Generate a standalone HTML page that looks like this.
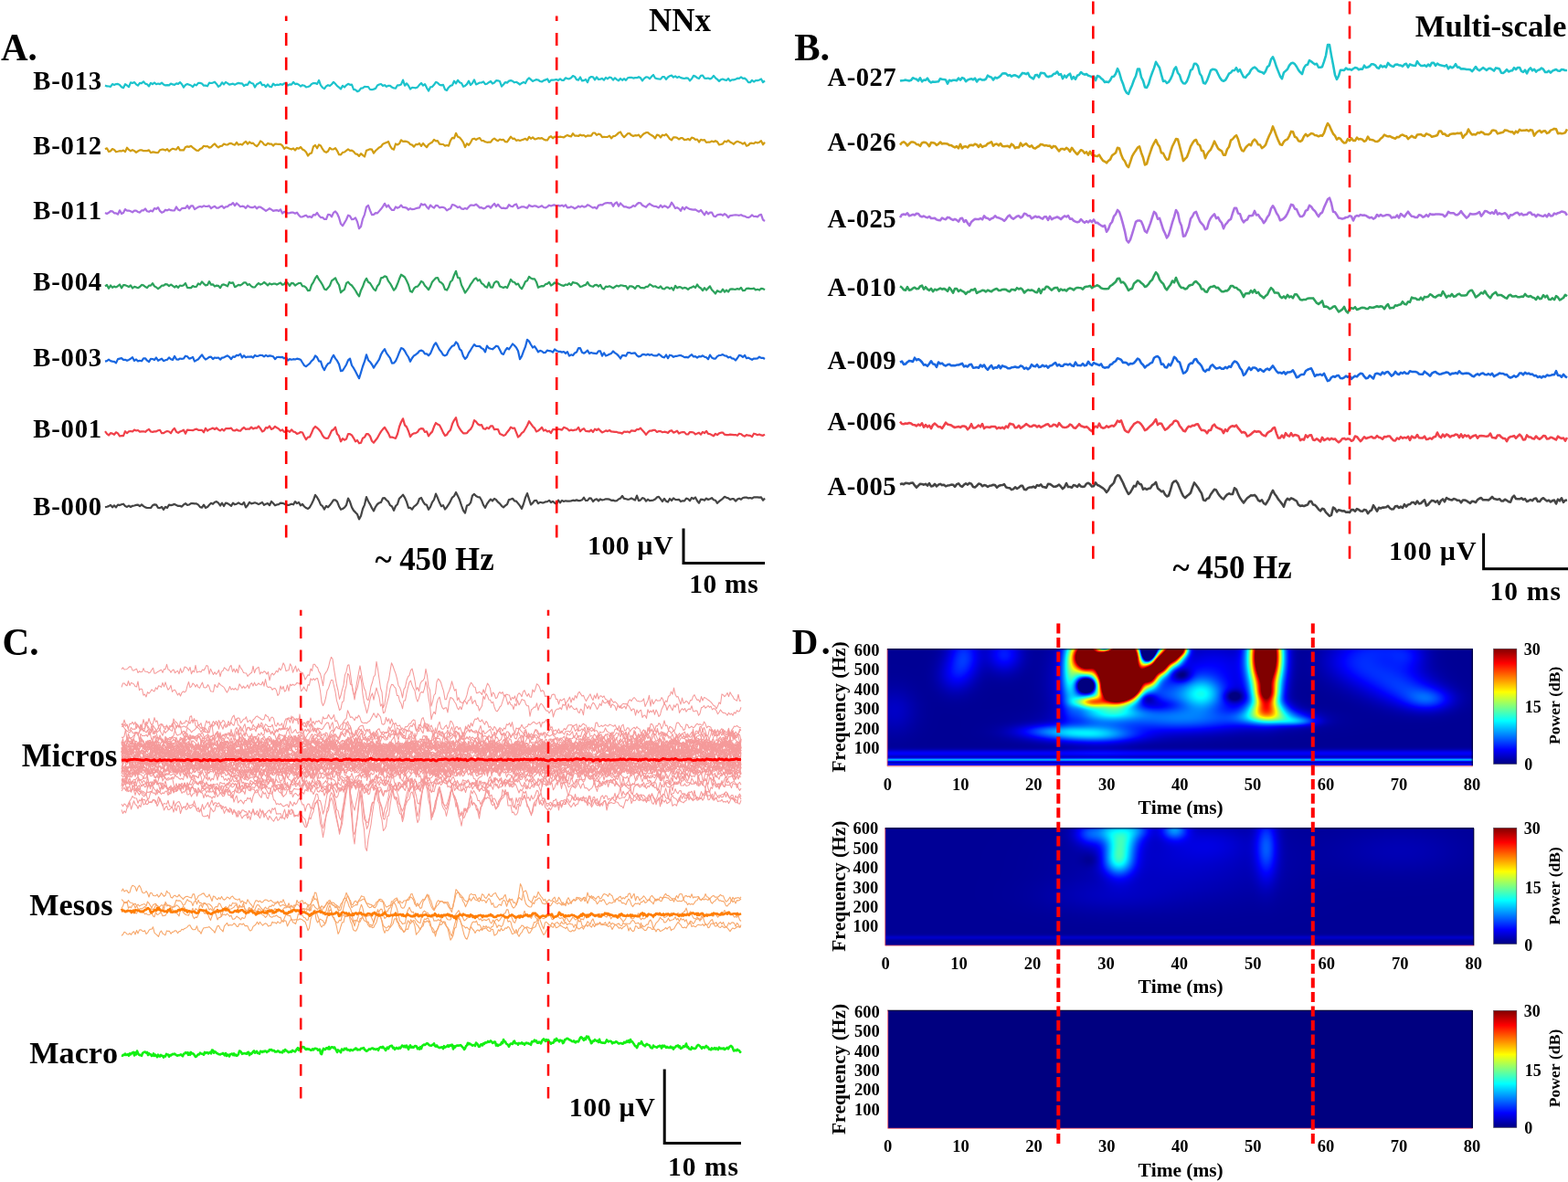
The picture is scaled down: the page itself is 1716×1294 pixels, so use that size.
<!DOCTYPE html>
<html><head><meta charset="utf-8"><title>Figure</title>
<style>
html,body{margin:0;padding:0;background:#fff;}
body{width:1716px;height:1294px;position:relative;overflow:hidden;}
canvas{position:absolute;background:#00008a;z-index:0;}
svg{position:absolute;left:0;top:0;z-index:1;}
svg text{font-family:'Liberation Serif','Times New Roman',serif;font-weight:bold;fill:#000;font-kerning:none;}
</style></head><body>
<canvas id="s0" width="641" height="128" style="left:970.9px;top:710.3px;width:640.8px;height:128.2px"></canvas>
<canvas id="s1" width="645" height="128" style="left:968.5px;top:906.4px;width:644.9px;height:128.4px"></canvas>
<canvas id="s2" width="640" height="129" style="left:971.5px;top:1105.7px;width:640.2px;height:129.3px"></canvas>
<svg width="1716" height="1294" viewBox="0 0 1716 1294">
<path d="M115 93.6l2 .8 2 .1 2 .4 2-2.8 2 .8 2-.8 2-.2 2 1.1 2 2.2 2 1 2-4 2 1.3 2 1.7 2-4.9 2 .7 2-.9 2 2.2 2 1.3 2-2.8 2 .3 2-1.8 2 2.3 2 .7 2 2.1 2-3.6 2 1.4 2-1.7 2 1.7 2-.7 2 .6 2-1.5 2 1.9 2 .9 2-.3 2 .3 2-1.9 2 .9 2 .4 2-1.4 2 .5 2-1.8 2 2.2 2 3.3 2-2.7 2-1 2 .8 2 .8 2 1.6 2-2.7 2 1 2-2.5 2 0 2 .6 2 2.2 2-.1 2 .7 2-3.6 2 .3 2-.4 2-.9 2 2.2 2 2.9 2-1.2 2-3.3 2 2.1 2-2.5 2 1.2 2 1.5 2-.5 2-.4 2 1 2-1.1 2-.7 2 .4 2 0 2 2.7 2-1.4 2 .2 2-3.4 2 1.6 2 .5 2 4 2-3.3 2-.9 2-1.4 2 3.4 2-.5 2 2.4 2-2.8 2 2.3 2 .5 2-3.6 2 1.8 2-.7 2 .3 2-.9 2 .7 2-1.5 2-.2 2 2.4 2-1.1 2 .2 2-2.8 2 2.3 2-.5 2 1.1 2 1.8 2-1.3 2 .5 2 1.6 2-.3 2-.8 2-2.2 2-.9 2 0 2 .8 2-3.9 2 5.4 2 2.4 2 1.3 2-2.7 2-1.2 2 .8 2-1.8 2-2.4 2 2 2 2.3 2 1.5 2 1.8 2-3.6 2 1.7 2-2.2 2-1.5 2 1 2-.1 2 5.2 2 .4 2 1.8 2-.7 2-2.8 2-.2 2-1.5 2 .1 2 .1 2 2.9 2 .2 2-.6 2-.7 2-3.4 2-1 2-.5 2 1.9 2-.7 2 1.7 2-1.1 2 .1 2 1.7 2 .9 2 .1 2-3.3 2 0 2-.9 2-4.8 2 6.1 2-2.4 2 2.5 2 3.7 2-1.7 2 .2 2 .3 2-.9 2-2.5 2-1.9 2 2.7 2-1.6 2 4 2 3.4 2-4.1 2-.4 2-2.2 2-3 2 .9 2 2 2 .7 2-.5 2 5 2 1 2-3.2 2-1.8 2-.6 2-4.6 2 2.7 2-3.6 2 2.5 2 .7 2 3.8 2-.9 2-1.8 2-3.5 2 4.4 2-2 2-3.6 2 5 2-.9 2-1 2 0 2-1.1 2 2.8 2-.5 2-1.5 2-1.2 2 2.5 2-1 2-2.3 2 .1 2 .8 2 5.5 2-2.1 2-2.5 2 .6 2-2 2-.5 2 .7 2 1.5 2-.5 2 1.2 2 1.5 2-1.6 2-1 2 1.2 2-3.9 2-1.8 2 1.7 2 1.9 2-1.1 2-.8 2 .4 2 1.5 2 .5 2-1.4 2-.7 2-1 2 3.5 2-2.2 2-.1 2-.2 2-.4 2 .9 2-1.5 2 1.5 2-.1 2-2.5 2 .8 2 .2 2-1 2-2.2 2 .8 2 3.2 2 .5 2-3.1 2 4 2-.4 2-1.2 2 3.3 2-5 2-1.2 2 .3 2 3 2-3 2 2.7 2-.4 2-.7 2 1.8 2-2.8 2 1.4 2-1.8 2 .6 2 2.5 2-2.3 2 1.8 2 1.2 2-2.3 2 1.8 2-1.6 2 1.7 2-2.6 2-.5 2 0 2 .8 2-.5 2 .1 2-1 2 1.1 2 3.1 2-2.5 2-1.6 2 .2 2 1.8 2-2.4 2-1.9 2 3.5 2 .6 2 .4 2 .1 2-2.5 2 .1 2 2.7 2-2.4 2-1.3 2-.7 2 2.2 2-1.3 2 1.5 2-1 2 1.3 2 .4 2 .4 2-.6 2 .2 2 2.7 2-2.1 2-3.3 2 .7 2 1.6 2 .8 2-3.1 2-.4 2 3.2 2 .2 2-.4 2 .9 2-1 2-2.5 2 2.4 2 1.6 2 2 2-1.8 2-.6 2 .9 2 .6 2-2 2 2.7 2-1.3 2 0 2-.7 2-1 2 .1 2-1.4 2 1.5 2-.2 2 1.7 2 2.7 2 .1 2-2.4 2 1.7 2-1.3 2 0 2-.8 2-.9 2 3.6 2-1.7" stroke="#1cc3cc" stroke-width="2.2" fill="none" stroke-linejoin="round"/>
<text x="111.2" y="98.2" font-size="28.7" text-anchor="end" textLength="75" lengthAdjust="spacing">B-013</text>
<path d="M115 163.3l2-1 2 3.7 2-.6 2-2.4 2 .9 2 2.4 2-.5 2-.6 2 .3 2-.9 2 1.5 2-4.4 2 2.2 2 1.4 2-1.2 2 1.1 2 1.7 2-1.4 2-1.1 2-.1 2 .9 2-.1 2 0 2-.7 2 2.8 2-.8 2 .3 2 .4 2 0 2-2.8 2-.6 2 0 2 .9 2-1.5 2 2.6 2-1.8 2-1.1 2 .5 2 .3 2-2.7 2 3.6 2-.2 2 .1 2-3.4 2-.6 2 .4 2-1 2 1.8 2 1.5 2 1.6 2 .3 2-1.9 2-.9 2-2.4 2 .5 2-.3 2 1.6 2-.5 2-2.2 2-1.5 2 2.4 2 1.6 2-1.4 2-.3 2-2.1 2 .7 2 .2 2-1.3 2-.3 2 1.1 2 .7 2-2.7 2 2.6 2-.8 2 .8 2-2.2 2-1.5 2 2.8 2-2.2 2 1.3 2-.2 2 2.3 2 1.3 2-2.1 2-3.7 2 1.2 2 2.6 2 .8 2-2.1 2 .7 2-.1 2 2.1 2-2.1 2 .2 2 .1 2 0 2 1.6 2 3.4 2-1.5 2 .6 2 .9 2 .7 2-1.1 2 2.1 2-2.5 2 .7 2-1.7 2 2.5 2 1 2 2 2 4 2-2.3 2-.7 2-7.2 2-1.3 2 3.3 2-3.8 2 1 2 3.7 2 2.6 2 1.1 2-1.4 2-3.6 2 1.6 2-.1 2-1.2 2 2.9 2 4.1 2 .2 2-2.6 2-.3 2-1.6 2-1.5 2 1.4 2-.1 2 1.3 2 2.4 2 .5 2 2 2-2.8 2 1.8 2 1.6 2-6.8 2-.6 2-.8 2 .4 2 4 2-2.7 2-1.8 2-1.8 2-.9 2-2.8 2-.9 2-.9 2-.9 2 4.9 2 2.9 2 .9 2-6.2 2 1 2-1.3 2-3.9 2 1.5 2-.1 2 .2 2 .9 2 2.2 2 .6 2 2 2-2.4 2 0 2-1.2 2 2.9 2-2.9 2 2.2 2 2.1 2-3.2 2-1.3 2-1.1 2-2.8 2 1.5 2-.2 2 3.4 2 .3 2 .1 2 1.6 2-.6 2 .6 2-5.8 2-2.9 2 .5 2-5.6 2 4 2 .7 2 2.4 2 2.9 2 5.3 2-3.9 2 1.6 2-2.7 2-3.9 2-.5 2 1.3 2-1.3 2-.7 2 3 2 0 2 1.3 2 .5 2-.1 2 0 2-2.8 2-1.3 2 1.6 2 1.1 2-1.8 2 .7 2-.3 2 2.3 2 .1 2-2.8 2-2.9 2 2.3 2-.3 2 2.3 2-.6 2 .7 2-.7 2-.7 2-.8 2 1.6 2-3.6 2 2 2-1.4 2 1.9 2-.2 2-.9 2 .4 2-.4 2 1.4 2 .8 2 .1 2-3.2 2-1.1 2 2.1 2-1.7 2 .4 2 0 2-.3 2 .3 2 .4 2-1.4 2-1.1 2 1 2 .5 2-3.3 2 2.5 2-.1 2 .5 2-1.5 2 .9 2-.4 2 1.6 2-1.3 2 .4 2-.1 2-3.1 2 0 2 2.4 2-1.3 2 .6 2 3 2-.3 2 .1 2-.1 2-1.3 2 2.8 2-2.2 2-.3 2-1.5 2-2 2-1 2 3.7 2 2.1 2-2 2-2 2-.1 2 2 2 1 2-.9 2 .2 2-.8 2 2.8 2-2.5 2-1.7 2-1 2-.2 2 1.9 2 1.1 2 1.2 2 2.2 2-3.8 2 .5 2 2.4 2-2.8 2 .6 2-1.3 2 2.3 2 2.8 2 1.2 2-2.9 2-.1 2 .6 2 1.6 2-1.3 2 0 2 1.9 2-.2 2-.9 2 1.4 2-2.8 2 .6 2 1.6 2-.3 2 3 2-2.6 2 .6 2-.4 2 2.9 2-.5 2 .1 2-1.1 2 .8 2-1.1 2 1.1 2 3.1 2-.4 2-.6 2-2.9 2 .8 2-1.6 2 1.7 2 1 2 1.4 2-2 2-1 2 .8 2 .7 2 1.4 2-1.5 2 3.5 2-.8 2-2 2-.2 2 .5 2-1.5 2 .8 2-.8 2-1.6 2 4.2 2-2.5" stroke="#d19d12" stroke-width="2.2" fill="none" stroke-linejoin="round"/>
<text x="111.2" y="169" font-size="28.7" text-anchor="end" textLength="75" lengthAdjust="spacing">B-012</text>
<path d="M115 233l2 1 2-1.2 2-1.6 2 .1 2 2 2 0 2 1.4 2-4.4 2 3.6 2-.9 2-3.9 2 1.5 2-.1 2 .7 2 1.2 2-1.7 2 0 2 1.3 2 .6 2-2.2 2 0 2-1.9 2 2.8 2 .5 2-1.3 2 .9 2-3.3 2 .7 2-1.7 2 3.8 2 1.9 2-.8 2-2.3 2 .7 2-1.1 2 .9 2 .3 2-.2 2-3.8 2 3.1 2 .8 2-2.3 2-.3 2 .1 2-2.8 2 3.2 2-3 2 0 2 3.8 2-1.2 2-1.3 2-.6 2 .6 2-1.3 2 .7 2-.1 2-.6 2 2.8 2-1.4 2-.9 2 1.9 2 0 2-1.4 2-.9 2 2.5 2-1.6 2-.2 2-1.7 2-.5 2-1.8 2 3.1 2-2.7 2 1.8 2 2 2-.6 2 .4 2 1.7 2-2.7 2 1.4 2 .6 2 0 2-1.2 2 2.5 2-1.9 2 .2 2 1.3 2 1.4 2 1.5 2-1.3 2-1.4 2 1.2 2 1.5 2-.5 2-.3 2 1 2-1.8 2 4.3 2-1.8 2 1.1 2 .5 2-.3 2-.4 2 0 2 1 2-1 2 2.8 2 2 2-.2 2-.9 2-.7 2 1.9 2-.5 2 .9 2-2.8 2 .3 2-2.6 2 3.1 2 2.1 2-.1 2 1.9 2 .1 2-5.2 2 .2 2 2.3 2-4.4 2-1.4 2 2.3 2 4.5 2 6.8 2 2.1 2-3.3 2-3.4 2-4.8 2 .9 2 3.5 2-.3 2-1.4 2 4.3 2 7.5 2-2.1 2-8.5 2-4.8 2-8.2 2-1.8 2 5.5 2 4.9 2-.3 2-1.7 2 .2 2-2.3 2-2.3 2-2.7 2-3.3 2 3.8 2-2 2 3.2 2 2.2 2 0 2-3.5 2 1.2 2-1 2-2.1 2 2.4 2 .1 2 .5 2 2 2-1.4 2 1 2-.2 2-.8 2-.6 2-.3 2-4.1 2 1.3 2-.9 2 2.8 2 2.2 2-4 2 1.8 2 1.2 2-2.8 2 .3 2 2.3 2-.5 2 0 2 .9 2 2.6 2-1.3 2-.8 2-4.3 2 .5 2 1.1 2 1.6 2-.9 2 2.1 2 .6 2-1.1 2 .9 2-2.2 2-2.1 2 .2 2 .1 2-1.1 2 1.7 2 2 2-.2 2 1.2 2-.7 2-1.8 2-.3 2 2 2-2.6 2-2.1 2 3.2 2-2.3 2 2.4 2 1.8 2-.4 2 .6 2-.6 2-3.5 2 1.6 2 .5 2-2 2-.8 2 4.7 2-.8 2-1 2 0 2 .8 2 .5 2-3.1 2 1.2 2 .4 2-.8 2 .4 2 1.2 2-.7 2-1 2 1.8 2 .5 2-1.1 2-1.7 2 .8 2-.8 2-.3 2 1.2 2-.7 2 .7 2-.9 2 1.3 2-1.7 2 3 2-.1 2-1 2 .8 2 1.3 2-1 2-1.6 2 1 2-1.3 2 1.2 2-.4 2-2 2 .9 2 1.3 2 1.2 2-.8 2 1.6 2-3.5 2-.7 2 .3 2-1.4 2-.8 2-.3 2 .4 2-.3 2 3.7 2-3.1 2-1.2 2 4.2 2-3.2 2 2 2 1.9 2-.1 2 .9 2 .4 2-.9 2-1.6 2 .8 2-2.4 2-1.5 2 .3 2 2.4 2 1.1 2 1 2-2.4 2-1.4 2 1.6 2 1 2 .2 2 .6 2 1 2-2.7 2 2.3 2-1.6 2 .7 2 1.4 2-1.7 2-4.1 2 2.9 2 3.4 2-.8 2 1.2 2 2.4 2-4 2 2.6 2-2.7 2 1.4 2 .8 2 .4 2 .4 2-.4 2 1.4 2 1.1 2-1.8 2 2.7 2 2.6 2-3.6 2 2.6 2-1.6 2-.2 2 3.9 2 .8 2-1.9 2-.4 2-.3 2 1.2 2-1.6 2 1.3 2 2.6 2-2 2-.3 2-.3 2-.2 2 .2 2 .3 2-.6 2 1.1 2 .3 2 1.1 2 .5 2-.9 2-1.9 2 1.6 2-.1 2 .5 2-1.9 2-.7 2 5.8 2 1.4" stroke="#ab6fe2" stroke-width="2.2" fill="none" stroke-linejoin="round"/>
<text x="111.2" y="240" font-size="28.7" text-anchor="end" textLength="75" lengthAdjust="spacing">B-011</text>
<path d="M115 313.3l2-1.4 2 3.8 2-3.2 2 2.3 2-1.3 2 .9 2-1.2 2-1.7 2 3.8 2-3.2 2 .1 2 .8 2 1.1 2-1.7 2 3.1 2-1.6 2 .5 2 .8 2-1.2 2-2.1 2 .4 2 1.7 2 1.1 2-2.5 2 .1 2-2.6 2 3.3 2 1.1 2 1.6 2-1.5 2-1.9 2 0 2-1.6 2 .3 2 1.7 2-1.6 2 1.3 2 1.7 2-1.5 2 1.9 2-2.4 2 .5 2-.7 2-2.2 2 4.8 2 .3 2-.1 2-2 2 .9 2-.2 2-3.4 2 1.1 2-3.1 2 2.2 2 1.7 2-.4 2-3.8 2 3.6 2-.4 2 2.3 2-1 2 .2 2 2.4 2-3.3 2-.5 2 .9 2 1.1 2-4.4 2 .9 2-.6 2 4.9 2-1 2-1.3 2 .5 2-1.3 2-1.8 2 0 2 2.8 2-1 2 2.3 2 1.1 2-.1 2-2.5 2-1.9 2 1.6 2-.8 2-1.8 2 1.5 2 1.9 2-2.1 2 1.1 2-.7 2-.2 2 1.1 2-1 2-1 2 2.2 2-.7 2-2.7 2 1.7 2 2.7 2-3 2 .4 2 2.3 2-1.4 2-1.1 2-.2 2 3.4 2 .2 2 1.5 2 3.2 2-.1 2-6.2 2-3 2-4.2 2-2.6 2 3.9 2 2.7 2 3.4 2 4.4 2 .9 2-2.2 2-2.5 2-5.2 2-1.5 2-1.6 2 4.6 2 3.1 2 8.3 2-2 2-1.5 2-6.6 2-1.5 2 2.4 2 1.4 2 2.6 2 2.9 2 3.6 2 2.7 2-6.4 2-4.1 2-5.6 2-3.4 2 4 2 1.2 2 3.3 2 3.2 2 1.6 2-4.9 2-2.4 2-6.4 2-.5 2-1.5 2 .7 2 4.6 2 2.6 2 3.6 2 3.8 2-2.2 2-4.7 2-5.5 2-4.6 2 1.3 2 1.5 2 3.8 2 4.4 2 7.1 2 1 2-3.9 2-1.9 2-.4 2-2.3 2-3.4 2 1.3 2 3.6 2 1.9 2 2.5 2-3.6 2-4.9 2-2.3 2-2.1 2-.3 2 4.4 2 1.1 2 2.1 2 5.2 2 .8 2-3.4 2-5.7 2-1.8 2-5.5 2-4.4 2 7.2 2 .3 2 7.7 2 4 2 4.6 2-2.7 2-2.9 2-3.6 2-2.8 2-2.9 2-1.4 2 3 2-1.1 2 3.9 2 1.3 2 2.4 2 .9 2-5.2 2 5.2 2 0 2-5.1 2-1.5 2 .7 2 4.7 2 .7 2 .8 2-1.1 2 1.3 2-4.4 2-4.9 2 2.6 2 .5 2 2.5 2-.9 2 3.7 2 1.9 2-3.5 2-4.4 2-1 2-4.4 2 1.7 2 .8 2-.1 2 3.4 2 6.1 2-1 2-.7 2 .3 2-2.3 2-.5 2-1.7 2 3.6 2-1.1 2-2 2 1.4 2-.5 2 1.3 2 .8 2 .5 2-1.4 2 .4 2-1.7 2 1.9 2-3.2 2 .8 2 .3 2 1.5 2 2.5 2-.5 2-1.1 2-.5 2-3 2 3.4 2 1 2 .5 2-1.6 2-.4 2 1.8 2-1.8 2 3.7 2 1 2-2.9 2 .4 2-.8 2 1 2 1.2 2-1.4 2-1.3 2 .9 2-1.3 2 .2 2 .6 2-.1 2 3.5 2-3.1 2 0 2 .7 2 1.9 2-2.9 2-.1 2 2.1 2 0 2 .3 2-1.5 2 0 2-2.6 2 1.1 2 1.4 2-.5 2 1.2 2 .7 2-1.8 2 2.6 2 .5 2-1.8 2-.1 2 1.5 2-1.2 2 2.8 2-4.9 2 2.5 2-1.1 2 .2 2 1.4 2-.9 2 .4 2 1.6 2-1.7 2-.6 2-1.3 2 1.7 2-3.5 2 2.8 2 1.2 2 2.6 2-3 2 2.5 2-2.2 2-2 2 3.9 2 2 2 2.2 2-3.4 2 1.2 2 .3 2-2.9 2 2.9 2-2 2 1.9 2-2.8 2-.4 2 .4 2 .1 2-.7 2 .6 2-1.8 2 3.2 2-.2 2-2.1 2-.2 2 .5 2 .1 2-.6 2 1.8 2-.6 2 .8 2-1.8 2 .3 2 1.1" stroke="#2ca25c" stroke-width="2.2" fill="none" stroke-linejoin="round"/>
<text x="111.2" y="317.6" font-size="28.7" text-anchor="end" textLength="75" lengthAdjust="spacing">B-004</text>
<path d="M115 395.6l2-.5 2-1.4 2 1.4 2 .5 2 .3 2 1.5 2-4.3 2-.5 2-.5 2 1.8 2-.1 2 1 2-.9 2-1.2 2-1.5 2 3.7 2-1.4 2 1.9 2-.6 2 .5 2-3 2 0 2 2.4 2 1.4 2-3.2 2 .1 2 1 2-2.5 2 3.3 2-1.1 2-1.1 2 2.6 2-.9 2-.6 2-2.3 2 1.8 2 .7 2-4 2 3.4 2 .4 2-1.2 2 .3 2-.3 2-2.8 2 .6 2 2.3 2-.5 2-1.2 2 4.7 2-1.2 2-1.2 2-2.4 2-2.4 2 3 2 2.1 2-1.1 2-1.6 2-.1 2 2.3 2-1.5 2 .3 2-.3 2 2.1 2-2 2-.3 2-1 2-1 2 1.5 2 2.4 2-2.8 2 .4 2-2 2 .4 2-1.7 2 3.9 2-2.2 2 2.1 2-.8 2 .1 2-.3 2 1.2 2-2.5 2 1 2-.4 2-.8 2 .2 2 1.4 2-1.6 2 1.3 2-.7 2 .3 2 .6 2 2.9 2-2.2 2-.1 2 .2 2-.3 2 1.6 2-1.3 2 3.4 2-1.4 2 .6 2-.5 2 .3 2-.8 2 .4 2 .6 2 3.3 2 3.1 2 1.1 2-1.7 2-1.6 2-2.7 2-1.8 2-4 2 1.7 2 4.2 2 .4 2 6.1 2 3.3 2-4.2 2-2.8 2-.8 2-5 2-3.5 2 3.6 2 2.5 2 3.9 2 7.4 2-.6 2-3.1 2-3.3 2-4.8 2-1.8 2 7.4 2 2.9 2 3.7 2 3.8 2 3.8 2-6.5 2-6.7 2-5.3 2-7.4 2 5.9 2 2 2 2.8 2 3.6 2-3.3 2-2.8 2-3.1 2-5.4 2-3.4 2-2.4 2 4.4 2 2.7 2 2.8 2 5.6 2-.2 2-2.2 2-4.4 2-5.2 2-4.6 2 .6 2 2.5 2 3.8 2 3 2 4.8 2-3.8 2-2.6 2-1.2 2-1.5 2-2.4 2-.7 2 .8 2 2.9 2 .1 2 1.9 2-2.2 2-4.8 2-4.6 2-2.4 2 3.7 2 3.9 2 2.4 2 3.3 2 .8 2-1.1 2-4.4 2-2.8 2-2.4 2-.6 2-3.6 2 2.1 2 5.6 2 1.7 2 6 2 3 2-2 2-4.5 2-3.1 2-3.3 2-2.9 2 1.7 2 .2 2 .1 2 2 2 1.1 2 3.2 2-6.8 2 2.5 2 .7 2 .5 2-1.7 2-1.9 2 .6 2 3.8 2 3.9 2 .9 2-4.3 2-2.6 2 1.4 2-2.9 2-3 2 1.8 2 2.1 2 3.8 2 9 2-3.2 2-5.7 2-4.8 2-7.6 2 1.7 2 3.6 2 3.3 2-1.3 2 2.8 2 3.4 2-1.5 2 .6 2 1.7 2-.4 2-2.2 2 .6 2 .2 2 1.3 2-3.2 2 1.5 2 .8 2 .1 2 .7 2-.6 2 1.9 2-1.7 2 4.4 2-1.3 2 .8 2-2.6 2-1 2-4.3 2 0 2 4.5 2 1 2-1.2 2-1.9 2 3.4 2-1 2 .7 2 .2 2 .2 2-2.8 2 .1 2 5.2 2-3.3 2 3.2 2-.8 2-1 2-.8 2-2.4 2 1.9 2 1.2 2 2 2 2.9 2-3.4 2 0 2 .6 2-3.7 2 .1 2 .9 2-.4 2-.2 2 2.7 2 1.4 2-.6 2-1.7 2-.3 2 .8 2-1 2 1.1 2-.8 2 1.1 2 .2 2 0 2-1.6 2 1.4 2 1.7 2 .6 2-2.9 2 3.7 2-3.5 2 .5 2 1.6 2-.9 2-.1 2-.6 2-.2 2 .9 2 1.2 2-.2 2 .6 2-1.9 2-1.5 2 2.4 2-.3 2 1.5 2-1.5 2 .3 2-1.2 2 1.4 2 .6 2 2 2-4.7 2 2.9 2 1.1 2 .1 2-2.6 2-1.1 2-.2 2-.7 2 1.3 2 .2 2 1.8 2-.7 2 1.6 2 .4 2 1.8 2-2.5 2-3.1 2 .4 2 1.7 2-2.1 2 3.3 2-.6 2 1.2 2 1 2-1.3 2 .1 2-.3 2-1.6 2 1.2 2-.1 2 1.2" stroke="#1866e0" stroke-width="2.2" fill="none" stroke-linejoin="round"/>
<text x="111.2" y="401" font-size="28.7" text-anchor="end" textLength="75" lengthAdjust="spacing">B-003</text>
<path d="M115 472.2l2 2.6 2 1.7 2-2.4 2 .5 2 1.2 2-2.5 2 1.1 2 3.1 2-.3 2-.1 2-4.9 2 2 2-1.9 2-.3 2 .5 2-1.9 2 .9 2-.5 2 1.7 2-.4 2 0 2 .5 2-1.7 2-1.2 2 2.6 2 .3 2-.4 2-.1 2-1 2-.5 2 3.4 2 0 2-1.4 2-.8 2 .5 2 1.8 2-3.5 2-1.9 2 3.9 2 1.1 2-1.4 2-.7 2-1.1 2 4 2-4.1 2 .2 2 .2 2 .2 2-1 2-.6 2 1.2 2 0 2 .1 2 2.4 2-4.5 2 2.9 2-1.5 2-.8 2-.8 2 1.4 2-1.5 2 1.9 2 1.1 2-1.8 2 1.8 2-2.3 2 0 2-.1 2-.4 2 2.4 2 .4 2-1.2 2 1.2 2 .2 2-2.2 2-1.5 2 1.9 2-.4 2 .1 2-2 2 1.8 2-1 2 .3 2-2.1 2 2.6 2 3.2 2-.9 2-3.4 2 .5 2-2.1 2 3.4 2-.8 2-2.3 2 1.5 2 1.1 2 2.2 2-1.1 2 2.4 2-.6 2-.9 2 1.5 2-2.6 2 2.2 2 .6 2 1.8 2-.7 2-1.2 2 .5 2 4.2 2 3.5 2-2.6 2-.3 2-4.3 2-4.8 2-2.2 2 1.4 2 1.8 2 2.5 2 4.1 2 2.5 2 .6 2-.2 2-3.8 2-4.4 2-1.2 2-2.6 2 7.4 2 2.2 2 6 2-3.2 2 1.6 2-1.1 2-5.6 2 .2 2 1.2 2 3.2 2 3.7 2-1.3 2 3.3 2-.5 2-5.1 2-1.1 2-3.5 2 .1 2 2.3 2 5.3 2 1.9 2-2.7 2-2.5 2-3.8 2-3.3 2-2.5 2-2 2 3.2 2 3.3 2 4.3 2-.2 2 .8 2 .6 2-4.7 2-8 2-5.2 2-3.7 2 7.1 2 2 2 4.6 2 6.1 2-2.6 2-1.1 2-.3 2-1.3 2-2.9 2-.8 2 .3 2 3.6 2-.7 2 5.1 2-2.8 2-2 2-5.5 2-4.1 2 1.6 2 .9 2 3.8 2 4.3 2 3.3 2-1 2-3.2 2-1.9 2-6.7 2-4 2-2.9 2 8.3 2 3.7 2 2.9 2 2.2 2 0 2-.1 2-2.7 2-1.6 2-3.4 2-6.4 2 1.5 2 2.7 2 1.2 2-.4 2 4.1 2 .6 2-1.7 2 1.1 2-2.8 2-.1 2 3.9 2-.3 2 .1 2 4.9 2 .8 2 1.2 2-.8 2-2.9 2-2.4 2-3.2 2 1.3 2-.4 2 4.9 2 5.1 2-1.7 2-2.7 2-1.4 2-3.4 2-3.6 2-4.5 2 2.7 2 2.8 2 1.9 2 3.8 2-.8 2-1.7 2-2.1 2 3.8 2-1 2 1.9 2-.8 2 2.4 2-3.9 2-.1 2 .4 2-.8 2 .4 2 .5 2-2.7 2 .6 2 .9 2 2.1 2-.9 2 .7 2-.7 2-.2 2-2.6 2 4.5 2-2 2-1.2 2 2.7 2 .3 2 .3 2-1.7 2 2.3 2-3.3 2 1.3 2-1.5 2 2.1 2 1.8 2-.8 2-1.2 2 .7 2-1.1 2 1.5 2 .1 2 .3 2 0 2 .8 2 .2 2 .7 2-2.1 2 .4 2-.4 2 .9 2-2.1 2 .3 2 .3 2-1.9 2 .2 2-1.5 2 2.4 2 2.1 2 2.7 2-2.5 2-1.7 2-.1 2-.7 2 0 2 2.1 2-.9 2 0 2 1.1 2-.5 2 .4 2 .8 2-2 2-.7 2 2.4 2-.7 2-1.2 2 2.8 2-1 2-.5 2 .1 2 2.3 2 .1 2-2.5 2 .2 2 .3 2 1.9 2-.8 2-.9 2 2 2-2.8 2 1.3 2-2.3 2 3 2 .2 2 1.1 2 1.1 2-2.5 2 1.3 2-1.7 2-.7 2-.2 2 2.2 2 .4 2 .1 2-.6 2 .2 2 .3 2-.1 2 .8 2-2.1 2 .5 2 1.6 2 .9 2-1.6 2 .6 2 .1 2 1.4 2-3.5 2 .6 2 .9 2-.7 2 .9 2 .4 2-1.2" stroke="#f0414a" stroke-width="2.2" fill="none" stroke-linejoin="round"/>
<text x="111.2" y="479" font-size="28.7" text-anchor="end" textLength="75" lengthAdjust="spacing">B-001</text>
<path d="M115 555.2l2-.5 2-.6 2-1.2 2 2.5 2-2.1 2 2.1 2-2.9 2 .6 2-.8 2-.6 2 2.3 2 .9 2-1.3 2 1.4 2-1.2 2-.3 2-.6 2-.3 2 1.6 2-1.8 2 1.7 2 1.3 2 .6 2 0 2 0 2-2.7 2-1 2 .4 2 3.1 2 .3 2-1.1 2 2.8 2-2.9 2 1 2-3.2 2 .4 2-.5 2-.7 2 1 2 1 2 0 2 .7 2-2.2 2-1.2 2 1.6 2-.3 2-1.3 2 0 2 .2 2-.1 2 1.3 2 2.5 2 .5 2-3 2 3.3 2-.8 2-2.4 2-1.9 2 1 2-2 2-.7 2 1.5 2 2.9 2-2.8 2 3.3 2-3.4 2 .5 2 1.3 2 1.4 2-3.1 2 1.6 2-.6 2-1.3 2 1.3 2 .6 2-2.3 2 5.4 2-2.1 2-3.5 2 1.5 2-.4 2-.6 2 .7 2 1.1 2-1.1 2-1 2 2.9 2-1.1 2-.8 2 2.2 2-4.3 2 2.2 2 2.2 2-.9 2-.2 2-1.5 2 .1 2 .8 2 .8 2 .6 2-.4 2-.9 2 .6 2-3.2 2 2 2-1.1 2 3.4 2-1.4 2 2.5 2 1.6 2 .9 2-1.7 2-3.6 2-4.1 2-5.7 2 2.6 2 3.4 2 4.8 2 1.5 2 3.4 2-3.7 2 1.4 2-2.2 2-2.7 2-3.1 2 .1 2 1.7 2 5.1 2 3.6 2-.8 2-1.3 2-2.7 2-7.4 2 3.7 2 6.1 2 3.5 2 2 2 2.1 2 5.4 2-3.6 2-7.8 2-4.4 2-8.5 2 4.7 2 3.3 2 4.1 2 3.2 2-4.6 2-2.8 2-1.5 2-.6 2-4.6 2-.1 2 2.3 2 1.7 2 4 2 1.3 2 4.4 2-4.9 2-2.1 2-6.2 2-1.8 2-2.3 2 3.2 2 4.6 2 6.4 2 .1 2 1.8 2-3.1 2-1.4 2-2.1 2-5.2 2-.9 2 4.1 2 3 2 .7 2 5 2-2.9 2-5 2-2.9 2-6.4 2 4.5 2 5.2 2 3.9 2-1.1 2 4.5 2-2.4 2-3 2-3.6 2-4 2-1.6 2-4 2 3.9 2 4.4 2 6 2 5.5 2 2.8 2-8.1 2-.8 2-2.3 2-7.8 2-1.7 2 2.1 2 1.1 2 .2 2 3.4 2 5.2 2 2.9 2-4.2 2-2.8 2-2.2 2 1.8 2-2.5 2 1.3 2 2.5 2 1.7 2 2.4 2 1.6 2-1.9 2-1.4 2-5.1 2-.4 2-.8 2 2.5 2 .4 2 2.4 2 2.5 2 3.2 2-5.3 2-6.9 2-4.5 2 6.3 2 6.1 2-1.9 2-2.6 2-.1 2 3.3 2-1.4 2 .5 2 .1 2-1.1 2-.2 2-1.3 2 2.2 2-1.1 2 1.6 2 1.3 2-4.2 2 2.8 2-2.5 2 1.1 2-.7 2 .3 2 0 2-.2 2-.7 2 .4 2-.7 2 .7 2 0 2-.8 2-2.6 2 3.3 2-.1 2-2.5 2 .3 2 3.3 2-1.9 2-.8 2 2.1 2-2 2 1 2-.4 2-.7 2 .1 2 .3 2 1.1 2-.2 2 .9 2-.4 2-1.6 2-.9 2-2.8 2 3.1 2 .3 2 .6 2-.3 2-1.1 2 1.2 2 1 2-5 2 5.6 2-.8 2-2.3 2 .6 2 2.9 2-1.9 2 1.4 2-.3 2-.2 2-1 2-2.2 2-.6 2 2.6 2 2.6 2-3.1 2 2.8 2 .9 2-3.7 2 2.1 2-2.6 2 1.5 2 .3 2-.4 2 2.3 2-.8 2 0 2-2.7 2 .7 2 1.9 2-3.3 2 1.3 2-1.7 2 3.7 2 2.5 2-4.1 2 .2 2 1 2-2.2 2 1.4 2-.7 2-1.2 2 2.1 2 .6 2 3 2-1.9 2-1.6 2-1.5 2-2 2 1 2 .6 2 1.5 2-.7 2 0 2 2.4 2-2 2-.9 2 1.1 2-1.8 2-.3 2-.1 2 .8 2-.4 2 .7 2-1.4 2 0 2 0 2 .4 2-.3 2 3.3 2-2.2" stroke="#444444" stroke-width="2.2" fill="none" stroke-linejoin="round"/>
<text x="111.2" y="564" font-size="28.7" text-anchor="end" textLength="75" lengthAdjust="spacing">B-000</text>
<text x="1.0" y="66.4" font-size="41" text-anchor="start" transform="translate(1.0 66.4) scale(1 1.05) translate(-1.0 -66.4)">A.</text>
<text x="710" y="33.5" font-size="34.9" text-anchor="start">NNx</text>
<line x1="313.2" y1="17.4" x2="313.2" y2="588.6" stroke="#ff0000" stroke-width="2.6" stroke-dasharray="14 12.94" stroke-dashoffset="8.44"/>
<line x1="609.2" y1="17.4" x2="609.2" y2="588.6" stroke="#ff0000" stroke-width="2.6" stroke-dasharray="14 12.94" stroke-dashoffset="8.44"/>
<text x="410.4" y="624" font-size="34.8" text-anchor="start">~ 450 Hz</text>
<text x="643" y="607" font-size="29.9" text-anchor="start" textLength="93.5" lengthAdjust="spacing">100 µV</text>
<path d="M748 578.5V616.5H837" stroke="#000" stroke-width="3" fill="none"/>
<text x="754.2" y="649" font-size="29.4" text-anchor="start" textLength="75.5" lengthAdjust="spacing">10 ms</text>
<path d="M985 88.6l2-.4 2-.3 2-.4 2 .6 2 .4 2-.6 2-2.6 2 .8 2 .6 2 1.8 2-3.2 2 4 2-1.7 2 .2 2-2.2 2 3.4 2 1.4 2-1 2 .3 2-.3 2-.1 2-3.2 2 .7 2 .1 2 .6 2 4.1 2-3.9 2 .9 2-.8 2 0 2 .5 2-2.7 2 2 2-2.5 2 .8 2 3.3 2-1.6 2-.9 2-.5 2 1.1 2-1.6 2 3.8 2-2.6 2-.4 2 1.1 2-.1 2-1 2-3.8 2 1.3 2 .6 2 2.9 2-2.8 2 .9 2-1 2-1.6 2-2.5 2-.2 2 .3 2 2.1 2-.6 2 1.6 2-1.1 2-.3 2 1 2 1.3 2-2.2 2-2.5 2 .4 2 .8 2-1.3 2 4.2 2 1.1 2 1.3 2-4.2 2-.3 2 2.7 2-4.9 2 .3 2 .3 2 3 2 .9 2-.7 2-.3 2-2.1 2-.5 2-2.1 2 3.4 2-.8 2 5 2-3.6 2 2.3 2-2.8 2-1.3 2 5.8 2-2.4 2 2.6 2-4 2-.8 2-2.9 2 1.8 2 .9 2-.7 2 1.7 2 .7 2 .8 2-.6 2 4.5 2-5.1 2 .7 2 2 2 1.6 2 2.6 2-.4 2 .6 2-2.2 2-3.9 2-.3 2-3 2-5.6 2 4.4 2 7.2 2 5 2 6.4 2 3.6 2 1.1 2-5.2 2-4.4 2-5.7 2-4.3 2-7.6 2 0 2 8.9 2 3.9 2 7 2 .5 2-3.8 2-6.9 2-5.7 2-5.1 2-6.6 2 3.3 2 3.1 2 7.7 2 7 2-.4 2 2.5 2-1.3 2-3.1 2-4.4 2-6.3 2-2.5 2 6.4 2 2.5 2 6.3 2 2.7 2 .2 2-2.6 2-5.1 2-6.8 2-1.4 2-5.9 2 .1 2 2.6 2 8.1 2 2.9 2 7.3 2 .8 2-3.4 2-5.4 2-5.6 2-1.4 2 .3 2 .9 2 4.1 2 4 2 2.8 2 1 2-1.1 2-3.2 2-3.8 2-1.2 2-2.3 2-.1 2-2.9 2 4.2 2-2.2 2 4.3 2 3.8 2 .6 2-2.7 2-1.6 2-4 2-1.9 2-1.1 2 1.4 2 2.5 2 1 2 .6 2 1.5 2-2.5 2-4.8 2-1.6 2-6.6 2-2.8 2 4.8 2 6.2 2 5.1 2 5 2 2.8 2-6.8 2-1.8 2-1.8 2-4.2 2-2.3 2-.5 2 1.3 2 2.9 2 3.6 2 2.6 2 2 2-6.8 2-3 2-.6 2-4.7 2 1.2 2 1.7 2 1.4 2-.7 2 4 2 0 2-.5 2-5.8 2-6.6 2-11.7 2 0 2 11.5 2 10.5 2 11 2 4.8 2-3.8 2-6.4 2 0 2 .3 2-2.4 2 1.3 2-.2 2 .9 2-1.3 2-1.3 2 .4 2 1.8 2-.7 2 .2 2-4 2 2.4 2-.6 2-1 2-2.3 2 .1 2 1 2 2.7 2 .9 2-3.4 2 1.9 2-1.1 2 1.3 2-4.7 2 2.2 2 1.3 2 .6 2-2.3 2-.2 2 .9 2 .2 2 1.1 2-2.2 2-.8 2 4 2-3.3 2 .8 2 .5 2 .2 2-4.8 2 3 2 1.8 2 .2 2-.7 2 1.4 2-2.3 2 1.9 2-3.7 2 .1 2 3.1 2-2.4 2 1.6 2 .4 2 .4 2 .6 2-1.3 2 4.1 2-2.4 2 1.4 2-1.2 2-3 2 3.5 2 0 2 1.9 2-.3 2 .3 2 .4 2 .1 2 .3 2 1.8 2-2.3 2-2.8 2 3 2 1.1 2-1.3 2-1.7 2 1.4 2 1.4 2-1.8 2-.4 2 1.4 2 1.5 2-3.2 2 .4 2 .7 2 4.2 2 .2 2-1.5 2-2.3 2 2.4 2-.9 2-.3 2-3.1 2 2 2-2.3 2 0 2 4 2 1.1 2-2.3 2 3.6 2-3.9 2-2 2 2.9 2-1.5 2 2.8 2-1.7 2-.7 2-1.7 2 1.4 2 3.1 2 .1 2-1.5 2 2 2-1.9 2-1 2-.7 2 1.5 2 .2 2-1.6 2 .2 2 .8 2-.2" stroke="#1cc3cc" stroke-width="2.55" fill="none" stroke-linejoin="round"/>
<text x="980.6" y="94.4" font-size="28.7" text-anchor="end" textLength="75" lengthAdjust="spacing">A-027</text>
<path d="M985 158.6l2-2.4 2-.9 2 1.4 2 2.8 2-2 2-1.9 2-.1 2 .6 2 1.8 2 .3 2 1.7 2-3.5 2-.7 2 .2 2 1.7 2 2.5 2-4 2 .2 2 .5 2 2.1 2-1.2 2-2.2 2 2 2-.4 2 .1 2 .4 2 1.4 2 .1 2 1.3 2 1 2-1.3 2 2.2 2-4.5 2 4.6 2-1.9 2-.3 2 1.3 2-2.4 2-.4 2 .6 2-1.7 2 .8 2 2.6 2-2.8 2 2.8 2-1.2 2-.4 2-2.2 2-.8 2-1.1 2 4.4 2-1.8 2-.3 2 1.7 2-2.2 2 2.8 2 .4 2-.4 2-.2 2 1.5 2-3.5 2 1.4 2 3.1 2-1 2 .2 2-4.8 2 3.2 2-1.5 2-1.1 2 2.3 2 1.2 2-1.3 2 2.6 2 .6 2-1.6 2-1 2-2.1 2 .4 2 1.1 2-.3 2 .6 2-.1 2 2.4 2-2.1 2 .3 2 2.8 2 2.5 2-2.4 2-.2 2 .9 2-1.9 2 1.3 2 2.7 2-4.1 2 2.8 2 2.4 2 2.1 2-2.6 2-2.3 2 1 2 2.4 2-1.2 2 3.3 2-3.8 2 3.8 2 .3 2 .8 2 .3 2-1.6 2 3.6 2 2.7 2 1 2 1.5 2-2.3 2-1.4 2-4.3 2-1.5 2-1.6 2-5.5 2 .7 2 6.9 2 4.7 2 2.5 2 4.5 2 2.1 2-5.7 2-6.3 2-3.5 2-2.9 2-3.1 2-1.2 2 6.8 2 5.3 2 8 2-1.2 2-6.9 2-6.1 2-5.8 2-3.8 2-3.6 2 4.6 2 2.8 2 6.8 2 .5 2 4.2 2 2.9 2-.6 2-7.9 2-6.2 2-4 2-4.1 2 .5 2 7.5 2 7.8 2 8.2 2-2.2 2-2.1 2-5.3 2-6.1 2-3.6 2-2.8 2-1 2 4.9 2 1.1 2 5.8 2 .7 2 7.7 2-4.4 2-2.9 2-2.1 2-4.2 2-5 2 4.1 2 3.8 2 1.7 2 1.2 2 4.3 2 0 2-6.2 2-2.7 2-7.2 2-1.4 2-2.4 2-1.7 2 4.5 2 7.3 2 4.7 2 .9 2-3.6 2-2.3 2-1.7 2 1.3 2-4.6 2-2 2 2 2 3.7 2 .2 2 3.6 2-1.3 2-2.1 2-5.4 2-4.8 2-4 2-6.1 2 5.1 2 5.6 2 4.8 2 4.2 2 .7 2-3.7 2-1.8 2-.9 2-3.6 2-4.9 2 .4 2 5.5 2 .8 2 3.6 2 .7 2-1.3 2-4.3 2-2.5 2 2.3 2-1.5 2-1.5 2 .3 2 1.7 2 .2 2 1 2-1 2 .5 2-3.2 2-6.1 2-4.5 2 2.8 2 4.6 2 4.1 2 2.1 2 4.1 2-1.7 2 .9 2 2.8 2 1.8 2-.2 2-4.2 2 2.1 2-2.9 2 2.6 2 .1 2-3.3 2 1.9 2-.5 2 .7 2 2 2-1 2-4.2 2 3.2 2 .3 2 .4 2 1.3 2 .2 2-.9 2-2.4 2-1.5 2-2.7 2 1.3 2 .6 2-.3 2 1.1 2 .8 2 .7 2-1.8 2 .3 2-2.1 2-.6 2 1.2 2 .3 2 3.1 2-1.7 2-1.7 2 1.6 2 .6 2-3.4 2-.3 2-.1 2 1.5 2 .3 2-2.6 2 .9 2 .7 2 1.9 2-.5 2-.5 2-.8 2-4.5 2 0 2 3.2 2-.2 2 2 2 .3 2-1.8 2-.4 2-.4 2 .2 2-.6 2 .1 2-.5 2 5.5 2-3 2-1.4 2-5 2 3.6 2 2.3 2-.5 2 .6 2-2.2 2 .3 2-1.2 2 .8 2 1.8 2 0 2 .2 2-1.2 2-3.2 2-.2 2 .6 2 3.2 2-.6 2-.5 2-.5 2-2.4 2 .3 2 .9 2 .8 2-.2 2 2.3 2-2.8 2 1.4 2-3.2 2 1.1 2-.2 2 0 2-.5 2 1.2 2-1.4 2 .6 2 5.9 2-2.9 2-1.9 2-.9 2 2.2 2-1.6 2-.3 2 2.7 2-.8 2-2.5 2-.7 2-1 2 .3 2 5 2-.5 2 .6 2-.4 2-.7 2-3.8" stroke="#d19d12" stroke-width="2.55" fill="none" stroke-linejoin="round"/>
<text x="980.6" y="165.3" font-size="28.7" text-anchor="end" textLength="75" lengthAdjust="spacing">A-026</text>
<path d="M985 238.1l2-3.1 2-.4 2 .5 2-1.8 2 2.9 2-.5 2-.9 2 .7 2-1.7 2 .2 2 2.5 2 .9 2-.9 2 1.1 2 .7 2-1.3 2 2 2 .1 2-.3 2 1.6 2 .7 2 .2 2-2.7 2 1 2 .7 2-2.4 2 .4 2 1.6 2 1 2-1.1 2 1 2 1.9 2-3.4 2-.5 2 4.2 2-2 2 3.4 2 2.5 2-3.9 2-1.7 2-1.6 2 .3 2 .1 2-1.1 2 1.3 2-3.9 2 2.1 2 .4 2 1.7 2-1.4 2-.7 2-2.2 2 1.8 2 .3 2 .9 2 .9 2 1.7 2-2.1 2-2.9 2-1.2 2 2.7 2 1.3 2-1.4 2-1.6 2-.4 2 2.1 2-1.2 2-3.5 2 .7 2 1.9 2-.1 2 3 2-1.1 2-1.4 2 1.1 2-.6 2 1.5 2 .9 2-2.4 2 .1 2 3.7 2-4.2 2 3.4 2-1.3 2-.6 2-.8 2 1 2 1.6 2-2.1 2-1.6 2 1 2-1.2 2 3.5 2-.3 2 2.2 2 1 2 .6 2-.4 2-2.8 2 2.2 2 1.7 2-1.8 2 1.4 2-2.2 2 1.8 2-2.7 2 3.6 2-.3 2 1.8 2 1.3 2 1.1 2-1.1 2 6.9 2-3 2-5.3 2-2.4 2-6.1 2-2.4 2-4.6 2 2.3 2 6 2 7.2 2 7.7 2 9.9 2 2.5 2-3.1 2-6.2 2-6.7 2-6.6 2-1.4 2-.1 2 1 2 4.7 2 5.9 2 1.6 2-4.9 2-5.3 2-6.4 2-6.1 2 1.8 2 6 2-.8 2 6.1 2 6.4 2 4.1 2 4.9 2-3.2 2-6.5 2-7.3 2-6 2-7.4 2 3.1 2 9.5 2 4.7 2 11.4 2-.4 2-4.9 2-5.1 2-8.7 2-2.8 2-4 2-.9 2 5.4 2 4.8 2 2.6 2 2.2 2 4.2 2-1 2-7.3 2-4.1 2-2.4 2-2 2 4.8 2-1.2 2 3.7 2 2.4 2 6.2 2-4.4 2-2 2-2.7 2-1.2 2-6.6 2-5.5 2-.1 2 5.9 2 .6 2 5.9 2 3.2 2-2.1 2-.8 2-4.1 2 0 2-.6 2-4.8 2 4.5 2-.3 2 3.2 2 2.1 2 3.7 2-2.5 2-3.9 2-2.8 2-6.5 2-3.1 2 3.2 2 4.8 2 2.9 2 5 2-.7 2-1.4 2-2.1 2-3.4 2-4.7 2-5 2 .5 2 4.1 2 .8 2 4.5 2 3.3 2 0 2-1.8 2-4.7 2-.8 2-4.9 2 1.4 2 3 2 1.6 2 3.3 2 2.9 2-3.2 2-1.3 2-5.5 2-4.3 2-4.5 2-1.7 2 5.8 2 9.4 2 .5 2 2.9 2 3.4 2 .4 2 .6 2-.6 2-1 2-.3 2-1.4 2 .6 2 4.6 2-4.3 2-1.2 2 .6 2-1.5 2 .6 2-.2 2 .6 2 1.4 2 1 2-.6 2 1.7 2-1.1 2-3.5 2 1.7 2-1.6 2 1.3 2-.2 2-.9 2-.1 2 .5 2 2.8 2-.7 2 .2 2-2.4 2 2.9 2-4.4 2 1.6 2 1.6 2-3 2-2.6 2 3 2 2.1 2 .3 2 .9 2 0 2-2.7 2 .4 2 2 2-.7 2-1.8 2 1.9 2-3 2 .8 2 0 2-.4 2 .1 2-.1 2 .2 2 .4 2 2.1 2-1.6 2-3.7 2 1.4 2-.1 2 .1 2 1.9 2 0 2-1.5 2-2.6 2 3.1 2 2.2 2 2.2 2-1.7 2-3 2 .6 2 .1 2-.3 2-1 2-1.2 2 4.5 2-2.4 2-3.1 2 .2 2 1.3 2 1 2-1.2 2 1.6 2-3.8 2 4.4 2-1.2 2 1 2-.5 2-.6 2 1.6 2 3.9 2-3.5 2 .2 2-1.3 2-1.2 2-.2 2 2.5 2-1.5 2 1.6 2-.3 2-.3 2-2.1 2-.1 2 2.5 2-.2 2 2.3 2-2.3 2 .8 2 .7 2 .4 2-1.5 2 2 2-3.2 2 2.3 2-.2 2-2.6 2 .8 2-1.2 2-.5 2-1.2 2 .4 2 .8 2 3" stroke="#ab6fe2" stroke-width="2.55" fill="none" stroke-linejoin="round"/>
<text x="980.6" y="248.7" font-size="28.7" text-anchor="end" textLength="75" lengthAdjust="spacing">A-025</text>
<path d="M985 313.4l2 1.3 2 2.5 2 .6 2-3.6 2 3.5 2-.4 2-1.6 2-1 2 1.5 2-.1 2-2.6 2-.9 2 4.1 2-2.5 2 2.4 2 1.3 2-2 2 3.3 2-2.5 2 1 2-1 2-1.1 2 1.1 2-.7 2 1 2 1.8 2-3.9 2 2.4 2 3.4 2-4.6 2 0 2 2.8 2-1.5 2 1.2 2 1 2 2.3 2-2.3 2-.1 2-2.3 2 .4 2-1.5 2 4.8 2-1.3 2-.6 2-1.3 2 .4 2 1.3 2-1.8 2 .9 2 .7 2-1.6 2-1 2-.5 2 1.9 2-.1 2-1 2-.2 2 .4 2 1.4 2 .8 2-2.4 2 .2 2 .7 2-2.6 2 1.3 2-.9 2 1.5 2 3.4 2-2 2-1.2 2 .6 2-.5 2 .9 2 1.4 2 .6 2-4.2 2 4.9 2-4.3 2 0 2-2.9 2 .3 2 1.9 2 1.7 2-1.9 2-.8 2-.1 2 3.7 2-2.1 2 1.3 2-.7 2 1.4 2-2.1 2-.9 2 .6 2 1.4 2-1.9 2-.7 2 .2 2 .1 2 1.4 2-2.3 2-.5 2-.4 2-.5 2 2.4 2-1.5 2-.7 2-.8 2 1 2 2.1 2 .6 2 .3 2-.1 2-.2 2-2.9 2-1.1 2-1.8 2-1.7 2-3.5 2-.3 2 4.7 2-.6 2 1.8 2 3.6 2 3.7 2-1.5 2-.5 2-5.5 2-1.7 2-1.7 2 .6 2 2.2 2 1.4 2 2.8 2-.8 2-2.2 2-3.1 2-1.6 2-4.5 2-3.6 2 2.3 2 5.5 2 2.8 2 1.8 2 4.5 2 2.2 2-3 2-2.6 2-4.2 2 1.8 2-5.3 2 4.9 2 4 2 2.2 2 0 2 1.4 2-.8 2-2.7 2-1 2-.3 2-2.7 2-1 2 2.2 2 1.9 2 4.3 2 .1 2 2.8 2 .5 2-4 2-1.8 2-.2 2-.8 2 2.2 2-.4 2 2.3 2 2.1 2 .1 2-1 2 .1 2-1.9 2-3.5 2 0 2 1.7 2 .2 2 2 2 .9 2 3.3 2 4.1 2-3.8 2-.3 2 .1 2-3.1 2 2.3 2-3.1 2 3.5 2-.9 2 3.2 2 1.4 2 1.8 2-2.3 2-1.5 2-4.3 2-3.1 2 1.8 2 3.7 2 0 2 .2 2 4 2 1.3 2-1.7 2 2.1 2-3.6 2 2.5 2-1 2 1.9 2-4.1 2 .1 2 2.8 2 2.9 2 .5 2-.6 2 .1 2-1.3 2-.2 2 0 2-.1 2 2.6 2 2.7 2 1.2 2-1.6 2-2 2 6.5 2-.4 2 .8 2 2 2-.8 2-1.6 2-.6 2 3.2 2 2.9 2-1.2 2-1.4 2-2.8 2 4.4 2 2.2 2-4.3 2-1 2 .7 2-1.7 2 2.8 2-.7 2-1 2-.6 2 .2 2 1 2 .2 2-1.8 2 .4 2 0 2-.7 2-.8 2 .8 2-.8 2 .5 2 2.5 2-3.2 2-2 2 4.5 2-.4 2 0 2-2.8 2 .4 2-1 2-.4 2-3.1 2 2.6 2 .6 2-3.1 2 .6 2-5.3 2 .9 2 0 2 1.4 2 .2 2-2.4 2 2.6 2-3.4 2 .3 2-.5 2-2.5 2 1 2 1.8 2 .5 2-1.7 2-1 2 1 2-4.8 2 3.1 2 3.6 2-2 2 .7 2-2.5 2 2.8 2-.5 2-1.8 2-.8 2 1.8 2 .1 2 0 2-.4 2-3.3 2-1.7 2-.3 2 3.5 2 4.1 2-1.5 2-1.5 2-2 2 1.1 2-3 2 3.5 2 2.3 2 2.1 2-3.6 2-1.7 2-1.2 2 3.4 2-.4 2 .2 2 1.3 2 1.4 2 .9 2-3 2-1 2 1.8 2 0 2-.5 2 1.3 2-.1 2-.6 2 .3 2-3 2 2.2 2 .6 2-.7 2 1.5 2 .6 2 1.9 2-3.2 2 2.4 2-.5 2-3.7 2 2.4 2-1.8 2 4.2 2 .1 2-1.6 2 1.9 2-4.1 2 1.5 2 2.9 2-1.2 2-1.3 2-3.2 2 1.5" stroke="#2ca25c" stroke-width="2.55" fill="none" stroke-linejoin="round"/>
<text x="980.6" y="324" font-size="28.7" text-anchor="end" textLength="75" lengthAdjust="spacing">A-010</text>
<path d="M985 396.6l2-1.1 2 3.4 2-.4 2-2.1 2-1.5 2 .4 2 .7 2-4.3 2 2.6 2-1.1 2 1.2 2 2.1 2 3.1 2-.3 2 1.5 2-2.5 2-3 2 3.1 2 .4 2 3.1 2-5.4 2 1.7 2-.6 2 2 2 .9 2-1.3 2-.5 2 1.5 2-.2 2 .3 2-.7 2-.1 2-.8 2-.8 2 3.5 2-.9 2 1 2-2.3 2-.4 2 3.9 2-.1 2-.5 2 .7 2-3.3 2 2 2-2 2 3.3 2 2 2-2.8 2-2 2 3.6 2-1.3 2 .3 2-2.6 2 3.2 2-2.9 2 1 2 .5 2 1.5 2 0 2-1 2-.3 2-.5 2 .8 2-.1 2-1.9 2 .9 2 2.5 2-1.2 2 1.7 2-1.4 2-3.7 2 1.7 2 .5 2-2.2 2 3 2-.6 2-1.7 2 1.4 2-.9 2 2.3 2-2.2 2-.5 2-1.5 2-1.4 2 3.4 2-1.3 2 1.6 2 .1 2-2.1 2 .1 2 .7 2-1.1 2 1.8 2 .7 2-4.3 2 3.3 2 .1 2 .2 2-2.1 2 2.3 2-.7 2-3.9 2 2.9 2 1.3 2-2.9 2 1.2 2 .7 2 .9 2-1.5 2 3.4 2 .9 2-.6 2 .2 2-3 2-.8 2-2.2 2-1 2-3.1 2 .7 2 1 2 3.1 2-.2 2 .5 2 2.1 2-1.4 2 .3 2-1 2-2.2 2-2.6 2 1.3 2 3.8 2 1.9 2 3 2-2.2 2-.9 2-1.8 2-.7 2-5.1 2-1.3 2-.4 2 2 2 6.7 2-.2 2 3.5 2 .3 2-3.8 2 1.6 2-4.1 2-5.4 2 1.6 2 3.4 2 .9 2 6.4 2 5.7 2-.9 2-2.1 2-6.2 2-1.9 2 0 2-3.8 2-.8 2 3.5 2 1.7 2 2.6 2 4.4 2 1.6 2-2.1 2 .4 2-4.4 2-1.4 2 2.3 2 1.9 2-.4 2-.9 2 1.5 2 0 2-1.8 2 1.3 2-2.2 2 .9 2-4 2-2.4 2 .7 2 2.3 2 4.3 2 2.5 2 5.6 2-1.7 2-3.8 2-3 2 2.7 2-2.5 2-.1 2 .9 2 2.7 2-2.1 2 1.6 2 1.2 2-2.1 2-1.1 2 1.5 2-2.2 2-2.5 2 3 2 3 2 1.8 2-.4 2 1 2-1.7 2 2.5 2-2.1 2 0 2-.5 2-1.7 2 3.5 2 4.5 2-.8 2-1.9 2-.7 2 .1 2-4 2-1.3 2-.8 2-.6 2 4.1 2 4.5 2-1.6 2 .1 2-.7 2 1.3 2-2.2 2 4.4 2 3.9 2-.7 2-3.1 2-1.3 2 .8 2-1.5 2-.2 2 3 2 .1 2-.8 2-1.8 2 1.2 2-1.3 2 3.3 2-1.8 2-1.4 2 .8 2-2.2 2-1.5 2 .5 2 3 2 2.1 2-.5 2-2.7 2 1.6 2 1.8 2-5.1 2-.6 2 .5 2 1.1 2-2.9 2 1.9 2-1.9 2-.5 2 2.3 2 2.3 2-1.6 2-3.1 2 2.3 2 .8 2-2.1 2 .9 2-1.4 2 1.6 2 0 2-2.7 2 .6 2 .1 2 0 2 .6 2 1.9 2 .3 2 0 2-3.1 2 1.7 2 1.4 2 1.9 2-3 2-1.1 2-.5 2 1.6 2 1 2-.2 2-.8 2-.5 2-.7 2 .5 2 2.2 2-1.3 2 0 2-.7 2 .9 2-2.8 2 2.2 2 .7 2-.5 2-.2 2 .2 2 1.1 2 1.7 2 .7 2-1.8 2-1.1 2 1.3 2-1.6 2-.5 2 1.6 2 .2 2-1.1 2 1.3 2-1.7 2 3.3 2-1.2 2-.9 2-1.4 2 .4 2 0 2 1.2 2-.1 2 2.4 2 1 2-.8 2-1.4 2 1.4 2-1.2 2-2.9 2-.1 2 1.8 2-2.4 2 1.4 2-.7 2 1.2 2-.2 2 1.8 2-.3 2 1.9 2-.9 2 1.3 2-1.6 2 .9 2-2.2 2 .8 2-.4 2-.7 2 0 2-4 2 4.8 2-.1 2 1.9 2-2.9 2 2.2 2 1.4" stroke="#1866e0" stroke-width="2.55" fill="none" stroke-linejoin="round"/>
<text x="980.6" y="404.3" font-size="28.7" text-anchor="end" textLength="75" lengthAdjust="spacing">A-009</text>
<path d="M985 461.6l2 2.4 2 .3 2-.8 2 .2 2-.7 2 .5 2 1.6 2 .1 2 1.2 2-1.8 2 1.2 2-2.5 2 4.4 2-2.6 2 2.3 2-1.6 2 3.3 2-3.9 2-1.6 2 1.8 2 1.9 2 0 2 1.7 2-3 2-3.3 2 1.8 2 .6 2 .5 2 1.4 2 1 2-.6 2-.4 2 .9 2-1.3 2-.1 2 .8 2 2.9 2-2 2-4 2 4.3 2 0 2-1.3 2-1.6 2 1.7 2-3.3 2 5.1 2-1.5 2-.1 2 .5 2-1 2-.1 2 0 2 2.4 2-1.3 2 .8 2-1 2 1.5 2-2.8 2 1.6 2-4.4 2 .6 2 .5 2 3.5 2-.4 2-2.1 2 3 2-1.4 2-1.4 2-1.9 2 1.4 2 1.4 2 0 2-1.4 2 .3 2 1.6 2-1.4 2 1.9 2-1.1 2-.9 2-1.2 2-.5 2 2.6 2-.2 2-1.8 2 .4 2 1.8 2-3.9 2 2.5 2 2 2 .4 2-.3 2-.8 2-2.3 2 1.1 2 2.5 2 .6 2-2.1 2-2.5 2 2.1 2 .7 2 .7 2-.6 2 1.4 2 2.3 2 1.3 2-4 2-1.4 2 1.1 2-4.2 2 4.1 2 1 2-.4 2-1.9 2 1.4 2-1.1 2-.8 2 .8 2-2.3 2-3.7 2 1.2 2-1.6 2 5.7 2 5 2 1.6 2 .6 2-3.4 2-2.7 2-2.9 2-1.2 2-1.1 2 .7 2 2 2 2.9 2 3.6 2-.9 2-2.1 2-1.9 2-1.6 2-2.6 2-3 2 6.1 2-1.5 2 .1 2 3.6 2 3.4 2-1.2 2-1.8 2-2.3 2-1.2 2-3.3 2-.4 2 1.3 2 4.4 2 2.4 2 2.9 2 .8 2-3.4 2-2.2 2 .5 2-1.4 2 .1 2-1.4 2-.2 2 3.9 2 2.7 2 0 2 .8 2 2.6 2-3.3 2-.1 2-4.7 2-1.5 2 2.9 2 1 2 .9 2 .9 2 3.7 2-4 2 2 2-3.4 2-1.7 2-.7 2 .7 2-1.4 2 3.1 2 2.2 2 2.7 2-.6 2 1 2 3.7 2-.9 2-1.4 2-1.9 2-1.6 2 .8 2-.5 2 .5 2 2.8 2 1.3 2 .6 2-3.4 2-1.4 2-.9 2-2.7 2-1 2 6.6 2 5 2-.2 2-2.9 2 2.7 2-5.1 2 2.6 2 1 2-3.5 2 3.2 2-1.4 2 .4 2 .9 2 4.8 2-1.4 2 .8 2-5.1 2 2.3 2-2.2 2-.3 2 5.2 2 .5 2-1.7 2 1.6 2 1.7 2-4.7 2 3.2 2-1 2-1.2 2 1.6 2-1.5 2 1 2-.5 2 2.2 2 1.7 2-1.6 2-2.5 2-.3 2 1.2 2-.8 2 .4 2 2.1 2-1 2-4.3 2 .6 2 2.6 2 2.4 2-2.3 2-2.5 2 1.7 2-.8 2-.6 2-.6 2 1.6 2-.1 2-2.4 2 1.7 2 .5 2 1.4 2-2.6 2 .2 2-.9 2 .1 2 2.7 2 2 2 .2 2-2.9 2 1.2 2-2.5 2 1.5 2-.8 2 .6 2-1.6 2 4 2-4.3 2 1.5 2 0 2-3.1 2 3.3 2 .3 2-.1 2-1.8 2 3.3 2-.3 2-1.2 2 1.1 2-2.2 2-.3 2-4.6 2 4 2 1.6 2-3.6 2 2.6 2-2.6 2 1 2 2 2-1.6 2 0 2-1.3 2 .3 2 3.1 2-3.7 2 3.5 2-2.5 2 1.4 2-1 2 3 2-1.7 2-1 2-.6 2 3.3 2-2.5 2-.1 2 .1 2 .3 2 .2 2-.4 2-2.7 2 4.5 2 .2 2 .4 2-3.2 2-.1 2 2.1 2 1.4 2 0 2 3.3 2-3.9 2-1.2 2-.3 2-.7 2 2.6 2-2.1 2-2 2 2.1 2 3.8 2-.3 2-4.8 2 2 2 0 2 1.6 2 .5 2-3 2 2.1 2 1.2 2-1.5 2-2.3 2 .3 2 3.2 2-.2 2-1.6 2 .6 2 1 2 1.2 2-3.8 2 1.4 2 .9 2-.5 2 3.1 2-3.6" stroke="#f0414a" stroke-width="2.55" fill="none" stroke-linejoin="round"/>
<text x="980.6" y="470.5" font-size="28.7" text-anchor="end" textLength="75" lengthAdjust="spacing">A-006</text>
<path d="M985 530.2l2-.7 2 .8 2-1.6 2 .4 2 .5 2-.9 2-.1 2 2.8 2 2.3 2-2.1 2-1.8 2 .1 2 .8 2-.9 2 1.8 2-2.5 2 3.3 2-.4 2-2.1 2 2.5 2-1.7 2-.9 2 1.3 2-.4 2 1.7 2-.8 2-.4 2-.6 2 .1 2 2.2 2-2.7 2-.9 2 2.5 2 1 2-2.2 2-1.3 2 1.3 2-1.8 2 .9 2 3.3 2 .5 2-1.7 2-2.3 2 .4 2 2.4 2-1.2 2 .4 2 1.5 2-1.3 2-.2 2-.7 2 .3 2 2.6 2-1.7 2-.8 2-.1 2-1 2 3.3 2 .5 2 .4 2 1.8 2-.7 2-2.1 2 1.7 2-1.3 2-1.8 2 0 2 3.9 2 .4 2-2.1 2-.6 2 0 2-.8 2 1.2 2-2.8 2 .8 2-1.5 2 2.5 2 .4 2 .7 2-4.2 2 .1 2 1.4 2 1.5 2 0 2-.8 2-1.5 2 2.2 2 2.4 2-1.8 2-4.3 2 4.1 2-.1 2 .7 2-2.7 2 .6 2 1.4 2-2.7 2 2.3 2 .3 2-.5 2-2.8 2-.9 2 1.4 2 2.5 2-.4 2-3.8 2 2.6 2 .7 2 1.4 2 1.2 2 1.9 2 2.7 2-2.4 2-4 2-1.8 2-2.2 2-6 2-2.2 2 .5 2 3.8 2 3.9 2 4.7 2 4.1 2 3.7 2-1.9 2-3.4 2-3.8 2 .5 2-5.2 2 2.5 2 .8 2 5.2 2-1.1 2 1.2 2-1 2-.4 2-3.2 2-1.1 2-2.2 2 6.6 2 1.7 2 2 2-.7 2 3.8 2 2.2 2-1 2-6.1 2-7.3 2-2.1 2-.6 2 2.8 2 5 2 4.9 2 4.1 2 1.9 2-2.1 2-1.5 2-2 2-6 2-5.1 2 2.7 2 2.6 2 3.3 2 3.1 2 7.3 2 .7 2-2.2 2-.7 2-4 2-2.7 2-2.8 2 .8 2 3.7 2 2.8 2 2.2 2 1.3 2-2.9 2-2.3 2-1 2 .8 2-.2 2-6.6 2 1.4 2 5.2 2 4.1 2 2.9 2 2.6 2-2.8 2-2.5 2-1.3 2-1.7 2 .2 2-.5 2 2.1 2 3.6 2 1.2 2-1.4 2 3.6 2 1.2 2-3 2-3.4 2-5.2 2-3.8 2 4 2 2.5 2 3.4 2 2.3 2 2.6 2 3.1 2-6.2 2-2.7 2 1.5 2-2 2 .9 2 1.2 2 1.1 2 4.2 2 1.2 2-.5 2 .7 2-.8 2-.7 2-3.5 2-.4 2 3.8 2 .3 2 2.1 2 2.7 2 1.8 2-2.6 2 .7 2 3.3 2 2 2 2.2 2-1.1 2-8.4 2 1.4 2 3.4 2-2.1 2 .5 2 .8 2-.3 2 1.6 2-.2 2 .3 2-2.8 2 0 2 1.6 2-2.6 2 .8 2 1.6 2 .3 2-1.9 2 .5 2 3.8 2-2.5 2-1.2 2-5.4 2 3.2 2 3.3 2-3.8 2 .7 2-.9 2 0 2-.3 2-1.5 2 2.4 2 1.3 2-.2 2-3.1 2-.3 2 2.1 2-1.4 2 1.4 2-3.8 2 2.4 2-2.2 2-.3 2-2 2-.2 2 1.9 2-3.3 2 2.9 2-.4 2-2 2-1.7 2 6.2 2-.9 2-2.8 2-1.9 2 .3 2 1.5 2-1.5 2 3.6 2-3.9 2-1.5 2 2.9 2-4.3 2 1.3 2 .7 2 .5 2-1.5 2 .6 2 1.2 2 0 2 2.5 2-2.8 2 0 2 .7 2 1.5 2 1.2 2-2.2 2 .4 2 .9 2-2.9 2-1.3 2-.8 2 2.3 2-.1 2 0 2 .4 2-1.6 2-2.1 2 2.2 2 .3 2 .5 2-.7 2 2.3 2 0 2-1.8 2 1.1 2 1.5 2 .4 2-5 2-2 2 3.3 2 .3 2 0 2-1 2 1.7 2-.9 2 2.9 2-.8 2-1.2 2 1.1 2-2.2 2-.4 2 3.5 2 .1 2-2.7 2-1.2 2 1.8 2 1.5 2-.9 2 1.9 2-1.4 2-.5 2 3.9 2-4.9 2 1.7 2-3 2 4.6 2-2.2 2-.3" stroke="#444444" stroke-width="2.55" fill="none" stroke-linejoin="round"/>
<text x="980.6" y="542" font-size="28.7" text-anchor="end" textLength="75" lengthAdjust="spacing">A-005</text>
<text x="869.2" y="65.8" font-size="42.5" text-anchor="start">B.</text>
<text x="1548.7" y="39.5" font-size="34.7" text-anchor="start">Multi-scale</text>
<line x1="1196.3" y1="1.5" x2="1196.3" y2="613.7" stroke="#ff0000" stroke-width="2.6" stroke-dasharray="14 13.1"/>
<line x1="1477" y1="1.5" x2="1477" y2="613.7" stroke="#ff0000" stroke-width="2.6" stroke-dasharray="14 13.1"/>
<text x="1283.5" y="632.7" font-size="34.8" text-anchor="start">~ 450 Hz</text>
<text x="1520" y="613" font-size="29.9" text-anchor="start" textLength="95.5" lengthAdjust="spacing">100 µV</text>
<path d="M1623.6 583.7V622.8H1716" stroke="#000" stroke-width="3" fill="none"/>
<text x="1630.4" y="657.4" font-size="29.4" text-anchor="start" textLength="77.5" lengthAdjust="spacing">10 ms</text>
<path d="M133 732.7l1.5-1.8 1.5 2.1 1.5-.2 1.5-.3 1.5-1.5 1.5-1.3 1.5 .4 1.5 3.8 1.5 .1 1.5-1.1 1.5-.7 1.5 4.3 1.5-1.7 1.5 1 1.5-.2 1.5-4 1.5 3.5 1.5 .1 1.5 .2 1.5 1.5 1.5-.9 1.5-2.8 1.5-2 1.5 6.1 1.5-.2 1.5-1.3 1.5-.7 1.5-1.1 1.5-.8 1.5 3.2 1.5-4 1.5 .3 1.5-5.4 1.5 5.8 1.5 .3 1.5 2.9 1.5-2.4 1.5-.9 1.5 3.7 1.5-1.4 1.5-.9 1.5 3.3 1.5-6 1.5 4.8 1.5-1.9 1.5-4.6 1.5 .4 1.5 1.4 1.5 2.4 1.5-3.8 1.5 7.4 1.5-3.6 1.5 1.4 1.5-7.3 1.5 7.9 1.5-.8 1.5-.4 1.5 .8 1.5-2.8 1.5 .9 1.5-2.3 1.5-3.2 1.5 .8 1.5 8.7 1.5-5.6 1.5 3.3 1.5 2.9 1.5-2.8 1.5 2.4 1.5-1.6 1.5-3 1.5 7.1 1.5-5.5 1.5-.8 1.5-3.5 1.5 1.4 1.5 1.6 1.5 .5 1.5-4.2 1.5-1.8 1.5 7.2 1.5-3.4 1.5 3.9 1.5-3.8 1.5 4.4 1.5-8.6 1.5 3.4 1.5 1.7 1.5 3.4 1.5 .3 1.5 .1 1.5 3.5 1.5-1.7 1.5-1.4 1.5-1 1.5-7.1 1.5 7.4 1.5-4.1 1.5-1.2 1.5-1.1 1.5 7.8 1.5-2.3 1.5 1.1 1.5-2 1.5 .9 1.5 2.4 1.5-2.5 1.5 9.2 1.5-6 1.5-1.8 1.5 1.9 1.5-1.8 1.5-2.8 1.5 1.6 1.5-4.7 1.5 2.5 1.5-2.5 1.5-5.4 1.5 2.5 1.5 6.4 1.5-.8 1.5-.2 1.5-6.9 1.5 2.2 1.5 7.2 1.5-3.8 1.5-3.3 1.5 6.3 1.5-3.5 1.5 3 1.5 1.1 1.5 .3 1.5 3.1 1.5 4.7 1.5-2.6 1.5-2.8 1.5 .7 1.5-7.3 1.5 2.3 1.5-7.2 1.5 0 1.5 2.6 1.5 .9 1.5 4.6 1.5 2.1 1.5 6 1.5 7.3 1.5-12 1.5-2.3 1.5-2.1 1.5-4 1.5-6.4 1.5-4.5 1.5 2.1 1.5 10.8 1.5 9 1.5 8.7 1.5 6 1.5 9.5 1.5-4.2 1.5-6.5 1.5-4.9 1.5-11 1.5-3.5 1.5-7.1 1.5-.5 1.5 10 1.5 11.9 1.5 8.3 1.5 3.2 1.5-7.6 1.5-8.8 1.5-8.1 1.5-7.8 1.5 9 1.5 8.8 1.5 6.6 1.5 3.1 1.5 8.8 1.5 1.6 1.5-6.7 1.5-8.6 1.5-4.5 1.5-6.2 1.5-1.8 1.5-14.7 1.5 8.5 1.5 10.5 1.5 10.2 1.5 4.2 1.5 17.1 1.5-3.7 1.5-10.7 1.5-12.1 1.5-4.5 1.5-9.2 1.5-8.9 1.5 3.3 1.5 4.5 1.5 3.9 1.5 5.4 1.5 7.7 1.5 2 1.5 4.4 1.5 7 1.5-9.3 1.5-2.2 1.5-7.4 1.5-4.1 1.5-1.6 1.5-5.5 1.5-1.8 1.5 6 1.5 7.1 1.5 10.1 1.5-2.7 1.5 4.3 1.5-8.3 1.5-2.8 1.5-.6 1.5-2.5 1.5-10.3 1.5 7.6 1.5 12 1.5 3.3 1.5 17.9 1.5-5.3 1.5-6.8 1.5-1.7 1.5-12.8 1.5-3.4 1.5 1.4 1.5 2.6 1.5 5.1 1.5 4.5 1.5 9.1 1.5-.1 1.5-6 1.5-3.2 1.5-4.2 1.5-6.5 1.5 5.5 1.5 4.9 1.5-1.7 1.5 12.2 1.5-3.1 1.5 4.9 1.5 .5 1.5 .7 1.5-2.3 1.5-2.1 1.5-4.4 1.5-7 1.5-3.7 1.5-3 1.5 1.8 1.5 3 1.5 .2 1.5 6.6 1.5-.2 1.5-1.2 1.5 1 1.5 2.1 1.5-5.7 1.5 4.2 1.5-6.3 1.5-4.6 1.5 2 1.5 3.5 1.5 9 1.5-4.6 1.5 1.7 1.5 4.9 1.5-.8 1.5-4.4 1.5-1.9 1.5 1.8 1.5-1.8 1.5 4.4 1.5-.5 1.5-1.3 1.5 .7 1.5 .1 1.5 5.8 1.5-3.3 1.5 1.6 1.5-3.1 1.5 6.1 1.5-7.3 1.5-2 1.5 1.3 1.5 2.7 1.5-5.3 1.5-1.7 1.5 4 1.5 2.6 1.5-3.1 1.5 3.9 1.5 .2 1.5-8.4 1.5 2.6 1.5-3.4 1.5-5.4 1.5 1.1 1.5 2.5 1.5 4.9 1.5-1.5 1.5 1 1.5 5.7 1.5-.5 1.5 .9 1.5 1.7 1.5 .5 1.5-4.3 1.5-.7 1.5 .3 1.5 5.1 1.5 .1 1.5 5.4 1.5-5.2 1.5 1.4 1.5-1.3 1.5-1.1 1.5 5.9 1.5-2.5 1.5-2 1.5-3 1.5 6 1.5-5 1.5 2.5 1.5-5.2 1.5 2.9 1.5-4.9 1.5-2.2 1.5 2.4 1.5 2.5 1.5-.8 1.5 3.6 1.5 2.7 1.5-3 1.5-2.3 1.5-2.5 1.5 4.3 1.5 2.5 1.5-5.5 1.5 3.4 1.5-5.5 1.5 6.3 1.5-3.2 1.5-.3 1.5 1.7 1.5-1.6 1.5 3.5 1.5 .4 1.5 4.4 1.5-3.7 1.5 8.1 1.5-3.8 1.5 1.1 1.5 1.3 1.5 4.5 1.5-5.4 1.5 1.2 1.5 1.6 1.5-3.7 1.5-1.1 1.5 .4 1.5-.1 1.5 .6 1.5-3.8 1.5-1.5 1.5 1.7 1.5-2.5 1.5-1.6 1.5 1.5 1.5 2.3 1.5 .3 1.5 .4 1.5-.2 1.5-.6 1.5-2.3 1.5 8.6 1.5-3.2 1.5-3.3 1.5-5.8 1.5 12 1.5-7.5 1.5 5.1 1.5-2.6 1.5-2.5 1.5 1.6 1.5-.2 1.5-.1 1.5-3.4 1.5 2 1.5 5.4 1.5-3.9 1.5 1.3 1.5-6.2 1.5-.6 1.5-4.5 1.5 3.1 1.5-7.1 1.5 7.2 1.5 2.6 1.5-.3 1.5 4.3 1.5 4.1 1.5-6.9 1.5 5.6 1.5-.5 1.5-1.8 1.5 1 1.5 2.5 1.5-4.3 1.5 .1 1.5-4.4 1.5-1.7 1.5 3.4 1.5 2.4 1.5-.5 1.5 2.8 1.5-6.2 1.5 4.5 1.5-3.4 1.5 .5 1.5 1 1.5 1.2 1.5 1 1.5 1.4 1.5 1.7 1.5 2.1 1.5 .5 1.5 2.9 1.5-2.8 1.5-4.2 1.5 1.8 1.5-10.9 1.5 1.1 1.5 1.8 1.5-1.7 1.5-2.5 1.5 4.1 1.5-4.9 1.5 2.8 1.5 2.1 1.5 2.8 1.5 .8 1.5 1.1 1.5-7.1 1.5 7.2 1.5-.6" stroke="#f59a9a" stroke-width="1.05" fill="none" stroke-linejoin="round"/>
<path d="M133 752.3l1.5-4.3 1.5-.1 1.5 1.9 1.5 1 1.5-5.3 1.5 4.9 1.5-2.9 1.5 .6 1.5 .8 1.5 2.6 1.5 .4 1.5-5.9 1.5 9.7 1.5-1.7 1.5 .4 1.5 6.8 1.5-1.2 1.5 2.9 1.5-5.3 1.5 1.5 1.5-1.6 1.5-2.7 1.5 1.4 1.5 .7 1.5-4.1 1.5 2 1.5-4 1.5 .4 1.5 1.2 1.5-5 1.5 4.4 1.5-5 1.5 4.9 1.5 3.5 1.5-1.6 1.5-3.3 1.5 7.2 1.5-2 1.5-.3 1.5 2.8 1.5 3 1.5-2.3 1.5 3.3 1.5-3.7 1.5-1.4 1.5 1 1.5-1.2 1.5-5.9 1.5-4.3 1.5 6.1 1.5-1 1.5-3.6 1.5 1.3 1.5 2.8 1.5-2.8 1.5 3.1 1.5 .9 1.5-3.4 1.5-2.8 1.5 5.5 1.5 .4 1.5-.4 1.5-3 1.5 2.5 1.5 4.7 1.5 .3 1.5 .2 1.5-7.9 1.5 1.9 1.5 1.2 1.5-4.8 1.5 1.7 1.5 1.2 1.5 .9 1.5 1.5 1.5 2.9 1.5 2.2 1.5-2.5 1.5-4.1 1.5 3.6 1.5-1.5 1.5 1.6 1.5-1.9 1.5 1.9 1.5-.3 1.5-6.1 1.5 2.1 1.5 2.5 1.5-2.3 1.5 2.3 1.5-1.3 1.5-2.4 1.5 3.9 1.5-4.4 1.5-1.5 1.5 3.3 1.5-3.9 1.5 3.4 1.5-.8 1.5-1.8 1.5 1.5 1.5 .3 1.5-3.5 1.5 5 1.5-7.7 1.5 7.7 1.5 1.4 1.5-.5 1.5 .5 1.5 2.7 1.5-1.6 1.5-.2 1.5 2.3 1.5 5.7 1.5-2 1.5-8.6 1.5 3.6 1.5-3.1 1.5 5.6 1.5-1.2 1.5-5.8 1.5 6.5 1.5-7.4 1.5 1.4 1.5-1.4 1.5 1.3 1.5-1 1.5-2 1.5 .7 1.5 0 1.5 8.6 1.5-1.6 1.5-3.1 1.5 2.8 1.5 2 1.5-7.3 1.5 .7 1.5-7.5 1.5 2 1.5-2 1.5 1.9 1.5-1.9 1.5-.1 1.5 6 1.5 7.7 1.5 12.4 1.5 3.9 1.5-3 1.5-5.6 1.5-8 1.5-2.6 1.5-4.8 1.5-4.2 1.5 .1 1.5 6.5 1.5 6.3 1.5 9.9 1.5 4.4 1.5 5.9 1.5-1.3 1.5-7.8 1.5-.6 1.5-11.7 1.5-5.3 1.5-13.4 1.5 1.8 1.5 10.1 1.5-.1 1.5 8.2 1.5 8.5 1.5-8.5 1.5-3.8 1.5-6.6 1.5-7.8 1.5 6.4 1.5 14.4 1.5 9 1.5 5.1 1.5 6.6 1.5-5.6 1.5-7.5 1.5-5.6 1.5-3.1 1.5 7.3 1.5-7.4 1.5-5.8 1.5 5.4 1.5 5 1.5 9.6 1.5-2.2 1.5 9.9 1.5-.9 1.5-6.3 1.5-5.8 1.5-5.2 1.5-8.8 1.5-4.4 1.5 .3 1.5 2.2 1.5 1.5 1.5 8.3 1.5-.1 1.5 6.3 1.5 2.4 1.5 5.6 1.5-8.8 1.5-.1 1.5-7.9 1.5-6.3 1.5-5.8 1.5-1.8 1.5 5 1.5 3.5 1.5 2.6 1.5 8.2 1.5 3.7 1.5-3.7 1.5-5.7 1.5-1.2 1.5 .9 1.5-4.6 1.5-7.9 1.5 6.7 1.5 11.5 1.5 7.7 1.5 15.8 1.5-5.4 1.5-3 1.5 2.4 1.5-11.6 1.5-4.8 1.5-2.1 1.5 7.1 1.5 4.5 1.5 1.6 1.5-1.4 1.5-.2 1.5 5.3 1.5-11.6 1.5-4.9 1.5 .7 1.5 1.3 1.5 3 1.5 2 1.5 4.7 1.5 1.7 1.5-3.3 1.5 3.1 1.5-5.1 1.5-4.4 1.5 .7 1.5 3 1.5-4.1 1.5-.2 1.5-4.4 1.5 8.2 1.5-2.4 1.5-1.3 1.5 5.3 1.5 .7 1.5 5.4 1.5-2.9 1.5-2.4 1.5-10.7 1.5 3.4 1.5-6.2 1.5 2.4 1.5 4.4 1.5 .1 1.5 3.4 1.5-1.2 1.5 5.6 1.5 3.9 1.5 1 1.5-2 1.5-2.9 1.5-1.4 1.5-4.7 1.5-4.5 1.5-2.9 1.5 5.7 1.5 5.2 1.5-3.5 1.5 3.5 1.5 .6 1.5 4.6 1.5-6.1 1.5 2.2 1.5-5.9 1.5 5 1.5-2.6 1.5-3.6 1.5 .6 1.5 .5 1.5 4.4 1.5 1.7 1.5 0 1.5 11.4 1.5-7.2 1.5-1.1 1.5-1.9 1.5 .3 1.5-4.6 1.5 7.9 1.5-5 1.5-2.4 1.5 1.1 1.5 2.4 1.5 2.4 1.5 2.2 1.5-.2 1.5 2.6 1.5-2.3 1.5-1.8 1.5 8.3 1.5-5.3 1.5-2.5 1.5-1 1.5 .2 1.5-1.7 1.5 2.2 1.5-5.8 1.5 1.3 1.5-1.9 1.5 6.8 1.5-6.9 1.5 4.7 1.5-2.6 1.5 2.1 1.5 1.7 1.5 .6 1.5-1.7 1.5 4 1.5 1.5 1.5-4.4 1.5 1.5 1.5 5.1 1.5-12.4 1.5 2.3 1.5 3.1 1.5-3.2 1.5 3.8 1.5-4.7 1.5-2.5 1.5 1.3 1.5 2.8 1.5 3.3 1.5-2.6 1.5-3.7 1.5 2.3 1.5-6.2 1.5 2.8 1.5 .6 1.5-1.1 1.5-1.5 1.5 5.2 1.5-7.7 1.5 2.4 1.5 2.2 1.5-1.1 1.5 1.1 1.5 1.9 1.5 3.2 1.5-1.9 1.5 3.1 1.5-1.3 1.5-1.2 1.5 3 1.5-4.8 1.5 1.4 1.5 2.3 1.5 3.2 1.5-2.1 1.5 .1 1.5 6.9 1.5-6 1.5 3.4 1.5-2.3 1.5-1 1.5 8.2 1.5-2.2 1.5-.1 1.5 3.3 1.5-9.7 1.5 3.6 1.5-2.2 1.5 1.6 1.5-2.7 1.5 5.3 1.5-5.2 1.5 3 1.5 4.4 1.5-1.8 1.5-6 1.5-3 1.5-3.1 1.5 1.4 1.5 5.5 1.5-4 1.5-1.9 1.5 3.5 1.5 2.7 1.5-5.9 1.5 2.4 1.5-3.6 1.5 .3 1.5 9.4 1.5-2.8 1.5-1.9 1.5 1.8 1.5-2 1.5 3.8 1.5-2.3 1.5-1 1.5 .8 1.5-4.1 1.5 5.7 1.5 .5 1.5-1 1.5 .4 1.5 5 1.5-2.2 1.5-6.3 1.5-.6 1.5-1.7 1.5 2.7 1.5-1.2 1.5-1.5 1.5 1.9 1.5-1.3 1.5 3.8 1.5-1.3 1.5 .7 1.5 1.7 1.5 3.8 1.5-2.1 1.5-2.7 1.5 2.1 1.5 1.4 1.5 0 1.5 .7 1.5 2 1.5-3 1.5 2.1 1.5-1.2 1.5 2.1 1.5-3.5 1.5 1.4 1.5-3.4 1.5 1.4 1.5-.7 1.5-4.2" stroke="#f59a9a" stroke-width="1.05" fill="none" stroke-linejoin="round"/>
<path d="M133 794.1l1.5-1.1 1.5-4.9 1.5 4.9 1.5 .2 1.5 6 1.5 .3 1.5-3 1.5 2 1.5-.5 1.5 .4 1.5-6.3 1.5 2.4 1.5 3 1.5-4.5 1.5 6 1.5-1.1 1.5-1.1 1.5-6.7 1.5 2.2 1.5-5.8 1.5 4.9 1.5 2.2 1.5-1.8 1.5-6.2 1.5 4.7 1.5-1.3 1.5 6.6 1.5-2.3 1.5-.8 1.5 2 1.5 1.6 1.5-.7 1.5-.8 1.5 2.4 1.5 .6 1.5-3.1 1.5 1 1.5-8.6 1.5 3.1 1.5 .6 1.5 2.1 1.5 4 1.5-7.5 1.5 3.6 1.5-1 1.5 0 1.5-3.1 1.5 1.3 1.5 .3 1.5 1.8 1.5-3.6 1.5 .3 1.5-.9 1.5 1.1 1.5-.4 1.5 5 1.5 .1 1.5-2.1 1.5 6.8 1.5 .5 1.5-5.1 1.5-4.9 1.5 2.6 1.5-1.7 1.5 5.7 1.5-2.8 1.5-3.1 1.5 2.7 1.5-2.8 1.5 2.3 1.5 6.4 1.5-7.3 1.5 .3 1.5-2.7 1.5 1.1 1.5 3.8 1.5 1.4 1.5-2 1.5 1.5 1.5-5.7 1.5-3.8 1.5-1.8 1.5 5.6 1.5-1.8 1.5-.9 1.5 .4 1.5 5.1 1.5-1.8 1.5-2.3 1.5-.2 1.5-2.3 1.5 5.9 1.5-1.7 1.5-.5 1.5 3.5 1.5-4 1.5-1.1 1.5-2.2 1.5-.8 1.5 1.5 1.5 .7 1.5 1.4 1.5 .6 1.5-.8 1.5-5.1 1.5 1.9 1.5 .7 1.5 4.9 1.5-3.8 1.5-.9 1.5 1.6 1.5 7.2 1.5 1.3 1.5-3.9 1.5 2.7 1.5 .1 1.5-2.2 1.5 5.3 1.5-7.1 1.5-3.2 1.5 .8 1.5-1.9 1.5 .8 1.5-.4 1.5-1.3 1.5 2.2 1.5 1.5 1.5-.2 1.5-1.3 1.5-.7 1.5 2 1.5 3.1 1.5 3.7 1.5 .4 1.5-4.8 1.5-1.2 1.5 1.4 1.5-5 1.5 6.3 1.5-2.5 1.5 3.4 1.5-3.7 1.5 .9 1.5-1.6 1.5 2.4 1.5 1.5 1.5-7.9 1.5 2.3 1.5-.8 1.5 0 1.5-3.9 1.5 2.8 1.5 2.2 1.5-1.9 1.5-2.9 1.5 7.4 1.5-1.2 1.5 3.5 1.5 5.2 1.5-3.8 1.5-1 1.5-2.5 1.5-2.3 1.5-1.2 1.5-8.8 1.5 3.5 1.5 4.2 1.5-.7 1.5 1.5 1.5 2.5 1.5-3.8 1.5 1.1 1.5-3 1.5 2.5 1.5 4.7 1.5 1 1.5 .3 1.5-.4 1.5 .5 1.5-1.6 1.5-.7 1.5-2.7 1.5-2.8 1.5-3.1 1.5 2.8 1.5 2 1.5-4.6 1.5 2 1.5 2 1.5 7.6 1.5 .6 1.5-1 1.5-6.9 1.5 4.6 1.5-3.1 1.5 5.6 1.5-5.4 1.5 3.7 1.5 2.3 1.5-1.6 1.5 3.4 1.5 0 1.5-.9 1.5 3.5 1.5-.4 1.5 2.4 1.5-3.8 1.5 .2 1.5-1 1.5-2.9 1.5 .2 1.5-2.8 1.5-1.4 1.5 .5 1.5 11.3 1.5-1.5 1.5-4.8 1.5 .7 1.5-7 1.5-1.6 1.5 4.7 1.5 2.7 1.5-.5 1.5 8.5 1.5-4.7 1.5-2.2 1.5 3.6 1.5 3.2 1.5 2 1.5-2.9 1.5-6.2 1.5-3.5 1.5 6.7 1.5 1.4 1.5-.3 1.5-2.7 1.5-1.4 1.5 4.1 1.5-2.3 1.5-6.5 1.5 1 1.5 3 1.5 6.3 1.5-3.7 1.5-.3 1.5 3.2 1.5-2.3 1.5 4.1 1.5 4.6 1.5-3.8 1.5-4.1 1.5 .6 1.5-4.4 1.5 3.6 1.5-5.5 1.5 3.5 1.5-4.9 1.5-3.1 1.5 .6 1.5-2 1.5 3.7 1.5 .7 1.5-2.1 1.5 2.8 1.5 2.5 1.5-3.6 1.5 1.7 1.5 5.1 1.5-1.2 1.5 2.4 1.5 1.8 1.5-4 1.5 1.6 1.5 4.4 1.5-2.4 1.5-2.4 1.5 1 1.5 2.7 1.5-3.3 1.5 1.2 1.5-5.5 1.5 1.1 1.5-2.3 1.5 4.1 1.5-5 1.5 8 1.5 4 1.5-5.6 1.5 .7 1.5-.2 1.5-.8 1.5-3.4 1.5 3.2 1.5 1.3 1.5-2 1.5-.3 1.5-3 1.5 1.1 1.5-1.2 1.5-1.6 1.5-.5 1.5 1.6 1.5 .7 1.5-1.2 1.5-.9 1.5 5.5 1.5-5.3 1.5 .5 1.5-1.4 1.5-2.1 1.5 4.1 1.5 .4 1.5 4.7 1.5-1.3 1.5 4.9 1.5-.8 1.5-.6 1.5 2.4 1.5 1 1.5 .1 1.5-.7 1.5-1.9 1.5-2.6 1.5 1.5 1.5-2.3 1.5-2.9 1.5 0 1.5-.1 1.5 .7 1.5 .2 1.5-.8 1.5-.9 1.5 7.8 1.5-6.7 1.5 1.9 1.5-2.3 1.5-1.3 1.5 1.5 1.5 .4 1.5 4.2 1.5-2.2 1.5 3.3 1.5 1.2 1.5-1.9 1.5 1 1.5-8.5 1.5-.2 1.5 4.3 1.5 .2 1.5-1.5 1.5 1.4 1.5-.9 1.5-1.2 1.5 1.1 1.5 .6 1.5-1.9 1.5 .5 1.5 .8 1.5 .9 1.5-1.8 1.5 3.1 1.5 3 1.5-5 1.5 4.8 1.5-5.1 1.5-1.2 1.5 6.8 1.5-.3 1.5-2.8 1.5 .2 1.5 4.1 1.5-2.5 1.5-1.3 1.5-1.1 1.5 1.9 1.5-2.5 1.5 1.9 1.5 .4 1.5 5.3 1.5-2.3 1.5-2 1.5 2.5 1.5 4.5 1.5-9.4 1.5 4.8 1.5-8.7 1.5 0 1.5 2.4 1.5 4.9 1.5-5.3 1.5 .3 1.5-3.2 1.5 1.3 1.5 5.1 1.5-3.5 1.5-5.8 1.5 5.8 1.5-.5 1.5 5.5 1.5-4.3 1.5 .9 1.5 1.2 1.5 3.1 1.5-2.6 1.5-6.5 1.5-.5 1.5 1.5 1.5 2.9 1.5 .6 1.5 3.6 1.5-1 1.5-5.6 1.5 .6 1.5 3.5 1.5-.8 1.5-1.2 1.5 1.7 1.5-.7 1.5-2.4 1.5-1.4 1.5 1.2 1.5-.7 1.5 1.2 1.5 .1 1.5-3.9 1.5 2.5 1.5 4.2 1.5-1.8 1.5 .5 1.5 .7 1.5 9.1 1.5-2.9 1.5-2.8 1.5 2.6 1.5-3.4 1.5 6.6 1.5-6 1.5-1.8 1.5 6.5 1.5-4.4 1.5 2.2 1.5-.6 1.5-4.1 1.5 8.7 1.5 0 1.5-6 1.5 8.7 1.5-.6 1.5-4.8 1.5 1.8 1.5-6.8 1.5 1.2" stroke="#f59a9a" stroke-width="1.05" fill="none" stroke-linejoin="round"/>
<path d="M133 795.3l1.5 .1 1.5-2.6 1.5 2.5 1.5-2.2 1.5 4.6 1.5-5.5 1.5 .4 1.5-2.2 1.5 2.8 1.5-2.9 1.5 7.1 1.5-3.6 1.5 2.9 1.5 3.1 1.5-5.4 1.5-6.8 1.5 5.7 1.5-.3 1.5 1.6 1.5 2.3 1.5 3 1.5-6 1.5 4.4 1.5 5.5 1.5-4.1 1.5-.8 1.5-2.8 1.5 3.4 1.5-7 1.5 .8 1.5 3.6 1.5 1.9 1.5-5 1.5 4.6 1.5-.4 1.5 1.7 1.5 .6 1.5-9.9 1.5 1.9 1.5 4.6 1.5-2.5 1.5 .1 1.5 1.5 1.5 .1 1.5-1 1.5 .1 1.5 1.1 1.5-1.9 1.5-3.1 1.5-6.9 1.5-.7 1.5 7.8 1.5-4.9 1.5 7.9 1.5 1.4 1.5-2.5 1.5 2.3 1.5 1.8 1.5-1.2 1.5 .7 1.5 4.4 1.5-.1 1.5 .9 1.5-6.9 1.5 .1 1.5-2.3 1.5 1.8 1.5-2.3 1.5-.6 1.5 2.2 1.5-5.6 1.5 3.2 1.5 3.2 1.5 3.2 1.5-5.2 1.5 3.2 1.5-.7 1.5-6.1 1.5 3.4 1.5-1.9 1.5 2.4 1.5 .9 1.5-5.3 1.5-1.5 1.5 6.5 1.5 .2 1.5 6.1 1.5-.1 1.5-4.8 1.5-2.7 1.5 8.1 1.5-3.8 1.5-.8 1.5 1.5 1.5 .9 1.5-.3 1.5-.7 1.5 3.4 1.5-6.2 1.5 1.4 1.5-.7 1.5-1.4 1.5 3.6 1.5-1.4 1.5-3.5 1.5 1.1 1.5 1.9 1.5-.4 1.5 .4 1.5-2.5 1.5 5.4 1.5 3.3 1.5-3.4 1.5 2.7 1.5-3.9 1.5 1.9 1.5-.6 1.5-2.1 1.5 1.9 1.5-4.8 1.5-7.3 1.5 1.3 1.5 3.4 1.5-7.1 1.5 7.7 1.5-4.7 1.5 .5 1.5-.9 1.5 6.3 1.5-10.9 1.5 9.4 1.5 2.6 1.5-2.8 1.5 .6 1.5 4.6 1.5-6.2 1.5 5.2 1.5-3.3 1.5 4.1 1.5 5 1.5-3.5 1.5 3.6 1.5-4 1.5 .1 1.5 .7 1.5 .9 1.5-1.5 1.5-2.7 1.5-2.1 1.5-1.7 1.5 .3 1.5 7.2 1.5-4.8 1.5-2.9 1.5 10.3 1.5-3.6 1.5-2.1 1.5 2.5 1.5-.4 1.5 1.4 1.5-1 1.5-6.9 1.5 .3 1.5 1.3 1.5-2.8 1.5 3.6 1.5 1.9 1.5 5.8 1.5 3.8 1.5 1 1.5-6 1.5 .2 1.5-3.3 1.5-1.6 1.5-.6 1.5-.5 1.5 4.9 1.5 1.5 1.5-1 1.5 1.6 1.5 .1 1.5 5 1.5 2 1.5-4 1.5 1.6 1.5-2.4 1.5 7.2 1.5-4.5 1.5 .3 1.5-4.3 1.5 2.9 1.5-3 1.5-.4 1.5 .3 1.5-.8 1.5-3.4 1.5-1.4 1.5-4.4 1.5 .8 1.5 11.8 1.5-7.8 1.5 1.1 1.5 2.2 1.5-2.2 1.5 2.3 1.5 2.6 1.5-4.2 1.5 1.1 1.5 1.4 1.5-4.4 1.5-2.3 1.5 1.3 1.5-3.8 1.5 2.8 1.5 5.7 1.5-.5 1.5-2.6 1.5-4.2 1.5 2.9 1.5 1.2 1.5-5.6 1.5 6.4 1.5-1.7 1.5 3.9 1.5-.1 1.5 1 1.5-1 1.5 6.5 1.5-9.6 1.5 6 1.5 .3 1.5-3.2 1.5 2.3 1.5-1.4 1.5 2.4 1.5 4.1 1.5 1.1 1.5-6.9 1.5 1.5 1.5-3.6 1.5-3.5 1.5 4.2 1.5 1.7 1.5 6 1.5-5.4 1.5-.5 1.5 3.3 1.5 3.9 1.5-2.9 1.5-1.7 1.5-9.4 1.5 3 1.5-.1 1.5 2 1.5-.5 1.5 1.4 1.5 .5 1.5 1.1 1.5-1.7 1.5 1.5 1.5-4 1.5-3.9 1.5 7.8 1.5-2.4 1.5 3.6 1.5-1 1.5-1.5 1.5-1.2 1.5-1.3 1.5 5 1.5 2.7 1.5-4.7 1.5 2.4 1.5-2.1 1.5-3.1 1.5-.6 1.5 5.3 1.5 1.4 1.5-2.3 1.5 3.2 1.5-4.6 1.5 0 1.5 2.5 1.5 4 1.5-2.4 1.5-1.4 1.5 4.6 1.5 .7 1.5-4.6 1.5-7.5 1.5 2.7 1.5 1.2 1.5 2.2 1.5 .6 1.5 3.2 1.5-1.6 1.5 1.1 1.5 6.7 1.5-4.5 1.5 1.3 1.5-7.7 1.5-2.6 1.5-.5 1.5 2.3 1.5 5.5 1.5-4.4 1.5 .8 1.5 .5 1.5-2 1.5 3.1 1.5-.3 1.5 1.4 1.5-.7 1.5-.7 1.5-2.8 1.5 2.8 1.5-1.1 1.5-2.8 1.5-2.7 1.5 4.2 1.5-1.9 1.5 2.2 1.5 1.6 1.5-3.2 1.5-.1 1.5-.4 1.5 1.2 1.5-1.9 1.5-4.8 1.5 1.4 1.5 4.2 1.5-1.7 1.5 0 1.5 1.6 1.5-1 1.5-1.4 1.5 1.2 1.5-3 1.5 8.3 1.5-2.2 1.5-2.9 1.5 7.1 1.5-1.1 1.5 1.3 1.5-3.1 1.5 2.1 1.5 2.3 1.5 1.6 1.5-8.4 1.5 .9 1.5-.3 1.5-.7 1.5-4.1 1.5 3.3 1.5 1.5 1.5 .2 1.5 4 1.5-3.2 1.5 3.1 1.5-1 1.5-2.5 1.5 .7 1.5 .4 1.5-5.6 1.5 6.6 1.5-1.6 1.5 6.3 1.5-1.1 1.5-3.9 1.5 6.1 1.5-.6 1.5-2.4 1.5-1.6 1.5-2 1.5-2.6 1.5 9.4 1.5-6.8 1.5 .6 1.5 6.6 1.5-6.5 1.5 3.3 1.5-1.8 1.5-3 1.5 .5 1.5 0 1.5-2.9 1.5-2.4 1.5 4.1 1.5-3.7 1.5 3.4 1.5-1.5 1.5 2.8 1.5-.3 1.5 .7 1.5-2 1.5 3.8 1.5-2.3 1.5 1.9 1.5 .8 1.5 1.5 1.5-.8 1.5-2.9 1.5 5.9 1.5 .8 1.5-6.1 1.5 5.1 1.5 2.3 1.5-3.4 1.5 0 1.5-2.1 1.5 .7 1.5 .6 1.5-2.6 1.5 1.3 1.5 1.3 1.5-1.7 1.5-7.5 1.5 8.8 1.5-3.9 1.5 .1 1.5-1 1.5-5.2 1.5 7.6 1.5-5.7 1.5 4.3 1.5 2.7 1.5-.9 1.5 1.5 1.5 4.5 1.5 .6 1.5 .2 1.5-5.3 1.5-5.1 1.5 4 1.5 .2 1.5-5.5 1.5 1.7 1.5-.2 1.5-3.1 1.5 3.9 1.5 2 1.5-.7 1.5-4.2 1.5 4.4 1.5-4.2 1.5-1.9 1.5-2.6 1.5 .3 1.5-.9 1.5 1.2 1.5 .7 1.5 .3" stroke="#f59a9a" stroke-width="1.05" fill="none" stroke-linejoin="round"/>
<path d="M133 792.1l1.5 2.4 1.5 2.5 1.5 2.2 1.5 1 1.5 .9 1.5 1 1.5-2.8 1.5 2.9 1.5 .4 1.5-.7 1.5 .6 1.5 2.6 1.5-3.4 1.5-7.7 1.5 1.1 1.5 5.7 1.5-2.3 1.5-7.2 1.5 5 1.5 3.4 1.5 3.1 1.5-2.4 1.5-6.5 1.5 2.8 1.5 1.9 1.5 3.1 1.5-1.6 1.5-.5 1.5 3 1.5 2.7 1.5-5.8 1.5 3 1.5-1.8 1.5-1.2 1.5-4.9 1.5 .8 1.5-3.4 1.5 3.3 1.5 4.6 1.5-5.3 1.5 .1 1.5 .9 1.5-.5 1.5 7.8 1.5-2.4 1.5-.1 1.5 3 1.5-7.1 1.5 2 1.5 .9 1.5 2.6 1.5-1.7 1.5-.7 1.5-1.5 1.5-2.3 1.5 1.5 1.5 1.3 1.5 3.2 1.5-2.6 1.5 2.5 1.5-4.8 1.5 2.5 1.5 1.4 1.5 1.6 1.5-5.8 1.5-3.3 1.5 12.2 1.5-.3 1.5-2.1 1.5-2.4 1.5 3.1 1.5 3.7 1.5 2.4 1.5-2.1 1.5 2.4 1.5-3.6 1.5-2.9 1.5-1.5 1.5 4.1 1.5-7.7 1.5 7 1.5 4.7 1.5-3.2 1.5-6.5 1.5 4.6 1.5-7.6 1.5-1.7 1.5 3.7 1.5 .5 1.5 6.2 1.5-6.5 1.5-3.3 1.5 .7 1.5 2.8 1.5-1.3 1.5-5.4 1.5 2.6 1.5 .5 1.5 1.5 1.5-5.6 1.5 4.2 1.5-5.3 1.5 2 1.5 7.1 1.5-1.6 1.5 1.5 1.5 1.1 1.5-1.5 1.5 4.1 1.5-3.4 1.5 4.4 1.5-2.6 1.5-2 1.5-.9 1.5-1.4 1.5 .3 1.5-.8 1.5 1.2 1.5-1.4 1.5 1.3 1.5-1.7 1.5 2.7 1.5-4.5 1.5 7.3 1.5-.1 1.5-1.9 1.5-1.6 1.5 3.8 1.5 0 1.5-1.5 1.5 .7 1.5 2 1.5 2.4 1.5 2.4 1.5-2.3 1.5-2.8 1.5-1.5 1.5-.8 1.5-2.6 1.5-.9 1.5 2.2 1.5 1.7 1.5-4.3 1.5 2.5 1.5 7.7 1.5 .5 1.5 2.2 1.5-4.4 1.5-1.6 1.5 8.8 1.5-6.3 1.5-.9 1.5 1.8 1.5-2.1 1.5 .2 1.5 4.7 1.5 .2 1.5-.6 1.5-.3 1.5-5.2 1.5-1.6 1.5 1.4 1.5-1 1.5-4.5 1.5 2.6 1.5 .7 1.5 1 1.5 .4 1.5-.3 1.5 1.5 1.5-.5 1.5-2.4 1.5-4.2 1.5 1.4 1.5 1.5 1.5 .1 1.5 5.4 1.5-2.4 1.5-5 1.5 1.1 1.5-1 1.5 5.9 1.5-2.1 1.5 3.2 1.5-2.3 1.5-3.3 1.5 2.9 1.5 6 1.5 3.1 1.5-5.4 1.5 .7 1.5-2 1.5 3.3 1.5-1.4 1.5-2.6 1.5 2.7 1.5-6.4 1.5-1.9 1.5 1.6 1.5 4.1 1.5-1.8 1.5 .7 1.5-4.8 1.5 5.8 1.5-1.2 1.5 5.2 1.5-.4 1.5-8.9 1.5 1.4 1.5-.9 1.5 1.5 1.5 6.5 1.5 .7 1.5-1.1 1.5 5.1 1.5 3.6 1.5-4.8 1.5-2.3 1.5 1.7 1.5-4.9 1.5-.1 1.5 2.4 1.5 .9 1.5 1.9 1.5 .5 1.5 0 1.5-7.1 1.5 7.9 1.5-1.1 1.5-2.7 1.5 .3 1.5-.3 1.5 4 1.5-.1 1.5-7.3 1.5 6.5 1.5 1 1.5-4 1.5 5.2 1.5-5.5 1.5 0 1.5-2.7 1.5 .2 1.5 4.2 1.5 1.9 1.5-1.9 1.5 .6 1.5 2.3 1.5 .5 1.5 .6 1.5-1.5 1.5 3.1 1.5-1.2 1.5-2.5 1.5-1.8 1.5-.3 1.5 2.5 1.5-3.9 1.5-.5 1.5 2.6 1.5 3.2 1.5-1.1 1.5-1 1.5-.8 1.5 1.8 1.5-3.6 1.5-2.4 1.5 5.7 1.5 1.4 1.5-3.5 1.5 6.1 1.5 .9 1.5-3.1 1.5-.8 1.5 .1 1.5 3.5 1.5 .5 1.5-2.1 1.5-.8 1.5 1.1 1.5 1.6 1.5 .1 1.5 3.1 1.5-.8 1.5 1.5 1.5-.8 1.5-2.7 1.5 2.1 1.5-5 1.5 2.4 1.5-.6 1.5-9.6 1.5 0 1.5 9.8 1.5-5.7 1.5-2.7 1.5-4.2 1.5 2.8 1.5-.7 1.5 1.2 1.5 .2 1.5-3.2 1.5 .9 1.5 2.7 1.5 .2 1.5 2 1.5-.8 1.5 5.8 1.5 0 1.5 1.4 1.5-2.5 1.5 1.2 1.5-1.8 1.5-1.2 1.5-3 1.5 4.8 1.5 3.2 1.5-4.2 1.5 3.7 1.5-1.8 1.5 2.4 1.5-3 1.5-3.5 1.5 2.1 1.5 5.2 1.5-5.3 1.5-4.3 1.5 .4 1.5-.4 1.5-3 1.5 2.5 1.5 1 1.5-3.4 1.5 4 1.5 .3 1.5-.4 1.5-4.3 1.5 4.1 1.5-4.1 1.5 3.3 1.5 5.4 1.5-1.8 1.5-1.3 1.5 4.4 1.5-6.3 1.5 2.1 1.5 2.4 1.5-3.2 1.5 .2 1.5 1.6 1.5-3.8 1.5-.2 1.5-4 1.5 .8 1.5 5.5 1.5-1.8 1.5-5.3 1.5-1.5 1.5 1.3 1.5-4.3 1.5-.5 1.5-.5 1.5 2.7 1.5 .3 1.5 1.8 1.5 5.1 1.5 .2 1.5 5.7 1.5-1 1.5 2.5 1.5-1.2 1.5 .7 1.5 .5 1.5 .3 1.5-7.3 1.5 .1 1.5-1.1 1.5-1.3 1.5-1.5 1.5 .9 1.5-.7 1.5 5.4 1.5-4.9 1.5 4 1.5-3.3 1.5 5.5 1.5-1.8 1.5-3.4 1.5-2.5 1.5 1.7 1.5 3.8 1.5 1.2 1.5-4.4 1.5-1.3 1.5 4.9 1.5-5.6 1.5 2.7 1.5-3.5 1.5-2.3 1.5-.2 1.5 2.7 1.5-1.9 1.5-1.5 1.5 3.7 1.5 1.7 1.5 .3 1.5-2.6 1.5 2.7 1.5-2.1 1.5 1.2 1.5 3.5 1.5-3.2 1.5-1.8 1.5 3.5 1.5-2.8 1.5-2.2 1.5 .3 1.5 7.7 1.5-.7 1.5-3.1 1.5 0 1.5-1.9 1.5 3.9 1.5-4.4 1.5 5.9 1.5-6.8 1.5 6.7 1.5 1.8 1.5-2.2 1.5-4.8 1.5-5.3 1.5 4.1 1.5 3.1 1.5-3 1.5 9.2 1.5-3.4 1.5 .6 1.5 1.4 1.5-1.5 1.5-1.6 1.5 1.3 1.5-3.1 1.5-2.6 1.5 6.9 1.5-7 1.5 1.6 1.5-.8 1.5 3.1 1.5 .6 1.5-2.9 1.5-.1 1.5 5.8" stroke="#f59a9a" stroke-width="1.05" fill="none" stroke-linejoin="round"/>
<path d="M133 814.2l1.5-5.5 1.5 7.6 1.5-.6 1.5-.8 1.5-7.1 1.5-.6 1.5 2 1.5 2.9 1.5-3.9 1.5-4.6 1.5-1.9 1.5 .9 1.5-1.2 1.5-3 1.5-.2 1.5 1.5 1.5 .5 1.5 1.8 1.5-2.7 1.5 5.3 1.5-1.8 1.5-5 1.5 5.6 1.5-3.2 1.5 .3 1.5 5.1 1.5 5.1 1.5-3.2 1.5 3.5 1.5-2.3 1.5 5 1.5-5.9 1.5 4.6 1.5-2.8 1.5-2.2 1.5 .1 1.5-.9 1.5-1.3 1.5-6 1.5 4.7 1.5 1.2 1.5-1.1 1.5 0 1.5-3.3 1.5 4.4 1.5-3.6 1.5 2.5 1.5-1.1 1.5 5.5 1.5-1.8 1.5 1.9 1.5-3.1 1.5 .9 1.5 2.1 1.5 .7 1.5-3.9 1.5 1.8 1.5-3.8 1.5-1.4 1.5 4.1 1.5 2.9 1.5-1.2 1.5-2 1.5 5.3 1.5-4.8 1.5 0 1.5 3 1.5-2.3 1.5-4.6 1.5 2.2 1.5 1 1.5 2.9 1.5-2.1 1.5-1.2 1.5-1.1 1.5-.1 1.5 .1 1.5 .3 1.5-2 1.5 3.7 1.5-3.3 1.5 4.5 1.5-8.3 1.5-2.4 1.5 3.8 1.5 4.1 1.5-2.7 1.5 5 1.5-2.9 1.5-.1 1.5-1.4 1.5 3.3 1.5 1.2 1.5 2.5 1.5-6 1.5 7.2 1.5-4.2 1.5 .3 1.5-.5 1.5-3 1.5 2 1.5-3.2 1.5 3.1 1.5-1 1.5-7 1.5 4.7 1.5-4.4 1.5 2.1 1.5 3.2 1.5-1 1.5 .8 1.5 2.6 1.5 4.8 1.5-3.2 1.5-2.2 1.5-.2 1.5 1 1.5-.2 1.5 5.7 1.5-6.5 1.5-5.1 1.5 .7 1.5 4.8 1.5 3 1.5 5.2 1.5-5.1 1.5 2.8 1.5 .9 1.5-7.1 1.5 3.4 1.5-3.2 1.5-1.8 1.5-1.6 1.5-2.7 1.5 2.4 1.5-2.9 1.5 3.8 1.5-6.8 1.5-1.6 1.5 2.8 1.5 1.7 1.5-.1 1.5 7.8 1.5-2.8 1.5-1.7 1.5 5 1.5-2.5 1.5 .8 1.5-2.3 1.5 .7 1.5 5.4 1.5-5 1.5-3 1.5-1 1.5 6.3 1.5-1.8 1.5 2.1 1.5 2.4 1.5-1.9 1.5-4.6 1.5 .2 1.5-3.8 1.5 .7 1.5-5.7 1.5 .1 1.5 5.9 1.5-3.4 1.5 8.8 1.5 2.3 1.5-1.4 1.5-5.9 1.5 7.1 1.5-3.6 1.5-2.4 1.5-2.3 1.5 9.3 1.5 .2 1.5-.1 1.5 4.8 1.5-1.4 1.5-.7 1.5-2.2 1.5-4.2 1.5-3 1.5 6.6 1.5-6.2 1.5-2.8 1.5-.8 1.5 4.2 1.5 0 1.5-.9 1.5 1.4 1.5 .4 1.5-.9 1.5-6.2 1.5 2.8 1.5 2.1 1.5-.8 1.5 5.9 1.5-2.6 1.5 2.1 1.5 4.9 1.5-8.8 1.5 .5 1.5 1.8 1.5 3.9 1.5 .7 1.5 .5 1.5-.2 1.5-4.6 1.5-.1 1.5-3 1.5 4.9 1.5 1.3 1.5-1.4 1.5-5 1.5-.2 1.5-3.8 1.5 3.8 1.5 2.2 1.5-8.3 1.5-.5 1.5 6.8 1.5-7.8 1.5 4 1.5 2.4 1.5 4.3 1.5 2.2 1.5 2.2 1.5-.6 1.5-.5 1.5-3.8 1.5 1.8 1.5 1.4 1.5-.5 1.5 2.3 1.5 1.6 1.5-3.6 1.5 1.6 1.5-5.6 1.5 1.4 1.5 .8 1.5 2 1.5-5.9 1.5 2.3 1.5-.1 1.5 7.4 1.5-1.3 1.5-6.7 1.5 5.4 1.5-4.4 1.5-2.6 1.5-.9 1.5 2.1 1.5-3.1 1.5 1.6 1.5 1.4 1.5-1.3 1.5-.3 1.5 6 1.5-4.5 1.5 2.4 1.5-1.6 1.5 4.5 1.5-1.2 1.5 .8 1.5 3.4 1.5-4.8 1.5 2.8 1.5-1 1.5-1 1.5-2.6 1.5 5 1.5-1 1.5 3.1 1.5 .6 1.5-1.2 1.5-5.6 1.5-1.6 1.5 1.3 1.5 3.2 1.5 1.6 1.5-5.9 1.5 4.7 1.5-3.1 1.5-1.8 1.5 1.4 1.5 1 1.5-2.9 1.5 .4 1.5 4.3 1.5 6.6 1.5-2.6 1.5-8.2 1.5-1.7 1.5 7.6 1.5-5.8 1.5 3 1.5 2.9 1.5-1.6 1.5-4 1.5-4.3 1.5 2.7 1.5 2.9 1.5-.9 1.5 .6 1.5 1.6 1.5-3.7 1.5 6.5 1.5-2.9 1.5-3.1 1.5-2.1 1.5-2.2 1.5 2 1.5 5.2 1.5 1.1 1.5 2.6 1.5 1.1 1.5 .9 1.5-1.2 1.5-1.2 1.5 1.7 1.5 2.7 1.5-1.7 1.5-8.3 1.5 1.7 1.5 .4 1.5-1.9 1.5-2 1.5 6.9 1.5-2.4 1.5-3.6 1.5 5 1.5-1.5 1.5 1.2 1.5-5.5 1.5-2.5 1.5 2.2 1.5 2.3 1.5-5 1.5 1 1.5-1.1 1.5-1.5 1.5 1.4 1.5 3.2 1.5-1.5 1.5 .7 1.5 2.9 1.5 6.3 1.5-3.4 1.5 2.9 1.5-2.2 1.5 4.6 1.5-1.5 1.5-1.5 1.5 1.3 1.5-7 1.5 2.7 1.5-.1 1.5 5.9 1.5-2 1.5-2.7 1.5-3.3 1.5 4 1.5-7.1 1.5 .8 1.5 3.3 1.5-2.7 1.5 6.2 1.5-6.6 1.5 6.2 1.5-2.1 1.5 1.9 1.5-7.5 1.5 4.8 1.5 2.5 1.5-2.2 1.5 2.9 1.5-2.8 1.5-2.6 1.5 3 1.5-5.6 1.5 4.6 1.5-4.6 1.5-2.9 1.5 3.7 1.5-1.4 1.5 5.1 1.5 .7 1.5-1 1.5-6.3 1.5 7.5 1.5-2.3 1.5-1.7 1.5 4.1 1.5-3.1 1.5 3.9 1.5-2.4 1.5 4.5 1.5 .1 1.5-.2 1.5 3 1.5-1.4 1.5 1.9 1.5-7.3 1.5 4.1 1.5-2.6 1.5-.5 1.5-2 1.5-.3 1.5-1.5 1.5 6 1.5-.7 1.5 4.3 1.5-.7 1.5-.3 1.5-5.6 1.5 4.1 1.5-8 1.5-.1 1.5 3.2 1.5-7.9 1.5 0 1.5 4.1 1.5-3.1 1.5 3.9 1.5 5.5 1.5-.9 1.5-7 1.5 2.2 1.5 0 1.5 .3 1.5-1.8 1.5 7.3 1.5-1.2 1.5-1.6 1.5-1.4 1.5 3.5 1.5-4.6 1.5 5.3 1.5 .4 1.5 3.7 1.5-8.7 1.5 4.1 1.5-4.6 1.5 7.5 1.5-3.7 1.5-3.6 1.5 1.9 1.5 .6 1.5-3.6 1.5-.9" stroke="#f59a9a" stroke-width="1.05" fill="none" stroke-linejoin="round"/>
<path d="M133 807.1l1.5 .6 1.5-1.9 1.5-7.2 1.5 11.8 1.5-7.4 1.5 5.9 1.5-1.2 1.5-.7 1.5-1.8 1.5-3.6 1.5 .3 1.5 .4 1.5 8 1.5-7.1 1.5 2.3 1.5-.1 1.5 .2 1.5-1.2 1.5 1.9 1.5-4.6 1.5 1.9 1.5 6.9 1.5-3.9 1.5-.6 1.5 2.4 1.5-1.1 1.5 .4 1.5 .6 1.5 1.3 1.5 3.4 1.5-.4 1.5-.1 1.5-4.2 1.5 2.9 1.5 .6 1.5-3.6 1.5-.9 1.5 2.4 1.5 .5 1.5 2 1.5-1.2 1.5 .6 1.5-4.4 1.5 1.7 1.5 .1 1.5-4.2 1.5 6.1 1.5-1.9 1.5-2.5 1.5-2.2 1.5 3.9 1.5-.6 1.5 1.2 1.5-2 1.5-1.8 1.5 2.5 1.5 .2 1.5 4.5 1.5-4.2 1.5 .2 1.5 4.8 1.5-1.7 1.5-5.4 1.5 2 1.5 6 1.5-5.1 1.5-.6 1.5-2.1 1.5-3.3 1.5-.6 1.5 4.1 1.5-1.5 1.5 7 1.5-2.1 1.5 1 1.5 1.5 1.5-.6 1.5 2.2 1.5-.5 1.5-1.9 1.5 1 1.5 3 1.5-3.3 1.5 3.1 1.5-.4 1.5 .1 1.5-.3 1.5 1.4 1.5-2.6 1.5 5.1 1.5-2.1 1.5-2.1 1.5 .1 1.5 2.6 1.5-7.1 1.5-3 1.5 0 1.5-.2 1.5 2.8 1.5 .6 1.5 3.2 1.5-4.9 1.5-.2 1.5-2.4 1.5 3.6 1.5 5 1.5-7.3 1.5-.9 1.5 1.8 1.5 2.1 1.5 5.8 1.5-5.2 1.5 2.5 1.5 2.5 1.5-3.9 1.5 6.1 1.5-7 1.5-.4 1.5 .5 1.5-.4 1.5-1.1 1.5 5.6 1.5-.2 1.5 1.5 1.5-4.1 1.5-.6 1.5-6.1 1.5 4.1 1.5 3.5 1.5-9 1.5-2.4 1.5-4.5 1.5 5.5 1.5 6.1 1.5 .2 1.5 6.3 1.5-6.3 1.5-3.2 1.5-2.4 1.5 3.9 1.5-3.5 1.5 .6 1.5 2.2 1.5-1.3 1.5 1.3 1.5 1 1.5 4.1 1.5-.7 1.5 .5 1.5-3.6 1.5 .2 1.5-2.1 1.5-2.5 1.5 1.6 1.5 7.3 1.5-7.2 1.5 1.4 1.5 2 1.5-1.8 1.5-1.9 1.5-2.8 1.5 3.1 1.5 1 1.5-4.1 1.5-3.5 1.5 2.9 1.5 5.3 1.5 3.6 1.5 2.9 1.5-4 1.5 6.5 1.5-7.8 1.5-.6 1.5-2 1.5 8.9 1.5-5.6 1.5 1 1.5-3.7 1.5 3.1 1.5-.3 1.5-.8 1.5-.4 1.5-5.1 1.5 3.2 1.5 3.3 1.5-.3 1.5-1.4 1.5 1.4 1.5-3.1 1.5 1 1.5 .8 1.5 2.2 1.5 .3 1.5-.6 1.5-7 1.5 1.8 1.5 .4 1.5-1.1 1.5 .6 1.5-3.1 1.5 5 1.5-2.3 1.5-1.2 1.5 2.6 1.5 2.5 1.5-2.6 1.5 1.2 1.5 9.2 1.5-6.8 1.5-2.3 1.5-.3 1.5 5.3 1.5 2.2 1.5 .1 1.5-2.1 1.5 1.7 1.5 2.4 1.5 .9 1.5-6.7 1.5-.6 1.5 1.1 1.5-5 1.5 3.4 1.5 1.4 1.5 4.5 1.5-4 1.5-.3 1.5-2.4 1.5 .6 1.5-.2 1.5-7.9 1.5 .7 1.5 4.7 1.5-4.2 1.5 4 1.5-2.6 1.5-.9 1.5-2.9 1.5 5.2 1.5 1.7 1.5-1.4 1.5-.8 1.5-3.2 1.5-.4 1.5 1.3 1.5 3 1.5 3.7 1.5-3.1 1.5 4.4 1.5-1.9 1.5 .9 1.5-1.8 1.5 1.7 1.5-2.4 1.5 2.5 1.5-1.8 1.5 1.4 1.5 .6 1.5-.5 1.5-2.7 1.5 6.6 1.5 2.8 1.5-13.2 1.5 12.3 1.5-2.8 1.5-2.9 1.5-.7 1.5 3.9 1.5-.1 1.5-5.7 1.5 3.5 1.5 4 1.5-7.4 1.5-4.2 1.5-2.2 1.5 1.9 1.5 3.1 1.5-1 1.5 1.4 1.5 4.8 1.5 3.7 1.5 .1 1.5 .2 1.5 3.2 1.5 .1 1.5 3.1 1.5-2.4 1.5-3.1 1.5-3.8 1.5-2.8 1.5-.9 1.5-2.4 1.5 3 1.5-7.7 1.5-1.3 1.5 6 1.5 3.8 1.5-3.3 1.5-2.2 1.5 2.6 1.5-.5 1.5 2.2 1.5 1.2 1.5-2.4 1.5 5.9 1.5-2.7 1.5 4.9 1.5 1 1.5 .1 1.5-.2 1.5 .4 1.5-1.7 1.5-4.3 1.5 2.5 1.5 .1 1.5-3.6 1.5 .7 1.5-1.9 1.5 2.2 1.5-1.5 1.5 .2 1.5-.5 1.5-1.7 1.5 5.4 1.5-4 1.5 2.8 1.5-1.1 1.5 2.9 1.5 2 1.5 6.1 1.5-5.7 1.5-1.7 1.5 2.7 1.5-1 1.5-1.4 1.5 3.3 1.5-1.6 1.5-5.4 1.5 4 1.5-2.6 1.5-1.1 1.5 .3 1.5 3.9 1.5-1.8 1.5 .7 1.5-3.3 1.5 .7 1.5-6.8 1.5 2.2 1.5-1.6 1.5 3 1.5-.4 1.5 4.6 1.5 .3 1.5-1 1.5 3 1.5-6.3 1.5-.3 1.5-.1 1.5 5.1 1.5-4.3 1.5 5.7 1.5 1.5 1.5-6.3 1.5 2.9 1.5-2.7 1.5-.3 1.5-7.3 1.5 4.1 1.5 4.5 1.5 1.3 1.5-1.8 1.5 0 1.5-.5 1.5 2.3 1.5 3.7 1.5-4 1.5-1.4 1.5 3 1.5-.5 1.5-4.8 1.5-2.3 1.5 1.7 1.5-3 1.5 3.9 1.5 2.1 1.5-5 1.5-2.4 1.5 6 1.5 3.6 1.5-1.2 1.5 1.8 1.5-2.6 1.5 3 1.5 3.3 1.5-1.7 1.5-1.8 1.5 .6 1.5 3.4 1.5-2.6 1.5-4.7 1.5 .7 1.5 2.2 1.5-4.8 1.5-.5 1.5 4.3 1.5-4 1.5-2.2 1.5 2.9 1.5 1.1 1.5-.4 1.5 3.1 1.5-.8 1.5 .3 1.5-1.5 1.5 1 1.5 2.1 1.5 .1 1.5-.5 1.5 3.7 1.5-7.2 1.5 1.6 1.5-2.3 1.5 3.8 1.5 2 1.5 3.9 1.5-2.5 1.5-1.7 1.5-2.5 1.5 2.2 1.5 1.8 1.5 .1 1.5-2.6 1.5-2.8 1.5 1.3 1.5-3 1.5-1.3 1.5 4.6 1.5 2.4 1.5-1.8 1.5-1.3 1.5 3.9 1.5-3.3 1.5 6 1.5 2.1 1.5-2.5 1.5 2.8 1.5 .5 1.5-4.4 1.5 2.9 1.5 3.2 1.5-11.9" stroke="#f59a9a" stroke-width="1.05" fill="none" stroke-linejoin="round"/>
<path d="M133 814.6l1.5 2.9 1.5-.5 1.5-1.5 1.5-2.7 1.5-3.1 1.5 3.7 1.5 .7 1.5-5.4 1.5 8.2 1.5-5.3 1.5-.1 1.5 3.1 1.5-2.4 1.5-1.2 1.5-1.9 1.5 4.4 1.5 1.8 1.5 3.2 1.5-3.4 1.5-3.8 1.5 3.1 1.5-.9 1.5-3.4 1.5-3.4 1.5-1.3 1.5 3.6 1.5 .1 1.5-4.3 1.5 3.8 1.5 3.7 1.5 1.5 1.5-7.6 1.5 2.2 1.5 .4 1.5 .6 1.5 .3 1.5-3.3 1.5 .8 1.5 .2 1.5 4.2 1.5 1.2 1.5-1.1 1.5-2.1 1.5 .1 1.5 4.3 1.5-4.9 1.5-2.8 1.5 .5 1.5 .3 1.5 .4 1.5-1.7 1.5 .3 1.5 1.1 1.5 3 1.5 1.4 1.5-8 1.5-.2 1.5 1.8 1.5 1.9 1.5 1.7 1.5-2.7 1.5-.8 1.5-1.6 1.5 2.2 1.5 .4 1.5-.5 1.5-1.4 1.5 3.6 1.5 .2 1.5-3.7 1.5 5.4 1.5-8.1 1.5 5.6 1.5-3.3 1.5 2.2 1.5-3.3 1.5 5.2 1.5-.7 1.5 4.1 1.5-3.8 1.5 4.2 1.5-.1 1.5-3.5 1.5 4.5 1.5 .7 1.5-9 1.5 10.8 1.5-9.1 1.5 1.6 1.5 6.5 1.5-1.8 1.5-1.9 1.5-3 1.5-2.4 1.5 6.6 1.5-5.8 1.5 10.2 1.5-1.7 1.5-3.9 1.5-4.1 1.5 6.2 1.5 1 1.5-5.9 1.5 2.3 1.5 4.2 1.5-6.2 1.5 .2 1.5 2 1.5 .1 1.5 2.3 1.5 3.7 1.5 2.9 1.5-1.3 1.5-1.4 1.5 0 1.5-4.1 1.5-3.1 1.5-1.2 1.5-3.6 1.5 2.4 1.5 1.4 1.5-3.3 1.5 2.5 1.5-1.5 1.5 4 1.5-1.4 1.5-2.9 1.5 7.2 1.5-5.7 1.5 3.2 1.5 3.4 1.5-.5 1.5-2.8 1.5 6.3 1.5-6.6 1.5 .8 1.5 .8 1.5-.9 1.5-4.5 1.5 7 1.5-4.9 1.5 5.5 1.5-4.7 1.5 .9 1.5 3.8 1.5-1.4 1.5-2.8 1.5 1.8 1.5 1.9 1.5-2.8 1.5-1.7 1.5-.8 1.5 3.2 1.5-.3 1.5 3.4 1.5-1 1.5 2.2 1.5-3.2 1.5 .7 1.5 4.1 1.5-6.2 1.5-.6 1.5 2 1.5-3.4 1.5 .6 1.5 3.6 1.5 1 1.5-5 1.5 6.8 1.5 4 1.5-3 1.5-5.9 1.5 1.8 1.5-4.6 1.5 1.6 1.5 4.6 1.5 1.1 1.5 4.1 1.5-6.9 1.5-4.5 1.5 1.6 1.5 4.4 1.5-4.9 1.5 4.6 1.5 3.4 1.5 .6 1.5 .6 1.5 5.5 1.5-4.6 1.5 4.8 1.5 5.6 1.5-8.8 1.5 1.1 1.5-3.4 1.5 .1 1.5-3.6 1.5-1.1 1.5 7.2 1.5-.7 1.5-1.3 1.5-1.5 1.5 1 1.5-2.5 1.5 2.3 1.5-3.6 1.5-1 1.5-.9 1.5 6.3 1.5-4.2 1.5-2.1 1.5 .4 1.5-3.2 1.5 2.4 1.5-2.6 1.5 6.8 1.5 .9 1.5-2.9 1.5 2 1.5-.3 1.5-3.6 1.5 3.1 1.5 1.9 1.5-1.3 1.5 3.6 1.5 2.3 1.5 6.9 1.5-1.7 1.5 3.6 1.5-2.7 1.5-5.7 1.5 .7 1.5-2.3 1.5 1.4 1.5-2.4 1.5 4 1.5 .8 1.5 .7 1.5 1 1.5 2.8 1.5 4.1 1.5 .1 1.5 1.4 1.5-5.9 1.5 1.5 1.5-3.3 1.5-3 1.5 .6 1.5 .2 1.5 1.1 1.5 3.2 1.5 1.6 1.5-1.6 1.5 1.4 1.5-6.1 1.5 3.3 1.5 7 1.5-4.5 1.5-1 1.5 5.6 1.5-3.4 1.5 3.8 1.5-2.8 1.5-3.7 1.5-7.2 1.5 6.1 1.5-4 1.5 4.2 1.5 1 1.5 1.7 1.5-2.1 1.5 .4 1.5 3 1.5-1.8 1.5 .2 1.5-2.5 1.5-1.6 1.5-.1 1.5-1 1.5 .9 1.5-.5 1.5-2.1 1.5-.4 1.5 1.5 1.5-2.4 1.5 1.4 1.5-2.3 1.5-2.1 1.5 6.3 1.5-.7 1.5 2.7 1.5-8.7 1.5 1.4 1.5-.1 1.5 3.3 1.5 2.1 1.5 4.4 1.5 1.9 1.5-.5 1.5 1.2 1.5 4.3 1.5-5.4 1.5 1.8 1.5-6.4 1.5 3.6 1.5-2.1 1.5 0 1.5-.1 1.5-3.9 1.5 .4 1.5 2.9 1.5-6.8 1.5 3.6 1.5-.8 1.5-4.8 1.5-.5 1.5 .6 1.5 5.9 1.5-5.5 1.5 4.8 1.5-.8 1.5 2 1.5 1.2 1.5-.4 1.5 .5 1.5 1.5 1.5-4 1.5 3.6 1.5-4.5 1.5 1.4 1.5 4.2 1.5-4.6 1.5-3.4 1.5-3 1.5 1.1 1.5-1.6 1.5-2.4 1.5 2.6 1.5-.4 1.5-3.9 1.5 3 1.5-2 1.5 1.1 1.5 .3 1.5-1.3 1.5-1.6 1.5 3.7 1.5-2.3 1.5 1.2 1.5-.2 1.5 1.5 1.5-2 1.5 3.5 1.5-5.9 1.5 4.6 1.5 4 1.5-3.6 1.5 4.4 1.5-4.8 1.5 3.7 1.5-6.1 1.5-1.4 1.5 2.2 1.5-.1 1.5-.5 1.5-.8 1.5-3.5 1.5 8.5 1.5-3.9 1.5 3.2 1.5-1 1.5 4.3 1.5 .2 1.5-4.8 1.5 .4 1.5-3.1 1.5-7.4 1.5 10.3 1.5 .7 1.5-6.2 1.5 4.6 1.5 0 1.5-4.2 1.5-1.6 1.5 3.4 1.5 1.7 1.5-6.9 1.5 3.8 1.5 2.2 1.5 .2 1.5 2.4 1.5-2.8 1.5 3.4 1.5-.8 1.5-.4 1.5 .6 1.5-2 1.5 1.6 1.5-1.7 1.5-3.3 1.5 .8 1.5-2.1 1.5 3.9 1.5-.3 1.5-5.6 1.5 2.9 1.5 .6 1.5-.7 1.5 2.1 1.5-1.2 1.5 1.3 1.5-.8 1.5 .8 1.5-2.5 1.5-2.5 1.5 4.4 1.5-1.2 1.5 .3 1.5-.3 1.5-4.5 1.5 5.2 1.5 .5 1.5 1.1 1.5 0 1.5-1.4 1.5 .1 1.5-.5 1.5-.8 1.5 7.3 1.5-7.9 1.5 3.4 1.5 1.1 1.5-1 1.5-.9 1.5 .9 1.5-.6 1.5-4.3 1.5 2.7 1.5-4.4 1.5-1.3 1.5 2.4 1.5-5.5 1.5-.9 1.5 2.8 1.5-1.2 1.5-2.2 1.5-2.7 1.5 9.5 1.5-4.6 1.5 .6 1.5 .7 1.5 6.7 1.5-2" stroke="#f59a9a" stroke-width="1.05" fill="none" stroke-linejoin="round"/>
<path d="M133 820.2l1.5-2.7 1.5-4.1 1.5 3.9 1.5-1.3 1.5 1 1.5-3.1 1.5-.1 1.5-1.3 1.5 3.2 1.5-1.2 1.5 2.1 1.5-1.6 1.5-3.6 1.5-4.8 1.5 5.1 1.5-.9 1.5 4.6 1.5-4.1 1.5 4.4 1.5-1.1 1.5 3.8 1.5-.8 1.5-6.5 1.5 2.1 1.5-.7 1.5 2.6 1.5 2.2 1.5-1.7 1.5-2.7 1.5-2.1 1.5 1.1 1.5 .6 1.5 3.4 1.5-2.8 1.5 2.2 1.5 3.7 1.5-5.4 1.5 .4 1.5 1 1.5-.4 1.5 2.5 1.5-4 1.5-3.3 1.5-1.7 1.5 1.7 1.5 1.3 1.5-7 1.5 2.7 1.5 2.8 1.5-1.9 1.5-.3 1.5 1.3 1.5-2.4 1.5 0 1.5 1.7 1.5-2 1.5 .5 1.5 4.6 1.5-1.2 1.5 6.7 1.5 2 1.5-3.3 1.5 5.1 1.5-2.3 1.5-3.5 1.5 6.5 1.5 .4 1.5 3.8 1.5 .9 1.5-1.3 1.5-4.3 1.5-7.1 1.5 2.6 1.5 5.7 1.5-10.9 1.5 3.1 1.5-1.9 1.5 4.2 1.5 2.8 1.5-6.5 1.5 2.5 1.5-1.1 1.5-.6 1.5 4.1 1.5-.1 1.5-.4 1.5 .9 1.5-.9 1.5-1.2 1.5-4 1.5 4.9 1.5-1.5 1.5-2 1.5-1.6 1.5-2.6 1.5 4.8 1.5-1.2 1.5 1.4 1.5 2.7 1.5-2.9 1.5 .5 1.5-1.1 1.5-1.1 1.5 2.6 1.5 4.1 1.5-1.6 1.5 2.7 1.5-2.5 1.5 .4 1.5 2.5 1.5-.2 1.5 1.5 1.5-3.2 1.5 5 1.5-1.2 1.5-1.8 1.5 4.8 1.5-1.8 1.5-2.4 1.5-1.2 1.5 2.7 1.5-2.6 1.5 1.8 1.5-1.1 1.5-4 1.5-1.9 1.5 3.2 1.5-.6 1.5-2.5 1.5 .3 1.5-2 1.5 1.9 1.5 2.5 1.5-.2 1.5-1 1.5 3.4 1.5-4.9 1.5-1 1.5 4.3 1.5 4.1 1.5-3.9 1.5-.7 1.5 4.4 1.5-5.8 1.5 .9 1.5-2.4 1.5-.4 1.5 1.6 1.5-2.5 1.5 5.8 1.5 1.2 1.5-7.6 1.5-1.6 1.5 2.3 1.5-.3 1.5 .9 1.5-3 1.5-.6 1.5 4.1 1.5-2.8 1.5-1.3 1.5 .6 1.5 1.9 1.5 0 1.5-4.9 1.5 1.7 1.5 .1 1.5 6 1.5-3.4 1.5 1.4 1.5 4.9 1.5-2.4 1.5-1.1 1.5 1.6 1.5 2.3 1.5 3.3 1.5-1.1 1.5-1.5 1.5-1.7 1.5-4.4 1.5 3.3 1.5-4.9 1.5-.1 1.5 4.4 1.5 1.7 1.5-3.8 1.5-3 1.5 0 1.5 5.5 1.5-1.3 1.5 3.9 1.5 4 1.5-3.8 1.5-3.3 1.5 1.2 1.5-1.5 1.5-3.7 1.5 3.7 1.5 .4 1.5 .6 1.5 .8 1.5 .9 1.5 .4 1.5-1.8 1.5-.9 1.5 3.2 1.5-3.9 1.5 5.4 1.5-3.6 1.5-3.3 1.5 2.6 1.5 6.5 1.5-1.1 1.5-1.9 1.5-4.1 1.5-.1 1.5 1.1 1.5 1.6 1.5-.7 1.5-2.8 1.5 6.6 1.5-8.4 1.5 6.3 1.5 .9 1.5-1.9 1.5-1.4 1.5-.5 1.5-1.6 1.5 1.4 1.5 2.7 1.5-5.9 1.5 3.6 1.5-3.8 1.5 3.1 1.5-.3 1.5 .7 1.5 9 1.5-7.1 1.5 4.3 1.5 1.9 1.5-4.1 1.5-.2 1.5-2.2 1.5 3.5 1.5-3.1 1.5 1.3 1.5-.2 1.5 8.6 1.5-4.6 1.5-1.4 1.5 .3 1.5 .8 1.5-7.2 1.5 3.8 1.5-1.6 1.5 1.4 1.5 1.5 1.5 3.9 1.5-10.8 1.5 9.1 1.5-4.3 1.5 4.1 1.5-.5 1.5-1.5 1.5 4 1.5-2.3 1.5-8.7 1.5 4.5 1.5-4.3 1.5 3.7 1.5-3.2 1.5-.5 1.5 3.9 1.5 1.7 1.5-3.7 1.5-.4 1.5 .6 1.5 4 1.5-1.9 1.5-.1 1.5 3 1.5 2.1 1.5-2.7 1.5 4.4 1.5-1.9 1.5 4.2 1.5 2.9 1.5-.1 1.5-.7 1.5-7.9 1.5 4 1.5-4.2 1.5-1.3 1.5 .2 1.5 3.8 1.5 .4 1.5-7.2 1.5 4.8 1.5-.2 1.5-5.2 1.5 4.1 1.5-4.5 1.5 2.1 1.5 2.2 1.5-3.9 1.5 1.6 1.5-7.4 1.5 5.9 1.5-7.2 1.5-1 1.5 5.1 1.5-5.1 1.5-.3 1.5 .4 1.5 1.5 1.5-1.7 1.5-1 1.5 4.3 1.5-.4 1.5-2.4 1.5 .9 1.5 3.5 1.5 .5 1.5-2.5 1.5-2 1.5 2.6 1.5-.8 1.5 7.6 1.5-4.1 1.5-.2 1.5 2.1 1.5 2.3 1.5 1.3 1.5 .4 1.5-.6 1.5 4.9 1.5-5.9 1.5-1.1 1.5 3.4 1.5-2.4 1.5 3.7 1.5-5 1.5-2.1 1.5 3.2 1.5-.8 1.5 1 1.5-3.8 1.5 8.7 1.5-3.3 1.5-.2 1.5-1.7 1.5 0 1.5 .1 1.5-4.5 1.5-3 1.5-1.8 1.5 5.4 1.5-.9 1.5-1.6 1.5 4.6 1.5 1.4 1.5 3.3 1.5-2.3 1.5-1.3 1.5-2.8 1.5 .8 1.5-.4 1.5-4.1 1.5 1.9 1.5-3.1 1.5 1.1 1.5-.8 1.5-6 1.5 4.1 1.5-.8 1.5 2.6 1.5 .8 1.5-.5 1.5-2.4 1.5 6.9 1.5-2.6 1.5-.7 1.5 2.1 1.5 .6 1.5-4.4 1.5-.5 1.5 2.9 1.5 .7 1.5 1.1 1.5 8.6 1.5-1.2 1.5-.4 1.5-2 1.5 3.3 1.5-.7 1.5 1.2 1.5-4.6 1.5-3.5 1.5 3.2 1.5-.1 1.5-6.1 1.5-3.1 1.5 11.5 1.5-4.8 1.5-1.9 1.5 4.6 1.5-3 1.5 .5 1.5 5.3 1.5-3.9 1.5-1.8 1.5-2 1.5 2.6 1.5 0 1.5-6.1 1.5 3.3 1.5-4.1 1.5 4.4 1.5-5.5 1.5 3.7 1.5-2.4 1.5 7.5 1.5-8 1.5 10 1.5-5.6 1.5 3.1 1.5-.7 1.5 2.9 1.5 1.8 1.5-6.6 1.5 1.7 1.5 4.8 1.5-7.5 1.5 .7 1.5-2.2 1.5 5.3 1.5-.2 1.5 1.4 1.5-4 1.5-1.3 1.5-.7 1.5 2.4 1.5 .7 1.5 3.9 1.5 .3 1.5 .3 1.5-3.7 1.5 .8 1.5-3.4 1.5-1.4 1.5 .6 1.5 1.5" stroke="#f59a9a" stroke-width="1.05" fill="none" stroke-linejoin="round"/>
<path d="M133 811.8l1.5 5.1 1.5-4.4 1.5-1.2 1.5-2.7 1.5 3.3 1.5-.2 1.5-.8 1.5 3.8 1.5-5.5 1.5 3.8 1.5 4.6 1.5-4 1.5 1.6 1.5-5.9 1.5 6.1 1.5 2.1 1.5 .2 1.5 3.9 1.5 2 1.5-4.1 1.5 1.5 1.5 2.9 1.5-1.5 1.5-1.8 1.5-3.9 1.5-1.5 1.5 6.8 1.5-.4 1.5-1 1.5-2.9 1.5-5.2 1.5 0 1.5 .3 1.5 5.8 1.5-4.5 1.5-3.1 1.5 5.9 1.5-3.1 1.5-.8 1.5-5.9 1.5 4.8 1.5 1.3 1.5 3.4 1.5-4.7 1.5-2.9 1.5 4.8 1.5 3.5 1.5-3.2 1.5 1.1 1.5-8.4 1.5 6.3 1.5-2.3 1.5 1.6 1.5 1 1.5 2.8 1.5-1.8 1.5 5.2 1.5-8.5 1.5-.4 1.5-.2 1.5 7.4 1.5-.7 1.5-4.8 1.5-3.3 1.5 3.9 1.5 3 1.5-.8 1.5-.4 1.5-.7 1.5-.8 1.5 5.8 1.5-2.8 1.5-1.4 1.5-1.5 1.5 5.1 1.5-4 1.5-1.6 1.5 .2 1.5 3.2 1.5-.6 1.5-.7 1.5 .7 1.5 1.2 1.5 .4 1.5-3.1 1.5 1.5 1.5 2 1.5 7.3 1.5 2.3 1.5-3.2 1.5-4.4 1.5 1 1.5-.5 1.5-2.4 1.5 2.5 1.5-4.4 1.5 6.2 1.5-2.1 1.5 1.4 1.5-7.6 1.5 .5 1.5-1.8 1.5 2.9 1.5 1.5 1.5 1.1 1.5 1.6 1.5-6.3 1.5-3.9 1.5 2.7 1.5 0 1.5 1.9 1.5-2.7 1.5-1.7 1.5 7.5 1.5-.9 1.5-2.1 1.5-3.3 1.5-1.3 1.5-.1 1.5 1.9 1.5-.4 1.5 3 1.5 .1 1.5-5.2 1.5-.2 1.5 1.7 1.5-.5 1.5 3.1 1.5 2.8 1.5 0 1.5-5.8 1.5 2.8 1.5 1.7 1.5 1.2 1.5-.5 1.5 .5 1.5-2 1.5-1 1.5-2.1 1.5 2 1.5 1.8 1.5 3.1 1.5 .9 1.5-.7 1.5 0 1.5-2.8 1.5 1.9 1.5-.2 1.5 7.6 1.5-9.7 1.5 3.7 1.5-3.4 1.5-3 1.5 3 1.5 1.3 1.5-3.5 1.5 6.3 1.5-1.9 1.5-1.2 1.5 1.5 1.5-1.1 1.5 1.1 1.5-.5 1.5 1.7 1.5-3.2 1.5 3.9 1.5 6.4 1.5-6.6 1.5 7.5 1.5 3.5 1.5-4.9 1.5-5 1.5 1.4 1.5-5.3 1.5 5.6 1.5 .1 1.5-.3 1.5 .8 1.5 3.1 1.5-5.9 1.5 1.8 1.5 1.8 1.5-2 1.5 5.1 1.5-6.6 1.5-.4 1.5 .7 1.5-3 1.5 3.2 1.5-3.9 1.5-2.6 1.5 3.6 1.5-1 1.5 1 1.5-3.6 1.5-1.8 1.5 2.8 1.5-1.2 1.5 4.5 1.5-3.2 1.5-1.6 1.5 6 1.5-4.8 1.5-.8 1.5 2.3 1.5 1.4 1.5-5.3 1.5 2.7 1.5 .2 1.5-1.7 1.5-.8 1.5 3.6 1.5-2.4 1.5 5.5 1.5-5.9 1.5 2.7 1.5 3.6 1.5 2.5 1.5 1.4 1.5 2.6 1.5-3.9 1.5-8.4 1.5 4.1 1.5 4.6 1.5-6.8 1.5 2.1 1.5 .5 1.5 1.4 1.5-1.1 1.5-6.7 1.5 1.2 1.5 6.1 1.5-3.2 1.5 3.4 1.5-1.6 1.5-3.8 1.5-.1 1.5 2.5 1.5 4.3 1.5-3.5 1.5-4.8 1.5-.4 1.5 3.5 1.5-2.5 1.5 .2 1.5-.3 1.5 8.2 1.5-3.2 1.5-3.4 1.5 5.6 1.5 1.1 1.5-4.3 1.5 .1 1.5 3 1.5-3 1.5-.6 1.5 3.4 1.5-1.7 1.5 4.6 1.5-2.4 1.5-2.7 1.5-1.5 1.5-.6 1.5 5.8 1.5-7.7 1.5 3.6 1.5-2.5 1.5 6.7 1.5-4.2 1.5-4 1.5 3.3 1.5 2.6 1.5-.4 1.5-4.7 1.5 7.1 1.5-2.5 1.5 1.9 1.5 0 1.5-1.6 1.5 5.9 1.5-4.7 1.5 2.6 1.5 4.8 1.5 1 1.5-7.4 1.5 .9 1.5 2.3 1.5-2.3 1.5-4.1 1.5-2.3 1.5 2.9 1.5-3.4 1.5-3.6 1.5 5.1 1.5 1.8 1.5 .2 1.5 .5 1.5 4.9 1.5-3.3 1.5-1.1 1.5-3.3 1.5 6.8 1.5-6.9 1.5 2.4 1.5-3.6 1.5 3.2 1.5-5.5 1.5 5.9 1.5-6.5 1.5 5.1 1.5-1.5 1.5 3.6 1.5-2.4 1.5 .6 1.5-4.6 1.5 4.3 1.5-1.1 1.5 2.5 1.5-1.7 1.5 .6 1.5 2.8 1.5-4 1.5-.6 1.5-1.7 1.5 5.1 1.5-3.3 1.5-3 1.5 6.1 1.5 3.4 1.5-1.7 1.5-2.3 1.5 .9 1.5-1.5 1.5-4.2 1.5-2.5 1.5 9 1.5-4.3 1.5 2.9 1.5-3.6 1.5 0 1.5-2.7 1.5 3.5 1.5-2.1 1.5-1.7 1.5-.6 1.5-2.5 1.5-3.6 1.5 7.4 1.5-.9 1.5-3.4 1.5 1.7 1.5-3.1 1.5-1.6 1.5-1.4 1.5-.4 1.5 3.2 1.5-1.4 1.5 .9 1.5 5.8 1.5-.2 1.5 4.3 1.5 3.9 1.5-1.5 1.5-.5 1.5-.3 1.5-1.5 1.5 .3 1.5 0 1.5 .8 1.5 .2 1.5 1.8 1.5-5.1 1.5-3 1.5-.1 1.5 5.6 1.5-4.8 1.5-3.6 1.5-2.7 1.5 5.6 1.5 1.2 1.5-3.7 1.5 5.7 1.5-1.3 1.5-.3 1.5 .3 1.5 2.2 1.5-.8 1.5 5.3 1.5 0 1.5-6.4 1.5 5.3 1.5-2.2 1.5 .7 1.5-2.7 1.5 7.8 1.5-4.5 1.5-2.3 1.5 3.1 1.5-4.9 1.5-3 1.5 .7 1.5-.2 1.5 .1 1.5-1.6 1.5 3 1.5-1.7 1.5 3.3 1.5 .5 1.5 .7 1.5 1.9 1.5-1.6 1.5-6.2 1.5 2.2 1.5 .1 1.5-1.2 1.5-1.5 1.5 4.9 1.5-2.3 1.5 3.1 1.5 1.3 1.5-4 1.5 4.5 1.5-.3 1.5-4.8 1.5 4.6 1.5-1.9 1.5-2.3 1.5 1.1 1.5 1.3 1.5 2 1.5-6.5 1.5-.3 1.5 6.8 1.5 3.3 1.5 1.4 1.5-5.3 1.5-2.3 1.5-.3 1.5-.6 1.5-4.2 1.5 4.7 1.5 3 1.5 2.4 1.5-9.8 1.5 3 1.5 2.6 1.5 4.8 1.5-5.6 1.5-1.6 1.5 .4 1.5 4.1 1.5 6" stroke="#f59a9a" stroke-width="1.05" fill="none" stroke-linejoin="round"/>
<path d="M133 815.3l1.5-2.3 1.5 2.3 1.5-3.5 1.5-.7 1.5 1 1.5 .4 1.5 1.9 1.5-.6 1.5 .5 1.5-.5 1.5 .1 1.5 2.6 1.5-3.7 1.5 2.3 1.5 .8 1.5 2.1 1.5-1.9 1.5-2.3 1.5 1 1.5-4.4 1.5 .2 1.5 2.8 1.5 .8 1.5-.3 1.5-2.9 1.5 10.4 1.5-1.9 1.5 3.3 1.5-2.6 1.5-1.4 1.5 3.2 1.5-.3 1.5-3.8 1.5-5.4 1.5 6.9 1.5-7 1.5 6.9 1.5-3.6 1.5 .7 1.5 .5 1.5-.5 1.5 .3 1.5-4.1 1.5 5.4 1.5-8 1.5 2.6 1.5 4 1.5 4.8 1.5-7.5 1.5 2.2 1.5 2 1.5-1.5 1.5 .3 1.5 .3 1.5-1.9 1.5 5.9 1.5-2 1.5-1.4 1.5-1.3 1.5 .1 1.5 3.5 1.5 .1 1.5-.6 1.5-1.7 1.5-3.8 1.5 5.6 1.5-3.2 1.5-3.2 1.5 3 1.5-.7 1.5 1.2 1.5-3.5 1.5-1.1 1.5 1.6 1.5 1.4 1.5-2.7 1.5-1.3 1.5 .8 1.5 4.5 1.5-.8 1.5 2.1 1.5 0 1.5-3.9 1.5-4.1 1.5 2.9 1.5-6 1.5 .6 1.5 4.1 1.5-4.2 1.5 3.7 1.5-.6 1.5 7.8 1.5-9.3 1.5 3.7 1.5-1 1.5 1.1 1.5 1.4 1.5-.2 1.5-1 1.5-4 1.5 6.2 1.5-3.7 1.5 6.2 1.5-5.2 1.5-2.9 1.5 .3 1.5-1.4 1.5 3.7 1.5 .1 1.5 2.9 1.5 .8 1.5-1.6 1.5 2.7 1.5-.9 1.5-3 1.5 .8 1.5-1 1.5 1 1.5 3.9 1.5 .8 1.5-5.3 1.5-6 1.5 6.8 1.5-3.2 1.5 1.9 1.5-.1 1.5-1.5 1.5 4.5 1.5-3.5 1.5 1.5 1.5 2.2 1.5-.9 1.5-2.2 1.5-2.9 1.5 4 1.5 5.4 1.5 2.8 1.5-9.2 1.5-.2 1.5-5.1 1.5 3.3 1.5-3.7 1.5 1.8 1.5 .5 1.5-.7 1.5 .9 1.5-.4 1.5 3.9 1.5-2.2 1.5 2.6 1.5 .8 1.5-4.1 1.5 7.4 1.5 .4 1.5 3.1 1.5 .5 1.5-2.5 1.5 .1 1.5 2.5 1.5-6.3 1.5 3.8 1.5-6.2 1.5 .8 1.5 1.2 1.5-8 1.5 .9 1.5 4 1.5-6.1 1.5 2.3 1.5 1.8 1.5-2.7 1.5 3 1.5-3 1.5-2.5 1.5-2.4 1.5 4.4 1.5 2.5 1.5 1.1 1.5-.4 1.5-3.2 1.5-1.1 1.5 3.3 1.5 .7 1.5-.6 1.5-3.4 1.5-.9 1.5 2.4 1.5 4.8 1.5 4.5 1.5 4.9 1.5-5.1 1.5-2.2 1.5 1.8 1.5-.3 1.5 2 1.5-1.3 1.5-5.7 1.5-1.9 1.5-2.2 1.5 7.9 1.5-.6 1.5-2.6 1.5 3 1.5 2.4 1.5 .2 1.5 .2 1.5 .5 1.5-1.2 1.5-6.3 1.5-2.8 1.5 4.8 1.5 2.1 1.5-.9 1.5-10.3 1.5 10.2 1.5-2.2 1.5 1.4 1.5-.2 1.5-1.1 1.5 .1 1.5 .2 1.5 2 1.5-7.1 1.5 8.4 1.5 .1 1.5-.7 1.5 2.7 1.5 2.7 1.5-11.5 1.5 3.4 1.5 2.3 1.5 3.3 1.5 1.6 1.5-5.2 1.5-.5 1.5 4.4 1.5-2.9 1.5 5.6 1.5-4.3 1.5-3.7 1.5-.1 1.5 3 1.5-1.9 1.5 3 1.5-.9 1.5-5.4 1.5 7.1 1.5 3.7 1.5 .3 1.5-.7 1.5 .7 1.5 .7 1.5-1.6 1.5 2.6 1.5-1.9 1.5-3.3 1.5-.7 1.5 2 1.5-2 1.5-3.9 1.5 2.3 1.5-1.5 1.5-2 1.5 1.9 1.5 1.8 1.5 2.1 1.5-3.3 1.5 6.3 1.5-3.6 1.5 1.3 1.5 6.6 1.5-3.6 1.5 3.6 1.5-5.8 1.5 1.2 1.5 1.3 1.5-2.2 1.5-1.3 1.5-1.5 1.5 5.6 1.5-.6 1.5-6 1.5-.1 1.5 3 1.5-1.6 1.5-.2 1.5-4 1.5 .7 1.5-1 1.5 4.2 1.5-3.3 1.5-2 1.5 2.8 1.5 4.5 1.5-4.3 1.5-.3 1.5 5.3 1.5-2.7 1.5 1.1 1.5 .5 1.5-2.8 1.5 2.8 1.5 4.8 1.5-6.8 1.5-.7 1.5 3.7 1.5 1.7 1.5-4 1.5 4.4 1.5 .2 1.5-.3 1.5 .6 1.5-4.3 1.5-2.6 1.5 3.7 1.5 .9 1.5-1.7 1.5 .1 1.5 1 1.5 .7 1.5 6.1 1.5-3.7 1.5-1.8 1.5-2 1.5 1.1 1.5-.6 1.5-3.6 1.5-1.5 1.5 2.9 1.5 .8 1.5-3.6 1.5-4.7 1.5 1.5 1.5 0 1.5-1.5 1.5 2.3 1.5-4.8 1.5-3.4 1.5 8 1.5-2.4 1.5-1.3 1.5 6.2 1.5-5.1 1.5-.8 1.5 4.1 1.5 .1 1.5 2 1.5-2.4 1.5 4.9 1.5-.8 1.5-1.9 1.5-1.9 1.5 4.6 1.5-4.7 1.5 5.1 1.5 3.5 1.5-9.6 1.5-2.4 1.5 10.7 1.5-2.9 1.5 2.1 1.5-2.5 1.5-1.5 1.5-1.1 1.5-2.2 1.5 3.7 1.5-2.9 1.5-2.3 1.5-.9 1.5 2.2 1.5-.2 1.5 .2 1.5 3 1.5 2.1 1.5-1.4 1.5 1.2 1.5 4.6 1.5-.4 1.5-1.9 1.5-2.6 1.5 3.3 1.5-2.4 1.5-1.7 1.5-3.1 1.5 1.3 1.5 .9 1.5-2.2 1.5 1.9 1.5-1.4 1.5 2.3 1.5 .6 1.5 .4 1.5-4.8 1.5-.2 1.5 10 1.5 2 1.5-2 1.5-1 1.5-3.3 1.5-3.5 1.5 4.1 1.5 0 1.5-3.5 1.5 3.6 1.5-4.3 1.5 .9 1.5 1.2 1.5 .9 1.5 1.9 1.5-1.2 1.5 .6 1.5-3.2 1.5-3 1.5 2.8 1.5 3 1.5-2.3 1.5-.6 1.5-2.9 1.5-2.9 1.5 1.2 1.5 .4 1.5 3.4 1.5-.5 1.5-2.3 1.5 1.3 1.5 2.6 1.5-1.9 1.5 4.5 1.5 1.1 1.5 1.7 1.5 1.4 1.5-5.3 1.5 1.2 1.5 0 1.5 .2 1.5-1.8 1.5 .8 1.5 3.6 1.5-2 1.5-1.2 1.5-1.5 1.5 1.6 1.5-.7 1.5-3.7 1.5 0 1.5-.4 1.5-8.3 1.5 7.8 1.5 1.5 1.5 4.6 1.5-3.9 1.5-3.4" stroke="#f59a9a" stroke-width="1.05" fill="none" stroke-linejoin="round"/>
<path d="M133 822l1.5 .8 1.5-3 1.5 .7 1.5-2 1.5-1.2 1.5 4.5 1.5-3.6 1.5 3.5 1.5-1.2 1.5-4.8 1.5 5 1.5-5.3 1.5 0 1.5 .2 1.5 1 1.5 .1 1.5-1.9 1.5 4.1 1.5-1.4 1.5-5.1 1.5 1 1.5 4.2 1.5-2 1.5-1.6 1.5 3.2 1.5-6.5 1.5 1.9 1.5 .5 1.5 5.7 1.5 1.9 1.5-6.6 1.5-1.5 1.5-1.5 1.5 2.4 1.5-.5 1.5 1.5 1.5-3.6 1.5-.9 1.5 .6 1.5 3.8 1.5-1.9 1.5 2.1 1.5-.9 1.5 1 1.5 2.5 1.5-4.8 1.5 2.7 1.5-.4 1.5-.3 1.5 .8 1.5-.3 1.5 1.8 1.5 4.1 1.5-2.2 1.5 2.5 1.5-8.6 1.5 8.2 1.5-8 1.5-1 1.5 2.8 1.5-2.4 1.5-2.5 1.5 .6 1.5 4.1 1.5-4.9 1.5 1.9 1.5-3.7 1.5 6 1.5-1.2 1.5-.9 1.5 5.8 1.5-4.2 1.5-.5 1.5 1.8 1.5-3.3 1.5 3.3 1.5-3 1.5 2.9 1.5-1.3 1.5-.5 1.5 1.1 1.5 1.3 1.5-.4 1.5-1.5 1.5-3.4 1.5 1.9 1.5 1.4 1.5-2.5 1.5 3 1.5-4.9 1.5 4.7 1.5-.1 1.5-3.4 1.5 6 1.5-1.2 1.5 2.7 1.5-5.3 1.5 6.8 1.5 0 1.5-3.5 1.5 1.5 1.5 1.9 1.5 4.4 1.5-.9 1.5-1.2 1.5-5.4 1.5-.8 1.5 .9 1.5 5.6 1.5-3.9 1.5-3.5 1.5 7.9 1.5-1.3 1.5 4.9 1.5 .1 1.5-9 1.5 .5 1.5 2.4 1.5 2.5 1.5-7.5 1.5-1.9 1.5-.5 1.5-2.9 1.5-3.1 1.5 2.4 1.5-3.1 1.5 5.5 1.5-3.4 1.5 2.7 1.5 2.4 1.5-7.4 1.5 .8 1.5 4.4 1.5-1.4 1.5 3.2 1.5-.1 1.5 2.4 1.5 1.2 1.5-3.3 1.5-2.1 1.5 2.2 1.5 2.9 1.5-3.4 1.5 11.6 1.5-5.1 1.5-1.8 1.5-.3 1.5 1.2 1.5-4.5 1.5 2 1.5 2.2 1.5-1.2 1.5-1.6 1.5 6.2 1.5-3.6 1.5 3 1.5 4.7 1.5-8.5 1.5 .7 1.5 9.1 1.5-3.7 1.5-6.2 1.5-5.2 1.5 3 1.5-3.5 1.5-1.9 1.5-.9 1.5 3.4 1.5 4.2 1.5-5 1.5-1.8 1.5 5.7 1.5-7.9 1.5 6.3 1.5 3.7 1.5-1.7 1.5 1.3 1.5 3.9 1.5 5.2 1.5-5.6 1.5-3 1.5 .3 1.5 2.5 1.5-4.9 1.5 1.7 1.5-4.9 1.5 3.1 1.5-.6 1.5-.5 1.5 5.4 1.5-2.1 1.5 2.9 1.5-4.2 1.5 7.6 1.5-1.7 1.5-3.2 1.5 .7 1.5-1.7 1.5 .9 1.5-.5 1.5 4.1 1.5-2.9 1.5 2.2 1.5-1.4 1.5 .2 1.5-4.7 1.5-1 1.5 1.5 1.5-1.5 1.5-1 1.5-.2 1.5 3.4 1.5 1 1.5 .4 1.5 1.2 1.5 2.5 1.5-.9 1.5 2.1 1.5-7 1.5-1.8 1.5 .1 1.5 0 1.5 0 1.5-4.7 1.5 3 1.5 3 1.5-.4 1.5-1.7 1.5-.9 1.5 2.6 1.5 1.4 1.5 1.6 1.5 1.6 1.5 .6 1.5-1.2 1.5-.9 1.5 .4 1.5 7.4 1.5-1.2 1.5 .3 1.5-5.4 1.5 1.4 1.5-.6 1.5 0 1.5-.1 1.5 2.1 1.5-3.1 1.5-3.2 1.5-2.1 1.5 6.2 1.5-2.7 1.5 4.6 1.5-9.9 1.5 6.7 1.5 .2 1.5-3 1.5 1.9 1.5 1.9 1.5-.1 1.5 .9 1.5-2.1 1.5-1.6 1.5 .2 1.5 12.1 1.5-9.9 1.5-1.5 1.5 .5 1.5 4.2 1.5-4.1 1.5 .2 1.5-7.5 1.5 2.8 1.5 4.8 1.5-.5 1.5-2.5 1.5 1 1.5 .8 1.5 5.9 1.5-9.5 1.5 2.1 1.5 3.4 1.5-2.4 1.5 1 1.5-2.3 1.5 5.9 1.5-.6 1.5-1 1.5 .4 1.5-5.5 1.5 .3 1.5 4.8 1.5-4.1 1.5-1 1.5 .8 1.5-.5 1.5-.3 1.5 1.8 1.5-5.7 1.5 3.1 1.5-.7 1.5 .4 1.5 .5 1.5-.5 1.5 2.1 1.5 3.2 1.5 2.8 1.5 4.7 1.5-5.5 1.5 3.9 1.5-7.4 1.5 5.3 1.5 3.7 1.5-1.8 1.5 3.9 1.5-1.7 1.5-3.5 1.5-1.1 1.5-2.4 1.5-2.4 1.5 .6 1.5 4.6 1.5-1.4 1.5-2.3 1.5-1.6 1.5 1.8 1.5 3.4 1.5 0 1.5-7.2 1.5 2.2 1.5 .6 1.5 .4 1.5 .3 1.5-.4 1.5-2.2 1.5 3.9 1.5 1.6 1.5-1.5 1.5 .1 1.5-.6 1.5 1.3 1.5-.6 1.5-1.9 1.5 1.7 1.5-.3 1.5 2.2 1.5-6.9 1.5 2.3 1.5-4.5 1.5 2.5 1.5 .9 1.5 7 1.5-1.8 1.5 .9 1.5 .6 1.5-2 1.5 1.1 1.5 6.7 1.5 .1 1.5-2.5 1.5-3.6 1.5 1.7 1.5-1 1.5-2.6 1.5 2.1 1.5 .6 1.5-5.8 1.5 4.9 1.5-.3 1.5-7.1 1.5 1 1.5 3.2 1.5-3.2 1.5 1.3 1.5 3.1 1.5-2.5 1.5-1.1 1.5-3.8 1.5-.2 1.5-.8 1.5 1.8 1.5 1.3 1.5 .8 1.5-1.8 1.5 3 1.5-2.3 1.5-5.4 1.5 4.3 1.5 3.5 1.5 2.7 1.5 1.1 1.5-5.8 1.5 3.5 1.5 1.2 1.5 .4 1.5-.3 1.5-2.2 1.5 1.8 1.5-2.2 1.5 7.1 1.5-3.5 1.5-3.7 1.5 .9 1.5 4.1 1.5 2.1 1.5-1.1 1.5-.5 1.5-2.5 1.5 2.5 1.5-3.9 1.5 1.5 1.5-5.9 1.5 6.9 1.5 2.7 1.5-4.3 1.5 5.2 1.5-.5 1.5-2.4 1.5-.8 1.5 5.4 1.5-6.8 1.5 1.8 1.5-.6 1.5-5.6 1.5-3.2 1.5 3.1 1.5-1 1.5 7.4 1.5-4.8 1.5-4 1.5 1.5 1.5 5.3 1.5 .9 1.5-2.8 1.5 3.4 1.5-1.1 1.5-2 1.5-5.1 1.5 4.3 1.5 .8 1.5-5.1 1.5 2.8 1.5-1.4 1.5-3.5 1.5-1.9 1.5 8.5 1.5-2.1 1.5-.7 1.5 1.8 1.5 .8 1.5 1.4 1.5-6.8 1.5 7.2" stroke="#f59a9a" stroke-width="1.05" fill="none" stroke-linejoin="round"/>
<path d="M133 823l1.5-3.1 1.5 4.2 1.5-2.5 1.5-2.2 1.5 1.2 1.5 1.2 1.5 3.1 1.5-.2 1.5-8.7 1.5 3.3 1.5 3 1.5 4.4 1.5-7 1.5-3.6 1.5 .4 1.5 2.7 1.5-1 1.5-2.3 1.5-3.2 1.5 4.2 1.5-1.1 1.5-3.8 1.5 .1 1.5 2.6 1.5 4.9 1.5-2.2 1.5-3.6 1.5 7 1.5-.5 1.5 .1 1.5-.8 1.5 2.7 1.5-.1 1.5 .6 1.5-.7 1.5 5.3 1.5-5.1 1.5-.9 1.5 1.2 1.5-1.8 1.5 1.4 1.5-2.8 1.5 3.8 1.5-4.2 1.5 3.5 1.5-5.2 1.5-2.1 1.5 4.1 1.5-7.2 1.5 4.7 1.5-4.8 1.5 5.5 1.5-.7 1.5 2.6 1.5-4.4 1.5 2.9 1.5 2.3 1.5-1.2 1.5 4.1 1.5-6.2 1.5-2 1.5-.6 1.5 6.1 1.5 3.2 1.5-2.5 1.5 2 1.5-3.6 1.5-1.2 1.5 1.8 1.5-.5 1.5 .6 1.5 2.9 1.5 3.3 1.5-1.7 1.5-2.8 1.5 2.9 1.5 .2 1.5 2.3 1.5 4.8 1.5-8.9 1.5-.3 1.5 3 1.5 1.4 1.5 2.7 1.5-3.3 1.5 5.9 1.5-5.3 1.5-1.6 1.5-4.2 1.5 2 1.5 .9 1.5-.9 1.5-3.2 1.5-3.9 1.5 4.6 1.5 .8 1.5-.6 1.5 2.6 1.5-.1 1.5-6.3 1.5 .6 1.5-2 1.5-1.5 1.5 4.9 1.5 1.7 1.5-3.1 1.5-4.9 1.5 7.2 1.5-.9 1.5 .3 1.5-2 1.5-4.2 1.5 .3 1.5-5.1 1.5-.4 1.5 3.6 1.5 3.2 1.5 1.8 1.5 4.7 1.5-2.7 1.5-.6 1.5 3.6 1.5-6 1.5 4.3 1.5-8.6 1.5 2.6 1.5 6.8 1.5-.9 1.5-.6 1.5-3.2 1.5 .9 1.5 4.8 1.5 2.5 1.5-.8 1.5-3.6 1.5 .3 1.5-1.5 1.5-1.4 1.5 3.5 1.5 5.5 1.5-.5 1.5-.8 1.5-1.7 1.5 5.4 1.5-1.7 1.5 .9 1.5 6.2 1.5-7 1.5-3.5 1.5 .2 1.5-2.9 1.5-1.3 1.5 .5 1.5-4.5 1.5 2.3 1.5-3.3 1.5 1.7 1.5 6.3 1.5-2.4 1.5-.8 1.5-.8 1.5-2 1.5-2.2 1.5 1.6 1.5 3 1.5-4.7 1.5 5.9 1.5-3.9 1.5-2.6 1.5 9.1 1.5-.2 1.5 1.3 1.5 1.5 1.5-2.9 1.5 3.2 1.5 .1 1.5-3.6 1.5-.9 1.5 3.1 1.5-1.2 1.5-.3 1.5-2.6 1.5-2.7 1.5 1.6 1.5-3.3 1.5 2 1.5 .9 1.5-5.6 1.5 9.2 1.5-5.8 1.5 .1 1.5 2.2 1.5 .4 1.5-1.2 1.5-.4 1.5 1.8 1.5 3.7 1.5-4.6 1.5 0 1.5 2.2 1.5 3.1 1.5-5.9 1.5 6 1.5-1.1 1.5-1.1 1.5 5.1 1.5-2.6 1.5 .6 1.5-5.2 1.5 5.7 1.5-9.1 1.5 3.3 1.5-4.9 1.5 2.6 1.5 2.2 1.5 9.6 1.5-.8 1.5-4.1 1.5 6.4 1.5-3 1.5 .3 1.5-5.6 1.5 2.5 1.5 3.9 1.5-4.5 1.5 1.3 1.5 1.7 1.5 .6 1.5-3.6 1.5-.8 1.5 1.4 1.5 .6 1.5-1.4 1.5-1.4 1.5-1.3 1.5-.7 1.5-.5 1.5-2.8 1.5 2 1.5-4.1 1.5 2.3 1.5-3.6 1.5 6.2 1.5-.5 1.5-2.7 1.5 .7 1.5-2.2 1.5 1 1.5-4.1 1.5 4.9 1.5 0 1.5 2.6 1.5-2.1 1.5 1.5 1.5-1 1.5-5.1 1.5 2.8 1.5-.2 1.5 3.5 1.5-2.9 1.5 .3 1.5 .1 1.5-.7 1.5-2.7 1.5-.1 1.5 2 1.5-.7 1.5 6.1 1.5-1.2 1.5-2.7 1.5-3.1 1.5-1.6 1.5 3.1 1.5-2.7 1.5 5.6 1.5 1.6 1.5 .7 1.5-2.3 1.5-1.9 1.5-8.9 1.5 6.8 1.5 1.5 1.5 .5 1.5 1 1.5 2.1 1.5-3.9 1.5-2.2 1.5 .4 1.5 2.2 1.5 6 1.5-4.1 1.5 1.1 1.5-.1 1.5 .1 1.5-1.2 1.5 4.8 1.5 .5 1.5-4 1.5 .2 1.5-.3 1.5-.1 1.5-4.5 1.5-4.8 1.5 4.3 1.5 6.7 1.5-5 1.5 1.5 1.5 1.2 1.5 1.3 1.5 2.6 1.5-1.3 1.5 1 1.5-4.5 1.5 4.2 1.5-.8 1.5 7.3 1.5-9.1 1.5 1 1.5-2.8 1.5 4.4 1.5 1.3 1.5-4.8 1.5 2.3 1.5 .1 1.5-4.9 1.5 5.8 1.5-2 1.5-.8 1.5-1.2 1.5-3.8 1.5 6.3 1.5-2.8 1.5-3.7 1.5 2.8 1.5-.3 1.5 2.7 1.5-4.3 1.5 3.6 1.5-.6 1.5 2.2 1.5-1.6 1.5 2.5 1.5-4.5 1.5-3.5 1.5 1.2 1.5-3.2 1.5 7.3 1.5 0 1.5-2.2 1.5-.7 1.5-.9 1.5 2.8 1.5-.6 1.5 1.9 1.5-4.2 1.5 .8 1.5-.8 1.5 3.8 1.5-2.8 1.5 2.4 1.5 1.5 1.5-2.1 1.5 2.7 1.5-.3 1.5 6.8 1.5-3.8 1.5-3 1.5 1.5 1.5-1.2 1.5-2 1.5-.7 1.5-5.6 1.5 8.1 1.5-.6 1.5-.1 1.5 1.9 1.5 1.4 1.5-3.8 1.5-1.3 1.5 7.5 1.5-5.5 1.5-3.1 1.5 3.7 1.5 .5 1.5-4.9 1.5 2.4 1.5-2.6 1.5-1.9 1.5 2.8 1.5-2.5 1.5 .2 1.5 4.1 1.5 1.5 1.5-.9 1.5-.7 1.5-9.8 1.5 5.2 1.5-1.6 1.5 2.1 1.5 2.2 1.5-3.7 1.5 3.1 1.5-1.1 1.5 .3 1.5 0 1.5 1.3 1.5-2.4 1.5 2.3 1.5 4.5 1.5-7 1.5 6.4 1.5-1.1 1.5-.5 1.5 .6 1.5 3.1 1.5 1.5 1.5-3.8 1.5 .9 1.5-.3 1.5 2.1 1.5-.4 1.5-.1 1.5-1.1 1.5-1.5 1.5 2 1.5-3.4 1.5 2.1 1.5 .1 1.5-2.8 1.5 4.4 1.5-3.6 1.5 2.1 1.5-.2 1.5 2.3 1.5-1.4 1.5-.1 1.5-3.8 1.5 1.7 1.5-5.6 1.5 .9 1.5-1 1.5 3.2 1.5 1.3 1.5 1.6 1.5-1.3 1.5 .6 1.5-1.1 1.5-.3 1.5 .9 1.5 4.7 1.5 3.8 1.5-7.4" stroke="#f59a9a" stroke-width="1.05" fill="none" stroke-linejoin="round"/>
<path d="M133 820.6l1.5 2.9 1.5-3.4 1.5 1.2 1.5-8.7 1.5 1.9 1.5 3.7 1.5-5.6 1.5 4 1.5 2.1 1.5-3.6 1.5 2.6 1.5-2.9 1.5-2.6 1.5 4.5 1.5-1.1 1.5 .3 1.5 0 1.5-1.6 1.5-3.5 1.5 5.3 1.5-5 1.5 8.1 1.5-2.8 1.5-2 1.5-5.7 1.5 3.1 1.5 2.7 1.5 1.1 1.5 2.7 1.5-3.5 1.5 .7 1.5 3.6 1.5 .2 1.5-1.2 1.5-.1 1.5-3.6 1.5 1.5 1.5 1.2 1.5 2.1 1.5 4.3 1.5-.5 1.5-2.9 1.5 3.1 1.5 .3 1.5-6.3 1.5 5 1.5-.6 1.5-4.3 1.5-.1 1.5 5.8 1.5-1 1.5-5.1 1.5 1 1.5-3.2 1.5 4.1 1.5-2 1.5 2.5 1.5-7.8 1.5 6.7 1.5 1.5 1.5-2.8 1.5-3.8 1.5 1.1 1.5 3.8 1.5-.5 1.5-3 1.5-.8 1.5 1.9 1.5 .7 1.5-2.3 1.5-5.5 1.5 4.2 1.5-.2 1.5-.1 1.5-1.1 1.5 4.1 1.5-.4 1.5 5.5 1.5-4.3 1.5 1.2 1.5 .5 1.5 2.6 1.5-6 1.5 2 1.5 .9 1.5-.6 1.5 1.8 1.5 .9 1.5 1.6 1.5-1.5 1.5 1.3 1.5-3.4 1.5 5.9 1.5-1.1 1.5 4.7 1.5-5.1 1.5 1.5 1.5-11.3 1.5 8.4 1.5-.8 1.5-.5 1.5 1.8 1.5 3.4 1.5 0 1.5-8.1 1.5 5.5 1.5-.8 1.5 1 1.5 1.6 1.5 1.1 1.5 2.3 1.5 2.4 1.5-4.8 1.5 4.4 1.5-2.7 1.5-1.9 1.5-5.4 1.5-.1 1.5 .7 1.5 3 1.5-4.6 1.5 2.3 1.5-3.2 1.5 5.3 1.5 .5 1.5 2.6 1.5-1.7 1.5 2.7 1.5-1.3 1.5-.5 1.5 2.8 1.5-4.7 1.5-.6 1.5-2.4 1.5-.7 1.5-5 1.5 1.8 1.5-1.1 1.5 3.2 1.5-1 1.5 4.6 1.5-5.4 1.5 .5 1.5-3.2 1.5 4.7 1.5 1 1.5-.2 1.5 1.6 1.5-2 1.5-4.3 1.5 5.3 1.5 2.6 1.5-5.1 1.5-2.9 1.5 1 1.5-.1 1.5-.3 1.5 9.5 1.5-3.6 1.5-1.4 1.5-1.6 1.5 2.1 1.5-5.9 1.5 .9 1.5 0 1.5-.1 1.5-.2 1.5 1.9 1.5 2.5 1.5 5.2 1.5-6.9 1.5 9.3 1.5-7.1 1.5 2.9 1.5-.2 1.5-1.1 1.5 4.9 1.5 1.4 1.5 .4 1.5-6.8 1.5 1.3 1.5 .8 1.5 5.2 1.5-3.8 1.5-1.9 1.5 3.5 1.5-6 1.5 3.8 1.5 2.3 1.5 .2 1.5 1 1.5-.6 1.5-.3 1.5-7.5 1.5 .3 1.5-1.7 1.5 .6 1.5 4.3 1.5-6.2 1.5 3.1 1.5 4.8 1.5 1.5 1.5-2.4 1.5-2.7 1.5 1.9 1.5-4.2 1.5-2.8 1.5 4.5 1.5-4.9 1.5 3.1 1.5-4.2 1.5 9.7 1.5-3.3 1.5-1.7 1.5 3.3 1.5-1 1.5-.7 1.5-2.5 1.5 .1 1.5-1.4 1.5-3.9 1.5 2.8 1.5-1.1 1.5 3.9 1.5-7.2 1.5-.2 1.5 7.9 1.5-.6 1.5-5.2 1.5 8.9 1.5-2.7 1.5-1.4 1.5 6.4 1.5-7.1 1.5 6.2 1.5 .9 1.5 3.5 1.5-7 1.5 1.8 1.5-5.6 1.5-.3 1.5-1.9 1.5 7.2 1.5-1.2 1.5 .7 1.5-2.2 1.5-4.5 1.5 .6 1.5 1.1 1.5-2.8 1.5 7.8 1.5-3.5 1.5-1.1 1.5-3.7 1.5 .8 1.5 6.2 1.5 3.4 1.5-1.5 1.5 1.8 1.5-.2 1.5-2.7 1.5-1.9 1.5 1.5 1.5 3.1 1.5-1.2 1.5-4.8 1.5 3.5 1.5 .4 1.5-2.8 1.5 0 1.5-1 1.5-2.7 1.5 5.1 1.5 3.4 1.5-2 1.5 4.1 1.5 4.8 1.5-5.6 1.5 1.3 1.5-1.5 1.5-5.3 1.5-5.1 1.5 8.1 1.5 0 1.5 .1 1.5-1.2 1.5-3.4 1.5-3.6 1.5-2.5 1.5 6.7 1.5-.2 1.5-1 1.5-1.6 1.5 8.7 1.5-1.3 1.5 1.6 1.5-5.1 1.5 3.2 1.5-.8 1.5-3.7 1.5-.4 1.5-2 1.5 6.9 1.5-2.6 1.5-2 1.5-1.2 1.5 4.6 1.5-5.2 1.5 2.6 1.5 3.8 1.5-6.1 1.5-3.3 1.5 1.9 1.5 1 1.5-1.1 1.5-1.9 1.5 1.3 1.5-.6 1.5 1.9 1.5-3.5 1.5 1 1.5 2.8 1.5 4 1.5-.5 1.5-2.6 1.5-.8 1.5 2.2 1.5 .7 1.5-1.8 1.5-3 1.5-2.4 1.5 1.2 1.5 .9 1.5-1.1 1.5-.8 1.5 2 1.5-5.8 1.5 5.4 1.5-1.4 1.5 3.5 1.5 2.6 1.5-3.1 1.5 7.2 1.5-2 1.5 1.9 1.5-4.5 1.5 7.1 1.5-1.4 1.5-1.7 1.5 1.4 1.5-2.5 1.5-2.5 1.5-3.2 1.5 3.1 1.5 2.1 1.5 2.7 1.5-4.1 1.5-1.4 1.5-.2 1.5 .1 1.5 4.8 1.5-2.3 1.5 3.1 1.5-3.7 1.5-2.2 1.5 4.4 1.5 3.2 1.5 2.5 1.5-.2 1.5-1.2 1.5-5.8 1.5-.8 1.5 0 1.5 1.2 1.5-4.2 1.5-5.6 1.5 3.9 1.5-4.6 1.5 3.4 1.5-6.4 1.5 1.2 1.5 5.4 1.5 2 1.5 2.5 1.5 .3 1.5-.2 1.5-3.1 1.5 2.6 1.5-4.3 1.5 3.8 1.5 4.8 1.5-6 1.5 3.9 1.5-5.7 1.5-2.2 1.5 4.9 1.5-2.5 1.5 1.8 1.5 .3 1.5 5.3 1.5-5.9 1.5 6.2 1.5-1.7 1.5 3.4 1.5-2 1.5-2.8 1.5 4.6 1.5-2.8 1.5-.3 1.5 3.6 1.5 1.1 1.5 1.1 1.5-.9 1.5 4.4 1.5-6.9 1.5 6.3 1.5-4.5 1.5-2.7 1.5 1.9 1.5-1.8 1.5-.4 1.5-4.5 1.5 1.3 1.5-4.7 1.5-1.8 1.5-1.3 1.5-2.9 1.5 9.6 1.5 .8 1.5-.3 1.5-7 1.5 5.7 1.5-2.2 1.5 4.7 1.5 .2 1.5-4.6 1.5 1.4 1.5-3.5 1.5 1.9 1.5-4.4 1.5 0 1.5 2.4 1.5-.9 1.5-1.9 1.5 6.4 1.5 2.1 1.5 .6 1.5 .7 1.5 7.4 1.5-1.3 1.5-5 1.5-1.1" stroke="#f59a9a" stroke-width="1.05" fill="none" stroke-linejoin="round"/>
<path d="M133 812l1.5 .6 1.5 2.4 1.5 3.8 1.5-1.1 1.5 0 1.5-.6 1.5 1.5 1.5-1.2 1.5-1.5 1.5-3.2 1.5 4.6 1.5 2.9 1.5 2.4 1.5 .6 1.5-1.5 1.5 1 1.5 2.4 1.5-2.9 1.5-1.8 1.5-.5 1.5 1.3 1.5-.8 1.5 1.3 1.5-2.7 1.5-3.4 1.5 4.6 1.5-1.4 1.5-1.3 1.5 3 1.5 2.1 1.5 2.1 1.5-3.9 1.5-2 1.5-1.1 1.5 1.2 1.5-.4 1.5-.5 1.5-.6 1.5-.1 1.5-1.9 1.5 4.2 1.5-2.2 1.5 2.3 1.5-2.7 1.5-1.2 1.5 1.3 1.5-.3 1.5 4.6 1.5-4.4 1.5-1.7 1.5-.5 1.5 1.2 1.5 1.9 1.5 3 1.5-4.8 1.5 .7 1.5 .8 1.5 2.7 1.5 1.9 1.5-6.2 1.5 6.9 1.5-5.7 1.5 1.9 1.5-1.2 1.5-2.7 1.5 1.8 1.5 6.8 1.5-5.5 1.5 1.6 1.5-3.7 1.5 .5 1.5 0 1.5-3.1 1.5 6 1.5 3.4 1.5-5.5 1.5 2.3 1.5-3.3 1.5 7.5 1.5-1.1 1.5-4.5 1.5 4.9 1.5-1.7 1.5 .7 1.5-2.3 1.5 2 1.5-8.1 1.5 0 1.5 .3 1.5 1.6 1.5-1.1 1.5 4.8 1.5-2.4 1.5 3 1.5-1.8 1.5-.2 1.5-3.5 1.5 1.9 1.5 .1 1.5 0 1.5 3.2 1.5-1.9 1.5-1.6 1.5 1 1.5-2.9 1.5 6 1.5-1.6 1.5-1.1 1.5 1.1 1.5 1.7 1.5-9.7 1.5 6.8 1.5-3.3 1.5-3.6 1.5 4.1 1.5-4.7 1.5 2.2 1.5-2.6 1.5-3.5 1.5 4.2 1.5 2.7 1.5 5 1.5-1.7 1.5-3.2 1.5 3.7 1.5-.7 1.5-.6 1.5-5.8 1.5-.5 1.5 7 1.5 2.2 1.5 .6 1.5-2.2 1.5 .3 1.5-2.8 1.5 1.8 1.5-.8 1.5-1.9 1.5-.7 1.5-2.3 1.5 .1 1.5 1.4 1.5-1.6 1.5 2.9 1.5 .7 1.5-1.6 1.5 3.4 1.5-3.6 1.5-3 1.5 1 1.5 2.9 1.5-4.8 1.5-2.5 1.5 5.9 1.5-2 1.5 4 1.5-3.6 1.5 3 1.5 .4 1.5 2.5 1.5 3.5 1.5-3.5 1.5-2.3 1.5 7.3 1.5-1.1 1.5 4.5 1.5 4.6 1.5-5.1 1.5-.2 1.5 .4 1.5-1.2 1.5-4.7 1.5-4.8 1.5-.9 1.5 2.8 1.5 1.7 1.5-.6 1.5-2.4 1.5 1.3 1.5 0 1.5-1.9 1.5 2.3 1.5 .3 1.5 2.5 1.5-1.9 1.5 1.8 1.5-2.4 1.5 1.7 1.5-3 1.5 1.5 1.5 .2 1.5 3.3 1.5-1.5 1.5-3.9 1.5 5.1 1.5-3.9 1.5 2.3 1.5-1.9 1.5 1.3 1.5 .8 1.5 1.5 1.5-2.4 1.5 1.2 1.5-2.6 1.5-2.2 1.5 1.6 1.5-1.6 1.5-.3 1.5-.4 1.5 1.4 1.5-2.8 1.5 .2 1.5 5.5 1.5-3.6 1.5 7.6 1.5-.7 1.5-1 1.5 1 1.5-.3 1.5 .9 1.5-.6 1.5 1.3 1.5 .9 1.5 0 1.5 2.6 1.5-1.9 1.5 2.9 1.5 1.5 1.5 .5 1.5-3 1.5-2.3 1.5 1.6 1.5-1.4 1.5-8.6 1.5 9 1.5-7.3 1.5 2.3 1.5 1.7 1.5-2.4 1.5-4 1.5-1.8 1.5 3.2 1.5 4 1.5 6.3 1.5-.5 1.5-6.2 1.5-2.3 1.5 7.2 1.5-4.1 1.5 4.7 1.5-1.8 1.5-3.8 1.5 2.3 1.5-4.8 1.5 1.3 1.5 4 1.5-7.2 1.5 3.8 1.5-5.5 1.5 6.8 1.5-11.7 1.5 8.2 1.5-.3 1.5 .6 1.5-.8 1.5 .9 1.5 .7 1.5 4.3 1.5 4.1 1.5 2.5 1.5-2.2 1.5-3.3 1.5 3.4 1.5-3.2 1.5-2.7 1.5 3 1.5-8.1 1.5 4.8 1.5 8.2 1.5-1.4 1.5-1.4 1.5 1.3 1.5-3.3 1.5 1.1 1.5 .4 1.5-.5 1.5 4.6 1.5-7.3 1.5 2.2 1.5 1.5 1.5-5 1.5 3 1.5 7.5 1.5-4.1 1.5 .5 1.5 2.6 1.5-5.8 1.5 2.5 1.5-2.5 1.5 .1 1.5-5.3 1.5 .8 1.5 2.1 1.5-2 1.5 2.3 1.5 5.2 1.5-3.5 1.5-1.7 1.5 1.2 1.5 4.9 1.5-5.7 1.5 0 1.5-.1 1.5 1.7 1.5-3.8 1.5-.4 1.5-.8 1.5 .9 1.5-2.7 1.5 3 1.5-2 1.5-.3 1.5-.9 1.5 .6 1.5 3 1.5 3.9 1.5 1.8 1.5-3.9 1.5-1.7 1.5-1 1.5-2.1 1.5-1.2 1.5 5.3 1.5-.6 1.5 .8 1.5 1.2 1.5 9.7 1.5-2.9 1.5-2.2 1.5 3.9 1.5-4.7 1.5 3.7 1.5-.8 1.5 4.4 1.5-1.4 1.5-5.7 1.5 1.1 1.5 7.7 1.5-3.8 1.5-8 1.5 2.5 1.5-1.6 1.5-2.5 1.5 .3 1.5-4 1.5 5.1 1.5-7.6 1.5-.9 1.5 10.3 1.5-2.3 1.5-2.1 1.5-1.4 1.5-2.4 1.5 2.8 1.5 .9 1.5-.7 1.5 .1 1.5 1.3 1.5-4.3 1.5 2 1.5-2.1 1.5 .9 1.5 .8 1.5-4.4 1.5 2.5 1.5 4.7 1.5-7.4 1.5 2 1.5 2.9 1.5-.2 1.5-1.9 1.5 1.7 1.5 .6 1.5 .5 1.5 2.8 1.5 3 1.5-.7 1.5-5.6 1.5 2 1.5-7.6 1.5 3 1.5 7.1 1.5-3.5 1.5-.9 1.5 1.8 1.5 1.9 1.5 2.7 1.5-3.8 1.5-3.2 1.5 1.6 1.5 7 1.5-3.5 1.5 2.9 1.5-5.6 1.5 7.6 1.5-2.6 1.5 2.6 1.5-5.5 1.5 1.6 1.5 2.6 1.5-3.6 1.5 .3 1.5-2.1 1.5 1.9 1.5 1.7 1.5-2.5 1.5-2.2 1.5 2.6 1.5-3.7 1.5 1.8 1.5-.8 1.5 .8 1.5 4.1 1.5-4.2 1.5 2.2 1.5-.3 1.5-3.2 1.5-2.1 1.5 3.7 1.5 2.3 1.5-9.8 1.5 5.6 1.5 2.1 1.5-2.7 1.5 3.3 1.5-2 1.5 1.6 1.5-8.4 1.5 .5 1.5-1.6 1.5 3.4 1.5 4.4 1.5 .1 1.5-.9 1.5-4.2 1.5 1.6 1.5 6 1.5-5.2 1.5 3.9 1.5-5.8 1.5 .3 1.5-1.8" stroke="#f59a9a" stroke-width="1.05" fill="none" stroke-linejoin="round"/>
<path d="M133 820.3l1.5-1.7 1.5-2.8 1.5 5.2 1.5 3.6 1.5-.1 1.5-2.1 1.5-1.5 1.5 2.6 1.5-6.1 1.5 1.4 1.5 1.9 1.5 5.9 1.5-5.8 1.5-3.3 1.5 0 1.5 2.3 1.5 .5 1.5-.7 1.5-3.2 1.5-3.1 1.5 6.2 1.5-.6 1.5-6.9 1.5 8.5 1.5-1.1 1.5 1.4 1.5-3.1 1.5 3.2 1.5 3.1 1.5-.5 1.5 .1 1.5 5.7 1.5-4.3 1.5 .9 1.5-.3 1.5-5.4 1.5 5.3 1.5 2.6 1.5-5.7 1.5-3.8 1.5 5.9 1.5-3.9 1.5 4.9 1.5-2 1.5 .9 1.5-.9 1.5-5.1 1.5 2.7 1.5 6.5 1.5-1.7 1.5 2.6 1.5-.8 1.5 1.6 1.5-2.7 1.5-.7 1.5 2.4 1.5-2.7 1.5-2.4 1.5-3.5 1.5 1.1 1.5 6.3 1.5-5.8 1.5-2.4 1.5 8.7 1.5-6.5 1.5-1 1.5 .9 1.5 1 1.5 .4 1.5-2.1 1.5-2.9 1.5-2.8 1.5 1.5 1.5 3.6 1.5 0 1.5-.8 1.5-1.6 1.5 7.1 1.5-3.3 1.5-.5 1.5 .7 1.5-2.2 1.5 2.2 1.5 1.7 1.5-.8 1.5 1.5 1.5 1.5 1.5-5.7 1.5 8.9 1.5-2.4 1.5-1.8 1.5 1.6 1.5-.6 1.5-4.2 1.5 2.4 1.5 .3 1.5-2.2 1.5 1.6 1.5-1.8 1.5 2.5 1.5 4.6 1.5-2.1 1.5 1.6 1.5-.2 1.5-.9 1.5 4.7 1.5 0 1.5-.9 1.5-2.7 1.5-3.8 1.5-2.6 1.5 .8 1.5 2.1 1.5-1 1.5 .5 1.5-6.4 1.5 5 1.5-4.4 1.5 2.3 1.5-2.2 1.5 7.5 1.5-7 1.5-5.2 1.5 4.4 1.5 5.4 1.5-.7 1.5 2.2 1.5-1.8 1.5-3.1 1.5 5.9 1.5-2.4 1.5 7.8 1.5-6 1.5-1.7 1.5-.6 1.5 0 1.5-.1 1.5 .1 1.5-4.3 1.5 .4 1.5 1 1.5-1.1 1.5 2.6 1.5 5.8 1.5-3.8 1.5-5 1.5 0 1.5 2.3 1.5-5 1.5 1.7 1.5 5.7 1.5-.8 1.5-8.5 1.5-1.1 1.5 2.2 1.5 4.2 1.5 .8 1.5 .7 1.5-3.9 1.5 2.9 1.5 .9 1.5-3.9 1.5-.5 1.5-1.4 1.5 1.3 1.5 2 1.5 5.1 1.5-5.5 1.5-1.1 1.5 1 1.5-1.7 1.5 3.6 1.5-4.4 1.5-2.7 1.5-.1 1.5 3.8 1.5-.3 1.5 3.7 1.5-1.3 1.5-2.1 1.5 .9 1.5-.9 1.5 .8 1.5-3.9 1.5 4.4 1.5-1.4 1.5-3.8 1.5 6.6 1.5-2.8 1.5 1.7 1.5 4.2 1.5 0 1.5 4 1.5-4.5 1.5-6.8 1.5 3.5 1.5-3.9 1.5 2.6 1.5-1.8 1.5 .4 1.5 3.7 1.5-1.2 1.5 2 1.5-.1 1.5 7.8 1.5-1 1.5 5.3 1.5-5.4 1.5-5.1 1.5 2 1.5-.9 1.5 .2 1.5-7.1 1.5 7.2 1.5 .4 1.5 2.1 1.5-7 1.5 3 1.5 1 1.5-2 1.5 1.7 1.5 2.4 1.5 .1 1.5-5.2 1.5-5 1.5 5.3 1.5-2.5 1.5-.2 1.5-2.9 1.5 3.6 1.5-2 1.5 4.4 1.5 .9 1.5 .1 1.5-.5 1.5 3.6 1.5-2.2 1.5 2 1.5-1.4 1.5 4 1.5-3.3 1.5-.5 1.5-.1 1.5-1.5 1.5-4.3 1.5 1.1 1.5 7.3 1.5-4.2 1.5-2.4 1.5 4.9 1.5-6.3 1.5 6.3 1.5-1.1 1.5-.8 1.5 .3 1.5-2.8 1.5 3.5 1.5-.2 1.5-2.3 1.5 2.1 1.5-3.9 1.5 2.5 1.5-3.1 1.5 2.9 1.5-5.5 1.5-2.9 1.5 8.8 1.5-6.5 1.5-2.8 1.5 3.9 1.5 2.8 1.5 .1 1.5 6.8 1.5-7.2 1.5 2.8 1.5-7.2 1.5 4 1.5 6.2 1.5-6.7 1.5 1.8 1.5 .5 1.5 .1 1.5-4.5 1.5 6.4 1.5-1.6 1.5-4.3 1.5-.9 1.5 8 1.5-2.2 1.5-2.3 1.5-3 1.5 3.2 1.5-3.5 1.5 2.1 1.5-.6 1.5 5 1.5-2.8 1.5 5 1.5 1.6 1.5 1.4 1.5-3.6 1.5-.8 1.5-.8 1.5-1.4 1.5 .9 1.5-1.8 1.5-3.7 1.5 3.2 1.5-2.3 1.5 1.8 1.5-6 1.5 5.7 1.5-2.1 1.5 .7 1.5 1.3 1.5 .2 1.5 4.7 1.5 2.6 1.5-4.9 1.5-.9 1.5 3.4 1.5-3.9 1.5-.3 1.5-4.2 1.5-1.9 1.5-1.5 1.5 .2 1.5-1.3 1.5 5.9 1.5 6.1 1.5-2.9 1.5-3.1 1.5-2.5 1.5-2.7 1.5 4.4 1.5 1.9 1.5-.6 1.5-1.6 1.5 2.1 1.5-6.1 1.5 3.5 1.5-.2 1.5 .1 1.5-2.6 1.5 4.5 1.5-1.3 1.5-1.9 1.5 3.2 1.5-.7 1.5 1.4 1.5 4.2 1.5-.5 1.5-.5 1.5-2.2 1.5 .1 1.5 1.8 1.5 .5 1.5-2.3 1.5 3.1 1.5-3.4 1.5-2.3 1.5-.5 1.5-4.6 1.5 4.7 1.5 5.2 1.5-4.9 1.5 1.1 1.5 1.3 1.5-8.4 1.5 7.6 1.5 .3 1.5-1.5 1.5-1 1.5 3.7 1.5-1.6 1.5-1.1 1.5 5.4 1.5-4.4 1.5 2.8 1.5-4.4 1.5 3.9 1.5 .8 1.5 .7 1.5 0 1.5 5.7 1.5 5.5 1.5-1 1.5-2.9 1.5-4.5 1.5-1.3 1.5 1.7 1.5-5.7 1.5 .6 1.5 .2 1.5 1.9 1.5 3.2 1.5-5.3 1.5-2.3 1.5 5.5 1.5-.3 1.5 3 1.5-7.2 1.5 2.5 1.5 4.8 1.5 2.6 1.5-5.7 1.5-.2 1.5 .8 1.5-4.7 1.5-3.4 1.5 1.1 1.5-2.3 1.5-.7 1.5 1 1.5-.4 1.5-1.6 1.5 1.6 1.5-.5 1.5-.1 1.5-2 1.5 1.2 1.5 3.9 1.5 7.2 1.5-1.9 1.5-7.9 1.5 4.8 1.5 .5 1.5 3.3 1.5-.6 1.5-.9 1.5-.4 1.5 1.5 1.5-1.9 1.5 3.6 1.5 .3 1.5-1.8 1.5-6.6 1.5 1.2 1.5 1.9 1.5-4.6 1.5 4.7 1.5-2.8 1.5-.1 1.5-1.6 1.5-.4 1.5 4.9 1.5-.6 1.5-.8 1.5-.4 1.5-1.4 1.5-.1 1.5 2.7" stroke="#f59a9a" stroke-width="1.05" fill="none" stroke-linejoin="round"/>
<path d="M133 817.9l1.5 7.7 1.5-6.1 1.5 3.7 1.5 2.5 1.5-2.6 1.5-.6 1.5 .2 1.5-1.4 1.5 4 1.5 2.1 1.5-.6 1.5 2.6 1.5-2.2 1.5-3 1.5 1 1.5 .2 1.5-3.1 1.5 .6 1.5-2.7 1.5-3.8 1.5 5.2 1.5 .6 1.5 2.5 1.5-1.3 1.5-2.3 1.5 3.6 1.5 2.7 1.5-1 1.5-2 1.5-.8 1.5-4.4 1.5-.9 1.5 1.7 1.5 5.2 1.5-3.6 1.5 5.2 1.5-4.3 1.5-3 1.5-2.3 1.5 1.5 1.5-1.6 1.5 2.7 1.5-4.8 1.5 3.8 1.5-2.2 1.5 2.5 1.5-2.8 1.5 .5 1.5 4.6 1.5-4.4 1.5-.7 1.5-.4 1.5 2.1 1.5 1.6 1.5-1.1 1.5-2.6 1.5 4.3 1.5-6.9 1.5 3 1.5 1.4 1.5 .9 1.5-1.7 1.5 2.3 1.5-5.2 1.5 5.2 1.5 2.4 1.5 .5 1.5 3.1 1.5-2.2 1.5 5 1.5-.9 1.5-11.5 1.5 4.6 1.5-5.1 1.5-1.3 1.5 3.3 1.5 2.1 1.5 1.8 1.5-1.2 1.5 .5 1.5-4.7 1.5 2.9 1.5 4.3 1.5-.3 1.5 1.8 1.5-2.8 1.5-6.3 1.5 7.7 1.5 3.4 1.5-6.1 1.5 1.5 1.5 .4 1.5 1.1 1.5 0 1.5-1.6 1.5-1.3 1.5-5.2 1.5 2.7 1.5 7 1.5-4.3 1.5-.2 1.5-2.8 1.5 5.3 1.5 3.1 1.5-5.3 1.5-1.3 1.5 4.6 1.5-1.8 1.5-1.6 1.5-1.4 1.5 4.2 1.5-3.2 1.5-5.8 1.5 10.6 1.5-5.2 1.5-.5 1.5 8.1 1.5-2.3 1.5-2.2 1.5-1.6 1.5-5.3 1.5-1.9 1.5 2 1.5 1.3 1.5-1.8 1.5 1.1 1.5-1.2 1.5 1.2 1.5 6.1 1.5-.2 1.5-.3 1.5-5.3 1.5 7 1.5-2.7 1.5 6.7 1.5-1.7 1.5-1.4 1.5-4.2 1.5 2.8 1.5-1 1.5 1.8 1.5-5.5 1.5 4.3 1.5-.4 1.5 0 1.5 .6 1.5 3.1 1.5-1.3 1.5-6 1.5 .6 1.5-3.1 1.5 .3 1.5-.9 1.5 5.5 1.5-5.9 1.5 1.4 1.5 2.1 1.5 .8 1.5 1 1.5-3.2 1.5-2.9 1.5-1.3 1.5 3.5 1.5-4.2 1.5 1.5 1.5 4.3 1.5 .3 1.5-1.1 1.5 .3 1.5 .6 1.5 4.8 1.5-3.9 1.5-6.7 1.5 4.2 1.5-4 1.5 7.7 1.5-1.6 1.5 .2 1.5 2.9 1.5 3.5 1.5-5.7 1.5-1.5 1.5-.8 1.5 4 1.5 3.5 1.5-2.7 1.5-.2 1.5-5.2 1.5 2.1 1.5 2.6 1.5 3.6 1.5 .9 1.5-3.7 1.5 1.7 1.5-6.8 1.5-2.4 1.5 3.5 1.5-2.7 1.5 3.4 1.5-.7 1.5-2.5 1.5-3 1.5 3.9 1.5 2.8 1.5 3.9 1.5 .9 1.5-5.6 1.5-3.7 1.5 4.7 1.5-.7 1.5-.2 1.5-1.8 1.5-.1 1.5 2.5 1.5 .9 1.5-.7 1.5-1.6 1.5-1.1 1.5 2.4 1.5 0 1.5-7.6 1.5 .5 1.5 .6 1.5 .9 1.5 5.2 1.5 .5 1.5-4.5 1.5 2.7 1.5-2.4 1.5 6.9 1.5 .2 1.5 1.1 1.5 .4 1.5 .8 1.5-3.6 1.5 .5 1.5-.5 1.5-1.2 1.5 3.1 1.5-5 1.5-1.2 1.5 5.7 1.5-3.1 1.5 2 1.5 .4 1.5-3.4 1.5 9.2 1.5-9.3 1.5 4.6 1.5-2.3 1.5 2.3 1.5-5.8 1.5 3.3 1.5-1.9 1.5 2.3 1.5-3.9 1.5 .9 1.5 6.4 1.5-.5 1.5-.5 1.5 2.6 1.5-3.6 1.5 5.8 1.5-1.2 1.5-1.6 1.5 .3 1.5-2.3 1.5-1.3 1.5-5.2 1.5 1.1 1.5 3.5 1.5-2.9 1.5 4.9 1.5-.4 1.5 .2 1.5-.5 1.5 .1 1.5 1.5 1.5-1.4 1.5 .6 1.5-5.3 1.5-.9 1.5 3.8 1.5-5 1.5-.7 1.5 4.3 1.5-7.4 1.5-1 1.5 1.8 1.5-2.5 1.5 7.1 1.5 3.3 1.5 1.1 1.5 1.1 1.5-.1 1.5 2.9 1.5-1.1 1.5 1.4 1.5-4.1 1.5-2.6 1.5 1.6 1.5 3.2 1.5-5.2 1.5-.6 1.5-.1 1.5 3.5 1.5-3.4 1.5 1.6 1.5-4.8 1.5 2.8 1.5 2.5 1.5-2 1.5 1.4 1.5-5.9 1.5 3.5 1.5 2 1.5-5.5 1.5 3.5 1.5 2 1.5-2.1 1.5 6.4 1.5-8.5 1.5 7.4 1.5-1 1.5 2.2 1.5 2 1.5 3.8 1.5-1.3 1.5-1.2 1.5-.5 1.5-2.4 1.5 .6 1.5-1.7 1.5 3.2 1.5-9.1 1.5 2.4 1.5 .9 1.5 1.2 1.5-6 1.5 0 1.5-1.9 1.5 4.2 1.5-2.4 1.5-7.3 1.5 8.6 1.5-1.3 1.5 1.6 1.5 4.7 1.5 1.7 1.5-6.1 1.5 3 1.5 9.8 1.5-4.3 1.5 3 1.5-2.3 1.5-1.8 1.5-.7 1.5 .5 1.5 1.7 1.5-3.7 1.5 3.6 1.5 4.2 1.5-6.7 1.5 .9 1.5-1.3 1.5 .2 1.5 1.5 1.5-1.5 1.5-.5 1.5-2.4 1.5 3.1 1.5 0 1.5-3.3 1.5-1 1.5 5.2 1.5 .9 1.5-2.9 1.5 2.4 1.5 2 1.5 4.1 1.5-2 1.5-3.3 1.5 2.2 1.5 1.1 1.5-3.5 1.5-.5 1.5-5.5 1.5 4.1 1.5 .4 1.5-2.3 1.5 1.2 1.5 6.9 1.5-2.1 1.5-2.7 1.5-4.5 1.5 .3 1.5-2.8 1.5 4.8 1.5-4.5 1.5 1.3 1.5-2.6 1.5-1.1 1.5 1.5 1.5-4.7 1.5-2.4 1.5 5.3 1.5 3.8 1.5 .2 1.5-5.9 1.5 2.8 1.5-.7 1.5 2.3 1.5 5.9 1.5-.5 1.5 1.6 1.5 1 1.5-1.9 1.5 2.1 1.5-3.3 1.5 1 1.5-3 1.5-1.9 1.5 .9 1.5-3.2 1.5 1.9 1.5 2.4 1.5-3.1 1.5 1.4 1.5-3.7 1.5 1.3 1.5 7.5 1.5-6 1.5 2.6 1.5-.4 1.5-.4 1.5-4.3 1.5 1.8 1.5 .7 1.5 1.7 1.5 4 1.5-.1 1.5-.7 1.5 .4 1.5 3.7 1.5-2.6 1.5-4.4 1.5 1.6 1.5 .6 1.5-4.4 1.5-1.2 1.5 3.3 1.5 .6" stroke="#f59a9a" stroke-width="1.05" fill="none" stroke-linejoin="round"/>
<path d="M133 819.7l1.5 1.4 1.5 4.7 1.5-4.2 1.5-.5 1.5 5.1 1.5-.2 1.5-10 1.5 1.3 1.5-.5 1.5-1.3 1.5 5.8 1.5-6.4 1.5 2.8 1.5-4.6 1.5 3.7 1.5-2.3 1.5 2.8 1.5 1.5 1.5-2.5 1.5-2.6 1.5 4 1.5 4 1.5-2.9 1.5-2.2 1.5 3.8 1.5-3.1 1.5 2.4 1.5-.7 1.5-1.4 1.5 1.1 1.5-3.8 1.5 1.7 1.5 2.4 1.5 2.5 1.5-4.2 1.5 3.9 1.5-3.9 1.5 1.8 1.5 .8 1.5 .2 1.5-5.5 1.5 4.4 1.5-1.7 1.5-.6 1.5-3.7 1.5-5.6 1.5 7.5 1.5-2.2 1.5-1 1.5 3.6 1.5 4.6 1.5-5.3 1.5 5.4 1.5 2 1.5-6.5 1.5 4.7 1.5-4.1 1.5-.6 1.5 1.9 1.5 4.7 1.5-5.2 1.5-.9 1.5-1.4 1.5-.8 1.5 1.7 1.5-3.4 1.5 3.7 1.5-7.7 1.5 4.3 1.5-1.5 1.5 8.3 1.5-6.2 1.5 1.7 1.5 7.2 1.5-7.4 1.5 1.3 1.5-.3 1.5 5 1.5 1.5 1.5-4.2 1.5 .6 1.5 .2 1.5 .9 1.5-1.9 1.5 .2 1.5-6.7 1.5 1.1 1.5 3.3 1.5-.6 1.5-6.1 1.5 6.6 1.5-3.1 1.5-.5 1.5 4.1 1.5-1.9 1.5-.2 1.5-2.6 1.5-3.9 1.5 3.6 1.5 1.9 1.5 1.9 1.5 1.4 1.5 0 1.5-1.3 1.5 .4 1.5-2.8 1.5-4.3 1.5 1.5 1.5-1.5 1.5 5.1 1.5-3.5 1.5 2.5 1.5 .5 1.5-2.3 1.5-7.2 1.5 9.1 1.5 0 1.5 1.9 1.5-.1 1.5-2.9 1.5 8.2 1.5-.6 1.5 .1 1.5-1.9 1.5-.2 1.5 1.2 1.5-3.6 1.5-2 1.5 1.8 1.5-4.9 1.5-1.1 1.5 1.3 1.5-1.8 1.5 3.3 1.5 2.1 1.5-3.7 1.5 4.4 1.5 .9 1.5-3.2 1.5 .4 1.5 2.9 1.5-2.9 1.5 4 1.5-4.7 1.5 .8 1.5 1.9 1.5 7.6 1.5-6.6 1.5 1.9 1.5 2.2 1.5-3.9 1.5-5 1.5 6.2 1.5-3.2 1.5 .1 1.5 6.1 1.5 6.5 1.5 1.7 1.5-8.8 1.5 1.1 1.5-1.4 1.5-2.3 1.5 3.2 1.5-1.9 1.5-.1 1.5-3 1.5-4.1 1.5 6.4 1.5-1.4 1.5 2.5 1.5-8 1.5 .5 1.5 6 1.5 4.3 1.5-6 1.5 1.9 1.5 2.6 1.5-.8 1.5 .8 1.5 2.8 1.5-5.7 1.5-4.6 1.5 1.5 1.5 4.3 1.5-1.8 1.5 1 1.5-.2 1.5 2.4 1.5-2 1.5 3.3 1.5 7.6 1.5 4.2 1.5-5.1 1.5-7.2 1.5 4.7 1.5 .3 1.5-9 1.5 9.1 1.5-4.7 1.5 1.1 1.5-.8 1.5 1.2 1.5-.9 1.5 3.5 1.5 2.9 1.5-3.4 1.5-.9 1.5-6 1.5-.6 1.5 6 1.5-2 1.5 1.1 1.5-.6 1.5-.6 1.5 5 1.5 .3 1.5 7.2 1.5-2.2 1.5-3.2 1.5-1.5 1.5-.1 1.5 .4 1.5-1.3 1.5 7.6 1.5-7.5 1.5 2.5 1.5 1.3 1.5 2.5 1.5-2.9 1.5-1.6 1.5 4.7 1.5-4.2 1.5 0 1.5-3.4 1.5 1 1.5-1.3 1.5 8.5 1.5-4.2 1.5 2.4 1.5-4.9 1.5-1.6 1.5-1.4 1.5 2.5 1.5 3.1 1.5-1.6 1.5 1 1.5-2.8 1.5 3.2 1.5 .4 1.5-5.5 1.5-1 1.5 .6 1.5 8.6 1.5-7.4 1.5 3.6 1.5 2.2 1.5 3.8 1.5 .1 1.5 1.4 1.5-8.2 1.5-.9 1.5 8.3 1.5-1.5 1.5-2.2 1.5 .7 1.5 1.6 1.5 4 1.5-1.4 1.5-11.3 1.5 5.7 1.5 2.3 1.5-5.6 1.5 .6 1.5 3.2 1.5 4.8 1.5-.8 1.5 1.2 1.5-2.9 1.5 6.6 1.5-4.9 1.5-3.9 1.5 0 1.5-1.2 1.5 2 1.5 1.7 1.5-8.4 1.5 3 1.5 2.3 1.5-2.1 1.5-1.3 1.5 2.2 1.5-.6 1.5-1.5 1.5-.1 1.5 2.5 1.5-.9 1.5-.9 1.5-.9 1.5-2.9 1.5 .8 1.5 4.6 1.5 2.9 1.5-3.2 1.5-5 1.5 0 1.5 2.8 1.5 3.7 1.5 1.4 1.5-.8 1.5 3.2 1.5-4.8 1.5 5.9 1.5-1.2 1.5-.5 1.5-2.2 1.5-5.8 1.5-1.9 1.5-1.4 1.5-1.2 1.5-2.3 1.5-3 1.5 3.4 1.5 3.3 1.5-.2 1.5-1.7 1.5-1.5 1.5 10 1.5-1.8 1.5 4.5 1.5-7.3 1.5 .9 1.5 1 1.5 .8 1.5-4.3 1.5-1.2 1.5 .8 1.5-2.4 1.5 4.9 1.5-1.1 1.5 1.7 1.5-1.2 1.5 2.5 1.5 1.4 1.5-1.3 1.5 .5 1.5-1.2 1.5 6.1 1.5-3.3 1.5-2.1 1.5 2.7 1.5-1.9 1.5-2.5 1.5 4.1 1.5 1.8 1.5-3.3 1.5 7.2 1.5-8 1.5-1.9 1.5 9.3 1.5-8 1.5 2.3 1.5-3.8 1.5-3.7 1.5 1 1.5-1.6 1.5 3.4 1.5 6 1.5-5.7 1.5-.1 1.5-5.2 1.5 3 1.5-1.3 1.5 6.9 1.5 1.8 1.5-.3 1.5 3.6 1.5-3.1 1.5-.4 1.5-1.3 1.5 .7 1.5 2.5 1.5 1.6 1.5-6 1.5-.2 1.5-2.9 1.5-.3 1.5 5.7 1.5-1.6 1.5 1.5 1.5-1.5 1.5 1.2 1.5-2 1.5-8.5 1.5 6.3 1.5-2.2 1.5-4.9 1.5 2.8 1.5-1.6 1.5-4.2 1.5 1.6 1.5-1.8 1.5 .8 1.5-5.6 1.5 4.7 1.5-2.7 1.5 4.2 1.5 3.7 1.5-2.2 1.5-2.4 1.5-1.3 1.5 6.1 1.5-4.9 1.5 5.8 1.5 2.4 1.5-5.6 1.5 1.7 1.5-3.3 1.5-3.2 1.5 4.9 1.5 2.4 1.5-4.3 1.5 2.3 1.5 3.6 1.5-2.2 1.5-3.8 1.5 5.2 1.5 1.4 1.5 .5 1.5-.1 1.5 0 1.5 .4 1.5-4 1.5 4.2 1.5 3.2 1.5-4.3 1.5-1 1.5-3.8 1.5 .6 1.5-2.1 1.5 1.4 1.5 .3 1.5 .2 1.5 1.7 1.5-3.5 1.5 3.4 1.5-1.9 1.5-.1 1.5 .1 1.5-1.3 1.5 2.4 1.5-2.2 1.5-2.4" stroke="#f59a9a" stroke-width="1.05" fill="none" stroke-linejoin="round"/>
<path d="M133 822.8l1.5-1.3 1.5-5.1 1.5 6.9 1.5 1.8 1.5 .8 1.5 1.4 1.5-4.4 1.5 5.6 1.5-1.2 1.5-.7 1.5-6.4 1.5 4.9 1.5 .2 1.5-1.2 1.5-3.6 1.5-2.6 1.5 2.6 1.5 1.4 1.5-3 1.5-1.5 1.5 2.8 1.5 .6 1.5-2.5 1.5 3.8 1.5 4.7 1.5-1.9 1.5-5.9 1.5 7.4 1.5-4.6 1.5 1.3 1.5 2.7 1.5 .1 1.5 2.9 1.5-2.1 1.5 .6 1.5-3.8 1.5 4.3 1.5 1.2 1.5-1.6 1.5 .1 1.5-2.6 1.5-3.4 1.5 3.3 1.5-1.3 1.5 3.3 1.5 .6 1.5-.7 1.5-.2 1.5-2.4 1.5 4.4 1.5 .1 1.5-3.6 1.5-1.1 1.5 5.4 1.5-1.2 1.5 .5 1.5-1.9 1.5 4.6 1.5-6 1.5 .9 1.5 .7 1.5 .7 1.5-.1 1.5 .4 1.5-5.1 1.5 6.4 1.5-4.4 1.5-.4 1.5-1.6 1.5-6.6 1.5 8.1 1.5-7.8 1.5 5.3 1.5 1.8 1.5-.1 1.5 2.8 1.5-2 1.5-1.2 1.5 2.4 1.5-2.3 1.5-1.8 1.5 3.1 1.5 0 1.5-2 1.5 1.4 1.5 2.1 1.5-.7 1.5-6 1.5 2.9 1.5 7.3 1.5-2.6 1.5-4.5 1.5 .7 1.5-1.7 1.5 .8 1.5 2.8 1.5-2.8 1.5 1.3 1.5-3.3 1.5 2.5 1.5 .3 1.5 .1 1.5-6.7 1.5 6.2 1.5 4 1.5-5.3 1.5 5.6 1.5-.5 1.5 .1 1.5 2.1 1.5 .1 1.5 2.8 1.5 1.5 1.5 3 1.5-3.8 1.5-.4 1.5-1.8 1.5 2.6 1.5 .7 1.5-4 1.5 .7 1.5-4.5 1.5 .7 1.5 1.2 1.5-.8 1.5-2.8 1.5 1.7 1.5-3.1 1.5 2.8 1.5-4.7 1.5 2.1 1.5 .6 1.5-3 1.5 1 1.5 2.3 1.5-2.9 1.5-2.2 1.5 2.4 1.5 1.4 1.5 3.2 1.5 .7 1.5-1.9 1.5-.4 1.5-4 1.5-2.6 1.5 3.9 1.5-5.7 1.5 5 1.5-8.3 1.5 5.9 1.5-5.1 1.5 2.1 1.5 3.3 1.5-2.1 1.5-.4 1.5 3.7 1.5 3.4 1.5-1.3 1.5 .6 1.5-3.2 1.5-1.5 1.5-.7 1.5 1.6 1.5 0 1.5 4.1 1.5-4.2 1.5 2.5 1.5-.5 1.5 4.8 1.5-.9 1.5-.9 1.5 .4 1.5 .3 1.5-2.6 1.5 2.1 1.5 6 1.5-6.7 1.5 7.9 1.5-5.3 1.5 .5 1.5-5.6 1.5-1.8 1.5-1 1.5 1.1 1.5 2.9 1.5-2.9 1.5 1.3 1.5 4.3 1.5-.5 1.5 4.1 1.5 1 1.5-4.7 1.5 1.3 1.5-1.8 1.5-2.3 1.5-.1 1.5 1.2 1.5-2.6 1.5-.6 1.5 2.9 1.5-.9 1.5-.7 1.5-6.1 1.5 2.3 1.5 .8 1.5 4.7 1.5-1.4 1.5 1.7 1.5 .5 1.5-5.6 1.5-2.9 1.5 6.4 1.5-1.7 1.5-5.9 1.5 5.3 1.5-4.4 1.5-2.7 1.5 1.8 1.5 5.4 1.5-6.2 1.5 .1 1.5 6.6 1.5-3.1 1.5 2.1 1.5-.4 1.5 3.5 1.5-.9 1.5-2.3 1.5 1.3 1.5-2.3 1.5 3.1 1.5-4.6 1.5 1.7 1.5-5.3 1.5 2.9 1.5 3.3 1.5-3.2 1.5-2.3 1.5-.4 1.5 2.8 1.5-.4 1.5-4.2 1.5 4.1 1.5 3.1 1.5 .7 1.5-3.7 1.5-1.1 1.5 .6 1.5 3.6 1.5 1.3 1.5 .8 1.5 1.7 1.5-1.8 1.5-2.6 1.5 2.4 1.5-4.2 1.5-2.4 1.5-2.3 1.5 1.5 1.5 6.5 1.5 .4 1.5-5 1.5 3.3 1.5 2.8 1.5 1.4 1.5-5.2 1.5 4.3 1.5-1.8 1.5-1.8 1.5 2.4 1.5-2.5 1.5 4.1 1.5 2.5 1.5-6.9 1.5 1.4 1.5-2.5 1.5 6.8 1.5 4.4 1.5-.3 1.5-.2 1.5-2.6 1.5 1.2 1.5-7.5 1.5 2.5 1.5 5.4 1.5-6.8 1.5 7.5 1.5-3.5 1.5-5.4 1.5-1.5 1.5 4.6 1.5-3.6 1.5-3.2 1.5 .9 1.5 6.3 1.5-1.1 1.5 1.8 1.5-1.9 1.5 1.9 1.5-7 1.5 4.3 1.5-1.3 1.5 4.3 1.5-2 1.5-.8 1.5-3 1.5-2.8 1.5-1.5 1.5 3 1.5 3.1 1.5 3.2 1.5-.9 1.5-.1 1.5 .3 1.5 2.1 1.5 1.6 1.5-.5 1.5-4 1.5 .2 1.5 5.8 1.5-8.1 1.5-2.5 1.5 2.4 1.5-4.9 1.5 3.6 1.5-7.9 1.5 4 1.5 1.1 1.5 .5 1.5 1 1.5 .6 1.5 1.8 1.5-1.7 1.5 6.1 1.5-1.8 1.5-2.9 1.5-2.7 1.5-1.1 1.5-.5 1.5 .1 1.5 2.3 1.5-4.4 1.5 4.1 1.5 1.7 1.5-3.2 1.5 4.3 1.5-3.3 1.5 4.7 1.5-1.7 1.5 .6 1.5-7.3 1.5 4.4 1.5 2.6 1.5 .6 1.5 2.7 1.5-1.9 1.5 3.8 1.5-4.8 1.5-.5 1.5 1.1 1.5-.4 1.5 2.8 1.5 3.8 1.5 0 1.5-3.6 1.5-4.6 1.5 5.1 1.5 2.3 1.5-9.4 1.5 6.7 1.5 .5 1.5-2.1 1.5-1.6 1.5 .7 1.5-1 1.5 1.9 1.5 1.3 1.5-2.5 1.5 .2 1.5-1.4 1.5 6.2 1.5 1 1.5-11.5 1.5 4.5 1.5 4.7 1.5-.5 1.5 4.2 1.5-1.1 1.5-4.6 1.5 0 1.5-4.2 1.5-5.7 1.5-1.6 1.5 10.2 1.5-4 1.5-2 1.5 2.8 1.5-4 1.5 1.5 1.5 7.2 1.5-5.6 1.5 4.1 1.5 4.6 1.5-4.6 1.5 3.5 1.5-2.1 1.5 3.1 1.5-1.9 1.5-1 1.5 4.4 1.5-9 1.5 5 1.5-6.9 1.5 5.3 1.5 1.6 1.5-.5 1.5-1.1 1.5-4.2 1.5 3.1 1.5 1.7 1.5 2.5 1.5 .1 1.5 2.5 1.5-1.1 1.5-.4 1.5-5.1 1.5-.2 1.5-3.9 1.5 2.4 1.5 .6 1.5 3.5 1.5-8.3 1.5 7.8 1.5-2.1 1.5-3.2 1.5 3 1.5-2.9 1.5-2.1 1.5-3.3 1.5-.3 1.5 2.3 1.5 3.2 1.5-.6 1.5 5.7 1.5-.3 1.5-5.7 1.5 9.5 1.5-2.3 1.5 3.6 1.5-2.2 1.5-1.4 1.5-1.7" stroke="#f59a9a" stroke-width="1.05" fill="none" stroke-linejoin="round"/>
<path d="M133 823.9l1.5-7.6 1.5 6.4 1.5 2.2 1.5-4.7 1.5 7.6 1.5-3.6 1.5 2 1.5-1.3 1.5-1.3 1.5 .4 1.5 0 1.5 2.6 1.5-3.1 1.5 .4 1.5 1 1.5-3.4 1.5-2 1.5-1.5 1.5 1.5 1.5-1.8 1.5 2 1.5 .6 1.5 5.7 1.5 .9 1.5 1.5 1.5-3.4 1.5-1.1 1.5-1.4 1.5 1.6 1.5-4.2 1.5 1.2 1.5 .1 1.5-3.5 1.5 1 1.5-1.8 1.5 2.3 1.5 2.2 1.5-2 1.5 2.6 1.5 3.1 1.5-1.8 1.5-1.4 1.5 3.3 1.5-3 1.5 1.5 1.5 5.6 1.5 2.8 1.5-5.4 1.5-7.3 1.5 7.5 1.5-3.9 1.5-1.5 1.5-2.6 1.5 6.3 1.5-9.5 1.5 2.2 1.5 2.3 1.5 2.2 1.5 .3 1.5 2.7 1.5-4.6 1.5 4.5 1.5 1.9 1.5 .4 1.5-3.4 1.5-2 1.5 5 1.5-2.7 1.5 2.6 1.5-1 1.5-3.2 1.5-2.8 1.5 .4 1.5 4.6 1.5-.6 1.5-3.8 1.5 .8 1.5 6.2 1.5-3.9 1.5 3.6 1.5-3.4 1.5-1.1 1.5-1.2 1.5 2.3 1.5 .2 1.5-.6 1.5 4.7 1.5-1.5 1.5-1.8 1.5 3.1 1.5-6.6 1.5 4.1 1.5-1.2 1.5-1.3 1.5 3.6 1.5 2.1 1.5 1.7 1.5-5.5 1.5 .6 1.5-.6 1.5-4.3 1.5 1.8 1.5-1.6 1.5 2.9 1.5-1.5 1.5-.9 1.5 6 1.5-2.2 1.5-.5 1.5-1.3 1.5-1.5 1.5-2.2 1.5-1.4 1.5 4.4 1.5 2 1.5-2.7 1.5-1.9 1.5 4.8 1.5-.4 1.5 4.2 1.5-5.3 1.5 5.1 1.5 0 1.5 4.4 1.5-3.1 1.5 2.8 1.5-3.6 1.5-1.2 1.5 .1 1.5 .9 1.5 5.1 1.5-7.8 1.5 .6 1.5-2.7 1.5 5.2 1.5-.7 1.5 2.6 1.5-6.8 1.5 .3 1.5 4.6 1.5-2.9 1.5-1.8 1.5-2.3 1.5 .8 1.5-1.6 1.5 1.7 1.5-4.2 1.5 2.1 1.5 1.8 1.5-.7 1.5 2.8 1.5-2.4 1.5 6.8 1.5-2.1 1.5-1.2 1.5 .2 1.5-4 1.5 4.3 1.5 1.5 1.5 1.7 1.5-6.4 1.5 3.5 1.5-1.2 1.5-6.6 1.5 2.9 1.5-6.1 1.5 7 1.5-.3 1.5-6 1.5 7.5 1.5-2.9 1.5-.2 1.5 2.1 1.5 2.5 1.5-4.8 1.5 .4 1.5-6.6 1.5 8.3 1.5 1.3 1.5-3.2 1.5-4.7 1.5 7.4 1.5 .6 1.5-2 1.5-1.2 1.5 3.4 1.5 2.6 1.5-4.3 1.5 4.8 1.5 .3 1.5 .4 1.5-2.7 1.5 3.4 1.5-1.7 1.5 1.6 1.5-4.7 1.5 4.6 1.5 2.1 1.5 5.6 1.5-6.7 1.5-.9 1.5 3.4 1.5-3.4 1.5-2.8 1.5-4.4 1.5 1.6 1.5-2.2 1.5-.2 1.5 0 1.5 4 1.5 .8 1.5-4.5 1.5 1.4 1.5-.1 1.5 3.2 1.5 2 1.5 3.6 1.5 0 1.5-.2 1.5-5.1 1.5 1 1.5-1.1 1.5 2.5 1.5 1.4 1.5 1.6 1.5-3.8 1.5 .2 1.5-3.8 1.5 1.2 1.5 2.5 1.5-.5 1.5-2 1.5-1.2 1.5 1.3 1.5 4.4 1.5-2 1.5 2.6 1.5-1.6 1.5 4.2 1.5-2.2 1.5-.5 1.5-2.6 1.5 3.9 1.5-4.4 1.5 .8 1.5-1.7 1.5 1 1.5 3.1 1.5-3.1 1.5-.9 1.5-.7 1.5 .9 1.5-5.1 1.5-2 1.5 4.3 1.5 .9 1.5-3 1.5-.3 1.5 5.9 1.5-1.2 1.5-3.5 1.5 .3 1.5-.7 1.5-2.1 1.5-.8 1.5 5.9 1.5-2.5 1.5 .6 1.5 .1 1.5 3.2 1.5-4.1 1.5-.4 1.5-1.1 1.5 6.2 1.5-10 1.5 5.2 1.5-2.2 1.5 1.1 1.5 2.8 1.5 1.7 1.5-5.3 1.5 7.1 1.5 .7 1.5-2.8 1.5 .3 1.5 3.3 1.5 .9 1.5-3.7 1.5-.1 1.5-2.4 1.5 6.3 1.5-6.6 1.5 2.4 1.5-1.7 1.5-1 1.5-3.6 1.5-1.8 1.5 2.8 1.5 3 1.5-4.2 1.5 3.8 1.5-4 1.5 .2 1.5 2.3 1.5-4.6 1.5 4.4 1.5 1.4 1.5 1.6 1.5 1.3 1.5-4.6 1.5 6.9 1.5 .5 1.5-4.3 1.5-4 1.5-.7 1.5 5.5 1.5 6 1.5-1.7 1.5-2.4 1.5 2 1.5 5.2 1.5-9.6 1.5-.5 1.5-5.1 1.5 2.6 1.5-4.2 1.5-1.4 1.5 2.5 1.5-2.1 1.5 9.1 1.5-2.3 1.5 .9 1.5 .1 1.5 2 1.5 1.1 1.5 2.6 1.5 .5 1.5-5.1 1.5 3.5 1.5-1.3 1.5-1.6 1.5 3 1.5 2 1.5 .5 1.5 2.8 1.5 0 1.5-2.5 1.5 2.4 1.5-4.6 1.5 1.8 1.5-1 1.5-1.8 1.5-3.7 1.5 .9 1.5 1 1.5 5.9 1.5-4.4 1.5-5.9 1.5 4.6 1.5-2.3 1.5 2.2 1.5-.2 1.5-.7 1.5 4.1 1.5-3.5 1.5-1.3 1.5 6.4 1.5-5.3 1.5-4.4 1.5 5.6 1.5 .6 1.5 2 1.5-3.4 1.5-4 1.5 5.5 1.5-1.8 1.5-4.7 1.5 7.4 1.5-3.6 1.5-2.9 1.5-1.6 1.5 2.9 1.5-.4 1.5 3.4 1.5-2.1 1.5-.3 1.5-4.2 1.5 3.7 1.5 .2 1.5 6 1.5-5.4 1.5 1.2 1.5-2.6 1.5-1.8 1.5 0 1.5 4.4 1.5-8.7 1.5 5.9 1.5-5.6 1.5 5.6 1.5 .5 1.5-2.8 1.5 1.4 1.5 2 1.5-.8 1.5-.1 1.5 6 1.5-.5 1.5-3.5 1.5-1.4 1.5 5.4 1.5-5.4 1.5 2.7 1.5-4.3 1.5 1.3 1.5-2.4 1.5-2.2 1.5 5.4 1.5-2 1.5 2.1 1.5-.5 1.5 .1 1.5 5.5 1.5-1 1.5 .7 1.5-1.1 1.5-1.3 1.5-1.7 1.5 2.1 1.5-4.5 1.5 4.7 1.5-6.6 1.5-3.3 1.5-3.9 1.5 1.3 1.5 4.8 1.5 1.2 1.5 2.3 1.5 0 1.5 3.5 1.5-.4 1.5-4.8 1.5-.7 1.5-1.4 1.5-.4 1.5-3.3 1.5 7.8 1.5-1.4 1.5 .1 1.5 0 1.5 2.2 1.5 .5" stroke="#f59a9a" stroke-width="1.05" fill="none" stroke-linejoin="round"/>
<path d="M133 829.4l1.5 .1 1.5 2.8 1.5-5.2 1.5-1.1 1.5-3.7 1.5-1.1 1.5-.1 1.5-.6 1.5 .9 1.5-2.9 1.5-.5 1.5-.4 1.5 6.3 1.5-1.6 1.5-.6 1.5 3.7 1.5 1 1.5 3.8 1.5-2.2 1.5 .6 1.5-5.7 1.5 3.4 1.5 2.5 1.5 1.7 1.5 .3 1.5-8.5 1.5 4.4 1.5-.3 1.5-4.2 1.5 3.7 1.5-1.6 1.5 1.9 1.5-2.5 1.5 1.2 1.5 1.3 1.5 1.1 1.5 3.3 1.5-5 1.5 1.6 1.5 3.7 1.5-6.5 1.5 11.6 1.5-7.1 1.5 .3 1.5 2.1 1.5-5.2 1.5 .4 1.5 2.9 1.5-4.2 1.5 1.8 1.5 .6 1.5-1.2 1.5-.4 1.5-1.6 1.5 3 1.5-3.3 1.5 1.5 1.5 .2 1.5 .7 1.5 3.7 1.5 3.7 1.5-5.3 1.5 1.5 1.5 2 1.5-.3 1.5-.3 1.5-6.3 1.5 1.6 1.5 2.2 1.5-2.4 1.5 5.3 1.5 .3 1.5-8.2 1.5 5.3 1.5-1.8 1.5-1.8 1.5 2.9 1.5-2.3 1.5-.3 1.5 2.3 1.5-.3 1.5-1.5 1.5 3 1.5 2.6 1.5 2.4 1.5-2.2 1.5 2.5 1.5-5.4 1.5-1.2 1.5-3.8 1.5 1.7 1.5 1.6 1.5 .7 1.5 .5 1.5 1.1 1.5 1.9 1.5-6.5 1.5 1.1 1.5-2.1 1.5 1.3 1.5 2.5 1.5-2.9 1.5 2.3 1.5 2.7 1.5-6 1.5 .7 1.5-.9 1.5 2.7 1.5-7.2 1.5 6.3 1.5 2.7 1.5 4.1 1.5-3.7 1.5 3.6 1.5-2.4 1.5-1.9 1.5-1.8 1.5 7.2 1.5 3 1.5-2.1 1.5-4.2 1.5-.1 1.5 1.9 1.5 .8 1.5-2.6 1.5 1.9 1.5-4.2 1.5-.4 1.5-.7 1.5 3.5 1.5 3.1 1.5 2 1.5-2.4 1.5-1.8 1.5 .7 1.5-2.6 1.5-.2 1.5-5.6 1.5 9.4 1.5-3.9 1.5-1.6 1.5-2.2 1.5 3.8 1.5 3.1 1.5-2.3 1.5 2.3 1.5 1.2 1.5-1.5 1.5 4.6 1.5-1.1 1.5-.4 1.5 2.1 1.5-6.4 1.5 3.1 1.5 .2 1.5 3.6 1.5 2.1 1.5-1.7 1.5 4.2 1.5-8.3 1.5 5.6 1.5 3.5 1.5-4.8 1.5-4.8 1.5 .9 1.5-1.3 1.5-2.8 1.5-1.4 1.5-.7 1.5-1.8 1.5-.3 1.5-3.8 1.5 3.8 1.5-.1 1.5-2.4 1.5 1 1.5 3.1 1.5 .9 1.5-.7 1.5 7.4 1.5 1.2 1.5-2.6 1.5-1.3 1.5-6.2 1.5-1.7 1.5 3 1.5-2.7 1.5-4.7 1.5 8.6 1.5-7.4 1.5 2.3 1.5 .4 1.5 2.4 1.5 .4 1.5 2.7 1.5-5.2 1.5 7.6 1.5-5.4 1.5 3.3 1.5 .5 1.5-1.1 1.5 2.1 1.5-3.5 1.5 3.6 1.5-6.1 1.5 5.4 1.5-4.4 1.5 3.5 1.5-7.3 1.5 .6 1.5 1.7 1.5 2.8 1.5 3.1 1.5-4.7 1.5 4.6 1.5-.9 1.5 1.5 1.5-5.1 1.5 .9 1.5-3.8 1.5 1.3 1.5-2 1.5 5.7 1.5-2.6 1.5-2.2 1.5 4 1.5-1.2 1.5 1.1 1.5-1.2 1.5 4.2 1.5-2.9 1.5-2.5 1.5 3.6 1.5 1.9 1.5-.7 1.5-.5 1.5-1 1.5-5.1 1.5 .8 1.5-3.2 1.5 12.7 1.5-8 1.5-.1 1.5-.6 1.5-2.8 1.5-5.9 1.5 7.8 1.5 7.5 1.5-5.3 1.5-.3 1.5 1.8 1.5-.6 1.5-5.4 1.5-6 1.5 3 1.5 1.2 1.5 2 1.5 2.6 1.5-6.9 1.5 5.6 1.5 1.8 1.5-1.8 1.5-2.4 1.5-.5 1.5 1.8 1.5-.3 1.5-3.8 1.5-.8 1.5 3.8 1.5-1.5 1.5 2.5 1.5 .3 1.5 1.4 1.5 3.1 1.5 1.4 1.5-1.9 1.5-1 1.5-1.6 1.5 1.9 1.5-4.9 1.5 4.1 1.5-.5 1.5-3.7 1.5-.5 1.5 0 1.5 4.3 1.5-3 1.5 1.6 1.5 2.8 1.5-.1 1.5-6.5 1.5 2.2 1.5 5.1 1.5-3.2 1.5-1.4 1.5-2.6 1.5 6.5 1.5-1.2 1.5 .5 1.5 1.3 1.5 .2 1.5-9.1 1.5 3.7 1.5-3.3 1.5-4 1.5 8.1 1.5-6.6 1.5-.4 1.5 3.2 1.5 3.1 1.5 .5 1.5-1.6 1.5-4.3 1.5 11.6 1.5-4.9 1.5 .4 1.5 2.6 1.5-7.1 1.5 2.3 1.5 7.2 1.5-2.1 1.5-.5 1.5 3 1.5-3 1.5 3.9 1.5 0 1.5-2.4 1.5 5.2 1.5-3.8 1.5-1.4 1.5-1.9 1.5-.7 1.5-5.1 1.5 3 1.5 3.2 1.5-6.7 1.5-5.9 1.5 2.7 1.5 3.2 1.5-1.9 1.5 .8 1.5 .5 1.5 .1 1.5 .2 1.5 4 1.5-6.4 1.5 2.8 1.5-2.7 1.5-1.1 1.5-1.1 1.5 2.3 1.5 1.2 1.5 1.4 1.5-7.8 1.5 1.2 1.5-1.4 1.5 1 1.5 2.2 1.5-3.7 1.5 8.7 1.5 2.7 1.5 .9 1.5-.9 1.5 3.9 1.5-2.1 1.5 .4 1.5-2.7 1.5 5.1 1.5-.5 1.5 .1 1.5-2.4 1.5-1 1.5-5.9 1.5-1.3 1.5 4.1 1.5 3.3 1.5-6.8 1.5 .1 1.5-5.1 1.5 4 1.5 2.6 1.5 1.4 1.5-.4 1.5 2.7 1.5-3.1 1.5-.1 1.5 2.5 1.5 4.9 1.5-.4 1.5 1.7 1.5-.5 1.5 .1 1.5-2.9 1.5 3.1 1.5-3.5 1.5 2.4 1.5 .8 1.5-2.5 1.5-4.1 1.5 1.7 1.5 .7 1.5 1 1.5 1.4 1.5-3.5 1.5 3.9 1.5-2.6 1.5-1 1.5 2.6 1.5-1.1 1.5 1.1 1.5-1.7 1.5-4.3 1.5 1.8 1.5 2.1 1.5 1.2 1.5-2.5 1.5-.2 1.5-1.8 1.5 4 1.5-.8 1.5-1.2 1.5 0 1.5-4.8 1.5-1.1 1.5 5.8 1.5-10.7 1.5 2.5 1.5 .8 1.5-.1 1.5-.3 1.5 4.9 1.5-1.8 1.5-.6 1.5 .4 1.5 3.5 1.5-1.1 1.5-2.2 1.5 1.6 1.5-5.1 1.5 2.7 1.5 5.8 1.5-1.1 1.5-4.4 1.5-1.3 1.5 3.8 1.5 2.9 1.5-3.4 1.5 4.3 1.5-3.4 1.5 .9 1.5 2.5 1.5-4.1" stroke="#f59a9a" stroke-width="1.05" fill="none" stroke-linejoin="round"/>
<path d="M133 823.6l1.5 2.4 1.5-6.2 1.5-1.5 1.5 3.6 1.5 .5 1.5-.3 1.5-3.9 1.5 6.6 1.5-5.8 1.5 1.6 1.5-1.4 1.5 1.7 1.5 1.7 1.5-.7 1.5-.4 1.5 .5 1.5 1.3 1.5 2.5 1.5-.5 1.5 5.5 1.5-5.7 1.5 4.8 1.5-5.4 1.5-4 1.5 4.8 1.5-.6 1.5 1.2 1.5-2.1 1.5 3.7 1.5-2.6 1.5 .1 1.5-4.5 1.5 .5 1.5 3.7 1.5-2.5 1.5 4.8 1.5-.8 1.5-1.3 1.5 4 1.5-1 1.5 1.9 1.5-.3 1.5 4.1 1.5-7.4 1.5 1.2 1.5-5.3 1.5-3.8 1.5 2.7 1.5-2.1 1.5 5.1 1.5 3.3 1.5 1.4 1.5-7 1.5 7.9 1.5-1.4 1.5-1.1 1.5 1.3 1.5-4.7 1.5-1.5 1.5-1.4 1.5 .4 1.5 8 1.5-5.4 1.5-.9 1.5-.7 1.5 0 1.5-.4 1.5-1.8 1.5 .6 1.5 2.3 1.5 0 1.5 4.4 1.5 1 1.5-2.1 1.5 .8 1.5-2.8 1.5 3.7 1.5 1.4 1.5 .7 1.5-8.5 1.5 0 1.5-2 1.5 .8 1.5 1.8 1.5-1.2 1.5 .3 1.5 5.1 1.5 4.5 1.5 6 1.5-7.2 1.5-6.3 1.5 2.4 1.5-2.9 1.5-2.9 1.5-2.6 1.5 4.7 1.5-4.2 1.5 2 1.5-1 1.5-6.5 1.5 9.6 1.5-4.5 1.5-.9 1.5-3.7 1.5 1.3 1.5-1.3 1.5 9.9 1.5-5.8 1.5-2.5 1.5-2.2 1.5-1.3 1.5 1.5 1.5 4.8 1.5-.2 1.5 2 1.5-4.7 1.5-2.3 1.5-1.4 1.5 5 1.5-1.9 1.5 8 1.5-2.2 1.5-1 1.5 3 1.5 .1 1.5 4.9 1.5-1.5 1.5-1 1.5-7.9 1.5 2.6 1.5 4.9 1.5-2.6 1.5-.8 1.5-.8 1.5 2.6 1.5 4.4 1.5-6.1 1.5 3 1.5 2.4 1.5 .3 1.5-.4 1.5 1.5 1.5 .6 1.5-1.3 1.5 1.7 1.5-.1 1.5-4 1.5-3.8 1.5 1 1.5-2.7 1.5 .3 1.5 2.3 1.5-9.1 1.5 8.7 1.5-1.2 1.5-4.4 1.5 6.8 1.5 1.6 1.5-.4 1.5-3.7 1.5-.1 1.5 1.5 1.5-1.4 1.5-1.8 1.5-8.5 1.5 2.9 1.5 .3 1.5 7.7 1.5-2.2 1.5 .1 1.5 1.1 1.5-6.5 1.5 .5 1.5 .5 1.5 4.3 1.5-3.1 1.5-2.1 1.5 1.4 1.5 3.6 1.5-4.4 1.5 8.6 1.5-1.4 1.5-4.4 1.5 2.4 1.5-2.7 1.5 .8 1.5 5.1 1.5-1.7 1.5 1.3 1.5-2.3 1.5 4.4 1.5-5.7 1.5-3 1.5 3.1 1.5-2.2 1.5-2.1 1.5 4.9 1.5 1.9 1.5 1.4 1.5-1.1 1.5 1.7 1.5 .4 1.5 .7 1.5 .7 1.5 .8 1.5-2 1.5 3.2 1.5-3 1.5-.9 1.5 2.9 1.5-1.5 1.5 1.2 1.5-1.9 1.5 .4 1.5 2.6 1.5-.8 1.5-1.4 1.5 3.6 1.5-2.9 1.5 .6 1.5-2.4 1.5-1.6 1.5 .5 1.5 5.6 1.5-5.4 1.5-1.1 1.5-2.1 1.5 .1 1.5 3.5 1.5-9.5 1.5-.7 1.5 .2 1.5 3.1 1.5 0 1.5-.5 1.5-2.2 1.5 6.2 1.5-8 1.5 5.9 1.5 2 1.5 2.9 1.5-1.1 1.5 3.6 1.5-2.9 1.5-4.9 1.5-.5 1.5-.5 1.5 4.1 1.5-2.4 1.5-7.8 1.5 6.4 1.5 1.3 1.5 0 1.5-1.3 1.5 5.7 1.5-4.2 1.5 .3 1.5 4 1.5-3.5 1.5 1.2 1.5 1.8 1.5 2.6 1.5-4.8 1.5 5.1 1.5 .3 1.5-7.6 1.5 6.3 1.5-11.6 1.5 7.2 1.5-.7 1.5-3 1.5 3.1 1.5-.1 1.5 .5 1.5-1.5 1.5 .9 1.5-2 1.5 1.7 1.5-1.7 1.5 1.4 1.5 .1 1.5-2.9 1.5 4.7 1.5-3.3 1.5-1.1 1.5 4.3 1.5-.3 1.5 2.2 1.5 .4 1.5 4.2 1.5-3.9 1.5 2 1.5 1.6 1.5-1.6 1.5-2.8 1.5 5 1.5-.3 1.5-4.3 1.5 3.9 1.5-3.4 1.5-4.5 1.5-5.2 1.5 1.1 1.5 .4 1.5-2.5 1.5 3.6 1.5 4.5 1.5 1.9 1.5-5.5 1.5-2 1.5 4 1.5-1.5 1.5 1 1.5 6 1.5 1 1.5-3.1 1.5 1.7 1.5 6.9 1.5 1.3 1.5-2.5 1.5-1.6 1.5-8 1.5-2.1 1.5 7 1.5 .6 1.5 1.1 1.5-4.2 1.5 2.4 1.5-1 1.5-2.1 1.5-2.5 1.5 4.4 1.5-1.8 1.5 1.4 1.5-2 1.5-2.4 1.5 1.3 1.5-.5 1.5-4.3 1.5-.7 1.5 2.8 1.5-3.7 1.5 1.5 1.5 1.1 1.5 1.4 1.5 4.3 1.5 5.4 1.5-2.4 1.5-.2 1.5 1.1 1.5 .3 1.5-5.2 1.5 .1 1.5-2.5 1.5 0 1.5 3.3 1.5-4 1.5 3.7 1.5-.3 1.5-1.5 1.5 1.3 1.5 3.6 1.5-1.1 1.5-2.1 1.5 5 1.5 1.4 1.5-.4 1.5 1.4 1.5 .6 1.5-8.7 1.5 2.8 1.5-5 1.5 1.6 1.5 .5 1.5-5.1 1.5 3.1 1.5-3.5 1.5 2.9 1.5 2 1.5 1.7 1.5-3.3 1.5 3.7 1.5-2.3 1.5 3.9 1.5 .3 1.5-5.2 1.5 8.3 1.5-4.5 1.5-.9 1.5 4.5 1.5-6.7 1.5 5.6 1.5 4.7 1.5-7.6 1.5 6.8 1.5-7.3 1.5 10 1.5-5.8 1.5 3.2 1.5-7 1.5 3.6 1.5-4.4 1.5 3 1.5-2.7 1.5 .4 1.5 1.9 1.5-1.2 1.5 .5 1.5 5.3 1.5-1 1.5-3.1 1.5-2.6 1.5-.9 1.5 3.5 1.5 4.7 1.5-4.8 1.5-6.7 1.5-4.6 1.5 .2 1.5 3.2 1.5-1.1 1.5-1 1.5 2.5 1.5 3.1 1.5-2.5 1.5-2.1 1.5 5.3 1.5-2.1 1.5 .3 1.5 1 1.5 2.5 1.5-1 1.5 1.8 1.5-2.4 1.5 4.3 1.5-2.2 1.5-2.1 1.5 4.9 1.5 1.2 1.5 1.1 1.5-2.4 1.5-3.2 1.5 3.2 1.5-4.4 1.5 1.7 1.5 3.3 1.5-3.6 1.5-2.6 1.5 2 1.5 1.6 1.5-1.5 1.5 4.6" stroke="#f59a9a" stroke-width="1.05" fill="none" stroke-linejoin="round"/>
<path d="M133 825.9l1.5 2.5 1.5-3 1.5-.5 1.5-3.1 1.5-.9 1.5-2.9 1.5 5.6 1.5-2.3 1.5 1.9 1.5-.4 1.5 4.4 1.5 .6 1.5 3.4 1.5 5.8 1.5-4.5 1.5-2.8 1.5 5.8 1.5 1.6 1.5-4.6 1.5-.1 1.5-.5 1.5-2.5 1.5-.7 1.5-.8 1.5-4.6 1.5 1.4 1.5-4.9 1.5 1.2 1.5 2.1 1.5-.1 1.5-1.3 1.5 1 1.5 2.6 1.5-1.7 1.5 5 1.5-2.8 1.5 7 1.5-6.5 1.5 .4 1.5 3.6 1.5-.4 1.5-3.8 1.5-.4 1.5-4.4 1.5-2.3 1.5 3.4 1.5-.5 1.5 2.7 1.5-2.2 1.5-1.9 1.5 2.4 1.5 4.2 1.5-4.9 1.5 3.1 1.5-2.7 1.5 1.6 1.5 1.9 1.5 1.9 1.5 3.1 1.5-3.7 1.5 3.3 1.5-.6 1.5-8.3 1.5 1.5 1.5 5.1 1.5-1 1.5 1.1 1.5-3.8 1.5 .4 1.5 2.9 1.5-6.4 1.5 .6 1.5-3.1 1.5 2.9 1.5 7.1 1.5-2.9 1.5-.5 1.5-5.3 1.5 3.8 1.5-5.4 1.5 5.2 1.5-9.4 1.5 5.2 1.5 2.1 1.5-1.4 1.5 3 1.5-2.9 1.5-3.8 1.5 5.7 1.5-1.5 1.5-5.3 1.5 .8 1.5 3.6 1.5 4.9 1.5 .7 1.5-7.3 1.5-1.9 1.5 .4 1.5-.6 1.5 7.8 1.5 2 1.5-4 1.5 1 1.5-1.2 1.5-5.8 1.5 1.7 1.5 2.4 1.5 1.6 1.5-2.3 1.5 1.2 1.5 5.8 1.5-3.8 1.5 1.2 1.5 .2 1.5-1 1.5 1.7 1.5-.3 1.5-2 1.5-.3 1.5-4.7 1.5-2.7 1.5 1.9 1.5-2 1.5 3.5 1.5-7.8 1.5 6.1 1.5 .9 1.5-1.1 1.5 6.8 1.5-1.2 1.5-2.7 1.5 4.6 1.5 .8 1.5 .6 1.5-.2 1.5-6.2 1.5-.4 1.5-1.6 1.5-.7 1.5 2.3 1.5 1.6 1.5-4.6 1.5 .5 1.5 1.9 1.5 1.1 1.5-1.7 1.5 4.1 1.5-1.9 1.5 7.8 1.5 0 1.5-2.9 1.5-.3 1.5 2.8 1.5-.7 1.5 .9 1.5-3.2 1.5-6.7 1.5 6.5 1.5-1.9 1.5-.9 1.5-4.2 1.5 1 1.5 4.4 1.5-5.4 1.5 2.6 1.5-1.5 1.5 5.9 1.5-2.9 1.5 2.2 1.5 6.2 1.5 .4 1.5-5.9 1.5-3.8 1.5-.4 1.5 1 1.5-5.3 1.5 1.6 1.5 .2 1.5 .3 1.5 .7 1.5 1.7 1.5-3.5 1.5-.7 1.5-.6 1.5-.1 1.5 9.7 1.5-7.5 1.5 1.1 1.5 1.9 1.5-2.5 1.5 6.1 1.5-2.6 1.5-1.9 1.5 2.9 1.5-.7 1.5-1.9 1.5 3.2 1.5-3.4 1.5 .5 1.5 3.7 1.5-.6 1.5-4.2 1.5-4.6 1.5 4 1.5 1 1.5-.3 1.5 .7 1.5-2.2 1.5 2.4 1.5 1.2 1.5-2.5 1.5 1.8 1.5 1.5 1.5 3.2 1.5 .3 1.5 .1 1.5-6.6 1.5 .8 1.5-2.7 1.5-5.3 1.5-1.8 1.5 .8 1.5-1.2 1.5 4.3 1.5 3.6 1.5-3.5 1.5 1.9 1.5 .3 1.5 1.4 1.5 2.2 1.5-1.3 1.5 .5 1.5-1.1 1.5-3.5 1.5 1.2 1.5 .3 1.5 1.5 1.5-4.7 1.5 3.3 1.5 .6 1.5 2.4 1.5 4.3 1.5-6.9 1.5-5.1 1.5 1.6 1.5-3 1.5-1.4 1.5 .1 1.5 1.7 1.5-.7 1.5 0 1.5-2.3 1.5 2.3 1.5-.2 1.5 3.5 1.5 .3 1.5 .9 1.5-4.4 1.5 5.9 1.5-2.2 1.5 .4 1.5 1.1 1.5 2.2 1.5 2.4 1.5-3.2 1.5-1.1 1.5 1.1 1.5 2.2 1.5-3.6 1.5 1 1.5-1.4 1.5-3.6 1.5 3.2 1.5-1.7 1.5-1 1.5 2 1.5 4.1 1.5-5.6 1.5-1.9 1.5 5.3 1.5-7.2 1.5 6.3 1.5-5.3 1.5 .9 1.5 5.3 1.5-.6 1.5 1.8 1.5-2.6 1.5 7.6 1.5-1.1 1.5 1.1 1.5 2.2 1.5-4.7 1.5 .2 1.5-1.5 1.5-1 1.5 1.4 1.5 1 1.5-.3 1.5-3.9 1.5 1 1.5 2.8 1.5-.4 1.5 1.6 1.5-.8 1.5 3.7 1.5-5.9 1.5 2.3 1.5 1.8 1.5 .8 1.5-2.8 1.5 5.2 1.5-4.1 1.5-3.7 1.5 .9 1.5-1.1 1.5 1.4 1.5 2.1 1.5-4.5 1.5 3.1 1.5-1.7 1.5 .9 1.5-2.8 1.5 4.1 1.5-.8 1.5 2.6 1.5 4 1.5-7.8 1.5 4.7 1.5-6.3 1.5 3.1 1.5-.9 1.5 3.1 1.5-2.4 1.5-4.7 1.5 .9 1.5-.6 1.5 1.4 1.5 0 1.5-.9 1.5-2.1 1.5 3.5 1.5-3.3 1.5 9.2 1.5-3 1.5-4.1 1.5 .3 1.5 5.4 1.5-2.6 1.5-7.9 1.5 4.7 1.5 1.5 1.5 4.4 1.5 2.8 1.5-4.8 1.5 4.7 1.5 1.1 1.5-4.5 1.5 .3 1.5-5.3 1.5 8 1.5-1.5 1.5 3.4 1.5-2.2 1.5-.1 1.5 1.5 1.5-.2 1.5-2.5 1.5 1.5 1.5-4.8 1.5 4.4 1.5 1.5 1.5-2.6 1.5-5.9 1.5 5.4 1.5-7.1 1.5 2.6 1.5 3 1.5-7 1.5 5.6 1.5-1.6 1.5 .4 1.5 4.2 1.5-3.3 1.5-1.1 1.5-.3 1.5-4.4 1.5 3.9 1.5 9.2 1.5-8.1 1.5 3.1 1.5-.3 1.5-1.6 1.5 .4 1.5 1.4 1.5 1.3 1.5 6.8 1.5-5.2 1.5 1.8 1.5 7.5 1.5-6.2 1.5-3 1.5-2.3 1.5-.8 1.5-5.5 1.5-1.3 1.5 3.4 1.5-2 1.5 2.9 1.5 5.9 1.5-1.8 1.5 1.4 1.5 .5 1.5 .9 1.5 1.6 1.5-7.4 1.5-2.8 1.5 4.6 1.5-2.8 1.5 3.7 1.5 .8 1.5-1.2 1.5 3.5 1.5 2.7 1.5-3.1 1.5-3 1.5 9.3 1.5-4.9 1.5 1.9 1.5 .6 1.5 .3 1.5-2.6 1.5 2.6 1.5-4 1.5 5.8 1.5-5.1 1.5 1.5 1.5-4.3 1.5 3.8 1.5 1.6 1.5-3.4 1.5 5.4 1.5-5.1 1.5 2.2 1.5 5 1.5 1.8 1.5-.7 1.5-4.3 1.5 3.9 1.5-5.9 1.5 7.2 1.5-4" stroke="#f59a9a" stroke-width="1.05" fill="none" stroke-linejoin="round"/>
<path d="M133 828.5l1.5 2.3 1.5 1.8 1.5-3.7 1.5 .1 1.5-.9 1.5 8.2 1.5-3.6 1.5-1 1.5-3.8 1.5 8.1 1.5-4.1 1.5 4.1 1.5 .3 1.5 1 1.5-1.9 1.5-9.1 1.5 4.8 1.5 .1 1.5 4 1.5-9.2 1.5 .6 1.5 .2 1.5 8.1 1.5 .5 1.5-4.4 1.5-.4 1.5 1.2 1.5-7.4 1.5 4.8 1.5 1.5 1.5-6.2 1.5-.8 1.5 2.6 1.5-2.8 1.5-2 1.5 .3 1.5 .1 1.5 1.9 1.5-.8 1.5-.8 1.5-1.2 1.5 4.1 1.5 1.4 1.5 1.8 1.5-2.9 1.5-4.6 1.5 6.9 1.5-.1 1.5 4.4 1.5-6.5 1.5 5.7 1.5-3.8 1.5-1 1.5-3.7 1.5 7.9 1.5-5.1 1.5-1 1.5 7 1.5-2.2 1.5-1.5 1.5 1.4 1.5 3.4 1.5-3.6 1.5-.8 1.5-3.7 1.5 9.1 1.5 2.2 1.5-4.1 1.5 .6 1.5 1.8 1.5 0 1.5-1.2 1.5-.5 1.5 .3 1.5 1.9 1.5 2.9 1.5-6.9 1.5 1 1.5 2.6 1.5 2.2 1.5-4.4 1.5-.1 1.5-3.6 1.5-.4 1.5-.6 1.5 4.9 1.5-5.9 1.5-4.4 1.5 .3 1.5 3 1.5 2.1 1.5-.7 1.5 4.3 1.5 3.8 1.5-1.8 1.5-.6 1.5-.1 1.5 0 1.5 3.7 1.5 1.2 1.5 1.4 1.5-2.6 1.5-.1 1.5-2.8 1.5-1.4 1.5-.7 1.5 2.4 1.5-.5 1.5-.7 1.5 2.2 1.5 3.5 1.5-.9 1.5-6.3 1.5 8.9 1.5-4 1.5 .2 1.5-2.4 1.5-3.8 1.5 3.3 1.5 2.2 1.5 1.4 1.5-2.5 1.5 3.1 1.5 .5 1.5 .4 1.5-4.4 1.5 1.8 1.5 .4 1.5 6.2 1.5-10.7 1.5 .7 1.5-.5 1.5 1 1.5-4.1 1.5-.4 1.5 5.7 1.5 2.9 1.5-1.4 1.5 2.8 1.5-1.4 1.5-2.7 1.5 9.6 1.5-2.8 1.5 .7 1.5-1.9 1.5-1.4 1.5 2 1.5-.7 1.5-3 1.5 2.7 1.5-4.9 1.5 .9 1.5-.7 1.5 3.4 1.5-6 1.5 .1 1.5 5.2 1.5 .1 1.5-3.7 1.5 5.4 1.5-.9 1.5-2.2 1.5-3.9 1.5 1.1 1.5-1.8 1.5 .8 1.5 2.1 1.5-3.1 1.5 3.2 1.5 2.8 1.5-.8 1.5 2.8 1.5-4.5 1.5 .3 1.5 2.6 1.5 1 1.5 7.1 1.5-5.6 1.5 1.1 1.5-2.7 1.5 3 1.5-2.2 1.5 4.8 1.5-2.5 1.5 1.9 1.5-2.3 1.5-2.9 1.5-2.2 1.5 5.2 1.5-7.9 1.5-3 1.5 5.3 1.5 0 1.5-3.7 1.5-.4 1.5 .6 1.5-.6 1.5 1.1 1.5-3.1 1.5-.9 1.5 5.3 1.5 2.9 1.5-5.2 1.5-3.1 1.5 4.8 1.5 4.3 1.5-2.2 1.5-1.6 1.5-.6 1.5-5.8 1.5-2.2 1.5 4.7 1.5-.5 1.5 5.8 1.5-3 1.5 .4 1.5-.6 1.5 1.7 1.5 3.6 1.5-2.8 1.5 .8 1.5-3 1.5 3 1.5 1.7 1.5 .4 1.5-.7 1.5-3.1 1.5 6.1 1.5-4.2 1.5 4.7 1.5-3.2 1.5 2.7 1.5 .6 1.5-6.6 1.5-.9 1.5 2.8 1.5-.2 1.5 .8 1.5-1.1 1.5 2.5 1.5 1.4 1.5-9.3 1.5 6.1 1.5-1.9 1.5-.2 1.5 1.5 1.5-1.1 1.5-.8 1.5-.2 1.5 .9 1.5-.5 1.5-.9 1.5-.4 1.5-3.4 1.5 5.9 1.5-4.1 1.5 .9 1.5-.5 1.5 7.8 1.5-1.4 1.5-1.5 1.5-1.2 1.5 3.5 1.5-2.2 1.5-1.1 1.5 0 1.5 1.9 1.5 3.4 1.5-5 1.5 3.3 1.5-3.2 1.5-.8 1.5-2.3 1.5-3 1.5 .8 1.5-1.2 1.5 1.1 1.5 2.8 1.5-6.5 1.5-4.6 1.5 7.4 1.5 1 1.5-7.6 1.5 1.5 1.5 4.1 1.5 .7 1.5-3.5 1.5-4.3 1.5-.6 1.5 1.4 1.5-.2 1.5 5 1.5-1.7 1.5-6.8 1.5 9.4 1.5 7.8 1.5 1.3 1.5-7.4 1.5 .9 1.5 2.3 1.5 4.6 1.5 .1 1.5-5.7 1.5-.2 1.5 1.1 1.5 2 1.5-5.2 1.5-.9 1.5 4.2 1.5-2.5 1.5 3.2 1.5-1.2 1.5-3.8 1.5-3.9 1.5 5.2 1.5-2.1 1.5-.7 1.5-2 1.5 5.6 1.5 1.3 1.5-1 1.5 0 1.5-2.8 1.5-3.7 1.5 2.5 1.5 .6 1.5-3.9 1.5-1.1 1.5 3.5 1.5 2.9 1.5-5.3 1.5 1.1 1.5 .6 1.5 3.5 1.5-3.9 1.5 1.1 1.5-1.5 1.5 4.8 1.5 3.5 1.5-5.9 1.5-.4 1.5 3.4 1.5 5.8 1.5-7.1 1.5 .4 1.5 4.7 1.5-1.3 1.5-2.6 1.5 1.8 1.5 .7 1.5-.3 1.5-1.5 1.5-7.2 1.5-1 1.5 .7 1.5 2.6 1.5 2.5 1.5-2.5 1.5 6.4 1.5-3.2 1.5 1.1 1.5-2.5 1.5 1.6 1.5 5.3 1.5-4.1 1.5 1.8 1.5-5.9 1.5 1.6 1.5-4.1 1.5-3 1.5 1.2 1.5 7.4 1.5-1.6 1.5-3.1 1.5 6.9 1.5-1.5 1.5 2.1 1.5-1.9 1.5-4.1 1.5 3.1 1.5-.9 1.5-3.7 1.5 6.2 1.5-4.8 1.5-.4 1.5-.4 1.5-1.3 1.5 2.3 1.5-6 1.5-.9 1.5-.8 1.5 3.7 1.5 .5 1.5-1.3 1.5 2.1 1.5-2.8 1.5 2.3 1.5 2.4 1.5 3.3 1.5-3 1.5 3.3 1.5-1.3 1.5-.9 1.5-2.9 1.5-2.5 1.5-.2 1.5 2 1.5-1 1.5-.3 1.5 1.6 1.5 1.1 1.5-3.4 1.5-5.7 1.5 4.3 1.5-3.6 1.5 4 1.5 2 1.5 3.2 1.5 0 1.5-4.3 1.5 3.3 1.5-1.5 1.5 1.8 1.5-1 1.5-.4 1.5 2.9 1.5 .5 1.5-5.1 1.5-5.1 1.5 4.3 1.5 3 1.5-1.7 1.5-1 1.5-2.4 1.5-3.7 1.5 1.7 1.5 1.9 1.5 .5 1.5 4.5 1.5-1.1 1.5-.4 1.5 1.2 1.5-2.3 1.5 5.9 1.5-4.7 1.5-7.5 1.5 14.8 1.5-3.8 1.5-1.3 1.5-2.3 1.5 .5 1.5 .4" stroke="#f59a9a" stroke-width="1.05" fill="none" stroke-linejoin="round"/>
<path d="M133 822.1l1.5 10.5 1.5-4.2 1.5-2.2 1.5-.6 1.5 9.1 1.5-5 1.5-1 1.5 8.4 1.5-9.2 1.5 3.9 1.5 1.2 1.5 3.3 1.5-4 1.5-3.8 1.5 1.3 1.5 4.2 1.5-1.9 1.5-.2 1.5-3.1 1.5 2.3 1.5-8.8 1.5 2.8 1.5-1 1.5-8.7 1.5 9.5 1.5-5.6 1.5 6.1 1.5-3.8 1.5 .4 1.5 1.1 1.5 1.1 1.5 2.8 1.5-3.8 1.5 3.7 1.5-1.3 1.5 .2 1.5 1.1 1.5 1.8 1.5 .1 1.5 5.3 1.5-3.7 1.5-4.4 1.5-2.4 1.5 5 1.5-2.5 1.5-2.8 1.5 2.6 1.5-2.4 1.5-1.6 1.5 0 1.5 .8 1.5 .4 1.5-.2 1.5 1 1.5-1.1 1.5 3.4 1.5-4.5 1.5-2 1.5 2 1.5 1.6 1.5-2.4 1.5 4.2 1.5-1.1 1.5 .8 1.5 .9 1.5 1.7 1.5 2 1.5-3 1.5 3.8 1.5-1.2 1.5-3.3 1.5 4.3 1.5 2.3 1.5-2.9 1.5 4.2 1.5-7.5 1.5 8.1 1.5-3.2 1.5-5.2 1.5 2.3 1.5-.2 1.5-.4 1.5 2.6 1.5-7.1 1.5 1.5 1.5 .5 1.5-3.5 1.5 3.8 1.5 1.8 1.5 1.4 1.5 4.3 1.5-10.3 1.5 5.8 1.5 .6 1.5-1.8 1.5-.4 1.5 2.7 1.5-3.7 1.5-7 1.5 5.5 1.5 3.5 1.5 1.1 1.5-2 1.5 .5 1.5 .8 1.5-.5 1.5 1.4 1.5-4.7 1.5 4.5 1.5 2.6 1.5-7.5 1.5 6.4 1.5 .2 1.5-4.3 1.5 3.4 1.5-.2 1.5 2.4 1.5-.3 1.5-2.9 1.5-2.8 1.5-2.8 1.5 1.2 1.5 2 1.5-1.3 1.5-2.1 1.5 3.5 1.5-1.5 1.5 5.2 1.5-2.4 1.5-1.5 1.5 1.8 1.5-.7 1.5-1.4 1.5 1.7 1.5-4.5 1.5-2 1.5-.1 1.5-4.4 1.5 9.2 1.5-7.5 1.5-.6 1.5 3.6 1.5 4 1.5 .3 1.5-3.7 1.5 2.2 1.5-2.5 1.5 1.9 1.5-1.1 1.5-5.7 1.5 6 1.5-3.8 1.5-2.5 1.5 .3 1.5 5.3 1.5 3.2 1.5-2.3 1.5-3.2 1.5 9.8 1.5 1 1.5 1.5 1.5-6.8 1.5 1.4 1.5 2.8 1.5 .7 1.5 2 1.5-5.8 1.5 3.3 1.5 2.2 1.5-4.9 1.5 1.5 1.5-6.3 1.5-1.9 1.5 .4 1.5 4.7 1.5 1.8 1.5 1.1 1.5-.2 1.5 4.9 1.5 2 1.5-4.7 1.5 4.3 1.5-2.9 1.5 .5 1.5-4.3 1.5-2.7 1.5 4.7 1.5-1.1 1.5-1 1.5 .9 1.5-1.7 1.5-1 1.5 1.1 1.5 1.5 1.5-2.3 1.5-6.2 1.5 2.3 1.5-.1 1.5 3.1 1.5-4.9 1.5 3 1.5 .1 1.5 .7 1.5 8.2 1.5-4.4 1.5-1.3 1.5 1.3 1.5 2.4 1.5 3.1 1.5-5.4 1.5-3.5 1.5 5.6 1.5-1.6 1.5-1.3 1.5 9.9 1.5-.5 1.5-3.9 1.5 4.5 1.5-1 1.5 .9 1.5-2 1.5-1.5 1.5 7.2 1.5-4.5 1.5-1.9 1.5-1.5 1.5 4.2 1.5-4.6 1.5 5.6 1.5-6.7 1.5 9.3 1.5-6.5 1.5-1.4 1.5 5.6 1.5-3.7 1.5 1.4 1.5 1.5 1.5-3.9 1.5-.5 1.5-5.3 1.5 4.9 1.5-6.1 1.5 .9 1.5 1.2 1.5 .1 1.5 3.6 1.5 2.3 1.5 .6 1.5-7.8 1.5 8.6 1.5-3.3 1.5-.6 1.5-1.3 1.5 4.7 1.5-.2 1.5-1.7 1.5-3.4 1.5 4.8 1.5-4.9 1.5 5.3 1.5 1.2 1.5-5.4 1.5-1.3 1.5 2.6 1.5 2.4 1.5-6.1 1.5 .4 1.5 .4 1.5-1.5 1.5 2.7 1.5 .2 1.5-1 1.5 3.8 1.5 6.7 1.5-2 1.5-1.1 1.5-.5 1.5 2.6 1.5-1.4 1.5-2.5 1.5-.8 1.5 3.9 1.5-2.7 1.5 2 1.5 1 1.5 .3 1.5-.4 1.5-1.9 1.5-.5 1.5-5.2 1.5 .7 1.5-3.4 1.5 2.2 1.5 1.6 1.5-1.8 1.5 .6 1.5 1.5 1.5 2.4 1.5-2.9 1.5 .3 1.5 .7 1.5-.8 1.5 .4 1.5-1.5 1.5-1 1.5 1.6 1.5-2.8 1.5-.3 1.5-2.6 1.5 3.9 1.5-1.7 1.5 .5 1.5-1.8 1.5 3.1 1.5-1.2 1.5-5.9 1.5 8 1.5 1.6 1.5 1 1.5 2.3 1.5-2.5 1.5-1.7 1.5-1.4 1.5-.5 1.5 .8 1.5-2.1 1.5 1.7 1.5-1.4 1.5-.5 1.5 2.9 1.5-1.8 1.5 4.9 1.5 .1 1.5-3.2 1.5-5.5 1.5 1 1.5 3.2 1.5-3.8 1.5-5 1.5 3.8 1.5-1.3 1.5 2.3 1.5 2 1.5 3.8 1.5-3.2 1.5-1 1.5 3.4 1.5 1.5 1.5-2.1 1.5-1.9 1.5 .6 1.5 4.9 1.5-3.7 1.5-2.6 1.5 .7 1.5-1.9 1.5 1 1.5-2.6 1.5-2.6 1.5 2.2 1.5-6.8 1.5 8.5 1.5 2.4 1.5 .9 1.5-1.3 1.5 1.5 1.5-2.4 1.5 4.6 1.5 1.2 1.5 .8 1.5-10.4 1.5 6.3 1.5-.3 1.5-2.5 1.5 3.4 1.5-1.6 1.5 2.7 1.5-2.3 1.5 .2 1.5 .4 1.5 5.7 1.5-1.7 1.5-2.7 1.5-5.5 1.5 2.1 1.5-6.5 1.5-3.5 1.5 8.3 1.5-3.1 1.5-.5 1.5-1.5 1.5 3.7 1.5 3 1.5-.1 1.5 4.9 1.5-6.1 1.5 5.7 1.5-2.1 1.5-1.8 1.5 3.2 1.5-4.1 1.5 3.2 1.5 .2 1.5-4.7 1.5 .9 1.5 1.7 1.5-.4 1.5 2.8 1.5 2.3 1.5-1.8 1.5 1.8 1.5-2.3 1.5 1.6 1.5 5.8 1.5-8 1.5 4.7 1.5-2.6 1.5 1.7 1.5-.3 1.5-.6 1.5 1.3 1.5-.8 1.5-4.7 1.5 .4 1.5-1 1.5 .9 1.5 3.2 1.5-1.5 1.5-3.2 1.5 .9 1.5 4.8 1.5-.3 1.5-.4 1.5-1.8 1.5-2 1.5-2 1.5-1.3 1.5-1 1.5-3 1.5-2.1 1.5 1 1.5-1.9 1.5-1.3 1.5 6.7 1.5-2.4 1.5 2.5 1.5 6.5 1.5-6.6 1.5 4.3 1.5 1.2 1.5 1.3 1.5 6.6" stroke="#f59a9a" stroke-width="1.05" fill="none" stroke-linejoin="round"/>
<path d="M133 826.2l1.5 2.3 1.5 2 1.5-1.4 1.5-.5 1.5-4.7 1.5 8.9 1.5-7.8 1.5-3.1 1.5 6.2 1.5-.3 1.5-2.2 1.5 2.3 1.5-2.5 1.5 8.2 1.5 .2 1.5-7.6 1.5 2.4 1.5 2.9 1.5-4.2 1.5 .7 1.5-.9 1.5-3.9 1.5 1.9 1.5-4.3 1.5 3.5 1.5-.2 1.5 1.1 1.5-1.9 1.5 4.3 1.5-3.1 1.5 1.2 1.5-1.7 1.5 2.4 1.5-5 1.5 0 1.5 .8 1.5-1.3 1.5-1.3 1.5 5.7 1.5-.1 1.5-1.1 1.5 .2 1.5-1.4 1.5-.2 1.5 1.8 1.5 1.3 1.5-1.1 1.5-.7 1.5 4.4 1.5 .2 1.5 2.4 1.5-.8 1.5-.7 1.5 2 1.5-4.2 1.5-.4 1.5 3.4 1.5-2.3 1.5-2.4 1.5 5 1.5 .3 1.5 6.6 1.5-3 1.5-1.7 1.5-4.3 1.5-.4 1.5 1 1.5 2.9 1.5 .1 1.5 5.8 1.5-4.5 1.5-4.7 1.5 .9 1.5 2.5 1.5-6.3 1.5 4.1 1.5 1.2 1.5-1 1.5-1.7 1.5 .7 1.5 4.8 1.5 1 1.5-2 1.5-1 1.5-3.6 1.5 1.1 1.5-.6 1.5 .9 1.5 1.7 1.5-4.7 1.5 .3 1.5 1.3 1.5-1.6 1.5 4.8 1.5-.5 1.5 1.3 1.5 2.9 1.5 .2 1.5 .9 1.5-5.1 1.5-.5 1.5 4.7 1.5-6.7 1.5 .5 1.5-1.4 1.5 .8 1.5-.8 1.5-1.1 1.5 3.4 1.5-1.9 1.5-2.7 1.5 6.3 1.5-1 1.5-7.1 1.5-.6 1.5 2.3 1.5-4.3 1.5 0 1.5 3.6 1.5 2.8 1.5 1.9 1.5-4.6 1.5 4.4 1.5 3.8 1.5-1.2 1.5-.2 1.5-5.2 1.5 1.1 1.5 6.6 1.5-4.4 1.5-.1 1.5-5.6 1.5 4.6 1.5 3.1 1.5 6.7 1.5-5.9 1.5-3.3 1.5 1.6 1.5 1 1.5-.7 1.5-3.2 1.5 1.2 1.5 1 1.5-5 1.5 6.1 1.5-6.9 1.5 5.3 1.5 4 1.5-5 1.5-.3 1.5-3.5 1.5 .7 1.5 2.7 1.5-4.3 1.5 1.5 1.5 1.3 1.5-.5 1.5 1.5 1.5 .9 1.5-5.6 1.5 4.4 1.5 1 1.5 .1 1.5-2.7 1.5 2.9 1.5 2.7 1.5-3 1.5-1.5 1.5 4.7 1.5 2.3 1.5-5 1.5-2.5 1.5-.9 1.5-2.4 1.5-.8 1.5 9.8 1.5-4 1.5 2 1.5 2.7 1.5 2.3 1.5-2.9 1.5-.8 1.5 .3 1.5 0 1.5-7.1 1.5 1.1 1.5-.3 1.5 3.6 1.5 6 1.5-10.8 1.5 6.2 1.5 .6 1.5-2.3 1.5-2.3 1.5-.9 1.5 1.8 1.5-3.3 1.5 .4 1.5 1.6 1.5 6.7 1.5-2.7 1.5 4.4 1.5 5.3 1.5 3.9 1.5 .3 1.5-1.4 1.5 5 1.5-9.3 1.5-3 1.5 5.8 1.5-6.2 1.5 2.2 1.5-6.4 1.5 .3 1.5 6 1.5 .2 1.5-7 1.5 6.8 1.5-3.9 1.5 2.8 1.5 2.7 1.5-2.1 1.5 3 1.5-1 1.5-.7 1.5 2.4 1.5-3.2 1.5 3.1 1.5-3.5 1.5-1.4 1.5-1.7 1.5 10 1.5-2.9 1.5-6.7 1.5-4.2 1.5 10.4 1.5-7 1.5-3.2 1.5 3.7 1.5 4 1.5-1.1 1.5 .7 1.5 2.2 1.5-5.8 1.5-3 1.5 .4 1.5-.3 1.5 3.5 1.5-3 1.5 .7 1.5-1.6 1.5-2.3 1.5-3.7 1.5 3.9 1.5 3.9 1.5-2.1 1.5 6.6 1.5-2.8 1.5-.5 1.5 2.5 1.5-5.8 1.5 1 1.5 5.9 1.5-1.4 1.5-.4 1.5 .5 1.5-.4 1.5 .4 1.5-4.5 1.5 9 1.5-9.5 1.5 .3 1.5 4.1 1.5 3.8 1.5-1.5 1.5 1.2 1.5 .8 1.5-.9 1.5-4.7 1.5 1.3 1.5 .8 1.5-4 1.5-.1 1.5-2.2 1.5 5.1 1.5 0 1.5-3.3 1.5 3.7 1.5 1.2 1.5-4.8 1.5 6 1.5-2.8 1.5-2.9 1.5-.1 1.5 4.2 1.5 2.5 1.5-2 1.5 5.3 1.5-.8 1.5-1.8 1.5 2.6 1.5-2.2 1.5 .3 1.5-3.4 1.5-.2 1.5 .9 1.5-1.2 1.5-.8 1.5 5.8 1.5-8 1.5 6.4 1.5-.3 1.5 1.2 1.5-8.6 1.5 6.4 1.5-2.9 1.5 .9 1.5 1 1.5 1 1.5 2.3 1.5-3.1 1.5-4.1 1.5-1.6 1.5 .1 1.5-6.1 1.5 5.5 1.5 .6 1.5-1.7 1.5-2 1.5 5.9 1.5-2.4 1.5 8 1.5-.9 1.5-1.8 1.5 4.9 1.5-6.9 1.5 1.8 1.5 6.2 1.5-.9 1.5-4.1 1.5-2.3 1.5 1.6 1.5-4 1.5-1.3 1.5-.6 1.5-6 1.5 3.7 1.5-.3 1.5 .5 1.5-3.9 1.5 .6 1.5-3.5 1.5 8 1.5-4.6 1.5 1 1.5 4.5 1.5-2.1 1.5-.2 1.5 6.1 1.5-1.4 1.5 1.9 1.5-6.5 1.5 6.1 1.5-5.7 1.5-1.8 1.5 2.5 1.5-3.3 1.5 2 1.5 1.1 1.5 1.8 1.5-.2 1.5-2.1 1.5-2.4 1.5 .6 1.5 2.1 1.5-3.5 1.5-1.3 1.5 2.1 1.5 6.8 1.5-2.9 1.5 3.4 1.5-1.4 1.5 4 1.5-6.4 1.5-2.7 1.5 2.6 1.5 .6 1.5 .9 1.5 1.3 1.5-3.6 1.5 4 1.5-2.3 1.5-.3 1.5-3.2 1.5-1 1.5 2 1.5-3.5 1.5 3.8 1.5 .8 1.5-3.6 1.5 .1 1.5 7.5 1.5-4.1 1.5-3.1 1.5-3.7 1.5 4.1 1.5-2.9 1.5 0 1.5 2.6 1.5 .3 1.5 2 1.5-3.1 1.5-5.8 1.5 0 1.5 3.3 1.5 2.3 1.5 1.6 1.5-5.4 1.5-1.4 1.5-.4 1.5 7.1 1.5 1.4 1.5-.7 1.5-2.8 1.5 10.7 1.5-5.4 1.5 2.1 1.5 .8 1.5-4.6 1.5 1.1 1.5 3.6 1.5-4.6 1.5 .1 1.5-7.5 1.5 .4 1.5 .5 1.5 .9 1.5 4.5 1.5 4 1.5-8.5 1.5 5.3 1.5-1.4 1.5 5 1.5-.9 1.5-3.6 1.5-1 1.5 4.4 1.5-3.8 1.5-5.3 1.5-3.1 1.5 .8 1.5 2.6" stroke="#f59a9a" stroke-width="1.05" fill="none" stroke-linejoin="round"/>
<path d="M133 839.7l1.5-4 1.5-3.9 1.5 1.6 1.5-.3 1.5 .6 1.5 2.2 1.5-1.5 1.5 2.4 1.5-5.8 1.5 3.4 1.5-3.3 1.5-1.4 1.5-3.7 1.5 3.6 1.5 .8 1.5-3.1 1.5 1.2 1.5-2.5 1.5 6.6 1.5-2.1 1.5-3.5 1.5 3.5 1.5-.7 1.5-3.5 1.5-4.3 1.5-.2 1.5 5 1.5-1.7 1.5 3.4 1.5 3.3 1.5-7 1.5-.4 1.5-.1 1.5-5.1 1.5 9.8 1.5-3.8 1.5 3.2 1.5-3.6 1.5 .2 1.5 5.7 1.5 .4 1.5-1.9 1.5 1.6 1.5 3.3 1.5-.5 1.5 .7 1.5 .7 1.5 1.1 1.5 2.1 1.5-8.6 1.5 3.7 1.5-5.9 1.5 2.6 1.5 3.4 1.5-4.7 1.5 1.4 1.5-3.2 1.5 4.1 1.5-3.6 1.5-2.4 1.5 2 1.5-1.5 1.5 4.2 1.5-2 1.5 .1 1.5 0 1.5 4.3 1.5-5.4 1.5 5.6 1.5-.4 1.5-4 1.5 4.5 1.5 1.7 1.5 2.3 1.5-5.1 1.5 5.3 1.5-2.9 1.5-2.8 1.5 1.3 1.5 .7 1.5-6.8 1.5 4.6 1.5-3 1.5 1.4 1.5-2.9 1.5-1.8 1.5 .3 1.5 2.8 1.5-6 1.5 4.2 1.5-.8 1.5 2.9 1.5 3.8 1.5-3.8 1.5 7.6 1.5-3.6 1.5-1.5 1.5 .4 1.5-5.9 1.5 2.6 1.5 1.2 1.5-2.3 1.5 4 1.5-.2 1.5-1.3 1.5-.5 1.5 .6 1.5 1.9 1.5 1.8 1.5-3.3 1.5 1.9 1.5 .4 1.5-3.4 1.5 5 1.5-5.4 1.5 2.9 1.5-7 1.5 4.8 1.5-2.5 1.5 2.4 1.5-1.1 1.5 1.7 1.5 1.4 1.5 .8 1.5-3.5 1.5-2.2 1.5 5.7 1.5-1.9 1.5-2 1.5-1.4 1.5 3.5 1.5-4.3 1.5 4.6 1.5-2.2 1.5 .4 1.5 1.5 1.5-.4 1.5-2.1 1.5-1.7 1.5 5.1 1.5-4.4 1.5 2.9 1.5 .6 1.5-.5 1.5-2.6 1.5-1.5 1.5 5.9 1.5-1.6 1.5-3.7 1.5-3 1.5 2.4 1.5 3.6 1.5-2.7 1.5 1.7 1.5-1 1.5-2.7 1.5 5.7 1.5 .2 1.5-4.1 1.5 3.6 1.5-1.2 1.5-4.8 1.5-.9 1.5 .9 1.5-.5 1.5-3.3 1.5 2.5 1.5 1.9 1.5 1.4 1.5-1.9 1.5 3.1 1.5-.5 1.5-2.4 1.5-1 1.5 5.2 1.5 .5 1.5-5.6 1.5 6.8 1.5 2.6 1.5 2.2 1.5 5.2 1.5-3.3 1.5-.2 1.5 3.7 1.5-10.6 1.5 4.9 1.5-2.7 1.5-4.6 1.5 0 1.5-2 1.5 3 1.5 5.6 1.5-4.7 1.5-5.9 1.5 .7 1.5 1.5 1.5-1.5 1.5-.3 1.5-.4 1.5-1.8 1.5 2.1 1.5 4.9 1.5 3 1.5-2.6 1.5 6.1 1.5-.3 1.5 0 1.5-1.4 1.5-3 1.5-2.6 1.5 .5 1.5-.7 1.5 7.9 1.5-4.2 1.5 5.1 1.5-2.2 1.5-1.9 1.5-.8 1.5 2.2 1.5-3.8 1.5-1 1.5 1.5 1.5 .5 1.5 2.7 1.5-2.1 1.5 5.4 1.5-3.2 1.5-.6 1.5 5.6 1.5 .4 1.5-3 1.5-7.5 1.5 1.6 1.5-1.4 1.5 .4 1.5 .9 1.5-2.4 1.5-3.8 1.5 1.7 1.5 6 1.5-4.6 1.5 4.5 1.5 1.1 1.5-3.4 1.5 2.5 1.5 .7 1.5 3.5 1.5-.5 1.5-.6 1.5-2.2 1.5 2 1.5-2.5 1.5 2.2 1.5-2.2 1.5-1.9 1.5 4.8 1.5 1.5 1.5-.4 1.5-2.2 1.5-1.9 1.5 7.2 1.5-2.4 1.5-1.7 1.5 4 1.5-6.4 1.5 3.2 1.5-1.2 1.5-6.4 1.5-1.1 1.5-1.4 1.5 .2 1.5-.4 1.5 2.7 1.5 1.5 1.5 4.1 1.5-.1 1.5 1.3 1.5-4.8 1.5-.6 1.5 2.5 1.5-3.9 1.5-1.7 1.5 1.8 1.5 5.1 1.5-5 1.5-1 1.5-.3 1.5 5.3 1.5-1.1 1.5 4 1.5-4.8 1.5 2.3 1.5-.4 1.5 .7 1.5 .8 1.5 2 1.5-7 1.5 4.6 1.5 2.1 1.5 .6 1.5-2 1.5-3.5 1.5 1.6 1.5-.3 1.5-5.1 1.5 1.8 1.5 7.8 1.5-1.7 1.5-6.2 1.5 .5 1.5-.7 1.5-.7 1.5 3.7 1.5-.9 1.5 4.1 1.5-3.4 1.5 3.3 1.5 1.9 1.5 1.4 1.5-2 1.5-1.2 1.5 2.8 1.5-3 1.5-7 1.5 3.6 1.5 3.9 1.5-1 1.5 1.4 1.5-3.5 1.5 2.1 1.5-2.2 1.5 1.8 1.5 2.6 1.5-1.7 1.5-3.7 1.5-1 1.5 6.2 1.5 1.9 1.5-6.1 1.5-1.4 1.5 3.6 1.5-1.4 1.5-3 1.5-.3 1.5 3.3 1.5-2.9 1.5 5.8 1.5-5.3 1.5 .7 1.5-4.4 1.5 5 1.5-4 1.5 5.7 1.5-2.3 1.5 .1 1.5-6.6 1.5 3 1.5 2.1 1.5 8.2 1.5-5.9 1.5 .2 1.5 4 1.5 3.1 1.5 6.4 1.5-2.9 1.5 2.1 1.5-7.6 1.5 3.1 1.5-6.3 1.5 2.6 1.5-1.7 1.5 4.4 1.5-3 1.5-3.3 1.5-5.4 1.5 6 1.5-6.5 1.5 3 1.5-2.8 1.5 .9 1.5-.7 1.5-.5 1.5 3.3 1.5 .5 1.5 .3 1.5 3.9 1.5-8.4 1.5 7.7 1.5-1.8 1.5-2 1.5 3 1.5-3.8 1.5 1.8 1.5 3.4 1.5-1.8 1.5 .4 1.5 1.8 1.5-4.6 1.5-2.1 1.5-.9 1.5-.6 1.5 2.3 1.5 .6 1.5 2.1 1.5 .4 1.5-4.9 1.5 2 1.5 .7 1.5-.3 1.5-1.9 1.5 5.5 1.5-1.2 1.5 .5 1.5-2.7 1.5 5.4 1.5-3.6 1.5 1 1.5-2.5 1.5-1.2 1.5 2.9 1.5 1.3 1.5-.1 1.5 3 1.5-1.9 1.5-8 1.5 2.6 1.5-1.5 1.5 3.8 1.5-1.8 1.5-3.8 1.5 7.1 1.5-4.6 1.5 2.4 1.5 .9 1.5 .1 1.5-6.1 1.5 1.7 1.5-1 1.5-1.1 1.5 1.1 1.5 3.1 1.5-1.9 1.5-1.2 1.5 .1 1.5-5.7 1.5 1.7 1.5 2.3 1.5-3.5 1.5-.5 1.5-2.1 1.5 .5 1.5 .6" stroke="#f59a9a" stroke-width="1.05" fill="none" stroke-linejoin="round"/>
<path d="M133 830.4l1.5-2.6 1.5-1 1.5 4.6 1.5 2.4 1.5-3.3 1.5 6.3 1.5-.5 1.5-.1 1.5 2.5 1.5 1.2 1.5-7.1 1.5 1.4 1.5 1.6 1.5-1.9 1.5-1.4 1.5-7.4 1.5 5.2 1.5 .1 1.5 .6 1.5-1.6 1.5 2.6 1.5 .7 1.5-4.3 1.5-2.5 1.5 2.4 1.5 4.5 1.5-3.5 1.5-5.4 1.5 4 1.5 2.5 1.5-2.7 1.5 5.1 1.5 1.9 1.5 3.6 1.5-.4 1.5-2.3 1.5 5.3 1.5-5.8 1.5-3.3 1.5-1.8 1.5 5.1 1.5-1.2 1.5-7 1.5 .8 1.5 1.1 1.5 1.1 1.5 .4 1.5 7.5 1.5-7.2 1.5 5.3 1.5-2.2 1.5-.4 1.5-2.1 1.5 6.2 1.5-6.3 1.5-.1 1.5 4.7 1.5 3.1 1.5-2.3 1.5 1.8 1.5 0 1.5-1.8 1.5-1.9 1.5 1 1.5 3.2 1.5 1.3 1.5-2.5 1.5 3.4 1.5-5.6 1.5-2.7 1.5-.6 1.5-1.5 1.5-3.1 1.5 7.6 1.5-2 1.5 5.4 1.5-5.4 1.5-2.5 1.5-1.1 1.5-5.5 1.5 4.6 1.5 1.5 1.5-2.4 1.5-2.7 1.5 1.1 1.5-2.7 1.5-1.9 1.5-.8 1.5 5.9 1.5 .1 1.5 1.5 1.5 6 1.5 2.7 1.5-3.5 1.5 .1 1.5 1.5 1.5-.3 1.5 4 1.5-2.5 1.5 3.6 1.5-.8 1.5-1.6 1.5 1.9 1.5-1.7 1.5-2.6 1.5-1.1 1.5 7 1.5-.6 1.5-5.5 1.5 .1 1.5 .8 1.5-.9 1.5-.2 1.5 3.1 1.5 0 1.5-5 1.5 2.5 1.5 3.8 1.5-1.3 1.5-.8 1.5 2.9 1.5-1.2 1.5 .5 1.5 3.7 1.5-7 1.5-1.3 1.5-4.8 1.5 1.9 1.5 4.9 1.5-2.1 1.5 1.5 1.5-.8 1.5 0 1.5 4.5 1.5 .4 1.5-2.7 1.5 1.1 1.5-2 1.5-.2 1.5-2 1.5-5.7 1.5 5.4 1.5 .3 1.5 0 1.5 1.4 1.5-4.1 1.5 3.5 1.5 3.1 1.5-1.2 1.5-3 1.5-.5 1.5 3.4 1.5 .5 1.5-1.2 1.5 1.1 1.5 .3 1.5-3.2 1.5-3 1.5 4.2 1.5-1.8 1.5-1.8 1.5-4.5 1.5 1.8 1.5-2.7 1.5-1.2 1.5 1.7 1.5-.3 1.5-2.4 1.5 6.9 1.5-.3 1.5-4.4 1.5 2.3 1.5-3.6 1.5-2.5 1.5 5.4 1.5 1.9 1.5 2.4 1.5-1.4 1.5 .8 1.5 5.7 1.5 4.4 1.5-5.2 1.5 .4 1.5-2 1.5-5 1.5-3.9 1.5 4.2 1.5 1.5 1.5-2.3 1.5 2.7 1.5-6.1 1.5 3.2 1.5-1.6 1.5-2.3 1.5 1.6 1.5 .8 1.5-.1 1.5-2.4 1.5 3.8 1.5 1.2 1.5-1.2 1.5 9.7 1.5 .9 1.5 1.4 1.5-7.5 1.5 .1 1.5 .7 1.5-3.4 1.5 .2 1.5-3.2 1.5-3.8 1.5-3.9 1.5 .4 1.5-.6 1.5 8.5 1.5-2.1 1.5 2.7 1.5 1.5 1.5 2.1 1.5-2 1.5-3.5 1.5-.7 1.5 4.5 1.5 1.2 1.5-1.7 1.5 2.1 1.5 1.4 1.5 2.2 1.5-6.1 1.5-.5 1.5 .2 1.5 7.7 1.5-3.4 1.5-1.8 1.5-.5 1.5-1.1 1.5 1.1 1.5-1.7 1.5-4.5 1.5 5.9 1.5-2.5 1.5 5.4 1.5-5.4 1.5 6.2 1.5-5.7 1.5-3.5 1.5-.8 1.5-1 1.5 5.7 1.5-.6 1.5-2.9 1.5 2.9 1.5 4.3 1.5-3.2 1.5 2.4 1.5 1 1.5-1.5 1.5 .5 1.5-1 1.5-1.1 1.5 2.3 1.5-4.3 1.5-9.3 1.5 6.5 1.5-1.2 1.5 3.1 1.5 .8 1.5-1.9 1.5-8.8 1.5 9.4 1.5-1.5 1.5-.2 1.5 1.7 1.5 2 1.5 0 1.5 1 1.5-2.9 1.5-.4 1.5-1 1.5 1.9 1.5-3.7 1.5-.6 1.5-1.1 1.5 2.1 1.5-.8 1.5 3.9 1.5 1.2 1.5 1.4 1.5-1.8 1.5-1.2 1.5-1.9 1.5-.5 1.5-1.3 1.5-.8 1.5-2.7 1.5 .5 1.5 5.1 1.5-2.4 1.5 7.5 1.5-1.3 1.5-3.2 1.5 2.4 1.5-.2 1.5-2.9 1.5 1.6 1.5-3.9 1.5-2.6 1.5-2.3 1.5 .5 1.5 3.7 1.5-4.2 1.5-1.8 1.5 3.3 1.5 5.3 1.5-1.6 1.5 2.2 1.5-1.5 1.5-.5 1.5 .6 1.5 .1 1.5 2.6 1.5-.2 1.5 .4 1.5 4.5 1.5-4 1.5-.2 1.5 .8 1.5-4.4 1.5 .4 1.5 5 1.5 .4 1.5-3.1 1.5 3 1.5-.4 1.5-3.4 1.5 2.2 1.5-.7 1.5-.3 1.5 3.7 1.5-1.4 1.5-.5 1.5-2.9 1.5 1.6 1.5-.2 1.5 1.6 1.5 2.2 1.5-2.3 1.5-1.4 1.5-1.8 1.5 3.2 1.5-1.9 1.5 3.6 1.5-2.1 1.5-1.6 1.5 1.1 1.5-.7 1.5-1.2 1.5 .3 1.5 8.4 1.5-3.2 1.5 3.1 1.5 2.3 1.5-4.1 1.5 2.9 1.5-2.4 1.5 2.1 1.5-.2 1.5-9.6 1.5-1.1 1.5 2.1 1.5-3.9 1.5-.1 1.5 2 1.5-.5 1.5 6.9 1.5 2.3 1.5-7.3 1.5-4.9 1.5 1.7 1.5 .3 1.5-.5 1.5-2.1 1.5-3.4 1.5 1.3 1.5 1.9 1.5 5.1 1.5 .5 1.5-.3 1.5-1.3 1.5 .3 1.5 5.7 1.5-1.3 1.5-.2 1.5 4.7 1.5-6.1 1.5 3.2 1.5-9.6 1.5 2.8 1.5 2.7 1.5-4.8 1.5 .8 1.5-2.3 1.5 2.4 1.5 2.3 1.5 .3 1.5 4.2 1.5-4.7 1.5 1.1 1.5-3.3 1.5-1.7 1.5 7.8 1.5-6.1 1.5 3 1.5 4.8 1.5-2 1.5-.4 1.5 4.3 1.5 .4 1.5-.4 1.5 .4 1.5 .9 1.5-.6 1.5-6 1.5 2.8 1.5 .4 1.5-3.2 1.5-.6 1.5-.1 1.5 1.5 1.5-1 1.5 2.4 1.5-1.1 1.5-2.2 1.5-.3 1.5-4.1 1.5 7.6 1.5 1.6 1.5 2.7 1.5-2 1.5-6 1.5 2 1.5 4.7 1.5 3.7 1.5-6.5 1.5 4.2 1.5 .3 1.5-8.6 1.5-.9 1.5 1.1 1.5 1.2 1.5 2.6 1.5-3" stroke="#f59a9a" stroke-width="1.05" fill="none" stroke-linejoin="round"/>
<path d="M133 822.5l1.5 .5 1.5 1.6 1.5 1.3 1.5 4.6 1.5-1.1 1.5-1.2 1.5 3.5 1.5 0 1.5 2.3 1.5-6.8 1.5 3.9 1.5 1.4 1.5 3.1 1.5-1.5 1.5 2 1.5-3 1.5-1.4 1.5 .5 1.5 4.1 1.5 1.5 1.5-1.3 1.5 .2 1.5-3.6 1.5-4.3 1.5 1.4 1.5 3.7 1.5-3.5 1.5 .7 1.5-3.3 1.5 1 1.5-.6 1.5-.6 1.5 .5 1.5-.8 1.5 1.6 1.5 1.2 1.5-9.3 1.5-.7 1.5 6.5 1.5 3.7 1.5-5.3 1.5-3.3 1.5-1.4 1.5 6.6 1.5-3.7 1.5 6.9 1.5 0 1.5-.2 1.5 4.6 1.5-6.9 1.5 5.1 1.5-.2 1.5-.2 1.5 1.3 1.5 .4 1.5-4.4 1.5 1.2 1.5 6.7 1.5 1.6 1.5-.1 1.5-3.2 1.5-5.4 1.5-4.1 1.5 2.5 1.5 1.5 1.5 4.3 1.5-5.7 1.5 1.5 1.5 .5 1.5 2.8 1.5 3.2 1.5-5.1 1.5-2.8 1.5 2.3 1.5 .4 1.5-.7 1.5-6.9 1.5 1.7 1.5 4.4 1.5-5.9 1.5 0 1.5 5.9 1.5 0 1.5-3.5 1.5 3 1.5 1.7 1.5 6 1.5-2 1.5 3.4 1.5-4.1 1.5 3.7 1.5-2.6 1.5-1.7 1.5-1.1 1.5-4.2 1.5 3.8 1.5 1.2 1.5-3.5 1.5 6.3 1.5-2.9 1.5-3.5 1.5-.4 1.5-6.4 1.5 3.4 1.5 6.4 1.5-2.7 1.5 2.7 1.5-1.7 1.5 1.1 1.5-2 1.5-4.9 1.5 1.1 1.5 4.6 1.5-2.7 1.5 3.8 1.5-.8 1.5-1.4 1.5 4.1 1.5-5.6 1.5 8.1 1.5-.8 1.5-5.7 1.5 11 1.5-.2 1.5-4.1 1.5-1.1 1.5 3.3 1.5-3.8 1.5 3.2 1.5-5.9 1.5 2 1.5-2.9 1.5-3.5 1.5-2.1 1.5 4.3 1.5-2.8 1.5-3.6 1.5 3 1.5 4.2 1.5-3.6 1.5 1.6 1.5-.4 1.5-1.2 1.5 .3 1.5 .3 1.5 4.4 1.5 2.9 1.5-3.4 1.5 2.4 1.5 .3 1.5 2.4 1.5-2.3 1.5 1.2 1.5-2.1 1.5 .5 1.5 5.6 1.5-.2 1.5-1.7 1.5-.2 1.5-3.3 1.5-4.9 1.5-2.7 1.5-.6 1.5-2.2 1.5-.4 1.5 6.9 1.5 2.1 1.5-7 1.5-1.2 1.5-3 1.5 2.2 1.5-.7 1.5 4.8 1.5-1.9 1.5-2.1 1.5-5.2 1.5 4.8 1.5-.3 1.5 2.5 1.5 1.8 1.5 2.3 1.5-1.5 1.5 .9 1.5-4.8 1.5 1 1.5-1.6 1.5 2.3 1.5-5.1 1.5 7.7 1.5-.4 1.5-.7 1.5-4.1 1.5 3.2 1.5-2.7 1.5-3.9 1.5 2.2 1.5 2.6 1.5-6 1.5 2.3 1.5-3 1.5 3.5 1.5-2.6 1.5 2.2 1.5 3.7 1.5-1 1.5 .1 1.5 1.6 1.5 1.8 1.5-2.4 1.5-5.8 1.5 6.2 1.5-.5 1.5-5.2 1.5 1.3 1.5-.1 1.5 1 1.5 5.5 1.5-8.2 1.5 4.9 1.5-1 1.5-2.6 1.5 5.5 1.5 3 1.5-3.5 1.5 7.3 1.5-4.2 1.5-1.1 1.5-2.2 1.5 1.1 1.5 2.2 1.5-2.3 1.5 .5 1.5-4 1.5 2.1 1.5 2.5 1.5 6.6 1.5-1.9 1.5-3.1 1.5-2.1 1.5-3.4 1.5 4.2 1.5-.8 1.5 .7 1.5-.1 1.5-7.7 1.5-.3 1.5-3.2 1.5-1.6 1.5 1.9 1.5-5.1 1.5 7 1.5 0 1.5 1.3 1.5-1.5 1.5 2.4 1.5 1.2 1.5-3.9 1.5 1.5 1.5-.4 1.5 .3 1.5 .8 1.5 7.2 1.5-3.7 1.5-2.1 1.5 1.6 1.5-2.5 1.5-3.7 1.5 2.8 1.5 2.7 1.5-1.6 1.5 .4 1.5-4.8 1.5 4.1 1.5-1.4 1.5-.1 1.5-4.8 1.5 .1 1.5 3.4 1.5-3 1.5 .5 1.5 0 1.5-.6 1.5 3 1.5-3 1.5 5.4 1.5 1.7 1.5 .6 1.5 3.8 1.5-5.9 1.5-1.3 1.5 .7 1.5 .3 1.5-5.3 1.5 8.8 1.5-2.2 1.5 2.4 1.5-4.3 1.5 .6 1.5-.3 1.5-1.7 1.5 3.2 1.5-.3 1.5 .5 1.5 3.7 1.5-3.7 1.5 1.6 1.5 2.7 1.5-3 1.5 2.8 1.5 2.3 1.5 2.4 1.5-4.1 1.5 2.8 1.5-5.7 1.5-2.8 1.5 1.3 1.5 1 1.5 1.9 1.5-4.3 1.5 2.9 1.5 .4 1.5-3.3 1.5 8.1 1.5-3.2 1.5 0 1.5 2.2 1.5 .5 1.5 1.6 1.5-3 1.5-1.7 1.5 4.8 1.5 2.4 1.5-7.7 1.5-.1 1.5-2.7 1.5 3.7 1.5-.2 1.5-1.9 1.5 .8 1.5 3.8 1.5-1.8 1.5-2.8 1.5 2.4 1.5-3.9 1.5-1.1 1.5 .2 1.5 3.4 1.5-5.6 1.5 4.9 1.5 .3 1.5 2.6 1.5 .4 1.5 1.3 1.5-1.8 1.5-.9 1.5 1.8 1.5-2.6 1.5 0 1.5-.3 1.5-.6 1.5-3.4 1.5 3.6 1.5-2.4 1.5 7.2 1.5-2.1 1.5-.7 1.5-.9 1.5 3.6 1.5-1.7 1.5-1.3 1.5 8.9 1.5-9.7 1.5 .8 1.5 2.7 1.5-1.9 1.5 3.6 1.5-6.2 1.5 1.2 1.5-1.6 1.5 1.4 1.5 1.3 1.5 .6 1.5-2.2 1.5-4.7 1.5 1.1 1.5-.3 1.5-3.3 1.5 4.6 1.5 0 1.5 .8 1.5-2.3 1.5 0 1.5 2.7 1.5-3.9 1.5 2.3 1.5 0 1.5 4.7 1.5-.2 1.5-.3 1.5-3.2 1.5 5 1.5 4.4 1.5-5 1.5 .8 1.5 2 1.5-2.9 1.5-.8 1.5-2.3 1.5-.2 1.5 4.3 1.5-3.6 1.5-1.5 1.5-5.6 1.5 7.7 1.5 3.5 1.5-3.8 1.5-4.4 1.5 1.4 1.5 .3 1.5 3.8 1.5-1.3 1.5-2.2 1.5 3 1.5 1.4 1.5 2.3 1.5-2.1 1.5 3.2 1.5-1.9 1.5 2.3 1.5-4.3 1.5 3.6 1.5-5.6 1.5-1.4 1.5-3.4 1.5 3.7 1.5 1.3 1.5 4.2 1.5 1.3 1.5 .8 1.5-10.6 1.5 5.9 1.5 1.8 1.5-3.2 1.5 4.4 1.5 1.3 1.5-.8 1.5-4.2 1.5 .5 1.5-.9 1.5 2.1 1.5 1.5 1.5-2.7" stroke="#f59a9a" stroke-width="1.05" fill="none" stroke-linejoin="round"/>
<path d="M133 835.3l1.5-2.9 1.5-2.5 1.5 6.6 1.5-5.5 1.5 2.8 1.5 2.3 1.5-5.9 1.5 1.5 1.5-2.3 1.5 1.9 1.5-1.6 1.5-1.9 1.5 6.3 1.5-4.8 1.5 2 1.5-4.1 1.5 3.9 1.5 1.2 1.5-6.7 1.5-1.2 1.5 5.8 1.5-2.3 1.5 9.5 1.5 1 1.5-2.9 1.5 1.4 1.5-.2 1.5-3.4 1.5-.1 1.5-.7 1.5 6.2 1.5-3.6 1.5-3.5 1.5-3.5 1.5 3.3 1.5-5.7 1.5 6.6 1.5 1.3 1.5-3 1.5 .7 1.5 3.5 1.5-3.8 1.5 1.3 1.5 3.2 1.5 .1 1.5-2.5 1.5 1.4 1.5-3.1 1.5-1.3 1.5-6.6 1.5 4.9 1.5-.1 1.5-3.2 1.5 1.9 1.5-2.1 1.5-3 1.5 5.9 1.5-5.8 1.5 2.9 1.5 2.1 1.5 2.8 1.5 1.3 1.5-7.7 1.5 3.5 1.5-1.8 1.5 .1 1.5-2.3 1.5 3.3 1.5 .3 1.5 .2 1.5 4.8 1.5 4 1.5-.7 1.5-1.2 1.5 2 1.5-6.9 1.5 2.5 1.5-4.5 1.5-1.8 1.5 5.5 1.5-5.7 1.5 .9 1.5-2.6 1.5 5.5 1.5-1.7 1.5 .7 1.5 1.8 1.5-4.5 1.5 1.7 1.5-.2 1.5-.6 1.5 1.1 1.5 .8 1.5-5.9 1.5 4.6 1.5-5.1 1.5 5.8 1.5-.5 1.5 .7 1.5-1.3 1.5 2.9 1.5-.5 1.5-2.7 1.5 4.3 1.5-9.4 1.5 4.6 1.5 2.7 1.5 1.1 1.5 1.7 1.5-3.4 1.5-3.4 1.5-3.8 1.5 7.9 1.5-4.7 1.5-3 1.5 1.1 1.5 1.7 1.5 1.9 1.5-.6 1.5-1.6 1.5 1.9 1.5 1.8 1.5-1.1 1.5-.6 1.5 4.1 1.5-3.4 1.5 5.2 1.5-2.2 1.5-4.6 1.5-.8 1.5 3.4 1.5 8.7 1.5-8.6 1.5 .1 1.5-2.7 1.5 2.8 1.5-3 1.5 0 1.5 1.8 1.5-2.1 1.5-2.5 1.5 4 1.5-4.5 1.5 2.3 1.5 4.7 1.5 2.6 1.5 .7 1.5-4.9 1.5 5.5 1.5-5.8 1.5-1.3 1.5-2.5 1.5 1.5 1.5 2.3 1.5 3.1 1.5 1.4 1.5-.9 1.5 3.6 1.5-5.3 1.5 5.5 1.5-2.8 1.5 1.8 1.5-8.7 1.5 5.5 1.5 5.1 1.5-5.5 1.5 1.7 1.5 3 1.5 .8 1.5-.8 1.5-3.6 1.5 5.3 1.5-3.5 1.5-3.3 1.5 2.9 1.5-3.3 1.5 3.1 1.5 0 1.5 3.2 1.5-10.3 1.5-2 1.5 .3 1.5-2.2 1.5 2.2 1.5-3.3 1.5 3.8 1.5 .6 1.5-1.1 1.5-2.5 1.5 3.9 1.5 3.4 1.5-.5 1.5 1.2 1.5 1 1.5 1.7 1.5-4.5 1.5 0 1.5 3.5 1.5-3 1.5-2.4 1.5-.2 1.5 1.1 1.5 1.6 1.5 2.8 1.5-1.1 1.5 .3 1.5-.7 1.5-8.4 1.5-3.6 1.5 4.2 1.5-2.5 1.5 4.5 1.5 .5 1.5 1.9 1.5-.7 1.5 4.5 1.5-4.7 1.5 3 1.5-3.3 1.5 4.4 1.5-3.4 1.5-.5 1.5-1.7 1.5 4.8 1.5-4.2 1.5 2.1 1.5-1.1 1.5 1.3 1.5 1.1 1.5 3 1.5-7.6 1.5 1.1 1.5 3 1.5 4.9 1.5-2 1.5 3.8 1.5 2.8 1.5 .6 1.5-8.5 1.5 5.6 1.5 .2 1.5 1.7 1.5-4.3 1.5 .5 1.5 7.1 1.5-.5 1.5-1.6 1.5 .7 1.5 1.8 1.5-1.2 1.5-.1 1.5-2 1.5 .8 1.5-.6 1.5 1.9 1.5 .2 1.5 .2 1.5 3.1 1.5-2 1.5-1.3 1.5-.3 1.5 3.7 1.5-.2 1.5-1.6 1.5-.9 1.5-.8 1.5-1.5 1.5 .2 1.5 5.1 1.5-.2 1.5-4.2 1.5 1.4 1.5-.3 1.5-7.4 1.5-.1 1.5 1.1 1.5 3.3 1.5-7.2 1.5 4 1.5 7.4 1.5-7.9 1.5 4.3 1.5-.1 1.5 2.7 1.5-1.2 1.5 0 1.5-5.3 1.5-.5 1.5 3 1.5 2.2 1.5-2.7 1.5-3.9 1.5 5.2 1.5 1.6 1.5-3.4 1.5-.6 1.5 3 1.5-4.9 1.5-2.2 1.5 3.1 1.5 .6 1.5 3.2 1.5-3.1 1.5-1 1.5-1 1.5 .9 1.5 2.2 1.5 1.2 1.5-6.8 1.5 5.8 1.5 2.1 1.5 .6 1.5-.4 1.5-5 1.5 3.9 1.5 1.3 1.5 .3 1.5 .2 1.5 .7 1.5-4.3 1.5 .9 1.5 3.7 1.5-4.2 1.5 3.8 1.5-6.2 1.5 3.6 1.5-.3 1.5-.2 1.5 0 1.5 1 1.5-.6 1.5-.1 1.5 6.9 1.5-3.6 1.5-2.5 1.5-7.3 1.5 3.5 1.5-.6 1.5-.9 1.5 2.6 1.5 6.2 1.5-10.3 1.5-1.5 1.5 3.8 1.5 3.4 1.5-1.8 1.5-3.7 1.5 1.1 1.5 5.4 1.5-3.7 1.5-2.7 1.5 2 1.5-.4 1.5-1.3 1.5-1 1.5 5.2 1.5-4.2 1.5 4 1.5-6.8 1.5 6.2 1.5 .9 1.5-1.9 1.5 1.1 1.5-3.1 1.5-3.2 1.5-.6 1.5 .5 1.5-.9 1.5 1.2 1.5-1.1 1.5-.6 1.5 12.4 1.5-9.1 1.5 3.6 1.5 3 1.5-2 1.5 1.2 1.5-.9 1.5 1.8 1.5-3 1.5-3.5 1.5 4.6 1.5-1 1.5-1.7 1.5-.5 1.5 1.7 1.5-2.5 1.5 4.9 1.5-1.1 1.5-.7 1.5-1.1 1.5 .6 1.5 4 1.5-2.9 1.5-4 1.5-5.1 1.5 8.8 1.5-2.3 1.5-.5 1.5 3.5 1.5 .7 1.5-6.9 1.5 5.6 1.5-1.1 1.5-3.5 1.5 5.6 1.5-3.9 1.5 1.7 1.5 2.9 1.5-3.6 1.5-.2 1.5-5.1 1.5 .4 1.5 3 1.5-2.8 1.5 5.7 1.5 1.1 1.5 1.4 1.5 .8 1.5-6 1.5 7.9 1.5-1.2 1.5 1.7 1.5-4 1.5 3.5 1.5-6 1.5-1.8 1.5 2.4 1.5-4.4 1.5 3.4 1.5-.1 1.5-2.2 1.5 5.3 1.5-.7 1.5 .7 1.5-3.3 1.5-.9 1.5 .9 1.5 4.9 1.5-8.3 1.5 .4 1.5 3.1 1.5 4.2 1.5-2.6 1.5 1 1.5-.4 1.5-4.4 1.5 1.5 1.5-2.2 1.5 2.6 1.5 1.6 1.5-6.3" stroke="#f59a9a" stroke-width="1.05" fill="none" stroke-linejoin="round"/>
<path d="M133 840.8l1.5-1.6 1.5 .1 1.5-1.8 1.5-.7 1.5-3 1.5-3.1 1.5 3.4 1.5-1.7 1.5-2.8 1.5-3.3 1.5 2.7 1.5 4.4 1.5-2.4 1.5 1.3 1.5 1.6 1.5 3.4 1.5-4.4 1.5 6.1 1.5-4.7 1.5 2 1.5-6.9 1.5-3.9 1.5 4.9 1.5 3 1.5-1.1 1.5 3.3 1.5-1.6 1.5 1 1.5-.6 1.5-2.6 1.5 2.6 1.5 .5 1.5-3.5 1.5-2.5 1.5 0 1.5-4.1 1.5-1.7 1.5 2 1.5 4 1.5-.7 1.5-1.1 1.5-3.2 1.5 3 1.5-3.3 1.5 2.1 1.5-.5 1.5 1.3 1.5-3.6 1.5 4.1 1.5 2.3 1.5-.3 1.5 1.5 1.5-5.4 1.5 5.7 1.5 .9 1.5-5 1.5-2.1 1.5 4.5 1.5 .8 1.5-5.8 1.5 2.4 1.5-3.2 1.5 9.9 1.5-1.3 1.5-4.7 1.5 6.6 1.5-6.4 1.5 1.7 1.5 4.5 1.5-3.2 1.5-.9 1.5-1.9 1.5 8.8 1.5-5.1 1.5 4 1.5-3.1 1.5-.6 1.5-.8 1.5-5.7 1.5 1.8 1.5 3.9 1.5-5.5 1.5 1.6 1.5 5.9 1.5-5.2 1.5 5.1 1.5-5.3 1.5 4.1 1.5 .7 1.5 1.8 1.5-.1 1.5-.5 1.5 5.5 1.5-6.7 1.5-6.7 1.5 6.3 1.5 1.1 1.5-3.6 1.5 1 1.5-3.2 1.5 2 1.5-2.4 1.5-.7 1.5 2.3 1.5 2.6 1.5-5.7 1.5 1.7 1.5-1 1.5 1.1 1.5-3.6 1.5 3.2 1.5 3.4 1.5-1 1.5 .4 1.5-6.4 1.5 3.2 1.5 2 1.5-1.1 1.5 .9 1.5-1.4 1.5-.8 1.5 8.2 1.5-4.5 1.5 2.2 1.5 1.8 1.5-4.5 1.5 1.1 1.5-.7 1.5-2.5 1.5 3.9 1.5-.9 1.5-2.7 1.5 2.8 1.5 .9 1.5-2.8 1.5 .8 1.5-2 1.5-.3 1.5 3.8 1.5-1 1.5-5.1 1.5 3.4 1.5 .8 1.5 1.4 1.5 1.4 1.5-4.5 1.5 3.9 1.5-2.8 1.5 2 1.5 2.7 1.5 .1 1.5 3.5 1.5-1.8 1.5 2.7 1.5 0 1.5-5 1.5 4.1 1.5-4 1.5 1.7 1.5 .9 1.5-2.8 1.5 4.8 1.5 .5 1.5-.2 1.5-6.6 1.5 2 1.5 4.5 1.5-5.5 1.5 3.6 1.5 1.8 1.5-7 1.5-5.5 1.5 2.4 1.5 2.2 1.5-2.3 1.5 1.3 1.5 3.2 1.5 4.9 1.5-2.9 1.5-5.3 1.5-4.5 1.5 5.4 1.5 .4 1.5-.8 1.5 1.8 1.5 .1 1.5-6 1.5 3.3 1.5 4.4 1.5 2.7 1.5-.1 1.5-1.2 1.5-3.1 1.5 6.1 1.5-5.7 1.5-6.1 1.5 5.1 1.5-7.1 1.5 4.8 1.5 3.1 1.5 .5 1.5 1.9 1.5-1.4 1.5-.6 1.5 3.6 1.5 2 1.5 0 1.5 3.6 1.5-4.1 1.5-.9 1.5-2.5 1.5 2.4 1.5 2.8 1.5-4.7 1.5 3 1.5-5.4 1.5 8.2 1.5-7.7 1.5 6.1 1.5-2.5 1.5-3.7 1.5-4.4 1.5 .3 1.5 3.6 1.5-.2 1.5-1.1 1.5 2.2 1.5 1.2 1.5 2.3 1.5 1.6 1.5-1.2 1.5 .1 1.5 1.8 1.5 1.5 1.5 1.6 1.5-3.6 1.5 1.5 1.5-2.8 1.5 .4 1.5-3.2 1.5 3.7 1.5 .7 1.5-1 1.5-6.3 1.5 .1 1.5 8.5 1.5-1.9 1.5 7.9 1.5-7.2 1.5-1.4 1.5-.7 1.5-.2 1.5-3.9 1.5-1.2 1.5 8.1 1.5-5.5 1.5-5.7 1.5-.2 1.5 2.6 1.5-4.3 1.5 8.3 1.5-.2 1.5-.3 1.5-1.2 1.5-2.1 1.5 3.1 1.5-.5 1.5-.9 1.5 .7 1.5 2.1 1.5-2.8 1.5 3.1 1.5 1.9 1.5-6.4 1.5 4.2 1.5-1.7 1.5 .6 1.5-2.4 1.5 1.9 1.5 .7 1.5-2.1 1.5-5.9 1.5 4.6 1.5 2.1 1.5-.6 1.5 5.3 1.5-3.4 1.5-4.5 1.5-.2 1.5 1.8 1.5-2.3 1.5 5.6 1.5 .2 1.5 3 1.5 .6 1.5-3.1 1.5-7.9 1.5 .2 1.5 .8 1.5 3.2 1.5 4.4 1.5-4.3 1.5-1.5 1.5-1.1 1.5 2 1.5 6.2 1.5-4.5 1.5-5.5 1.5 7 1.5 1.9 1.5 3.9 1.5-5.6 1.5-1 1.5 1.2 1.5 6.5 1.5-.6 1.5-3.4 1.5 4 1.5-2.4 1.5-1 1.5-4.9 1.5-.8 1.5 2.7 1.5 4.9 1.5-5.2 1.5 3.6 1.5-4.8 1.5 2 1.5-4.6 1.5 4.1 1.5-1.5 1.5 2.3 1.5-1.7 1.5-3.9 1.5 1.2 1.5-1.3 1.5-2.6 1.5 4.5 1.5 .5 1.5 1.5 1.5 .7 1.5-1.2 1.5 .2 1.5-4.5 1.5 5.2 1.5 1 1.5-1.2 1.5 .3 1.5-2.5 1.5 .1 1.5-.2 1.5-3.2 1.5-1 1.5 8.3 1.5-1.5 1.5-4.6 1.5-.3 1.5-3.2 1.5-.3 1.5 1.2 1.5-1.1 1.5 1.8 1.5-1.3 1.5 3.7 1.5-.3 1.5 .9 1.5-1.5 1.5-1.3 1.5-1.4 1.5 3.7 1.5-3.2 1.5-.3 1.5 6 1.5-1.6 1.5-2.9 1.5-3.5 1.5-2.8 1.5 3.6 1.5-2.1 1.5-1 1.5 2.8 1.5-.7 1.5 3.6 1.5-5.7 1.5 4.5 1.5-7.8 1.5 1.8 1.5-1 1.5 4.2 1.5 1.2 1.5 4 1.5-4.2 1.5-1.7 1.5 5.5 1.5-1.2 1.5-3.8 1.5-1.5 1.5 1.4 1.5 1.7 1.5 4 1.5-3.6 1.5-1 1.5-2.4 1.5 7 1.5-.1 1.5-3.9 1.5-1.9 1.5 .9 1.5 0 1.5-2.2 1.5-.2 1.5-3 1.5 4.5 1.5 .2 1.5-1.6 1.5-1.5 1.5-4.6 1.5 4.2 1.5 1.5 1.5 2.4 1.5-.2 1.5 .8 1.5 7.4 1.5 1.1 1.5-4.6 1.5 3.6 1.5-3.9 1.5 .8 1.5-1.3 1.5-3.5 1.5-1.9 1.5 2.6 1.5-3.5 1.5 .3 1.5 3 1.5-.5 1.5-1.4 1.5 3.5 1.5-10.9 1.5 2.7 1.5 .8 1.5-1.7 1.5 2.6 1.5-1.5 1.5 .3 1.5 4.7 1.5-.1 1.5 .6 1.5 1.8 1.5-8 1.5 2.5 1.5 2.3" stroke="#f59a9a" stroke-width="1.05" fill="none" stroke-linejoin="round"/>
<path d="M133 832.4l1.5 1.3 1.5-1.3 1.5 2.8 1.5-6.5 1.5 2.1 1.5 3 1.5-2.4 1.5 1.9 1.5 1.8 1.5 .2 1.5 3 1.5 3.6 1.5-1.1 1.5-4.7 1.5-3.9 1.5 1.2 1.5-4.9 1.5 5.5 1.5-.9 1.5-2.6 1.5 3 1.5-2.5 1.5 1.8 1.5-1.4 1.5 6.4 1.5-3.5 1.5 1.9 1.5-12.3 1.5 8.7 1.5 5.7 1.5-6.7 1.5 4.7 1.5-2.8 1.5 .2 1.5-7.9 1.5 4.3 1.5 3.4 1.5-4.5 1.5-2.2 1.5-1.6 1.5-4 1.5-.8 1.5 7 1.5-.3 1.5 .3 1.5 .3 1.5 3.3 1.5 8.3 1.5-4.1 1.5 0 1.5 2.2 1.5 .8 1.5 2 1.5-4 1.5-.8 1.5 2.4 1.5 2.6 1.5 .4 1.5-.1 1.5-2.4 1.5 4 1.5-.4 1.5-4.6 1.5-2.9 1.5-3.8 1.5 6.8 1.5-4.1 1.5 5.8 1.5-11.4 1.5 5.8 1.5-1.5 1.5 .5 1.5 .6 1.5-.9 1.5 1.5 1.5-2 1.5 0 1.5 1.6 1.5-1.4 1.5-1.6 1.5 3.2 1.5-3.4 1.5 2.5 1.5-2.8 1.5 2.2 1.5 2.3 1.5-5.9 1.5 4.1 1.5-3.7 1.5 0 1.5-3.9 1.5 2.9 1.5 3.4 1.5 2.1 1.5-1.5 1.5 3.2 1.5 6.7 1.5-8.6 1.5-1.7 1.5 .5 1.5-3.2 1.5-1.2 1.5 .1 1.5-.4 1.5 1.5 1.5 2 1.5 .3 1.5 .4 1.5 5.8 1.5-8 1.5 7.1 1.5-4.4 1.5 3.7 1.5-3.1 1.5 2.2 1.5-1.5 1.5-3.1 1.5 .8 1.5 2.4 1.5 2.2 1.5 2.9 1.5-5.8 1.5-.4 1.5 1 1.5-2 1.5 3.4 1.5 0 1.5 6.5 1.5-8 1.5-.7 1.5-2.6 1.5-1.7 1.5 3.4 1.5-2.5 1.5 1 1.5-2.9 1.5-2.2 1.5 4.9 1.5-2.7 1.5 1.1 1.5 5.3 1.5-2 1.5-1 1.5-.2 1.5-1.4 1.5 8.2 1.5-9.5 1.5 7.3 1.5-2.8 1.5-3.4 1.5-1.8 1.5 1.2 1.5 2.8 1.5-3.5 1.5 3.8 1.5-2.1 1.5 1.8 1.5 2.5 1.5-2.6 1.5 3.4 1.5-1.8 1.5-6.2 1.5 1.2 1.5 2.6 1.5 0 1.5 2.9 1.5-9 1.5 4.8 1.5-3.7 1.5 2.4 1.5 2.7 1.5 1.8 1.5-3 1.5 3.3 1.5-2.8 1.5 2.8 1.5 5.5 1.5-3.7 1.5-1.6 1.5 4.2 1.5-2.2 1.5 4.4 1.5-.8 1.5 3 1.5-6.9 1.5-.6 1.5 4.7 1.5-1.6 1.5-.7 1.5-.5 1.5-2.3 1.5-3.5 1.5 6.3 1.5-7.4 1.5 3.5 1.5-3.2 1.5 2.5 1.5-3.6 1.5 3.4 1.5-3.3 1.5 .3 1.5-7.7 1.5 5.6 1.5 2.8 1.5 1 1.5-1.9 1.5 .1 1.5 2.4 1.5-.2 1.5 2 1.5-.3 1.5 .2 1.5 .7 1.5-5.5 1.5 3.4 1.5-4.8 1.5 .2 1.5 .3 1.5 6.2 1.5-7.1 1.5 1.5 1.5 5.5 1.5-2.3 1.5 1 1.5 2.1 1.5 1.1 1.5 1.6 1.5 1.6 1.5-4.2 1.5 5.7 1.5-2 1.5-1.5 1.5-.7 1.5 4.2 1.5-2.9 1.5-2.4 1.5 5 1.5-3.4 1.5 .6 1.5 1.7 1.5 .6 1.5 5.3 1.5-1.9 1.5 .9 1.5-2.8 1.5 .5 1.5-.2 1.5 1.5 1.5 0 1.5-7.9 1.5 4.9 1.5 .7 1.5-.6 1.5-1 1.5 5.1 1.5-1.5 1.5-1.4 1.5-4.3 1.5 1.1 1.5-1.4 1.5-3.6 1.5-3.2 1.5 .6 1.5 1.5 1.5 .6 1.5-1.3 1.5-.6 1.5 4.8 1.5-8.8 1.5 3.2 1.5-.9 1.5 5.4 1.5 2 1.5 2.2 1.5 0 1.5-2.8 1.5 .8 1.5-.8 1.5 1.4 1.5-2.9 1.5-1.4 1.5-5.6 1.5-4.6 1.5 4.1 1.5-3.2 1.5-1.8 1.5 4.1 1.5 .5 1.5 4.6 1.5 6.3 1.5 .4 1.5 2.8 1.5-7 1.5 4 1.5-4 1.5 1.8 1.5-1.2 1.5 .5 1.5 1.7 1.5-2.2 1.5 1.7 1.5-4.1 1.5 .3 1.5-2.2 1.5 7.3 1.5 4.1 1.5-2.9 1.5 2.6 1.5 1 1.5-3.4 1.5-.1 1.5-1.4 1.5-2.4 1.5-1.6 1.5 3 1.5-.5 1.5 1.1 1.5-2.9 1.5 6.4 1.5-4.9 1.5 .7 1.5-2.3 1.5 .2 1.5-4.6 1.5 5.5 1.5-4.5 1.5 .1 1.5 3 1.5-.9 1.5 .1 1.5 2.2 1.5-3.7 1.5 5.6 1.5 1 1.5 4.1 1.5-6.1 1.5-.4 1.5 1.5 1.5-3.9 1.5 1 1.5 3.4 1.5-2.1 1.5 1.5 1.5 .2 1.5 .5 1.5-.6 1.5 .8 1.5 1.2 1.5 .4 1.5 6.3 1.5-1.8 1.5 2.1 1.5 1.3 1.5-.8 1.5-4.6 1.5-3.2 1.5 1.6 1.5-2.1 1.5-1.4 1.5-1.2 1.5 .1 1.5 4.8 1.5-11.7 1.5 7.1 1.5-1.9 1.5 1.8 1.5 3.7 1.5-3.4 1.5 .9 1.5-1.7 1.5-2.3 1.5 3.8 1.5 1.6 1.5-2.1 1.5 4.4 1.5-3.7 1.5-2 1.5 5.8 1.5-1.2 1.5-.3 1.5-2.2 1.5-4 1.5 .7 1.5 .9 1.5-1.1 1.5 2.5 1.5 2.2 1.5-3.6 1.5 5.1 1.5-4.5 1.5-.5 1.5 1.8 1.5-3.8 1.5 1.5 1.5 .9 1.5-2.6 1.5-.2 1.5 .2 1.5 1.2 1.5-2.7 1.5-.3 1.5 2.7 1.5 2.8 1.5 3.7 1.5-5.5 1.5 4.8 1.5-3 1.5-3.3 1.5 1.2 1.5-.4 1.5 1.9 1.5 1 1.5-4.5 1.5-4.5 1.5 2.4 1.5 4.2 1.5 2.1 1.5-4.5 1.5-.8 1.5 2.5 1.5-.9 1.5 3.4 1.5 .1 1.5-5 1.5 2.6 1.5 .8 1.5-2.7 1.5-1.3 1.5-3.2 1.5 .6 1.5 5.8 1.5 1.3 1.5-1.1 1.5 2.8 1.5-6.9 1.5 6.2 1.5 2.2 1.5 .5 1.5-8.1 1.5-.2 1.5-.5 1.5 1.1 1.5 8.2 1.5-13 1.5 9.4 1.5 .1 1.5 1.9 1.5-4.3 1.5 2.6 1.5-.1 1.5 1 1.5-4.3" stroke="#f59a9a" stroke-width="1.05" fill="none" stroke-linejoin="round"/>
<path d="M133 827.6l1.5 1.6 1.5 .7 1.5 5.1 1.5-.9 1.5-1.5 1.5-2.2 1.5 2.6 1.5 7.7 1.5-.8 1.5 1.3 1.5-1.6 1.5 2.2 1.5-.1 1.5-.3 1.5-9.4 1.5 8.4 1.5-5.8 1.5 .6 1.5-2.2 1.5 1 1.5 4.2 1.5-5.8 1.5 2.8 1.5 2 1.5-5.4 1.5-4.3 1.5 6.3 1.5-.6 1.5-5.2 1.5-.4 1.5 .7 1.5 5.5 1.5 2.4 1.5-1.9 1.5-.6 1.5 4.9 1.5-5.8 1.5 3.6 1.5-1.3 1.5 1.5 1.5 2.8 1.5-3.1 1.5 .5 1.5 6.7 1.5-4.4 1.5-1.3 1.5 .6 1.5-2.5 1.5 4.1 1.5-.5 1.5-3.7 1.5-.7 1.5-3.6 1.5 .9 1.5 2.5 1.5-4.9 1.5 7 1.5 1.6 1.5-4.3 1.5-.5 1.5 2.3 1.5-2.9 1.5 0 1.5 .2 1.5-.3 1.5-.6 1.5-2.3 1.5 2.4 1.5 1.7 1.5-1.3 1.5-3.2 1.5 3.3 1.5 5.2 1.5-3.6 1.5 .7 1.5 3.3 1.5-.2 1.5 5.4 1.5-4 1.5-4.8 1.5-2.7 1.5 5.2 1.5-4.4 1.5 4.6 1.5-1.3 1.5-3.4 1.5-.5 1.5 1.7 1.5-6 1.5 8.5 1.5-2.5 1.5 .2 1.5 4.4 1.5 3.8 1.5-3.4 1.5-4.5 1.5 6.2 1.5-1.8 1.5 2 1.5 .4 1.5 .1 1.5 .3 1.5-1.7 1.5-1.3 1.5-.7 1.5-1.2 1.5-1.9 1.5 4.9 1.5-1.4 1.5 2 1.5-.3 1.5-3.4 1.5-.4 1.5 1.1 1.5-.6 1.5-4.3 1.5 3.4 1.5-.4 1.5-3.9 1.5-2.9 1.5-.5 1.5-.2 1.5 0 1.5 2.3 1.5 1.9 1.5 2.1 1.5-6 1.5 12.2 1.5-3.3 1.5 1.3 1.5-2.2 1.5 .8 1.5 2.9 1.5-7.6 1.5 6.7 1.5-1.1 1.5 2.8 1.5-7.8 1.5 8.3 1.5-2.5 1.5-1.7 1.5-3.5 1.5 4.5 1.5-1.8 1.5-.2 1.5 .9 1.5-2.6 1.5-1.9 1.5-4.3 1.5-1.2 1.5 3 1.5-3.7 1.5 6.5 1.5 3.2 1.5-5 1.5 3 1.5-3.6 1.5 4 1.5 5.6 1.5 1.9 1.5-1.9 1.5-5.6 1.5 4.3 1.5-.6 1.5-5.6 1.5 1.7 1.5 1.3 1.5-1.7 1.5-3.7 1.5 2.2 1.5-2.2 1.5-.3 1.5-1.2 1.5-2.2 1.5 .3 1.5 .5 1.5 .6 1.5 4 1.5 2.9 1.5 5.5 1.5-2.5 1.5-3.5 1.5 1.6 1.5 .2 1.5-1 1.5-3.5 1.5 .5 1.5-2.2 1.5 1.1 1.5 1 1.5 4.8 1.5-4.7 1.5 5.6 1.5-1.9 1.5-6.2 1.5 1.3 1.5 3.4 1.5 0 1.5-3.1 1.5-.7 1.5-2.1 1.5 3 1.5 3.1 1.5-3.8 1.5 3.2 1.5-.2 1.5 3.6 1.5-5.9 1.5-2.6 1.5-.5 1.5 4.1 1.5 2.2 1.5-2.5 1.5 4.9 1.5-3.4 1.5-4.8 1.5 10.1 1.5-4.8 1.5 .6 1.5-3.4 1.5 .8 1.5-2.5 1.5 8 1.5 .3 1.5-8 1.5 7.2 1.5-1.7 1.5 3.5 1.5-6.5 1.5 2.2 1.5 .7 1.5 .1 1.5-.6 1.5 1.1 1.5 1.8 1.5-1.1 1.5 3.2 1.5-4.2 1.5 .5 1.5 1.4 1.5-5.3 1.5-3.3 1.5 2.1 1.5-2.2 1.5-2.7 1.5 4.4 1.5-3 1.5 4.1 1.5-5.4 1.5-.4 1.5 2 1.5-1.2 1.5 2.9 1.5 2.3 1.5-2.6 1.5 8.5 1.5 2 1.5-6.1 1.5-3.8 1.5-1.2 1.5 5.1 1.5-.8 1.5 1.2 1.5-4.7 1.5 2.7 1.5 0 1.5-3.8 1.5 .6 1.5-1 1.5 3.3 1.5-.6 1.5-5.4 1.5 9.1 1.5-4.5 1.5 2.9 1.5 1.2 1.5-.9 1.5 1.7 1.5 1.2 1.5-.2 1.5-3.3 1.5 2.1 1.5 1.6 1.5-1.2 1.5 .5 1.5 5.7 1.5-.3 1.5-5.1 1.5 3.6 1.5-3.4 1.5 3.1 1.5-2.3 1.5-2.3 1.5 1.8 1.5-1.9 1.5-5.5 1.5 4.1 1.5-4 1.5 1.3 1.5 3 1.5-1 1.5-5.4 1.5 4.9 1.5 .3 1.5-5.8 1.5 6.1 1.5-1.7 1.5 4.9 1.5-7.4 1.5 2.5 1.5-2.1 1.5 .9 1.5 3.5 1.5 2.6 1.5 1.3 1.5-3.5 1.5 3 1.5-1.7 1.5 6.4 1.5-6.1 1.5 3 1.5-1.5 1.5 2.1 1.5-1 1.5-6.2 1.5 1.2 1.5-.8 1.5 3.8 1.5-2.1 1.5 4.3 1.5-1.5 1.5-7.8 1.5 5.2 1.5 3.1 1.5-1.8 1.5-3.1 1.5-.6 1.5 5.7 1.5-2 1.5-8.7 1.5 9 1.5-4.4 1.5 2.3 1.5-1.9 1.5 1.8 1.5-5.1 1.5 3.7 1.5 .5 1.5 1.1 1.5-1.1 1.5-3.6 1.5-.5 1.5 5.3 1.5-.9 1.5-1.2 1.5 3.5 1.5-4.7 1.5-2.4 1.5 3.6 1.5-1.6 1.5 1.3 1.5-1.7 1.5-.1 1.5-4 1.5 3.7 1.5 4.8 1.5 4.6 1.5-2 1.5 1 1.5 1.3 1.5 .2 1.5 1.1 1.5 1.2 1.5-.2 1.5-1.8 1.5 0 1.5 2.8 1.5-3.8 1.5-1.2 1.5-1.3 1.5 1.2 1.5-1.7 1.5 7.1 1.5-3.3 1.5-3.6 1.5 4.8 1.5 .9 1.5-5.8 1.5-3.4 1.5-.2 1.5 1.7 1.5-6.1 1.5-4.5 1.5 3.1 1.5 1 1.5-1.6 1.5 3.6 1.5 1.7 1.5 .8 1.5-.7 1.5 1.6 1.5 4.1 1.5-3.8 1.5 4.2 1.5-3.9 1.5 2.1 1.5-1.4 1.5-1 1.5 1.1 1.5 4.8 1.5 1.7 1.5-7.1 1.5-1.5 1.5 .9 1.5 4 1.5-4.2 1.5-3.6 1.5 2 1.5 6.9 1.5-5.6 1.5 .1 1.5-1.3 1.5 6.3 1.5 .1 1.5 .8 1.5 1.9 1.5-6.4 1.5-1.5 1.5-3 1.5-1 1.5 1.9 1.5 5.8 1.5-2.2 1.5 3.1 1.5-.9 1.5-1.5 1.5 1.2 1.5-1.5 1.5-.4 1.5-2.1 1.5 1.8 1.5 .4 1.5-1 1.5 2.2 1.5 3.1 1.5-2.6 1.5-1.6 1.5 2.7 1.5 2.4 1.5-2 1.5 .2 1.5-2.6" stroke="#f59a9a" stroke-width="1.05" fill="none" stroke-linejoin="round"/>
<path d="M133 830.9l1.5 7.2 1.5-6.9 1.5 3.5 1.5-1 1.5 .9 1.5 1.2 1.5 5.4 1.5-4.5 1.5 .3 1.5 2.3 1.5 4 1.5-2.5 1.5 6.9 1.5 .1 1.5 1.1 1.5 3.6 1.5-.7 1.5 .1 1.5-5.1 1.5-.7 1.5 3.4 1.5 .1 1.5-1.4 1.5-2.4 1.5-2.2 1.5 1.8 1.5-7.5 1.5 1 1.5 .3 1.5 .1 1.5 2.6 1.5-7.4 1.5 .7 1.5 5.4 1.5-1.9 1.5-4.4 1.5 .2 1.5 6.9 1.5 4.6 1.5-4.9 1.5-8 1.5 9.3 1.5-.8 1.5-2.6 1.5-8.2 1.5 5 1.5-5.4 1.5 6.1 1.5 2.6 1.5-1.7 1.5-4.7 1.5 6.2 1.5 .9 1.5-6.7 1.5 2.5 1.5-3.6 1.5 .2 1.5 6.6 1.5-5.5 1.5-.9 1.5 4.3 1.5-3.3 1.5 .5 1.5 3.2 1.5 2.3 1.5-1 1.5 1.7 1.5-2.7 1.5-.7 1.5 7.5 1.5 0 1.5-1.6 1.5-.8 1.5-3.4 1.5 4.8 1.5 .3 1.5-6.9 1.5 4.1 1.5-1.4 1.5-1.2 1.5 .8 1.5-2.8 1.5 .7 1.5 4.2 1.5-.7 1.5 7.3 1.5-6.4 1.5 3.8 1.5 .5 1.5-1.6 1.5-.3 1.5-1 1.5 2.4 1.5 .6 1.5-2.3 1.5 3.3 1.5 2.9 1.5 1.1 1.5-9.6 1.5 3 1.5 1.4 1.5 3.6 1.5-3.6 1.5-3.4 1.5 .9 1.5 4.7 1.5-5.7 1.5 5 1.5-.4 1.5 1.3 1.5-3.2 1.5-3 1.5-1.6 1.5 3.7 1.5-3.2 1.5 3.1 1.5-2.6 1.5 0 1.5 1.4 1.5 .7 1.5 4.5 1.5-3.7 1.5-3.2 1.5 4 1.5 3.5 1.5 1.4 1.5-7.5 1.5 9.4 1.5-6.9 1.5 1 1.5-1.9 1.5 3 1.5-4 1.5-.9 1.5 .3 1.5 2.7 1.5-4.4 1.5 6.6 1.5 .4 1.5-3.7 1.5-2.9 1.5-2.8 1.5 4.9 1.5-1.8 1.5-.8 1.5 .7 1.5 .9 1.5 2.1 1.5-4.1 1.5-1.5 1.5-4.3 1.5 7 1.5-3.7 1.5 3.1 1.5 2.2 1.5-3.6 1.5-2.9 1.5 5.6 1.5 1.4 1.5-2.2 1.5-5.1 1.5-.6 1.5 4.8 1.5-1.4 1.5 3.9 1.5-5.9 1.5-3.3 1.5 3.7 1.5 2.2 1.5 2.9 1.5-4.5 1.5 2.3 1.5-.3 1.5-2.6 1.5-1.2 1.5 2.4 1.5 1 1.5 .7 1.5 8.4 1.5-6.9 1.5-3.7 1.5 1.5 1.5-1.3 1.5-1.4 1.5 2.5 1.5 .7 1.5-.3 1.5-4.9 1.5 5.7 1.5 4.3 1.5-3.3 1.5-5.7 1.5-.9 1.5 6.8 1.5-.6 1.5-1 1.5 3.2 1.5-5.4 1.5 .9 1.5 1.2 1.5 2.3 1.5 3.3 1.5-.9 1.5 .2 1.5 1.4 1.5-4.4 1.5 1.7 1.5 .3 1.5-2.8 1.5 1.3 1.5-4.9 1.5-1.9 1.5 4.6 1.5-6.1 1.5 6 1.5-.6 1.5-3.3 1.5 3 1.5-2.7 1.5-3.1 1.5-.7 1.5-.9 1.5 4.5 1.5 1.8 1.5-1.8 1.5 .4 1.5 4.3 1.5-3.9 1.5 4.1 1.5-2.6 1.5 1.4 1.5-1.1 1.5 1.2 1.5-2.2 1.5 1.9 1.5-.7 1.5 .2 1.5-5.6 1.5 1.8 1.5 1 1.5 .1 1.5 4.5 1.5-1.4 1.5-3 1.5 2.7 1.5 .2 1.5-2.8 1.5 4.1 1.5-.7 1.5-1.3 1.5-.5 1.5-2.2 1.5-.1 1.5 6.1 1.5 1.8 1.5-4.3 1.5-2.9 1.5 4.7 1.5 1.4 1.5-1.3 1.5 .9 1.5 2 1.5-.9 1.5-.1 1.5-5.2 1.5 3.9 1.5-.5 1.5-2 1.5-1.4 1.5 3 1.5 2.6 1.5 .6 1.5-1.3 1.5 2.1 1.5 1.1 1.5 .4 1.5-2.8 1.5-3.8 1.5-2.5 1.5-2.7 1.5-.4 1.5-.1 1.5 .8 1.5-.9 1.5 2.8 1.5-7 1.5 5.8 1.5 1.1 1.5-.4 1.5-.8 1.5 5.7 1.5-.1 1.5-5.6 1.5 4 1.5 .4 1.5 .1 1.5-3.5 1.5-.1 1.5-5.2 1.5 3.6 1.5-1.9 1.5 .8 1.5 8.5 1.5-6 1.5-1.3 1.5 2.9 1.5-1.4 1.5 4 1.5 3.9 1.5-7 1.5-5.9 1.5-.8 1.5 2.4 1.5 1.6 1.5-4.2 1.5 5 1.5 .2 1.5-.4 1.5 3.5 1.5-1.6 1.5-1 1.5-4.3 1.5 3 1.5 .6 1.5 1.7 1.5-3.6 1.5-.5 1.5-.3 1.5 .4 1.5 3 1.5-1.4 1.5 5 1.5-4.1 1.5 1.7 1.5-2.1 1.5-.7 1.5-1.6 1.5-6.6 1.5 7.4 1.5-1.2 1.5-1.1 1.5-.1 1.5 1.4 1.5-1.9 1.5 2.2 1.5-.7 1.5 2.9 1.5-.7 1.5 3.4 1.5-1.4 1.5-8.1 1.5 1.6 1.5 .4 1.5 6.6 1.5-3.8 1.5 1 1.5 3.2 1.5 1.3 1.5-4.7 1.5 1.3 1.5-1.1 1.5-5.5 1.5 7 1.5-7.4 1.5 6.5 1.5-2.8 1.5 4.9 1.5-1.7 1.5-1.5 1.5-1.2 1.5-.1 1.5 1.9 1.5-5.4 1.5 4.3 1.5-1.4 1.5 1.5 1.5 .4 1.5-9.1 1.5 5.5 1.5-.4 1.5 3.2 1.5-7.1 1.5-2.2 1.5 4.9 1.5-1.8 1.5-1.1 1.5 2.7 1.5-1.2 1.5 11.9 1.5-7.1 1.5 3.8 1.5-3 1.5 4.1 1.5-3.1 1.5 4.9 1.5-1.9 1.5 1.3 1.5-8.4 1.5 .9 1.5 3 1.5-1.8 1.5-2.1 1.5-.7 1.5-1 1.5 2.9 1.5 3.7 1.5-4.7 1.5 3.9 1.5 1 1.5-6.6 1.5 .7 1.5-1.1 1.5-.9 1.5 7.4 1.5-2.2 1.5 .7 1.5-1.5 1.5 .6 1.5 2.4 1.5-3.4 1.5-.3 1.5-.3 1.5 5.1 1.5-5.2 1.5-4.2 1.5-.5 1.5-4.7 1.5 3.4 1.5 .3 1.5-3.1 1.5 6.1 1.5 .7 1.5-2.9 1.5 .2 1.5 1.9 1.5 .6 1.5-1.1 1.5-.5 1.5 .3 1.5 2.7 1.5-3.4 1.5 1.1 1.5-1.9 1.5 3.9 1.5-6.8 1.5 3.6 1.5-.2 1.5-3.3 1.5-.1 1.5 5 1.5-3.5 1.5-1.1" stroke="#f59a9a" stroke-width="1.05" fill="none" stroke-linejoin="round"/>
<path d="M133 843.3l1.5 1 1.5-1.3 1.5-2.2 1.5-1.8 1.5 2.3 1.5-1.3 1.5-2.2 1.5 4.1 1.5-1 1.5-2.4 1.5-1.8 1.5 .1 1.5-5.3 1.5 1.8 1.5 1.4 1.5-4.4 1.5 6.3 1.5-6.9 1.5 6.8 1.5 .9 1.5 2 1.5 5.5 1.5-3 1.5 .7 1.5 2.2 1.5-2.7 1.5-2.4 1.5-.1 1.5 2.2 1.5-1.3 1.5 .6 1.5 3.1 1.5-3.2 1.5-2.9 1.5-.9 1.5 1.7 1.5-.7 1.5-2 1.5 6.4 1.5-1.3 1.5 4.9 1.5-6.9 1.5 .6 1.5 2.7 1.5-6.8 1.5 6.1 1.5-1.4 1.5-.5 1.5-3.8 1.5 1.8 1.5-1.6 1.5 .6 1.5 .4 1.5 .3 1.5 1.8 1.5 2.3 1.5-5.3 1.5 4.5 1.5-.2 1.5-1.5 1.5 .5 1.5-1.3 1.5 1.4 1.5 1.6 1.5-3.8 1.5 2.2 1.5 6.1 1.5-4.3 1.5 5.6 1.5-3.8 1.5-2.5 1.5-1.4 1.5-.9 1.5 2.6 1.5-2.9 1.5 .2 1.5-1.2 1.5-1.9 1.5 1.2 1.5-2.4 1.5 7.9 1.5-.8 1.5 2 1.5-2.6 1.5 2.4 1.5 1.6 1.5 4.1 1.5 2.2 1.5 1.3 1.5 1.4 1.5-6.6 1.5 4.8 1.5-3.7 1.5-3.5 1.5-.3 1.5 1.7 1.5-1.6 1.5-.2 1.5-5.2 1.5-3.4 1.5 12.5 1.5-6.5 1.5 1.9 1.5 .6 1.5-1.9 1.5-7.5 1.5 .9 1.5 .6 1.5 5.3 1.5-.2 1.5-4.9 1.5 4.9 1.5 1.1 1.5 .3 1.5-5 1.5 3.7 1.5 .4 1.5 1.1 1.5 3.8 1.5-2.5 1.5 2.1 1.5 .2 1.5 1.1 1.5-2.1 1.5-4.2 1.5 .6 1.5-1.4 1.5 3 1.5-2.1 1.5 1 1.5-4 1.5-1.6 1.5-1.8 1.5 7.1 1.5-4.3 1.5 .2 1.5-2.2 1.5 7.6 1.5-8.7 1.5-.1 1.5 5.3 1.5 1.1 1.5-.4 1.5-4.2 1.5 2.3 1.5-4.5 1.5 7.5 1.5 2.8 1.5-.1 1.5-3 1.5 .1 1.5-3.8 1.5 2.4 1.5 6.3 1.5-7.1 1.5-.8 1.5-.7 1.5-2 1.5 6.9 1.5-4.7 1.5-2.5 1.5 .4 1.5 1.9 1.5 2.8 1.5-4 1.5-2.7 1.5 .8 1.5-2 1.5 7.8 1.5-3.4 1.5 .9 1.5-1.2 1.5-.2 1.5-7.1 1.5 3.1 1.5 2.5 1.5 1.3 1.5-3.3 1.5 2 1.5 1.7 1.5 .6 1.5 2.7 1.5-1.5 1.5-2.2 1.5-.3 1.5 .3 1.5-1 1.5 .1 1.5 3.2 1.5-4.7 1.5-.5 1.5 4.5 1.5 .6 1.5 1.4 1.5-3.4 1.5-3.2 1.5 7.5 1.5-3.9 1.5 .8 1.5-1.6 1.5-.3 1.5-.3 1.5 4.1 1.5 5 1.5 1.1 1.5-1.7 1.5 5.3 1.5-3 1.5-2 1.5-1.6 1.5-8.6 1.5 7.6 1.5 .4 1.5-.4 1.5 2.7 1.5-5.2 1.5 2.2 1.5-6.5 1.5 9.3 1.5-1 1.5-1.7 1.5 .6 1.5-4.3 1.5 7.2 1.5-1.8 1.5-2.3 1.5 7.7 1.5-2.5 1.5 4.1 1.5-4.2 1.5-4.6 1.5-1.9 1.5-2.1 1.5-1.7 1.5 4.8 1.5-2.6 1.5 .3 1.5-1.9 1.5 .7 1.5-.3 1.5-1.3 1.5 6.3 1.5-1.6 1.5 1.2 1.5-5.9 1.5 7 1.5-.2 1.5 1.8 1.5-1.8 1.5-2 1.5-.2 1.5 .2 1.5-3.9 1.5 4.1 1.5 2.4 1.5-2.7 1.5 .3 1.5-1 1.5 4.6 1.5-2.3 1.5 .5 1.5-.2 1.5-.2 1.5-.6 1.5 3.3 1.5-2.7 1.5 .6 1.5-3.8 1.5 3 1.5-3.6 1.5 .1 1.5-1.5 1.5-2.6 1.5 4.2 1.5-1 1.5 1.6 1.5-1.9 1.5-.9 1.5-1.7 1.5 1.9 1.5-.2 1.5 6.4 1.5-2.3 1.5-4 1.5 3.9 1.5 3.3 1.5-3.6 1.5-1.2 1.5-1.4 1.5 6.1 1.5-2.1 1.5-5.9 1.5 .7 1.5 .9 1.5 .9 1.5 1 1.5 2.2 1.5-1.5 1.5 1.4 1.5-3.4 1.5 7.8 1.5-.5 1.5-2.6 1.5-3.4 1.5-3.3 1.5-.2 1.5-.2 1.5-5.7 1.5 7.2 1.5-1.6 1.5 4.2 1.5-2.7 1.5-4.7 1.5-1.3 1.5 3.2 1.5-3.2 1.5 .4 1.5 3.4 1.5-5.3 1.5 .2 1.5-.8 1.5 1.3 1.5 3.8 1.5 1.7 1.5-4.4 1.5 4.4 1.5-1.5 1.5 1 1.5 .9 1.5-.3 1.5 2.2 1.5-3.9 1.5 2.6 1.5-9 1.5 7 1.5-3.9 1.5-.7 1.5 3 1.5-4 1.5 3.1 1.5 1.9 1.5-1.8 1.5-.6 1.5 2.3 1.5-.6 1.5 1.3 1.5 4 1.5 2.4 1.5-9.2 1.5-2.4 1.5 2.3 1.5 1.6 1.5 .9 1.5 3.1 1.5 3.8 1.5-6.1 1.5-2.1 1.5 5.4 1.5 6.3 1.5-4.6 1.5 3.7 1.5-3.7 1.5-.9 1.5 .3 1.5-1 1.5 3.3 1.5-3.1 1.5 .2 1.5-.7 1.5-.7 1.5-.6 1.5-.6 1.5 1.4 1.5-4.7 1.5 .2 1.5-2 1.5 7.8 1.5-.5 1.5-4.8 1.5 3.5 1.5-4.2 1.5 3.3 1.5 7.2 1.5-5.3 1.5-.2 1.5 1.7 1.5 7.8 1.5-3.7 1.5-3.5 1.5 1.4 1.5-6.8 1.5 4.3 1.5-.3 1.5-.4 1.5-2 1.5-3.9 1.5 4.5 1.5-.2 1.5-.5 1.5 2.1 1.5 2.5 1.5-2 1.5-3 1.5 5.6 1.5-1.2 1.5-3.2 1.5-7.5 1.5 2.9 1.5-.6 1.5 2 1.5-6.1 1.5 .5 1.5 1.8 1.5 5.1 1.5-1.1 1.5 .4 1.5 1.5 1.5-4 1.5-.5 1.5 4.2 1.5-1.4 1.5-.4 1.5 .6 1.5 2.5 1.5-2.2 1.5 2.1 1.5-.3 1.5 1.9 1.5 .3 1.5-5 1.5-1.9 1.5 .3 1.5 1.6 1.5 1.5 1.5 4.4 1.5-4.8 1.5 .4 1.5-1.3 1.5 7.7 1.5-6.4 1.5 4.5 1.5-4.4 1.5 10 1.5-6.5 1.5-.2 1.5-1.5 1.5-1.3 1.5-4 1.5-1.6 1.5 5.7 1.5 1.3 1.5 1.4" stroke="#f59a9a" stroke-width="1.05" fill="none" stroke-linejoin="round"/>
<path d="M133 841.4l1.5-1.4 1.5 2.6 1.5-4 1.5 5 1.5-3.8 1.5-.6 1.5 3.5 1.5 3.9 1.5 1.4 1.5-3.5 1.5-.7 1.5 5.2 1.5-5.5 1.5 2.6 1.5-3.2 1.5-4 1.5 .8 1.5 2.2 1.5-4.8 1.5-.7 1.5-1.7 1.5 .3 1.5 2.1 1.5-4.6 1.5 4.6 1.5-6.6 1.5 3.6 1.5-1.8 1.5 1.8 1.5-.3 1.5 1.3 1.5-.5 1.5 3 1.5 2.3 1.5-2.8 1.5 2 1.5-4.9 1.5 .8 1.5-.2 1.5-.6 1.5 2.2 1.5 2.3 1.5-8 1.5 2.4 1.5 1.3 1.5 1.3 1.5 1.4 1.5 2.4 1.5-4.5 1.5 0 1.5 1.1 1.5 1.3 1.5 6.4 1.5-4.9 1.5-4.8 1.5 1.9 1.5 0 1.5 .4 1.5 .5 1.5-4.3 1.5 3.8 1.5 3.9 1.5-.5 1.5-4.1 1.5-2.4 1.5-.6 1.5 5.6 1.5 3.2 1.5 1.4 1.5-4.7 1.5-.6 1.5-.2 1.5 2.9 1.5-1.9 1.5 3.3 1.5-4.9 1.5 8.6 1.5-3.8 1.5 1.4 1.5 2.7 1.5 1.2 1.5-6.7 1.5 1.9 1.5-1.4 1.5-4.8 1.5 2 1.5 3.1 1.5-1.1 1.5-.3 1.5 5.6 1.5 .2 1.5-1.8 1.5 .9 1.5-1.7 1.5 .9 1.5-4.1 1.5 5.4 1.5-2.7 1.5-6.5 1.5 5.2 1.5-.7 1.5-4 1.5 3.9 1.5-3.6 1.5-2.4 1.5 3.9 1.5 .5 1.5 3.6 1.5-1.1 1.5 7.3 1.5-5.4 1.5-2.4 1.5-1.8 1.5-1.2 1.5 4.4 1.5 1.8 1.5-1.8 1.5-5.3 1.5 7.1 1.5 3 1.5-7.9 1.5 .8 1.5-.1 1.5 1.3 1.5-.4 1.5-.9 1.5-1.1 1.5 3.8 1.5-2.6 1.5 .8 1.5-4.8 1.5 .3 1.5-.7 1.5-4.4 1.5 2.8 1.5-1.3 1.5 4 1.5 3.7 1.5 4.2 1.5-3.9 1.5 .3 1.5 2.5 1.5-2.7 1.5-2.9 1.5 1.4 1.5-1 1.5-3.1 1.5-.5 1.5-2.2 1.5-1.1 1.5-1.7 1.5 .8 1.5 1.2 1.5-.1 1.5-2.7 1.5 4.8 1.5 .9 1.5 2 1.5-1.7 1.5 2 1.5 .8 1.5-1.1 1.5-2.7 1.5-2.5 1.5-1.3 1.5 5.9 1.5-2.2 1.5 .7 1.5 1.4 1.5 6.5 1.5-9.5 1.5 2.6 1.5-1 1.5 2.7 1.5 .4 1.5-3.3 1.5 .6 1.5-.7 1.5 .6 1.5-3.6 1.5 1.8 1.5-4 1.5-.3 1.5 2.4 1.5 4.7 1.5-5.6 1.5 12 1.5 3.8 1.5-1 1.5-.1 1.5 .2 1.5-1.4 1.5-1.3 1.5-1.4 1.5 .5 1.5 1.7 1.5-6.1 1.5 2.9 1.5 1.8 1.5-1.2 1.5 2.6 1.5-3.6 1.5-5.5 1.5 3.8 1.5-3 1.5 2.1 1.5-7.6 1.5-4.6 1.5-.7 1.5 3.7 1.5 .4 1.5 3.6 1.5 3.2 1.5-4.6 1.5 4.3 1.5 2.6 1.5 .4 1.5 4.1 1.5-4.6 1.5-1 1.5-1.7 1.5 3.8 1.5 1.1 1.5 .6 1.5 .2 1.5 3.9 1.5 .8 1.5-3.9 1.5 8.2 1.5 .6 1.5-7.3 1.5-2.4 1.5 1.6 1.5-3.5 1.5 3 1.5 1.1 1.5 4.4 1.5-.8 1.5-6.7 1.5 5.4 1.5-5.4 1.5-1.5 1.5 4 1.5-6.7 1.5 5.8 1.5-.7 1.5-3.5 1.5 1.7 1.5-2.9 1.5 .7 1.5 6.9 1.5-6 1.5-1 1.5 5.8 1.5-3.3 1.5-3.2 1.5-.5 1.5 .5 1.5 4.7 1.5-4.2 1.5 9.3 1.5-7.2 1.5 5.2 1.5-2.4 1.5-.2 1.5-2 1.5-.5 1.5 .4 1.5 .9 1.5 .1 1.5 4.9 1.5-2.7 1.5-2.3 1.5 0 1.5-1.3 1.5-2.1 1.5-.2 1.5 .2 1.5 3.2 1.5-4.2 1.5-2.2 1.5 4.6 1.5 2.3 1.5 2.1 1.5 .9 1.5-1.3 1.5-.2 1.5-1 1.5 2.3 1.5-2.2 1.5-.4 1.5-.8 1.5-4.7 1.5 .3 1.5 7.2 1.5 2.7 1.5-1.5 1.5 .7 1.5-2.1 1.5-2.4 1.5-.6 1.5 3.7 1.5-2.4 1.5 .2 1.5 .3 1.5-4.8 1.5 1.7 1.5-1 1.5 3.7 1.5 1.3 1.5-1.4 1.5-4.6 1.5 .6 1.5-4.5 1.5 6.3 1.5 2.6 1.5-5.3 1.5 .6 1.5-1 1.5 1.4 1.5 1.2 1.5 0 1.5-2.7 1.5 .5 1.5 4.1 1.5 1.8 1.5-2.5 1.5-2.1 1.5 2.5 1.5-.9 1.5 2.7 1.5 4.3 1.5-3.7 1.5 4.7 1.5 .1 1.5-.3 1.5-2.2 1.5-2.2 1.5-2.1 1.5-.6 1.5 4.8 1.5-4.7 1.5 4.1 1.5-.2 1.5-1 1.5-6.1 1.5-1.1 1.5 4.7 1.5-2.7 1.5-2.3 1.5 4.9 1.5-3.8 1.5 1.2 1.5 1.5 1.5 1.3 1.5-5.1 1.5 .4 1.5 6.9 1.5-2.6 1.5 1.2 1.5-3.5 1.5 .4 1.5 1.5 1.5-1.9 1.5 3.7 1.5-4.1 1.5 3.8 1.5-4.5 1.5 6.7 1.5 4.2 1.5-5.6 1.5-1.8 1.5 3.7 1.5-4.3 1.5-1.4 1.5 3 1.5-1.6 1.5 .9 1.5-1.3 1.5 3.3 1.5-1.7 1.5 5.6 1.5-1.7 1.5-7.1 1.5 0 1.5 2.2 1.5 1.6 1.5-1 1.5-1.7 1.5 1.4 1.5 2.2 1.5-3.3 1.5 1.5 1.5-1 1.5 .6 1.5-.5 1.5-3.4 1.5-.2 1.5-3.8 1.5 3.5 1.5-.5 1.5 .6 1.5 .5 1.5 5.7 1.5-3.3 1.5-3.4 1.5-1.3 1.5 .7 1.5-7.5 1.5 3.5 1.5 6.4 1.5 4.2 1.5-.1 1.5-3.8 1.5-.2 1.5-4.2 1.5 5 1.5-.8 1.5-9.1 1.5 4 1.5-3.6 1.5 .2 1.5 .6 1.5 3 1.5 3.4 1.5 1.8 1.5-5.5 1.5 0 1.5-.1 1.5 1.3 1.5 1.5 1.5 1.6 1.5 8.1 1.5-4.8 1.5 1.1 1.5 .4 1.5 5.3 1.5-3.2 1.5-7.1 1.5 .8 1.5-.6 1.5-.5 1.5 4.2 1.5 6.9 1.5-4.7 1.5-5 1.5 2.4 1.5 5.3 1.5-2.2 1.5-4.8 1.5-1.3 1.5 5.8" stroke="#f59a9a" stroke-width="1.05" fill="none" stroke-linejoin="round"/>
<path d="M133 844.5l1.5-1.7 1.5 4.6 1.5-2.6 1.5-3.1 1.5 3.5 1.5 .9 1.5 1.2 1.5-.4 1.5-.8 1.5 .9 1.5-3.2 1.5-.8 1.5 .5 1.5-.5 1.5 2.9 1.5 .5 1.5-1.1 1.5-3 1.5 1.1 1.5-3.8 1.5-.8 1.5 .3 1.5 .7 1.5-4.5 1.5 10 1.5-.9 1.5 3.9 1.5-2.7 1.5-4.9 1.5-.6 1.5 2.6 1.5 1.4 1.5-1.3 1.5 1.3 1.5-2.3 1.5 .1 1.5-3.6 1.5 7.1 1.5-6.4 1.5-2.6 1.5 2.2 1.5-3.4 1.5-.5 1.5-2.9 1.5 2.9 1.5-2.8 1.5 8.2 1.5-7.1 1.5 6.3 1.5-4.5 1.5 2.9 1.5 1.6 1.5 .3 1.5 2.2 1.5-1.5 1.5-.7 1.5-1 1.5 .7 1.5-1.5 1.5 4.9 1.5-.1 1.5-3 1.5 3.6 1.5-5.1 1.5 1.2 1.5-1.7 1.5 2.7 1.5-3.3 1.5 1.1 1.5-4.5 1.5-.7 1.5 .4 1.5 1.8 1.5 3.1 1.5-2.4 1.5-.3 1.5-3.2 1.5 .4 1.5-2.3 1.5 1.1 1.5-.5 1.5-.4 1.5 3.8 1.5 1.8 1.5-1.4 1.5 2.2 1.5-4.3 1.5-3.2 1.5 3.6 1.5-1.1 1.5 1.8 1.5-4.8 1.5 6.8 1.5-.3 1.5 1 1.5-1.8 1.5 6.3 1.5-5.7 1.5 5.1 1.5-4.3 1.5-3.5 1.5-1.7 1.5 6.5 1.5-2.4 1.5-3.9 1.5 6.8 1.5-3.2 1.5-1.2 1.5-1.4 1.5 7.6 1.5-1.2 1.5-2.4 1.5-1.7 1.5 .5 1.5-1.6 1.5 3.4 1.5 .6 1.5-.1 1.5-1.9 1.5 2.4 1.5-2.6 1.5-2.6 1.5-1.2 1.5 2.3 1.5-3.7 1.5 1.9 1.5-1 1.5-2.3 1.5 3.2 1.5-4.9 1.5 2.2 1.5-2.8 1.5-.2 1.5 1.9 1.5 2.2 1.5-3.7 1.5 2.5 1.5 1.3 1.5 6 1.5-9.8 1.5 2.6 1.5 3.5 1.5 2.1 1.5-1.1 1.5-2.3 1.5 8.5 1.5-5.8 1.5 1.3 1.5-4 1.5-.8 1.5 1.9 1.5 2.4 1.5 1.6 1.5-1.1 1.5-1.6 1.5 2.2 1.5-1.2 1.5 5.1 1.5-5.7 1.5 2.9 1.5-.1 1.5-1.4 1.5-3.2 1.5-2.9 1.5 3 1.5 6.1 1.5 2.3 1.5-.3 1.5 .3 1.5 5.4 1.5-.9 1.5-1 1.5-2.2 1.5-1.2 1.5-3.2 1.5 1.2 1.5-2.8 1.5 1 1.5 1.5 1.5-1.4 1.5 .2 1.5-.2 1.5-.7 1.5 5.2 1.5-1.3 1.5-.3 1.5-1.3 1.5 1.4 1.5-2.2 1.5 8.8 1.5-4.6 1.5-5.1 1.5 6.6 1.5-3.8 1.5-3.8 1.5 2.4 1.5 5.7 1.5-2.7 1.5-3.2 1.5 4.1 1.5-4.5 1.5 .7 1.5-2.1 1.5-1.3 1.5 2.4 1.5-4.7 1.5 3.3 1.5-1.4 1.5 .9 1.5-1.2 1.5 1.7 1.5 .1 1.5 1.8 1.5 .9 1.5 5.9 1.5 .8 1.5-4.7 1.5 .3 1.5 1.1 1.5 1.7 1.5-4.9 1.5 2.2 1.5 5.4 1.5-1.3 1.5 3.8 1.5-2.6 1.5-2 1.5 2 1.5-5.2 1.5 2.1 1.5-3.6 1.5-1.9 1.5 5.9 1.5-2.6 1.5 2.6 1.5 2.8 1.5 1.5 1.5-5.2 1.5 1.8 1.5-4.8 1.5 6.2 1.5 1.3 1.5-8.1 1.5 4.7 1.5-6.4 1.5 .5 1.5 3.4 1.5 1.8 1.5-3 1.5-.3 1.5-.4 1.5 1.5 1.5-4.5 1.5 1.6 1.5 .4 1.5 3.3 1.5 3.1 1.5 .6 1.5 3.8 1.5-.1 1.5-6.6 1.5-2.6 1.5 4.3 1.5-2.1 1.5-3.6 1.5 .1 1.5-1.6 1.5 3.2 1.5 .5 1.5-3.2 1.5-6.3 1.5 6.7 1.5-2.6 1.5-1.3 1.5 .5 1.5-2.8 1.5 6.4 1.5-1 1.5-1.4 1.5-4.7 1.5 3.4 1.5 2.9 1.5 5.6 1.5-7.6 1.5-3.6 1.5 8.3 1.5 4.1 1.5-3.9 1.5 2.4 1.5-5 1.5-3.2 1.5 .9 1.5 2.1 1.5 1.6 1.5-4.1 1.5 6.6 1.5-3.9 1.5-.4 1.5 7.4 1.5-5.5 1.5 4.1 1.5-3 1.5-5.9 1.5 1.3 1.5 1.1 1.5 1.9 1.5 5 1.5-3.8 1.5 2.6 1.5 1.2 1.5-2.9 1.5-.4 1.5-.8 1.5-1.8 1.5-.3 1.5 1.8 1.5-1.4 1.5 1.9 1.5 1.7 1.5 .8 1.5-4.7 1.5-4.3 1.5 4.6 1.5-2.2 1.5 3.3 1.5-3.9 1.5 2 1.5-.9 1.5 4.1 1.5 4.8 1.5-3.7 1.5 2.9 1.5 6.8 1.5-6.1 1.5-2.2 1.5 4.5 1.5-2.3 1.5-8.4 1.5 .3 1.5 2.8 1.5 4.1 1.5-3.5 1.5-2.7 1.5 9.9 1.5-.6 1.5 3.8 1.5-4.4 1.5 .2 1.5-2.2 1.5-4 1.5 4 1.5-1.1 1.5-2.9 1.5 3.6 1.5-2.4 1.5 2.6 1.5-.6 1.5-4.1 1.5 1.7 1.5-4.2 1.5-.2 1.5 1.4 1.5 2.9 1.5-6 1.5 4.2 1.5 3.9 1.5-6.3 1.5 .5 1.5 2.4 1.5-4.3 1.5 2.6 1.5 3.7 1.5-3.8 1.5 1.1 1.5-4 1.5 5.1 1.5-.7 1.5-.2 1.5-1.1 1.5-2.7 1.5 1 1.5 .6 1.5 6.2 1.5-6.8 1.5 4.6 1.5-4.2 1.5 1.6 1.5-.7 1.5-1 1.5-6.1 1.5-3.7 1.5 4.5 1.5 3.9 1.5 .9 1.5 1 1.5-2.2 1.5 2.4 1.5-2.9 1.5 6.5 1.5-2.1 1.5-.3 1.5-1.7 1.5 9.4 1.5-5.3 1.5 0 1.5 2.1 1.5-1.6 1.5-2 1.5-2.9 1.5 2.2 1.5 3.4 1.5 1.2 1.5 .2 1.5 .7 1.5-2 1.5-4.4 1.5 1.9 1.5 .5 1.5-7.4 1.5 4.7 1.5-2.8 1.5 1.7 1.5-2 1.5 .5 1.5 2.3 1.5-5.9 1.5 5.8 1.5-2.9 1.5 1.4 1.5 .8 1.5 4.8 1.5-1.3 1.5-7.9 1.5 2.8 1.5-1.5 1.5 3.5 1.5-2.7 1.5 1.3 1.5 2.5 1.5-5.2 1.5-.8 1.5 2.9 1.5 5.6 1.5-6.1 1.5-3.9 1.5 1.3 1.5-1.3 1.5 1.9 1.5-.3 1.5 5.2 1.5-8 1.5 .3" stroke="#f59a9a" stroke-width="1.05" fill="none" stroke-linejoin="round"/>
<path d="M133 841.7l1.5-2.1 1.5-.4 1.5-1.3 1.5 7.4 1.5-5.5 1.5-2.9 1.5 1.1 1.5 2.7 1.5-3.4 1.5-.5 1.5 2.1 1.5-1.7 1.5 1.7 1.5 3.3 1.5-4 1.5 2.6 1.5-.2 1.5 2 1.5-1.4 1.5 6.4 1.5-5.8 1.5-.2 1.5-.1 1.5 2 1.5 2.2 1.5-2.2 1.5-3.5 1.5-1.9 1.5 3 1.5 .1 1.5-1.9 1.5-1 1.5-1.8 1.5 5.1 1.5-1.8 1.5 .4 1.5 1.3 1.5-3.5 1.5 1.4 1.5 6 1.5-4.7 1.5 3 1.5-2.6 1.5-1.6 1.5 4.7 1.5-1.8 1.5-1.3 1.5-.6 1.5 2 1.5-1.2 1.5-2.4 1.5 3.9 1.5-.9 1.5-4.7 1.5 2.1 1.5-4.9 1.5 6.7 1.5-2.9 1.5-.8 1.5-.4 1.5-1.5 1.5 3.4 1.5 3.9 1.5 .6 1.5-4.6 1.5 2.1 1.5-5.1 1.5 2.7 1.5-3.6 1.5 3.3 1.5 6.9 1.5-4.2 1.5-5.6 1.5 4.5 1.5-2 1.5 6 1.5 .2 1.5-.3 1.5-1.4 1.5 3.3 1.5-2.4 1.5 .1 1.5-1.2 1.5 2.4 1.5 2.8 1.5-4.9 1.5 2.5 1.5-1.9 1.5 1.2 1.5-1.5 1.5-.8 1.5 .5 1.5 1.9 1.5 1.7 1.5 2.2 1.5-1.4 1.5-4.1 1.5-1.3 1.5 4.1 1.5-1.1 1.5-5.4 1.5-1.8 1.5 1.5 1.5-2.8 1.5 1.6 1.5-1.5 1.5 3 1.5-2.9 1.5 4.3 1.5 3.4 1.5-2.8 1.5 .1 1.5 2.5 1.5 .7 1.5 2.4 1.5-1.2 1.5-.4 1.5-4.6 1.5 2 1.5-2.3 1.5 .8 1.5 2.9 1.5 .2 1.5 .6 1.5-6.3 1.5 3.7 1.5 .2 1.5 6.4 1.5-1.4 1.5-5.6 1.5-.9 1.5 1.1 1.5-2.4 1.5 2.1 1.5 4.4 1.5-6.9 1.5-1 1.5-1 1.5 4.6 1.5 2.6 1.5-1.7 1.5-4.9 1.5-2.8 1.5 4.2 1.5 2 1.5-2.1 1.5 3 1.5-3.7 1.5 3.4 1.5-.8 1.5-6.5 1.5 4 1.5-6.8 1.5-3.4 1.5 6.7 1.5-1.4 1.5 .3 1.5 4.9 1.5 2.2 1.5-3.2 1.5-5.2 1.5 .3 1.5 4.3 1.5 .6 1.5-3.1 1.5 2.5 1.5-.4 1.5 1.5 1.5 5.7 1.5-3.3 1.5-.1 1.5-3.1 1.5 3.5 1.5-4.5 1.5 2.7 1.5 6.9 1.5-5.1 1.5 3.6 1.5 .3 1.5-4 1.5-1.4 1.5 4.3 1.5-7.8 1.5 2.7 1.5 1.1 1.5 4.4 1.5-4.8 1.5 1.6 1.5 4 1.5 3.8 1.5 .3 1.5 2.3 1.5 0 1.5-6.2 1.5 2.3 1.5-6.4 1.5 7.5 1.5-6.5 1.5-1.1 1.5 1.7 1.5-3.5 1.5-.7 1.5 5.2 1.5-4 1.5-3.9 1.5 2.5 1.5 6.6 1.5-4 1.5-.9 1.5 .2 1.5-.1 1.5-2.5 1.5 .2 1.5-2 1.5 5.9 1.5 1 1.5-4.4 1.5-2.1 1.5 1.9 1.5-2.4 1.5-1.1 1.5 4.2 1.5 .3 1.5-1.4 1.5 6.8 1.5 .5 1.5 2.2 1.5-2.4 1.5 4.1 1.5 .6 1.5 .5 1.5-7.3 1.5 2.2 1.5-3.6 1.5 .3 1.5 7.4 1.5-5.1 1.5 1.5 1.5-2.5 1.5 7.7 1.5-6 1.5-1.3 1.5 4.1 1.5-4.8 1.5 .4 1.5-1.9 1.5-3.6 1.5-3.2 1.5 6.9 1.5-1.6 1.5-1.7 1.5-3.2 1.5 4.7 1.5-.6 1.5-9.3 1.5 .5 1.5 2.4 1.5 2.8 1.5 2.7 1.5-1.8 1.5-5 1.5 3.3 1.5-1 1.5 5.4 1.5-2.4 1.5-4.1 1.5 4.2 1.5 3.1 1.5-3.1 1.5 2 1.5-.9 1.5-4.5 1.5 6.5 1.5 3.7 1.5-4.5 1.5 3.8 1.5 1.1 1.5-6 1.5 3.6 1.5 1.4 1.5-.6 1.5-.4 1.5-2.1 1.5-.8 1.5-1.4 1.5 .7 1.5-1.3 1.5 6.3 1.5-4.2 1.5 1.5 1.5-4.1 1.5 1.3 1.5 .4 1.5 3.2 1.5-2.9 1.5-1 1.5-.1 1.5 6.4 1.5 1.5 1.5-1.9 1.5-2.5 1.5 4.1 1.5-6.4 1.5 1.4 1.5 .3 1.5 .1 1.5-2.3 1.5-4.3 1.5 5.8 1.5 1.1 1.5-3 1.5-.5 1.5 8.2 1.5-6.1 1.5-1.5 1.5 2.4 1.5 1.2 1.5-.4 1.5-.2 1.5 2.3 1.5 3.1 1.5-.5 1.5 .1 1.5-5.4 1.5 7.7 1.5-2.1 1.5 2.5 1.5-6.7 1.5 2.6 1.5-2.7 1.5-.4 1.5 3.5 1.5-1.3 1.5-3.9 1.5-1.9 1.5 .9 1.5 1.1 1.5-1.5 1.5-2.1 1.5 3.3 1.5-2.2 1.5 4.7 1.5-.4 1.5 2.4 1.5-4.2 1.5 2.9 1.5-1.1 1.5-.2 1.5-2.9 1.5 2.6 1.5-1.6 1.5 4 1.5-5.1 1.5 3 1.5-1.2 1.5 2.4 1.5-5.7 1.5 6.2 1.5-3.5 1.5 6.4 1.5-1.3 1.5-2.8 1.5-3.3 1.5 3.3 1.5 4.9 1.5-11.2 1.5 .6 1.5 4 1.5-7.7 1.5-2.5 1.5 5.1 1.5-4.8 1.5 .4 1.5 5.6 1.5 1.8 1.5-2.9 1.5 1.8 1.5 2.5 1.5 5 1.5-6.9 1.5 4 1.5-5.5 1.5 3.6 1.5 5.3 1.5-4.1 1.5-1.9 1.5 1 1.5 1.5 1.5 2.5 1.5 .1 1.5 .8 1.5 3.1 1.5 6.6 1.5-8.7 1.5-3.1 1.5 2.5 1.5 3.2 1.5 4 1.5-1.5 1.5-2.4 1.5-5.3 1.5 8.2 1.5-2.5 1.5 3.4 1.5 1.1 1.5-8.9 1.5 8.3 1.5-3.6 1.5 1 1.5 1.2 1.5-7.4 1.5 4 1.5-.2 1.5-4.4 1.5-2.5 1.5 1.4 1.5 2.6 1.5 3.5 1.5-11.1 1.5 .8 1.5-1.4 1.5 1 1.5 .5 1.5-2.9 1.5 2.1 1.5 .9 1.5 2 1.5-1.7 1.5 5.1 1.5-7.5 1.5-3.2 1.5 2.2 1.5 5.2 1.5-2.3 1.5-1.1 1.5 5.4 1.5-1.6 1.5 1.9 1.5 3.5 1.5-.7 1.5-.7 1.5-2.1 1.5-.1 1.5 .9 1.5-1 1.5-2.3 1.5 2.6 1.5 5.5 1.5-3.5 1.5-1.7 1.5 3.3 1.5 1" stroke="#f59a9a" stroke-width="1.05" fill="none" stroke-linejoin="round"/>
<path d="M133 841.3l1.5 2.6 1.5 1.6 1.5-5.7 1.5 .2 1.5 4.6 1.5 3.6 1.5-7.5 1.5-4.2 1.5 2.4 1.5 1.8 1.5-.4 1.5-1.1 1.5-.4 1.5 3.3 1.5-.3 1.5-2.5 1.5 .6 1.5 1.6 1.5 .9 1.5-.8 1.5 5.9 1.5-4 1.5 3.5 1.5 4.1 1.5 .7 1.5-2 1.5 2.7 1.5-2.4 1.5-2.6 1.5 .1 1.5-7.2 1.5 3.3 1.5 .6 1.5-3.8 1.5 5.7 1.5-8.2 1.5 .5 1.5 5.2 1.5-2.1 1.5 5.2 1.5-1.8 1.5-5.1 1.5 1.1 1.5 1.2 1.5 3.1 1.5-1.2 1.5-3.5 1.5 6.4 1.5-3.8 1.5-2.6 1.5-3.4 1.5 5.5 1.5-1.9 1.5-.9 1.5 2.3 1.5 1 1.5-.6 1.5-2.1 1.5-.9 1.5-.5 1.5-.9 1.5 5.5 1.5-6.8 1.5 5.1 1.5-1.1 1.5-4.3 1.5 2.4 1.5 1.1 1.5-4 1.5 1.1 1.5 5.7 1.5-1.7 1.5 2.3 1.5 3.6 1.5-2.1 1.5 4 1.5-.6 1.5-3.2 1.5 4 1.5 0 1.5 .7 1.5 1.3 1.5-2.8 1.5 5.7 1.5-5.4 1.5-.7 1.5-.9 1.5-.2 1.5 1.6 1.5-6 1.5 8.1 1.5-4.3 1.5-3.7 1.5-.4 1.5 4.6 1.5-6.1 1.5 2.8 1.5 2.9 1.5-2.4 1.5-.6 1.5 2.4 1.5-.8 1.5 4.3 1.5-7.1 1.5 1.4 1.5-3 1.5 6.8 1.5-5.5 1.5 3.1 1.5 2.3 1.5-2 1.5 1.2 1.5-1.7 1.5-2.2 1.5 6.2 1.5-.2 1.5-.8 1.5-2.1 1.5 1.5 1.5-.4 1.5-3.4 1.5 .8 1.5-.7 1.5-1.1 1.5 3.9 1.5 1 1.5 1.4 1.5-2.9 1.5 6.4 1.5-2.1 1.5 .1 1.5 2.8 1.5-4.6 1.5-3.5 1.5 7.1 1.5-9.4 1.5 5.7 1.5 1 1.5-2.8 1.5-3.3 1.5-1.1 1.5-.9 1.5-.3 1.5 4.2 1.5-5.4 1.5 2 1.5-.4 1.5 1.9 1.5 3.9 1.5 6.2 1.5-5 1.5-1.1 1.5-2.7 1.5 4.4 1.5-4.3 1.5-.9 1.5 4.5 1.5 .3 1.5 1.6 1.5-3.5 1.5-4.7 1.5 1.8 1.5 5 1.5 0 1.5 4.2 1.5 0 1.5 .1 1.5 .1 1.5 2.6 1.5 1.1 1.5-2.1 1.5-1.4 1.5-2.6 1.5-4.6 1.5 6.1 1.5-5 1.5 3.9 1.5-.2 1.5-1.2 1.5-.9 1.5-1 1.5 10.5 1.5-1.8 1.5-2.7 1.5-3.8 1.5-1.8 1.5 4 1.5-6 1.5 1.6 1.5 .2 1.5-1.1 1.5 8.8 1.5-2.2 1.5-5.2 1.5 3.3 1.5-4.9 1.5 3.7 1.5-1.7 1.5 1.6 1.5-.6 1.5-1.8 1.5-2.7 1.5 7 1.5-7.7 1.5-1.9 1.5 .6 1.5 2 1.5-2.1 1.5-3.8 1.5 5.5 1.5 2.5 1.5-5.8 1.5 1.6 1.5 4.1 1.5-.2 1.5-4.9 1.5 .4 1.5 2.8 1.5-1.7 1.5-.9 1.5-4.6 1.5 1.4 1.5 1 1.5 .1 1.5 4.4 1.5 1.2 1.5-.1 1.5 .5 1.5 .1 1.5 1.8 1.5-4.3 1.5 2.5 1.5 1.3 1.5 1.2 1.5 1.8 1.5 2.1 1.5-1.5 1.5-1.3 1.5-.4 1.5 1 1.5-3.1 1.5 .7 1.5 .6 1.5 .7 1.5-3.8 1.5 1.3 1.5-3.3 1.5 3.7 1.5-4.2 1.5 3.9 1.5-2.5 1.5-.3 1.5 3.7 1.5-1.9 1.5 2.6 1.5-1.6 1.5 5 1.5 .3 1.5 6.4 1.5-6.2 1.5-1.7 1.5-.6 1.5-1.2 1.5-4.8 1.5-.9 1.5-1.4 1.5 1.6 1.5 1.5 1.5-7.3 1.5 0 1.5 7.7 1.5-3.4 1.5 1.7 1.5-1.2 1.5-.5 1.5-1.4 1.5 2.4 1.5-1.6 1.5 .6 1.5-.3 1.5-4 1.5 2.6 1.5-.7 1.5 3.5 1.5 .4 1.5 4 1.5-4.9 1.5-3.3 1.5 1.5 1.5-.1 1.5 1.6 1.5-3.1 1.5 4.1 1.5 1.8 1.5-1 1.5 .4 1.5-4.7 1.5 7.1 1.5-3.2 1.5 3.6 1.5-2.3 1.5-.6 1.5-4.7 1.5 2.7 1.5 2.6 1.5 2.3 1.5 2.5 1.5 1.4 1.5-5.4 1.5 5 1.5-2.9 1.5-4.7 1.5 7.6 1.5 1.7 1.5-5.7 1.5-1.1 1.5 5.4 1.5-3.5 1.5 1 1.5-4.1 1.5 1.2 1.5 1.1 1.5 .7 1.5 6.9 1.5-9.7 1.5-.1 1.5-3.2 1.5-2.9 1.5 6.1 1.5-.5 1.5-6.3 1.5 .6 1.5 2.8 1.5 1.7 1.5-4.2 1.5 5.5 1.5-.4 1.5 1.1 1.5-2.3 1.5-2.6 1.5 6.6 1.5-5.3 1.5-1.3 1.5-3.8 1.5 6 1.5-4.2 1.5 .2 1.5 .1 1.5-7.5 1.5 5.8 1.5 5.8 1.5-6.8 1.5 1.8 1.5 2.2 1.5 7.3 1.5-6.3 1.5 6.7 1.5 1.4 1.5-5.6 1.5 4 1.5-4.8 1.5 2.8 1.5-1.6 1.5 3 1.5-3 1.5 .3 1.5 1.2 1.5-4 1.5 3.5 1.5-3.2 1.5 2.6 1.5 3.2 1.5-3.8 1.5 1.9 1.5 .8 1.5-3.8 1.5-2.2 1.5-.7 1.5 .9 1.5-2.8 1.5 5.2 1.5-2.4 1.5-2.4 1.5 2.7 1.5 .3 1.5-.3 1.5 1 1.5-2.3 1.5 2.7 1.5 1.8 1.5 3.9 1.5 .9 1.5 5.8 1.5-10 1.5 .1 1.5-6.1 1.5 2.8 1.5-.9 1.5-1.1 1.5 2.5 1.5 .7 1.5-.2 1.5-2.8 1.5 2.5 1.5-2.7 1.5 0 1.5 0 1.5-3.1 1.5 4.6 1.5-2.7 1.5 1.8 1.5 .6 1.5-1.6 1.5-7.2 1.5 4.9 1.5 2.8 1.5 .5 1.5-1.3 1.5-1.6 1.5 2.2 1.5 1.4 1.5-1.6 1.5 .5 1.5-1.6 1.5-4.8 1.5 5.2 1.5-2.1 1.5-1 1.5 3.8 1.5 8.9 1.5-6.2 1.5-3 1.5 .4 1.5 3.7 1.5-5.2 1.5 6.3 1.5 .1 1.5-1.9 1.5-6.8 1.5 5.6 1.5 2.7 1.5-9.7 1.5 5.3 1.5 1.2 1.5-6.3 1.5-2.2 1.5 5.1 1.5-2.4 1.5 3 1.5 1.2 1.5-5.8 1.5 .5" stroke="#f59a9a" stroke-width="1.05" fill="none" stroke-linejoin="round"/>
<path d="M133 844.9l1.5-1 1.5-.2 1.5 1 1.5-3.8 1.5 4.8 1.5 2.3 1.5-2 1.5 1.2 1.5-2.8 1.5-1.7 1.5 3.1 1.5-4 1.5 1.4 1.5-.4 1.5-3.6 1.5 5.1 1.5-1.7 1.5 4.2 1.5-1.5 1.5-1.8 1.5 2.9 1.5-5.5 1.5 3.4 1.5-3.2 1.5-4.1 1.5 3.4 1.5-2.8 1.5-3.6 1.5 1 1.5-.1 1.5 5.4 1.5-4.5 1.5 .5 1.5-1.1 1.5 2.7 1.5 3.7 1.5 1.2 1.5 3.2 1.5-.5 1.5 .2 1.5-.9 1.5-1.5 1.5 2.8 1.5-1.2 1.5-.3 1.5-6.1 1.5 1 1.5 2.6 1.5-3 1.5 3 1.5-2.9 1.5-1.5 1.5 1.3 1.5-1.3 1.5 .1 1.5 .1 1.5 4 1.5-4.7 1.5 4.2 1.5 .1 1.5-1.7 1.5 1.5 1.5 2.2 1.5-2 1.5-1.3 1.5-1.9 1.5 3.1 1.5-.7 1.5-.9 1.5 2.9 1.5-.1 1.5-6.4 1.5 9.5 1.5-.3 1.5-3.1 1.5 1.3 1.5 .8 1.5-2 1.5 2.4 1.5-3.6 1.5 2.3 1.5-3.6 1.5 5.3 1.5-1.3 1.5-3.5 1.5-5.8 1.5-.2 1.5 2.3 1.5 2.6 1.5-2.5 1.5 4.6 1.5-1.3 1.5 2.6 1.5-2 1.5 2.7 1.5-.2 1.5-2.8 1.5 1.8 1.5-3.2 1.5 .3 1.5-3.5 1.5 .9 1.5-4.6 1.5 3.7 1.5 .2 1.5 3.2 1.5 1.3 1.5 2.6 1.5 1.2 1.5-1.7 1.5-1.1 1.5-6.5 1.5 7.2 1.5 3.5 1.5-5.2 1.5-4.2 1.5 5.2 1.5-1 1.5-2.7 1.5 3.5 1.5-1.7 1.5-1 1.5 2.1 1.5-4.4 1.5 .5 1.5 1.1 1.5-1.4 1.5 5.5 1.5-8.3 1.5 6 1.5-5.2 1.5 2.4 1.5-3.6 1.5 1.2 1.5 .9 1.5 3.4 1.5-6.5 1.5 .6 1.5-1.8 1.5 3.4 1.5-6.2 1.5 .5 1.5 .9 1.5 1.5 1.5-.8 1.5 2.2 1.5 .4 1.5-.5 1.5 1.3 1.5-1.1 1.5 2.4 1.5 2.1 1.5-.1 1.5 6.9 1.5-2.6 1.5-2.8 1.5 2.5 1.5 .1 1.5-4 1.5 2.2 1.5-2.9 1.5-.8 1.5-3 1.5 3.9 1.5 3.9 1.5-1.1 1.5-2.8 1.5 .8 1.5 5 1.5-1.9 1.5-1.3 1.5-1.9 1.5 .1 1.5-1.1 1.5 4.4 1.5 2.2 1.5-1.4 1.5-1.5 1.5 1 1.5-2.9 1.5 3 1.5-2.4 1.5 2.6 1.5-2.4 1.5 2.4 1.5-3.8 1.5-.9 1.5 4.1 1.5 3.9 1.5 3 1.5-6.1 1.5-.7 1.5 5 1.5-3.3 1.5-5.5 1.5 3.5 1.5 1.6 1.5 3.4 1.5-5.8 1.5-.3 1.5 2.9 1.5-3.6 1.5-2.6 1.5 5.9 1.5-5.7 1.5-4.8 1.5-2.5 1.5 1.1 1.5 7.6 1.5 2.8 1.5-2.6 1.5-.1 1.5-1.7 1.5 .9 1.5 7.7 1.5-5.5 1.5-5.7 1.5 7.4 1.5-4.5 1.5 .8 1.5 2.5 1.5-5.5 1.5-1 1.5 3.9 1.5-.6 1.5 1.9 1.5-1.8 1.5-.3 1.5 1.2 1.5 .6 1.5-5.6 1.5 .2 1.5 7.3 1.5-4.3 1.5 11.8 1.5-11.2 1.5 .9 1.5-.8 1.5-1.9 1.5-2.8 1.5-.3 1.5 11.1 1.5-5.5 1.5-7.9 1.5 3.8 1.5-1.5 1.5 3.3 1.5-2.9 1.5-1.9 1.5 .3 1.5 3.5 1.5 .3 1.5 .2 1.5-3 1.5 1.5 1.5 6 1.5 3.2 1.5 2.9 1.5-8.4 1.5 10.8 1.5 .9 1.5-.6 1.5 .1 1.5-4.5 1.5-.4 1.5 .7 1.5 6.5 1.5-8.6 1.5-.5 1.5-.2 1.5-4 1.5-3.5 1.5 .6 1.5 4.5 1.5 3.9 1.5-8 1.5 3.2 1.5 4.3 1.5-1.5 1.5-4.1 1.5 2.9 1.5 7.1 1.5-.2 1.5-.4 1.5-2.2 1.5 2.4 1.5 .9 1.5-6.4 1.5-2.2 1.5-.5 1.5 7 1.5-1.8 1.5 .3 1.5-2.2 1.5-1.1 1.5 .3 1.5 6 1.5-8.5 1.5 3.4 1.5-.7 1.5-5 1.5-1.5 1.5 1.6 1.5 3 1.5-.7 1.5 4.1 1.5-4.5 1.5 .5 1.5 4.6 1.5-2.6 1.5 1.6 1.5-5.1 1.5-.1 1.5 2.8 1.5 3 1.5 .6 1.5 .3 1.5 2.4 1.5-3.6 1.5 .5 1.5 3.5 1.5-2.7 1.5-1 1.5-1 1.5 0 1.5-5.8 1.5 4.6 1.5-4.7 1.5-1.6 1.5 .2 1.5-2.3 1.5 1.6 1.5 4.1 1.5 4.8 1.5-.9 1.5 .6 1.5 5.2 1.5 3.2 1.5-4.4 1.5-1.7 1.5-.3 1.5 2.2 1.5-.3 1.5-.3 1.5-3.1 1.5-1.9 1.5 4.2 1.5 3.2 1.5-.3 1.5 1.2 1.5 .4 1.5-8.3 1.5 8.3 1.5-2.5 1.5-3.8 1.5 1.7 1.5-3.5 1.5-2.2 1.5-.2 1.5-.1 1.5 .4 1.5-8.2 1.5 3.8 1.5 2.4 1.5-1.3 1.5 5.4 1.5 1.4 1.5-1.5 1.5 2.6 1.5 .2 1.5 2.1 1.5-4.3 1.5-.5 1.5 6.6 1.5-1.3 1.5-1 1.5 2.3 1.5-2.8 1.5-4.4 1.5 8.2 1.5-7.9 1.5 .8 1.5-1.1 1.5-1.1 1.5 1.5 1.5 2 1.5-3.7 1.5 3.5 1.5-3.7 1.5 2.3 1.5 4.6 1.5-2.9 1.5 2.5 1.5-4.4 1.5 1.6 1.5-3.7 1.5 1.3 1.5-2.3 1.5 5 1.5-1.5 1.5-4.7 1.5 .4 1.5 1.9 1.5-3.9 1.5-1.3 1.5 3.3 1.5-.9 1.5-.5 1.5 4.1 1.5-.2 1.5-3.6 1.5-4.3 1.5 1 1.5 7.9 1.5-1.9 1.5-1.1 1.5 2.1 1.5-1 1.5 1.5 1.5 4.4 1.5 2.2 1.5-1.7 1.5 .8 1.5-.4 1.5-1 1.5 1.4 1.5-3.9 1.5-1.2 1.5-.3 1.5 .4 1.5-1.4 1.5 2.8 1.5 1.8 1.5-1.1 1.5-1.3 1.5-2.9 1.5 3.8 1.5-2.7 1.5-2.8 1.5 4.7 1.5-2.9 1.5 6 1.5-.3 1.5-1.4 1.5-.1 1.5 .7 1.5 1.9 1.5 7.5 1.5-3.3 1.5 3.5 1.5-4.5 1.5-1.4" stroke="#f59a9a" stroke-width="1.05" fill="none" stroke-linejoin="round"/>
<path d="M133 852.8l1.5 2.4 1.5-1.4 1.5 2.5 1.5-5.9 1.5-.9 1.5-1.1 1.5 2.5 1.5-1 1.5-7.5 1.5 5.3 1.5-4 1.5 3.3 1.5-5.6 1.5-3.4 1.5 3.1 1.5-8.5 1.5 1.3 1.5 .4 1.5 1.1 1.5 4.3 1.5 .3 1.5-4.2 1.5 4 1.5 2.2 1.5-3.9 1.5 2.9 1.5 1.1 1.5 3.6 1.5-1.1 1.5 1.3 1.5 3 1.5-1.2 1.5 .4 1.5-.8 1.5 .4 1.5 1.1 1.5-1.1 1.5-.6 1.5 1.1 1.5-.3 1.5-1.1 1.5-4.1 1.5 1.8 1.5-3.8 1.5 5.9 1.5-4.3 1.5 7.1 1.5-3.7 1.5-4.5 1.5 7.6 1.5 2.7 1.5-3.3 1.5 1.9 1.5-.5 1.5 1.1 1.5 .3 1.5-4.2 1.5 3.2 1.5 7 1.5-4.3 1.5-2.9 1.5-3.7 1.5 8.1 1.5-3.4 1.5 4.2 1.5-2.9 1.5 1.5 1.5-6.1 1.5-.7 1.5 7.4 1.5-7.7 1.5 .1 1.5 1.1 1.5-5.5 1.5-2 1.5 3.9 1.5-.4 1.5 4.4 1.5-1.3 1.5 3.3 1.5-6 1.5 3.1 1.5-1.3 1.5 3 1.5-.6 1.5 2.1 1.5 0 1.5 1 1.5-3.4 1.5-2.5 1.5 8 1.5 .9 1.5-2.2 1.5-4 1.5-3.4 1.5 4.7 1.5 2 1.5-3.9 1.5 3.9 1.5-2.8 1.5-4.7 1.5 2.8 1.5 2.4 1.5-3.1 1.5 3.7 1.5-2.3 1.5 3.1 1.5-3.3 1.5-.9 1.5 1.5 1.5 .7 1.5-1.2 1.5-2.6 1.5 1.1 1.5-1.3 1.5 .8 1.5-.2 1.5 5.5 1.5 4.8 1.5-8.8 1.5 5 1.5-1.6 1.5-5.9 1.5 2.2 1.5-2.8 1.5 2.7 1.5 1 1.5 .7 1.5-.1 1.5-4.2 1.5 5.2 1.5-4.2 1.5 3.8 1.5-3.5 1.5-4.2 1.5 1.6 1.5 6.6 1.5-1.2 1.5 4.2 1.5-8.2 1.5 6.3 1.5-3 1.5-1.4 1.5 6.4 1.5-.4 1.5-4.4 1.5-1 1.5 2.2 1.5-1.4 1.5 2.5 1.5-5.4 1.5 4.2 1.5-.9 1.5-4.2 1.5 0 1.5 1.9 1.5 2.9 1.5-3.1 1.5 3.8 1.5-8.1 1.5 1.4 1.5 .4 1.5 3.4 1.5-1 1.5-1 1.5-.5 1.5 0 1.5-3.7 1.5-1.6 1.5 4.5 1.5 .7 1.5-2.5 1.5 2 1.5-5.2 1.5 8.9 1.5-1.2 1.5 .5 1.5-3.1 1.5 11.8 1.5-4.4 1.5 .3 1.5-4.5 1.5 2 1.5-.5 1.5-5.2 1.5 3.1 1.5-1.1 1.5-2.2 1.5-2.5 1.5 3.5 1.5-3.7 1.5 .4 1.5-2.9 1.5-.2 1.5 3.2 1.5 3.9 1.5-8.5 1.5 3.8 1.5 4.1 1.5 1.9 1.5 .3 1.5 0 1.5 3 1.5-1.5 1.5-.5 1.5 2.5 1.5-4.4 1.5-2.1 1.5-7 1.5 7.1 1.5-1.7 1.5-1.1 1.5 1.1 1.5-.5 1.5 6.1 1.5-5.4 1.5 1.6 1.5-2.3 1.5 2.1 1.5-5.1 1.5 4.2 1.5-.8 1.5 .6 1.5-2.1 1.5 3 1.5 4.3 1.5-2.4 1.5-3 1.5 4.3 1.5-5 1.5 10.6 1.5-6.8 1.5-2.7 1.5 4.3 1.5-4.9 1.5 1.1 1.5 2.5 1.5-6.2 1.5 1.3 1.5-2 1.5-1.8 1.5-.7 1.5 2 1.5 3 1.5-1.8 1.5-3.5 1.5 1.2 1.5-1.5 1.5 5.3 1.5-.3 1.5-5.7 1.5 11.6 1.5-4.3 1.5-1.4 1.5 0 1.5-1.6 1.5 1.9 1.5-2.5 1.5 3.3 1.5-6.9 1.5 4.2 1.5-.7 1.5 2.6 1.5 5 1.5 3.6 1.5-9.3 1.5 8.3 1.5-5.1 1.5-2 1.5-.1 1.5 3.1 1.5 1.3 1.5 .4 1.5-1.6 1.5-5.2 1.5-4.4 1.5 4.1 1.5 1.4 1.5-.3 1.5-2.2 1.5-1 1.5-2.9 1.5 5.6 1.5 3.3 1.5-.4 1.5-3.9 1.5 2.3 1.5 1.4 1.5-5.8 1.5 4.5 1.5 1.9 1.5-7.4 1.5 1.4 1.5 .6 1.5-2.8 1.5-.2 1.5-3.5 1.5 2.6 1.5 2.1 1.5-1.5 1.5-3.5 1.5 1.7 1.5 9.1 1.5-9 1.5 .1 1.5 8.1 1.5-.1 1.5 .5 1.5-.5 1.5-4 1.5 8.2 1.5-4.2 1.5 2.1 1.5 2.7 1.5-.8 1.5-.1 1.5 .7 1.5 4.1 1.5-2.1 1.5-3.7 1.5 .5 1.5 1.1 1.5-2.8 1.5 4.5 1.5-2.1 1.5 1 1.5 1.1 1.5 2.2 1.5 1.2 1.5-6.9 1.5-.2 1.5 2.8 1.5-2.9 1.5 3.8 1.5-2.4 1.5 4.8 1.5-6.1 1.5 3.4 1.5-3.2 1.5 4.6 1.5-2.1 1.5-3.1 1.5 4.6 1.5-4.3 1.5 1.2 1.5-2.8 1.5 3.1 1.5-3.8 1.5-.1 1.5 0 1.5 .6 1.5 1.7 1.5-.8 1.5 1.9 1.5 1.6 1.5 4.8 1.5-9 1.5 .6 1.5 3 1.5-1.2 1.5 1.3 1.5-2.3 1.5-2.2 1.5 3.7 1.5-5.7 1.5 3.2 1.5 .9 1.5 2.1 1.5-.9 1.5-.1 1.5-5.6 1.5 8.1 1.5-4.2 1.5 2.9 1.5-3.4 1.5 6 1.5 .5 1.5-.2 1.5-3.2 1.5-.1 1.5 6 1.5 1.2 1.5-4.6 1.5-2.4 1.5-1.6 1.5 2.1 1.5-2.1 1.5 .3 1.5 1.8 1.5-2.4 1.5 1.3 1.5-1.4 1.5 1.7 1.5-3 1.5 1.7 1.5 3.3 1.5-3.9 1.5 1 1.5-.3 1.5 1.7 1.5-3 1.5 1.4 1.5 5.1 1.5 .1 1.5-2.1 1.5 0 1.5 .6 1.5 2.1 1.5-3.1 1.5 2 1.5 2.7 1.5-3.3 1.5 2.7 1.5 0 1.5-2.7 1.5-3.5 1.5 3.9 1.5-6.8 1.5 4.5 1.5-.1 1.5-5.4 1.5-.2 1.5 1.9 1.5 5.4 1.5-3.2 1.5-.9 1.5 2.7 1.5-.1 1.5-3 1.5 4 1.5 .7 1.5-5.3 1.5-1.8 1.5-1 1.5 4.2 1.5 1.9 1.5-.1 1.5 4.5 1.5-2.2 1.5 .2 1.5 4.7 1.5-1.9 1.5-6.7 1.5 4.9 1.5-1.9 1.5 5.1 1.5-5.4 1.5 .6 1.5-.3 1.5-.6 1.5-1.1 1.5 3.6" stroke="#f59a9a" stroke-width="1.05" fill="none" stroke-linejoin="round"/>
<path d="M133 847.2l1.5-6.5 1.5-.1 1.5 1.6 1.5 2.5 1.5-1.2 1.5 1.4 1.5-2.7 1.5-.2 1.5-4.4 1.5 4.2 1.5-2 1.5-1 1.5 3.2 1.5-11.5 1.5 9 1.5-.4 1.5 1.3 1.5 .5 1.5 4.7 1.5-6.8 1.5 1.5 1.5 3.4 1.5 3.7 1.5-1 1.5-3.5 1.5-.9 1.5 1 1.5 6.9 1.5 .4 1.5-3.5 1.5 4.1 1.5-6.4 1.5-2.6 1.5-.4 1.5 5.2 1.5-3 1.5-1.1 1.5 2.5 1.5-1.4 1.5 1.1 1.5-2.3 1.5 2.9 1.5 4.1 1.5-7.7 1.5 5.6 1.5 0 1.5-1.8 1.5 6.6 1.5-5.1 1.5-5.6 1.5-1.1 1.5 2.8 1.5 1.1 1.5 .3 1.5-1.7 1.5-1.4 1.5 1.2 1.5 4.9 1.5-4 1.5-4.2 1.5 6.3 1.5 .5 1.5-6.6 1.5 .4 1.5-.7 1.5-3.8 1.5 3.1 1.5 .9 1.5 .7 1.5 3.6 1.5-2.5 1.5-4.4 1.5-.4 1.5 7.3 1.5-1.4 1.5-5.5 1.5 1.6 1.5 .3 1.5-3.5 1.5-1 1.5 5.8 1.5 1.2 1.5 1.8 1.5-8.2 1.5 4.7 1.5-.6 1.5-1.1 1.5 3.6 1.5 4.7 1.5-7.2 1.5 .6 1.5-.9 1.5 1.9 1.5 .7 1.5 2.2 1.5-2.4 1.5 .5 1.5 1.9 1.5-.7 1.5-.1 1.5 3.9 1.5-4.2 1.5 .5 1.5 2.8 1.5-1.7 1.5-7.7 1.5 5.1 1.5-8.3 1.5 7 1.5 1.1 1.5-1 1.5 3 1.5 2.9 1.5 2 1.5-.1 1.5-5.6 1.5 7.3 1.5-11.5 1.5 3.8 1.5 2.7 1.5-4.7 1.5 1.9 1.5 .3 1.5-3.3 1.5 2.7 1.5 5.3 1.5-2.7 1.5 5.4 1.5-5.3 1.5 5.4 1.5 .2 1.5-4.5 1.5 2.4 1.5 2.7 1.5 .4 1.5-1 1.5-5.7 1.5 6.4 1.5-.7 1.5-2.4 1.5 .6 1.5-5.2 1.5 .5 1.5-1.7 1.5 4.8 1.5 0 1.5 .1 1.5-4.8 1.5 2.7 1.5 3 1.5-2 1.5-4.8 1.5 1.8 1.5-2.2 1.5 4.1 1.5-2 1.5-2 1.5 3.3 1.5-.4 1.5-1.8 1.5 1.6 1.5-2 1.5 2.4 1.5-1.1 1.5-.2 1.5 1.2 1.5-1.9 1.5-.5 1.5 2.6 1.5-1.4 1.5-1.5 1.5-1.6 1.5-6.8 1.5 2 1.5 3.1 1.5 1.9 1.5-4.9 1.5 4.4 1.5 3.9 1.5 4.7 1.5-7.1 1.5-1.8 1.5-1.2 1.5 2.2 1.5 1.7 1.5 4 1.5-2.3 1.5 1.2 1.5-5.3 1.5 8.3 1.5-1.6 1.5-2.9 1.5 2.5 1.5-2.8 1.5-1.4 1.5-2.2 1.5-3 1.5 .2 1.5-.7 1.5 4.3 1.5-9.2 1.5 9 1.5-.9 1.5-1.8 1.5 3.9 1.5-1.5 1.5 .4 1.5 .6 1.5 2 1.5-3 1.5 .8 1.5-3.5 1.5 4.6 1.5 1.2 1.5 5.5 1.5-1.9 1.5 3.1 1.5-3.1 1.5-1.3 1.5 2.9 1.5-5.3 1.5 3.2 1.5 .8 1.5-3.2 1.5 3.7 1.5 1.3 1.5-.8 1.5-5.3 1.5 3.1 1.5-.6 1.5-3.3 1.5 3 1.5 3.8 1.5-5.1 1.5-.2 1.5 .5 1.5 5.6 1.5 1.3 1.5-3.9 1.5-1.3 1.5-.5 1.5-1.8 1.5-1.5 1.5 4.1 1.5-1.7 1.5-2.5 1.5-4 1.5-.6 1.5-2.6 1.5 5.5 1.5 3.3 1.5-2 1.5 .8 1.5-1.1 1.5 6.9 1.5-.5 1.5-2.5 1.5-1.6 1.5 1 1.5 .1 1.5 3.8 1.5 .1 1.5-3.2 1.5-1.1 1.5 .8 1.5-4 1.5 5.2 1.5-3 1.5-.6 1.5-.2 1.5 2.9 1.5-3.8 1.5 4.7 1.5 .7 1.5-3.1 1.5 7.4 1.5-6.3 1.5 1.7 1.5-3.4 1.5 2 1.5 2 1.5-.9 1.5-6.6 1.5 3.4 1.5 .6 1.5 2.1 1.5-.2 1.5 4.8 1.5-8 1.5 4.9 1.5 1.5 1.5-.2 1.5-1.6 1.5 .6 1.5 3 1.5-2 1.5-2.3 1.5-1.2 1.5 1.1 1.5 8.1 1.5-4 1.5-.7 1.5-1.9 1.5-.6 1.5-4 1.5-.6 1.5 4.3 1.5-5.9 1.5 4.6 1.5 .6 1.5 3.6 1.5-8 1.5 .2 1.5 1.3 1.5-1 1.5 4.2 1.5-1.7 1.5 3.7 1.5-.4 1.5 1.1 1.5-2 1.5 5.6 1.5-8.8 1.5-6 1.5 1.9 1.5 2.2 1.5-4.1 1.5 0 1.5 6.8 1.5-.6 1.5-2.1 1.5 2.9 1.5 2.9 1.5-2 1.5 3.8 1.5-5.9 1.5 3.7 1.5-7.1 1.5 5.9 1.5-.1 1.5 1.9 1.5-5.8 1.5 3.1 1.5 1.1 1.5-5 1.5 6 1.5-2.7 1.5 2.5 1.5-3.3 1.5 3.6 1.5-5.7 1.5 3.9 1.5-3.2 1.5 .7 1.5-.8 1.5 .8 1.5 3.2 1.5-4.5 1.5-2.9 1.5 8.7 1.5-.6 1.5-5.3 1.5-3 1.5 1.3 1.5 4.3 1.5-.7 1.5-2.2 1.5 3.2 1.5 3.6 1.5-.9 1.5-.1 1.5 3.6 1.5-2.5 1.5 .3 1.5-5.9 1.5-3 1.5 1.1 1.5-2.4 1.5 2.4 1.5-2.1 1.5-2.7 1.5 7.2 1.5-3.2 1.5-3.8 1.5 4.9 1.5 5.3 1.5-4 1.5-1.9 1.5 .1 1.5 3.2 1.5-7.6 1.5 .1 1.5 6.1 1.5-1.6 1.5 .1 1.5 4.4 1.5 .9 1.5-4.3 1.5-.8 1.5 2 1.5-1.8 1.5 2.5 1.5-.5 1.5-4.2 1.5 1.9 1.5-3.7 1.5 6.8 1.5-6.1 1.5 2.8 1.5-.1 1.5-3.6 1.5 7.6 1.5-3.4 1.5 .4 1.5 .3 1.5-.2 1.5-3.9 1.5 4.5 1.5 6.7 1.5-4.2 1.5 2.2 1.5-2.8 1.5 5 1.5-7 1.5-.8 1.5 3.8 1.5 1.3 1.5-7.2 1.5 4.4 1.5 .2 1.5 5.5 1.5-.3 1.5-1.6 1.5 4.2 1.5-3 1.5-3.1 1.5 0 1.5-1.4 1.5-1.3 1.5-.2 1.5 3.5 1.5-3.6 1.5 5.6 1.5 .4 1.5-6.3 1.5 7.5 1.5 .6 1.5 3.9 1.5-4.2 1.5-3.7 1.5 .8 1.5 .5" stroke="#f59a9a" stroke-width="1.05" fill="none" stroke-linejoin="round"/>
<path d="M133 848l1.5 2.9 1.5-1.3 1.5 1.4 1.5-9.1 1.5 6.1 1.5-3.5 1.5-1.4 1.5 .3 1.5-1.4 1.5 3.7 1.5-.7 1.5 2.7 1.5-3.5 1.5 1.6 1.5-1.8 1.5-1.9 1.5 2.6 1.5-2 1.5 3.9 1.5 1 1.5-.5 1.5-.1 1.5-.2 1.5 3 1.5 1.1 1.5-2.9 1.5 2.5 1.5-1.7 1.5 1.7 1.5-3.9 1.5-3.8 1.5 6.2 1.5-2.6 1.5 1.8 1.5-3.5 1.5 .5 1.5 .1 1.5-2.3 1.5-1.2 1.5-2.8 1.5-3.3 1.5 1.5 1.5 1.6 1.5 2.3 1.5 2 1.5 .4 1.5 .6 1.5-2.9 1.5 2.9 1.5 1.4 1.5 1.7 1.5-2.9 1.5 1.2 1.5-.6 1.5-4.8 1.5 5.9 1.5-.6 1.5-1.3 1.5-.5 1.5-1.9 1.5 1.4 1.5-6.1 1.5 9.6 1.5-1.7 1.5-.3 1.5 .3 1.5-4.6 1.5 3.1 1.5 5.9 1.5-4.6 1.5 5.4 1.5-6.2 1.5 6.7 1.5-.7 1.5 4.2 1.5-1.8 1.5 2.4 1.5-3 1.5 2.3 1.5-4.6 1.5 1.6 1.5-3.2 1.5 4.6 1.5-1 1.5 5.2 1.5-3.1 1.5-7 1.5 3 1.5-.2 1.5-1.2 1.5 0 1.5 3.5 1.5 1 1.5-1.1 1.5-.7 1.5 .3 1.5 3.7 1.5-.4 1.5 1.5 1.5-4.2 1.5 2.3 1.5-3.6 1.5 4.2 1.5-.9 1.5 .7 1.5-1.4 1.5 5.4 1.5-3.5 1.5-4.1 1.5 4.2 1.5 3.2 1.5-1 1.5-9 1.5-.6 1.5 5 1.5 2.7 1.5-.7 1.5-5.2 1.5 5.1 1.5-7.3 1.5 2.3 1.5 3.8 1.5 .4 1.5 2.8 1.5-2.3 1.5-1.3 1.5 4.1 1.5-3.3 1.5-3.2 1.5-.8 1.5 .4 1.5 2 1.5 5.4 1.5-7.7 1.5 .9 1.5-.6 1.5-4.9 1.5 7 1.5-1.6 1.5-5.3 1.5 5.8 1.5-7.7 1.5 10.5 1.5-6.9 1.5-1.1 1.5 4.9 1.5 1.3 1.5-2.1 1.5-.3 1.5-2 1.5-.2 1.5 1.1 1.5 5.6 1.5-5.5 1.5 2.7 1.5-3.2 1.5-4.3 1.5 10.3 1.5 .4 1.5-4.7 1.5 .2 1.5 1.7 1.5 .4 1.5-1.5 1.5 1.7 1.5-1.9 1.5 .1 1.5-4.1 1.5 5 1.5 5.1 1.5-6.7 1.5 0 1.5-1.8 1.5 1.3 1.5 .4 1.5-1.1 1.5-.8 1.5-4.2 1.5 7.1 1.5-7.7 1.5 2 1.5-3 1.5-.4 1.5 3 1.5-7.5 1.5 .7 1.5 1.7 1.5-2.1 1.5 5.4 1.5-1.4 1.5 5.5 1.5-6.1 1.5 2.6 1.5-3.1 1.5 6.6 1.5 1.5 1.5-3.5 1.5-5.4 1.5 3.3 1.5 2.7 1.5-2.4 1.5 .5 1.5 .6 1.5 1.9 1.5-.8 1.5-7 1.5 3.3 1.5-6 1.5-3.2 1.5 .6 1.5 4.4 1.5-5.3 1.5-2.7 1.5 4.7 1.5-2.2 1.5 1.4 1.5 2.1 1.5 3.3 1.5 1.2 1.5-.5 1.5-.4 1.5 3.4 1.5-1.7 1.5-4.7 1.5 5.3 1.5-5 1.5 0 1.5 3.8 1.5-2 1.5 1.9 1.5-2.9 1.5 7.8 1.5-3.5 1.5 .8 1.5-1.4 1.5-3 1.5-4.7 1.5 1.6 1.5-.4 1.5-1.9 1.5-2.6 1.5 1.6 1.5 2.1 1.5-3.3 1.5 3.9 1.5 2.1 1.5 3.8 1.5-4.3 1.5-.5 1.5 1.7 1.5-3.9 1.5 2.5 1.5 1.6 1.5 1 1.5 1.5 1.5 1.8 1.5-6.5 1.5-.1 1.5 4 1.5 1.6 1.5-2.7 1.5-.2 1.5-2.5 1.5-3 1.5-.2 1.5 6 1.5-4.2 1.5 1.6 1.5-1 1.5-.9 1.5 .2 1.5 4.2 1.5 2.8 1.5 2.6 1.5-4.5 1.5 1.2 1.5 1.8 1.5-4.6 1.5-.8 1.5 1.1 1.5 1.4 1.5-1.8 1.5-1.5 1.5-3.4 1.5 .9 1.5-2.7 1.5 3.7 1.5-1.2 1.5 3.2 1.5 1.6 1.5-2.5 1.5 6.1 1.5 2.5 1.5-6.2 1.5-1.8 1.5 0 1.5-2.3 1.5 1.2 1.5-2.3 1.5 1.9 1.5-4.6 1.5-6.1 1.5 5.5 1.5-4.2 1.5-4.1 1.5 5.6 1.5 .8 1.5 3.1 1.5-.9 1.5 1.4 1.5 2.8 1.5 5.8 1.5-4.7 1.5-7.2 1.5 9.4 1.5 4.1 1.5-1.7 1.5 6.1 1.5-4.5 1.5-5.2 1.5 1.7 1.5 .6 1.5-1.7 1.5-2.7 1.5 1.1 1.5-.4 1.5 5 1.5 3.5 1.5-.1 1.5-6.6 1.5 2.5 1.5 .5 1.5-3.5 1.5-2.4 1.5-2.5 1.5 1.6 1.5-1.5 1.5-.1 1.5-4 1.5-1.9 1.5 3.8 1.5-.5 1.5 2.4 1.5 2.5 1.5 1.4 1.5-1.4 1.5-.5 1.5 6.5 1.5-2 1.5 0 1.5 .8 1.5 0 1.5 11.1 1.5-7.3 1.5-3.7 1.5-5.8 1.5 9.8 1.5-5.3 1.5 3.6 1.5-3.1 1.5-6.9 1.5 2.6 1.5 1.7 1.5-.3 1.5-.9 1.5 .2 1.5 5.3 1.5-2.2 1.5 1.4 1.5-1.3 1.5-1.1 1.5-4.7 1.5-2.7 1.5 2.5 1.5 0 1.5-.1 1.5 3.5 1.5 1.3 1.5-7.7 1.5 .8 1.5 1.9 1.5 4.7 1.5-3.1 1.5 1.4 1.5 2.9 1.5 3.7 1.5-3.9 1.5-2.9 1.5 .9 1.5 6.9 1.5-5.5 1.5 2.1 1.5-7 1.5-2.1 1.5 5 1.5 0 1.5-1.1 1.5-.3 1.5 2.5 1.5 3.9 1.5 1 1.5-3.1 1.5 1 1.5-2.3 1.5-7.2 1.5 4.2 1.5-1.1 1.5 2.5 1.5-9.4 1.5 8.8 1.5-6.6 1.5 5.9 1.5-5.2 1.5 .9 1.5 3.7 1.5-1.8 1.5 7 1.5-.4 1.5 5.3 1.5-1.6 1.5-4.3 1.5 3.5 1.5 3.2 1.5-1.9 1.5-1.8 1.5 1 1.5-6.9 1.5-1.5 1.5 2.3 1.5 .7 1.5 2.3 1.5 2.9 1.5-2.7 1.5-3.6 1.5 3.7 1.5 3.3 1.5-1.3 1.5 2.4 1.5-2.1 1.5-1.2 1.5-1.6 1.5-4.1 1.5 4.9 1.5 1.7 1.5-7.4 1.5 6.4 1.5-.9 1.5-1.8 1.5 4.5 1.5-.2 1.5-5.9 1.5 3.4" stroke="#f59a9a" stroke-width="1.05" fill="none" stroke-linejoin="round"/>
<path d="M133 854l1.5 2.3 1.5-1.8 1.5 2.4 1.5-9.9 1.5 2.9 1.5 .6 1.5-1.6 1.5-.5 1.5-4.4 1.5 6.3 1.5-4.4 1.5 4.3 1.5 4.4 1.5-.9 1.5-.3 1.5-1.9 1.5-3.6 1.5-.9 1.5 2.2 1.5-5.8 1.5 4.1 1.5-1.1 1.5-1.6 1.5 1.6 1.5-1.8 1.5 .4 1.5 .9 1.5 3.2 1.5-4.3 1.5 10.3 1.5-3.1 1.5-.7 1.5 2.7 1.5 .1 1.5-1.2 1.5 .2 1.5-2.3 1.5 1.7 1.5-4.4 1.5 2.3 1.5 .2 1.5 1.7 1.5 .9 1.5-1.2 1.5 1.7 1.5-6.5 1.5 2.8 1.5-3.2 1.5 0 1.5 4.6 1.5 1.1 1.5-2 1.5-1.6 1.5 .7 1.5 .6 1.5 1.6 1.5-5.6 1.5 1.4 1.5-3.1 1.5 4.9 1.5 .9 1.5 2.7 1.5-7 1.5 .4 1.5-3.9 1.5-.1 1.5 1 1.5-1.4 1.5-3.5 1.5-4.9 1.5 8.2 1.5-.5 1.5 1 1.5 1.8 1.5-2.9 1.5 1.3 1.5-.8 1.5-1.5 1.5-4.8 1.5 6.3 1.5-1.7 1.5-4.1 1.5 2.2 1.5 5.3 1.5 .3 1.5-.2 1.5 2.5 1.5-.7 1.5 3.2 1.5 4.1 1.5-8.7 1.5 2.2 1.5-1.6 1.5-2.7 1.5 4.5 1.5-.5 1.5 2.1 1.5-.3 1.5-6.9 1.5 .8 1.5 6.9 1.5 2.3 1.5-2.8 1.5-2.5 1.5-3 1.5 3.9 1.5 2.7 1.5-.4 1.5-5.1 1.5-.2 1.5 2 1.5 1.8 1.5-.4 1.5-1.2 1.5 0 1.5-1.2 1.5 .4 1.5-.2 1.5 1.2 1.5-3.5 1.5-5.3 1.5 6.9 1.5-4.7 1.5 2.1 1.5-.3 1.5-2.4 1.5-.9 1.5-2.4 1.5 1.3 1.5 2 1.5 9.3 1.5-3 1.5 .9 1.5 .1 1.5-.3 1.5-6.6 1.5-3.6 1.5 3.9 1.5 .6 1.5-1.1 1.5-1 1.5 3.7 1.5 4.2 1.5-3.2 1.5-.2 1.5-2.7 1.5 3.4 1.5 .2 1.5 0 1.5-3 1.5 2.5 1.5-6.2 1.5-.7 1.5 4.8 1.5 .3 1.5 1.5 1.5-3.1 1.5 1.6 1.5 6.5 1.5-3.5 1.5-.7 1.5-.2 1.5 1.9 1.5 2.3 1.5-5.6 1.5-1.2 1.5 3.8 1.5 .9 1.5-6.1 1.5 5.2 1.5-.6 1.5 2.4 1.5 0 1.5-3.4 1.5 .9 1.5-1 1.5 .6 1.5 6.3 1.5-.6 1.5 .8 1.5-8.4 1.5 .6 1.5 1.4 1.5-4.5 1.5 3.1 1.5-2.3 1.5 .3 1.5 2.3 1.5 1.4 1.5-.8 1.5 .1 1.5-3.3 1.5-2.3 1.5 .6 1.5-1.2 1.5 1.7 1.5-2.6 1.5-3.7 1.5 7.4 1.5 8.6 1.5-3.3 1.5-5.6 1.5 .2 1.5 2.1 1.5 1.1 1.5 .3 1.5-2.5 1.5 .3 1.5-3.9 1.5-2.1 1.5 8.5 1.5-1 1.5 1.9 1.5-.8 1.5 3 1.5 .8 1.5-7.5 1.5 2.7 1.5-1.3 1.5 .2 1.5-3.6 1.5 2.3 1.5-3.4 1.5 4.3 1.5 1.1 1.5-3.1 1.5 4.7 1.5 1.8 1.5-2.2 1.5 8.3 1.5-9.5 1.5 1.5 1.5 .8 1.5 0 1.5 1.5 1.5-2.1 1.5 7.8 1.5-11.3 1.5 2.8 1.5 6 1.5-5.4 1.5 2.5 1.5 .3 1.5-3.2 1.5 5.5 1.5-3.4 1.5 4.5 1.5-11 1.5 6.9 1.5-.7 1.5-1.5 1.5-3.7 1.5-1.4 1.5 5.3 1.5 1.6 1.5 1.3 1.5-6.4 1.5-2.2 1.5 5.7 1.5-2.9 1.5-6.5 1.5 5.9 1.5 1 1.5-1.7 1.5 .5 1.5-4.7 1.5 2 1.5 1.2 1.5-1.5 1.5 13.2 1.5-8.8 1.5 3 1.5-.6 1.5-2.7 1.5-.7 1.5-1.7 1.5 2.3 1.5-4.6 1.5-.6 1.5 .5 1.5 6.2 1.5 3.3 1.5-1.8 1.5-5.6 1.5-.5 1.5-.1 1.5 1.9 1.5-2.7 1.5 5.9 1.5-3.1 1.5-3.6 1.5 .3 1.5 5 1.5 2 1.5-7 1.5 4.7 1.5 3.2 1.5-.7 1.5 3.1 1.5-5.8 1.5-.6 1.5 4 1.5 2.9 1.5-4.4 1.5 6.9 1.5-5.8 1.5 .3 1.5-1.7 1.5 3.1 1.5 1.8 1.5-6.7 1.5 3.3 1.5 4.3 1.5-2.7 1.5-.9 1.5 .5 1.5 7.1 1.5-5.9 1.5-4 1.5-7.3 1.5 7.7 1.5-2.6 1.5 .4 1.5 1.5 1.5-1 1.5-4.1 1.5 .8 1.5 2.7 1.5-1.1 1.5-8.1 1.5 7 1.5-6.8 1.5 1.9 1.5-4.4 1.5 3.5 1.5 3.4 1.5 .6 1.5 1 1.5 2.3 1.5-1.5 1.5 .6 1.5 .5 1.5 7 1.5-1 1.5-1.9 1.5 4.1 1.5-2.8 1.5 .4 1.5 1 1.5-1 1.5 2.7 1.5 .9 1.5-4.9 1.5-.8 1.5-2.7 1.5 2 1.5-3.1 1.5 1.5 1.5 1.1 1.5 2.2 1.5-5.1 1.5-.3 1.5 .4 1.5-5.7 1.5 4.3 1.5-4.7 1.5-2.6 1.5 4 1.5-.3 1.5-.1 1.5 4.7 1.5 .5 1.5 1.5 1.5-2.1 1.5 3.4 1.5 .5 1.5 1.3 1.5-3.4 1.5 2.8 1.5-.6 1.5 .1 1.5 .3 1.5 1.1 1.5 2.6 1.5 .5 1.5-1.2 1.5 1.8 1.5-3 1.5 .9 1.5-5.7 1.5-.1 1.5 0 1.5 .7 1.5 4.2 1.5-8 1.5 1.9 1.5 .6 1.5-1.5 1.5-5.8 1.5 2.3 1.5 2.6 1.5-3.7 1.5 2.9 1.5-1.5 1.5 .2 1.5 .8 1.5 4.6 1.5-1 1.5 1.4 1.5 3.1 1.5-3.9 1.5-1.5 1.5 4.8 1.5-2.3 1.5 3.7 1.5 .4 1.5-2.6 1.5-3.6 1.5-.3 1.5-.4 1.5 .9 1.5-2 1.5-1.1 1.5-.5 1.5-2.9 1.5 0 1.5-.4 1.5-.6 1.5-.1 1.5 2.8 1.5-.9 1.5-4.7 1.5 7.4 1.5-1.7 1.5 4.7 1.5 2.5 1.5-6.4 1.5 .8 1.5-2.6 1.5-1.9 1.5 1.2 1.5 5.6 1.5-2.8 1.5-1.3 1.5 9.2 1.5-5.2 1.5 3.3 1.5-3.2 1.5-5.3 1.5 2.8 1.5 2.1 1.5 3.6" stroke="#f59a9a" stroke-width="1.05" fill="none" stroke-linejoin="round"/>
<path d="M133 843.8l1.5 3.4 1.5 2.1 1.5-2.9 1.5 3.5 1.5 5.4 1.5-3.5 1.5 5 1.5-1.6 1.5 1 1.5 9.1 1.5-2.9 1.5 3.6 1.5-1.8 1.5-3.4 1.5-1.8 1.5-.3 1.5 3 1.5-1 1.5-4.6 1.5 1.6 1.5 5.9 1.5-8 1.5 3.1 1.5 0 1.5-4.6 1.5 4.4 1.5-5.2 1.5-5.7 1.5 3.4 1.5-.6 1.5-1.7 1.5 3.4 1.5 1.4 1.5-1.9 1.5 .6 1.5-.2 1.5-1 1.5 7.4 1.5 4.2 1.5-4.9 1.5 7.7 1.5-4.1 1.5-1 1.5-3 1.5 2.4 1.5-.4 1.5 1.3 1.5-3.9 1.5 3.2 1.5-3.6 1.5-3.3 1.5 .6 1.5 1.4 1.5 1 1.5 .1 1.5 3.1 1.5-3.7 1.5 2.8 1.5-1.8 1.5 .3 1.5 3.9 1.5-4.8 1.5 4.2 1.5 .6 1.5-.6 1.5-1.4 1.5 2.8 1.5 2.8 1.5-3.2 1.5 1.7 1.5 1.3 1.5 4.1 1.5-.2 1.5-3.4 1.5-3.8 1.5-1.2 1.5-1.9 1.5 1.9 1.5-5.6 1.5 1.8 1.5-4.2 1.5 4.3 1.5-1.2 1.5 1.1 1.5-1.3 1.5 7.5 1.5-11.5 1.5 7.2 1.5-1.5 1.5 5.1 1.5-3.9 1.5 .4 1.5 .9 1.5-1.6 1.5 2 1.5-2.1 1.5 1 1.5 .4 1.5-4.6 1.5-3.4 1.5 3.1 1.5 5.4 1.5-6.7 1.5 3.7 1.5 .3 1.5-2.7 1.5 5.1 1.5-5.3 1.5 2 1.5-2.6 1.5 .3 1.5 9 1.5-2.6 1.5 2.8 1.5 1.1 1.5-4.9 1.5 6.2 1.5-2.3 1.5 2.6 1.5-.3 1.5-4.1 1.5 1.5 1.5 2 1.5-7 1.5-.4 1.5-5.7 1.5 1.8 1.5-4.3 1.5 4.1 1.5-3.8 1.5 3.3 1.5 3.6 1.5-1.2 1.5 4.4 1.5 1.6 1.5-.2 1.5-4.6 1.5 3.9 1.5-2.5 1.5-7.4 1.5 5.6 1.5 3.8 1.5 .5 1.5-2.5 1.5-1.8 1.5 8.2 1.5-5.4 1.5-1.1 1.5-2.3 1.5 3 1.5-6.2 1.5 1.4 1.5-.6 1.5 .8 1.5 .7 1.5 1.6 1.5 4.7 1.5-5.3 1.5-4.4 1.5 1.5 1.5 2.3 1.5 3.5 1.5-2.1 1.5-1.5 1.5-1.7 1.5 1.3 1.5 4.1 1.5-.7 1.5 2 1.5-3.5 1.5 1.2 1.5-.3 1.5-1.9 1.5 3.2 1.5 .8 1.5 7.3 1.5-5 1.5 2.7 1.5-1.5 1.5-3 1.5 0 1.5-4.6 1.5-.6 1.5-.1 1.5-.1 1.5-4.6 1.5 7.6 1.5-.5 1.5-3.2 1.5 1.2 1.5 5 1.5-3.4 1.5 4.2 1.5-4.6 1.5-1.2 1.5-4.5 1.5 1.7 1.5 .6 1.5-5.8 1.5-2.7 1.5 2.2 1.5 2.9 1.5-.9 1.5 5.4 1.5 2.2 1.5-4.5 1.5-3.8 1.5 3 1.5 3.3 1.5-3.2 1.5-1.2 1.5-2.9 1.5-.2 1.5-1.4 1.5 6.4 1.5-5 1.5 5 1.5-1.7 1.5 6.1 1.5-1.1 1.5-1.4 1.5-3.6 1.5 4.9 1.5 1.1 1.5-3 1.5-.6 1.5-1.7 1.5-1.7 1.5-.3 1.5-.2 1.5-4.6 1.5 8.7 1.5 .6 1.5-1.9 1.5-3 1.5 1.2 1.5 3.9 1.5-2.6 1.5 1.4 1.5-3.4 1.5-1.6 1.5-3 1.5-2.9 1.5 3.1 1.5 5.9 1.5-2.9 1.5 .9 1.5 .3 1.5 2.2 1.5-1.3 1.5-3.4 1.5-1 1.5-2.2 1.5 .5 1.5 4.9 1.5-2.4 1.5-2.6 1.5 1.8 1.5 2.1 1.5-2.7 1.5-1 1.5-1.7 1.5 .3 1.5 5.5 1.5-7.4 1.5 1.7 1.5 2.2 1.5 .1 1.5-.4 1.5 4.4 1.5-2.6 1.5-5 1.5 2 1.5 2.6 1.5 4.5 1.5 .3 1.5-3.1 1.5-3.4 1.5 3.6 1.5-1 1.5 5.8 1.5-3.4 1.5 .6 1.5 .5 1.5 1.7 1.5 5.3 1.5-8.2 1.5 2.1 1.5-2.6 1.5 0 1.5-2.2 1.5 1.5 1.5 2.3 1.5-4.7 1.5-1.7 1.5 2.2 1.5-1.7 1.5 7.6 1.5-.4 1.5-3.7 1.5-3.3 1.5-3.2 1.5 6.8 1.5-2.5 1.5-2.5 1.5 5.8 1.5-.2 1.5-1.7 1.5 1.8 1.5-1.8 1.5-1.1 1.5 1.1 1.5 .8 1.5 2.7 1.5-1.6 1.5-3 1.5 6.6 1.5-3.1 1.5 2.6 1.5 3.8 1.5-4 1.5 2.7 1.5-3.3 1.5 2.3 1.5 2.4 1.5 .7 1.5-8.8 1.5 3.7 1.5-5.8 1.5 2 1.5-2.8 1.5-4.1 1.5-2 1.5 3.9 1.5-2.3 1.5 2.4 1.5-1 1.5 3.1 1.5 3 1.5 .8 1.5 1.4 1.5 3.4 1.5-2.4 1.5 .3 1.5-2.7 1.5 2.5 1.5-1.6 1.5 3.1 1.5-4.2 1.5-.9 1.5-3 1.5 3 1.5-1 1.5 2.3 1.5 2.6 1.5-9.2 1.5 5.8 1.5-.2 1.5 1.9 1.5 3.4 1.5 .4 1.5 1.5 1.5-8.4 1.5 3.6 1.5-4.5 1.5 1.4 1.5-1.9 1.5-.5 1.5-2.8 1.5-2.3 1.5 5 1.5-2.5 1.5 2.4 1.5-.9 1.5 .2 1.5 2.6 1.5-1 1.5 4.3 1.5-5.4 1.5 2.1 1.5 2.2 1.5-.7 1.5 6.1 1.5-3.9 1.5 2.8 1.5-1.9 1.5 0 1.5 1 1.5 1.3 1.5-2.9 1.5-3.8 1.5 6.8 1.5-4.3 1.5-3.2 1.5 .1 1.5-1.4 1.5 2.5 1.5-2.2 1.5 1.5 1.5-5 1.5 2.1 1.5 4.2 1.5 1.4 1.5-.6 1.5-3.3 1.5 6.5 1.5-5.3 1.5-2.5 1.5 5.4 1.5-4.5 1.5 2.7 1.5-3.3 1.5-1 1.5-.6 1.5 2.5 1.5-.2 1.5 3 1.5-.6 1.5-2.2 1.5 2.6 1.5 3.6 1.5-2 1.5-2 1.5 8.3 1.5 .3 1.5 .1 1.5 .9 1.5-9.1 1.5-3.1 1.5 1.8 1.5 2.6 1.5 5.6 1.5-4.5 1.5 2.1 1.5 .1 1.5 2.4 1.5-4.7 1.5 1 1.5-2.6 1.5-.8 1.5 .5 1.5-2 1.5-1.1 1.5-.5 1.5-.8 1.5-4.2 1.5 4.5 1.5 2.6 1.5-1.9 1.5-5.9 1.5 2.6 1.5 7.1" stroke="#f59a9a" stroke-width="1.05" fill="none" stroke-linejoin="round"/>
<path d="M133 852.8l1.5 .1 1.5 4.7 1.5-2.8 1.5 2.7 1.5-3 1.5 5.7 1.5-3.4 1.5 3.6 1.5 .6 1.5-6.7 1.5 5.8 1.5 2.1 1.5 4.4 1.5-.1 1.5 .7 1.5 1.7 1.5 1.4 1.5-.9 1.5-8.1 1.5-3.9 1.5 3.6 1.5-.1 1.5-.8 1.5-4 1.5-.8 1.5 3.7 1.5-.9 1.5-.9 1.5 3.2 1.5-3.3 1.5 2.9 1.5 .1 1.5 2.5 1.5 .6 1.5-.6 1.5-2.7 1.5 5.1 1.5-3.8 1.5 1.2 1.5 4.2 1.5-2.4 1.5-6.3 1.5 2.9 1.5-.5 1.5 2.9 1.5-5.5 1.5 3.3 1.5 .8 1.5-2.8 1.5-.7 1.5 1.2 1.5-3.2 1.5-5.9 1.5 4.7 1.5 3.3 1.5-.7 1.5-2.5 1.5 3.9 1.5 4.2 1.5 0 1.5 .2 1.5-2.5 1.5 0 1.5 1.7 1.5 1 1.5-2.6 1.5-2.7 1.5 3.2 1.5 2 1.5-.2 1.5 0 1.5-.6 1.5 2.4 1.5 4.2 1.5-3.1 1.5-1.7 1.5-.2 1.5-.4 1.5-4.1 1.5 1.2 1.5 .8 1.5-1.2 1.5-3.1 1.5 1.9 1.5 3.9 1.5-3.4 1.5 7.1 1.5-1.3 1.5 .5 1.5 3.1 1.5-8.8 1.5 2.3 1.5 2.6 1.5-1 1.5-2.4 1.5-.3 1.5 1.1 1.5-4 1.5 1.8 1.5-6.5 1.5 3.4 1.5 8.4 1.5-7.8 1.5 1.5 1.5 3.5 1.5-3 1.5 3.2 1.5-1.1 1.5 3.4 1.5 3.4 1.5-6 1.5 2.7 1.5-1.9 1.5 .1 1.5 2.9 1.5 1.1 1.5 .5 1.5 3.9 1.5-1.8 1.5-1.3 1.5-4.8 1.5-.5 1.5 3 1.5-1 1.5 6.6 1.5-3.2 1.5-1.1 1.5 1.5 1.5 1.5 1.5-2.9 1.5-1.8 1.5 1 1.5 1.5 1.5-4.7 1.5 1.3 1.5-4.4 1.5 1.3 1.5 2.4 1.5 1.5 1.5 3 1.5-3.5 1.5-4.4 1.5 4.8 1.5 .7 1.5-2.2 1.5 1.8 1.5-.5 1.5 4.8 1.5-3.7 1.5-6.9 1.5 5.1 1.5-.3 1.5-4.1 1.5 1.2 1.5-.6 1.5 2.3 1.5 3.8 1.5-5.9 1.5 4.3 1.5-.4 1.5-5.7 1.5 1.8 1.5 2.7 1.5-5.8 1.5-3.7 1.5 .2 1.5 6.6 1.5-6 1.5 1.9 1.5 1.5 1.5 2.7 1.5-7.3 1.5 5.6 1.5-2.3 1.5-3.9 1.5 9.7 1.5 4.6 1.5-.9 1.5-3.9 1.5 2.1 1.5-1.9 1.5-2 1.5 .2 1.5 2 1.5-4.7 1.5 1.2 1.5 4.3 1.5 2.6 1.5-3.1 1.5 3.9 1.5 3.4 1.5-6.2 1.5 1.8 1.5-1.1 1.5-.6 1.5-1.3 1.5-.3 1.5-3.4 1.5 2.6 1.5 2.4 1.5-4.2 1.5 4.8 1.5-4.4 1.5-.6 1.5 .7 1.5-7.2 1.5 5.3 1.5-5.8 1.5 .9 1.5-.5 1.5 3 1.5-.7 1.5 3.5 1.5-4.7 1.5-.4 1.5 6.2 1.5-.1 1.5-1.9 1.5-4.8 1.5-2 1.5 3 1.5-5.6 1.5 3.6 1.5-2.5 1.5 2 1.5 4.6 1.5-1.3 1.5-.9 1.5-1.6 1.5-1 1.5 1.2 1.5-2.1 1.5-.1 1.5 4 1.5-.9 1.5-1.6 1.5 1.7 1.5 .3 1.5-.8 1.5 1.4 1.5 2.8 1.5-1.3 1.5-2.5 1.5 .9 1.5 6.2 1.5-2.2 1.5-1.7 1.5 2.1 1.5-6.6 1.5 .8 1.5 .2 1.5 2.3 1.5-2 1.5 2.6 1.5-.4 1.5 .1 1.5 .6 1.5-1.5 1.5 6.6 1.5-2 1.5 5.4 1.5-2.5 1.5-1.5 1.5-1.2 1.5 2 1.5-4.3 1.5-.4 1.5-5.9 1.5-2.5 1.5 5.4 1.5 2.5 1.5-5.6 1.5 7.9 1.5-1.9 1.5 4 1.5-.7 1.5-.1 1.5-1.8 1.5-5.6 1.5 7 1.5-4.8 1.5-2.7 1.5 2.1 1.5-4 1.5-2.9 1.5 5.1 1.5-4.3 1.5 .2 1.5-3.5 1.5 7 1.5-5.8 1.5 3.6 1.5-4.1 1.5 3.2 1.5 5.3 1.5-3 1.5 2.9 1.5-2.1 1.5 4 1.5 3.8 1.5 .6 1.5-3.8 1.5 1.7 1.5-.3 1.5 3.5 1.5 4.1 1.5-9.3 1.5 .6 1.5 .3 1.5 1.8 1.5-4.5 1.5-3.9 1.5 7.1 1.5-5.3 1.5 .4 1.5-1 1.5-1.5 1.5-5 1.5 4.5 1.5-2.5 1.5 2.6 1.5 3.9 1.5-4.9 1.5 4.6 1.5-7.2 1.5-.5 1.5 .8 1.5-4.3 1.5 8.8 1.5-5.3 1.5-.6 1.5 .7 1.5 .4 1.5 2.9 1.5-1.8 1.5 4.9 1.5 0 1.5-.7 1.5-4.4 1.5-4.4 1.5 6 1.5-1.1 1.5-.1 1.5-1.2 1.5 4.8 1.5 .9 1.5-2.6 1.5 5 1.5-4.5 1.5-.8 1.5-4 1.5 7.5 1.5-5.6 1.5 2.4 1.5-2.1 1.5-.7 1.5 1.7 1.5 1.7 1.5-1.5 1.5-.4 1.5 .7 1.5-4.8 1.5 3.2 1.5-2.8 1.5 3.7 1.5 1.2 1.5 .5 1.5 .6 1.5-2 1.5 3.7 1.5-3.6 1.5-7 1.5 3.2 1.5 2.4 1.5 5.7 1.5-4.9 1.5-.6 1.5-4.1 1.5 5.7 1.5-1.9 1.5 0 1.5 1.5 1.5 2.3 1.5-3 1.5 2.5 1.5-.4 1.5-.5 1.5-2.8 1.5 .3 1.5-.5 1.5 2.5 1.5-1.1 1.5-2 1.5 7 1.5-5.7 1.5 3.9 1.5-5.9 1.5 2.2 1.5 3.1 1.5 5.6 1.5-6.2 1.5 3 1.5-5.7 1.5 2.5 1.5 .9 1.5-3.5 1.5 4.8 1.5 1.1 1.5 .9 1.5-.9 1.5-3.1 1.5-3.5 1.5 .7 1.5 3.6 1.5-8.8 1.5-2.1 1.5 2.5 1.5-.4 1.5 2.5 1.5 .3 1.5-3.2 1.5 1 1.5 3.3 1.5-4.9 1.5-1.3 1.5 5.1 1.5-3.4 1.5-1.3 1.5 7.7 1.5-2.6 1.5-3.4 1.5 1.1 1.5-.3 1.5-2 1.5 4.9 1.5 .9 1.5-1.5 1.5 .7 1.5 .4 1.5 1 1.5-3.4 1.5 3 1.5-1.7 1.5 .4 1.5-1.3 1.5-.2 1.5-2.6 1.5-5.9 1.5 5.7 1.5-3.6 1.5 4.7 1.5-2.7" stroke="#f59a9a" stroke-width="1.05" fill="none" stroke-linejoin="round"/>
<path d="M133 861.1l1.5-8.8 1.5 .9 1.5-2 1.5 6.8 1.5-.5 1.5-1.1 1.5 1.5 1.5-2.5 1.5-2.1 1.5 .5 1.5-1.7 1.5-1.7 1.5 2.8 1.5 .8 1.5 3.2 1.5-2.7 1.5 .9 1.5 3.9 1.5-9 1.5 7.6 1.5-1.9 1.5 2.5 1.5-1.7 1.5-3.6 1.5 3.3 1.5-.1 1.5 2.2 1.5 5.9 1.5-3.2 1.5-.8 1.5-.5 1.5-.4 1.5 3.4 1.5 2.2 1.5-1.2 1.5 .9 1.5 0 1.5 2.1 1.5-.3 1.5-1.2 1.5-1.8 1.5-5.1 1.5 .2 1.5 1.4 1.5 3.9 1.5-7 1.5 3.7 1.5 .2 1.5 2.6 1.5 3.9 1.5-5.2 1.5 .3 1.5 .8 1.5 .1 1.5 3.1 1.5 .8 1.5-1 1.5 1.6 1.5-2.1 1.5-.9 1.5-1.1 1.5 4.2 1.5-2.6 1.5 2.2 1.5-9.2 1.5 4.8 1.5-5 1.5 .6 1.5-.1 1.5-.9 1.5 4 1.5-1 1.5 1.3 1.5 4.2 1.5 3.9 1.5-7.3 1.5-1.6 1.5 3.8 1.5 .4 1.5 3.6 1.5-2.4 1.5-.6 1.5-2.2 1.5-4 1.5 7.9 1.5 .2 1.5-1.7 1.5-3.3 1.5 .1 1.5-4.6 1.5 2.5 1.5-.3 1.5-1.4 1.5 6.6 1.5-2.2 1.5 .2 1.5 .8 1.5 3.3 1.5-1 1.5-1.5 1.5-4.1 1.5-4.3 1.5 6.2 1.5-1.9 1.5 1.2 1.5 2.7 1.5 3 1.5 0 1.5-4.6 1.5-4 1.5 2.9 1.5 3.9 1.5-2.8 1.5-.6 1.5 .6 1.5-.7 1.5 7.3 1.5-8 1.5 1 1.5-2.2 1.5-1.5 1.5 3.1 1.5 6.3 1.5-.6 1.5-3 1.5-2.4 1.5 .9 1.5-.1 1.5 .4 1.5-.5 1.5 1.9 1.5-1.3 1.5-10.4 1.5 2.4 1.5 2.1 1.5 7.9 1.5-6.4 1.5-1.3 1.5 5.2 1.5-3.4 1.5-2.4 1.5-1.2 1.5 6.1 1.5-.5 1.5-6.3 1.5 7.4 1.5-2.5 1.5-.2 1.5 .6 1.5-1.6 1.5 7.1 1.5-2.4 1.5-2.2 1.5 1.8 1.5 1.9 1.5 6.2 1.5 .8 1.5-2.4 1.5-6.2 1.5-2.2 1.5 2.5 1.5 0 1.5-6.9 1.5 1.7 1.5-1.3 1.5 2.1 1.5-5.7 1.5 2.6 1.5-1 1.5 3.7 1.5 1.6 1.5 .8 1.5-4.8 1.5 1 1.5 .4 1.5 0 1.5 2.3 1.5 5.1 1.5 .9 1.5-3.4 1.5-8.8 1.5 1.1 1.5-3.3 1.5 8.5 1.5 1.9 1.5 .3 1.5-1.4 1.5-.1 1.5-.1 1.5 3.2 1.5 6 1.5-4.5 1.5-1.3 1.5-.4 1.5-6 1.5 .9 1.5-1.6 1.5 5.6 1.5-.2 1.5 1.1 1.5-.7 1.5 .2 1.5-.6 1.5-2.1 1.5-1.6 1.5 3.6 1.5 1.8 1.5-6.6 1.5 4.8 1.5 2.9 1.5-4.5 1.5 0 1.5-4.1 1.5 5.6 1.5-4.3 1.5 4.8 1.5-3.8 1.5 6.2 1.5-7.5 1.5 1.9 1.5-3.6 1.5 2.2 1.5 4 1.5 .2 1.5 1.5 1.5 1.5 1.5-.5 1.5 .6 1.5-5.7 1.5-3.7 1.5 1.2 1.5-2.7 1.5 .4 1.5-1 1.5-.1 1.5-2.8 1.5 2.9 1.5 6.4 1.5-1.1 1.5 2 1.5-4.2 1.5-.4 1.5 7.6 1.5-2.7 1.5-1.2 1.5 3.3 1.5 0 1.5 1.2 1.5-1.3 1.5-1.8 1.5 4.6 1.5-5.2 1.5-1.3 1.5 1.2 1.5-1.7 1.5-1.9 1.5-.7 1.5 2.1 1.5-5.7 1.5 8.5 1.5-7.9 1.5 2.3 1.5 4.6 1.5-3.4 1.5-2.2 1.5 1.2 1.5 5.3 1.5-2 1.5-3 1.5 3.1 1.5 3.3 1.5-5.6 1.5-.1 1.5 1.9 1.5 2.7 1.5-4.7 1.5-1.6 1.5 2.9 1.5-2.2 1.5-1.7 1.5 2.6 1.5-1.7 1.5 4.5 1.5-3.7 1.5 4.3 1.5-.9 1.5-3.1 1.5 2.3 1.5 4 1.5 3.9 1.5-3.8 1.5 1.7 1.5-3 1.5-6.5 1.5 2.9 1.5 4.5 1.5-5.1 1.5-5.6 1.5 3.1 1.5-1.2 1.5-2.1 1.5 2.9 1.5 1.3 1.5-1.7 1.5-1.1 1.5 1 1.5 1.1 1.5-5 1.5-1.5 1.5 3.2 1.5 6.2 1.5-3.6 1.5-6.8 1.5-3.3 1.5 2.7 1.5 3.1 1.5 2.3 1.5 1.2 1.5-.8 1.5-4.1 1.5 8 1.5-.6 1.5 .7 1.5 2.4 1.5 5 1.5 6.3 1.5-5.4 1.5-4.3 1.5-1.7 1.5 .8 1.5 1.6 1.5-2.2 1.5-3.8 1.5 2.6 1.5 3.7 1.5-4.1 1.5-1.3 1.5 5.1 1.5-.2 1.5 .7 1.5 2.4 1.5-1.8 1.5-.8 1.5-2.6 1.5-6.5 1.5 7.6 1.5-.2 1.5-1.7 1.5 1.6 1.5-3.5 1.5-.1 1.5-1.5 1.5-.4 1.5-1.5 1.5 0 1.5 .2 1.5-.7 1.5 .9 1.5-2.2 1.5 1.6 1.5 4.5 1.5-.3 1.5 2.2 1.5 1.8 1.5-.5 1.5-2.1 1.5-.6 1.5 1.6 1.5 1.2 1.5 1.5 1.5-.6 1.5-3.2 1.5-.8 1.5-.5 1.5 .9 1.5-.4 1.5 1.7 1.5-.4 1.5-1 1.5-.9 1.5 2.9 1.5 .5 1.5-3.9 1.5-.3 1.5-.5 1.5-2.1 1.5 3.7 1.5-1.8 1.5-.8 1.5-2.8 1.5-3.9 1.5-2.1 1.5 4.9 1.5 3 1.5-4.6 1.5 7.3 1.5 .3 1.5-1.6 1.5 1.1 1.5 .4 1.5 1.8 1.5-.4 1.5-1.9 1.5 .2 1.5 1 1.5-1.2 1.5-2.6 1.5 5.1 1.5 .1 1.5 .1 1.5-2.2 1.5 2.5 1.5-.3 1.5-.6 1.5-2.8 1.5 1.9 1.5-.5 1.5 .2 1.5-3.1 1.5 4.4 1.5 .8 1.5-.7 1.5-3 1.5 2.9 1.5-5.5 1.5-1.8 1.5 3.6 1.5 2.8 1.5-7 1.5-.2 1.5 2.7 1.5-1.8 1.5 2.8 1.5 4.9 1.5 .9 1.5 1.3 1.5-4.1 1.5-1.4 1.5 3.3 1.5 1.3 1.5-2.5 1.5 .5 1.5 .1 1.5-.2 1.5 3.3 1.5-5 1.5 .6 1.5 .3 1.5-.2 1.5 4.2 1.5 2.9 1.5-2.4" stroke="#f59a9a" stroke-width="1.05" fill="none" stroke-linejoin="round"/>
<path d="M133 857.7l1.5 2.5 1.5-6.6 1.5 5.4 1.5-2.1 1.5 1 1.5-2.7 1.5 2.3 1.5-.6 1.5 1 1.5 2.5 1.5-1.7 1.5-6.2 1.5 3.7 1.5 2.9 1.5 1.6 1.5-1.7 1.5-.9 1.5-1.6 1.5 6.2 1.5-4.2 1.5 1.5 1.5 .5 1.5-2.5 1.5-1.7 1.5-3.3 1.5 4.3 1.5 .3 1.5-.6 1.5 0 1.5 7.1 1.5-1.8 1.5-1.9 1.5 1.4 1.5 3.5 1.5-3.9 1.5 2.2 1.5-1.2 1.5 5.6 1.5-5.2 1.5 .3 1.5-2.3 1.5 1.8 1.5 3.2 1.5-3.3 1.5-1 1.5-4.4 1.5 6.6 1.5-5 1.5 2.5 1.5 2 1.5-.9 1.5-2.3 1.5-2.9 1.5-.4 1.5 1.1 1.5-.3 1.5 .1 1.5-2.8 1.5 3.3 1.5 3.7 1.5-3.9 1.5 0 1.5 1.1 1.5 .5 1.5 0 1.5 2.5 1.5 4 1.5 3.7 1.5-9.2 1.5 3 1.5-1.4 1.5-5.7 1.5 .9 1.5 .8 1.5-.8 1.5 4 1.5-2.2 1.5-2.3 1.5-.2 1.5 3.6 1.5-3.1 1.5 1.4 1.5 0 1.5 2.2 1.5-4.7 1.5 2.5 1.5 3.7 1.5-2.9 1.5 4.2 1.5-6.7 1.5 2.3 1.5 3.1 1.5-.9 1.5-7 1.5 1.2 1.5 1 1.5-.5 1.5-1.4 1.5 2.8 1.5 5.9 1.5-4.1 1.5-4.5 1.5 4.7 1.5-.5 1.5 4.5 1.5-4.3 1.5-1 1.5-2.2 1.5-1.1 1.5 1.4 1.5 4.9 1.5-5.4 1.5-2.5 1.5 3.4 1.5-.6 1.5 .2 1.5 7.7 1.5-6.8 1.5-3.4 1.5 5.2 1.5 .4 1.5 1.2 1.5 1.9 1.5-6.8 1.5-2.6 1.5 .1 1.5 6 1.5-1.7 1.5 1.7 1.5-5.3 1.5 9.8 1.5-5.9 1.5 2.3 1.5-4 1.5-2 1.5 4.3 1.5-1.6 1.5 3.6 1.5-5.9 1.5 1.7 1.5 2.2 1.5-.7 1.5-.6 1.5-2.7 1.5 6.2 1.5 2.1 1.5 4 1.5-2.8 1.5-.3 1.5 5.5 1.5-9.7 1.5 .3 1.5-.7 1.5 1.3 1.5-.3 1.5-2.6 1.5 4.7 1.5-5.5 1.5 2.1 1.5 1.4 1.5-7 1.5 2.2 1.5-1.9 1.5 1.8 1.5 3.9 1.5 2.1 1.5 4.3 1.5-5.6 1.5-1.2 1.5 2.2 1.5 3.3 1.5-8.4 1.5 7.4 1.5-2.2 1.5-.3 1.5-2 1.5 3.5 1.5-2.3 1.5-1.6 1.5 2.5 1.5-.7 1.5-3.5 1.5-.6 1.5-2.2 1.5 4 1.5-3.7 1.5-3.6 1.5 1.6 1.5-1.5 1.5 4.6 1.5-1.2 1.5 3.4 1.5-3.8 1.5 2.8 1.5-1.5 1.5 4.8 1.5 1.7 1.5-.3 1.5-.8 1.5-.3 1.5 .6 1.5-1.2 1.5-2.9 1.5 3.1 1.5-1.2 1.5 .4 1.5-2.7 1.5-6.2 1.5 5.7 1.5-2.6 1.5 .1 1.5 3.2 1.5-.5 1.5-3 1.5 5 1.5 6 1.5-7 1.5 .1 1.5-4.1 1.5 5.1 1.5-1.4 1.5-.5 1.5 2.1 1.5-.3 1.5-.9 1.5-.4 1.5 4.9 1.5-4.3 1.5-4.6 1.5 1.2 1.5 5.1 1.5-2.2 1.5 3 1.5-1.7 1.5-2.2 1.5 2 1.5 .3 1.5-.9 1.5-2.8 1.5 2.7 1.5 .9 1.5 1.9 1.5-.9 1.5 2.8 1.5 2 1.5-3.5 1.5 0 1.5 4.7 1.5-.5 1.5-8.5 1.5 6.8 1.5-1.3 1.5 .2 1.5-3.9 1.5 1 1.5 5.3 1.5-2.7 1.5-1.7 1.5-1.1 1.5 6.1 1.5 .2 1.5-.9 1.5-.6 1.5 2.2 1.5-.2 1.5-5.3 1.5-1.2 1.5-2.9 1.5-2.1 1.5 .9 1.5 2.8 1.5-6.2 1.5 3 1.5-1.7 1.5 4.6 1.5-4.6 1.5 2.6 1.5 5.4 1.5-3.4 1.5-4.2 1.5 1.8 1.5 1.2 1.5 2.3 1.5 3 1.5-2.3 1.5-2.5 1.5-1 1.5-2.6 1.5 3.5 1.5-2.4 1.5 4.2 1.5 2.7 1.5-.8 1.5-.4 1.5 3.8 1.5-3.4 1.5 1.9 1.5 1.6 1.5-3 1.5-1.2 1.5 .2 1.5-2.3 1.5-.9 1.5 3.3 1.5-.6 1.5-6.1 1.5-.2 1.5 1.8 1.5 1 1.5 3.8 1.5-.2 1.5 0 1.5-1.3 1.5-.7 1.5 7.7 1.5-2.6 1.5-4.5 1.5-.2 1.5-2.7 1.5 1.1 1.5 7.5 1.5-7.1 1.5 .9 1.5-.9 1.5-.5 1.5 5.9 1.5-.8 1.5-1.1 1.5-1.2 1.5 3.2 1.5-1.5 1.5-6.1 1.5 3.1 1.5-3.6 1.5-10.1 1.5 4.4 1.5-5.6 1.5 7.5 1.5-2.1 1.5 2.5 1.5 2 1.5 .6 1.5-.1 1.5-2.4 1.5 7.7 1.5 4.1 1.5 4.2 1.5-6.4 1.5-4.6 1.5 3.6 1.5 .7 1.5-3.4 1.5-.3 1.5-.9 1.5 .7 1.5 .6 1.5-.5 1.5 1.6 1.5-4.5 1.5 1.5 1.5-4.2 1.5-.7 1.5-1.5 1.5 8.9 1.5 3.8 1.5-3.2 1.5 .9 1.5-.6 1.5-1.2 1.5-3.3 1.5 5.3 1.5 .8 1.5-1.9 1.5 1.3 1.5-4.7 1.5-.3 1.5-4.4 1.5-2 1.5 4.4 1.5 4 1.5-5.3 1.5 2.4 1.5-3.1 1.5 5.7 1.5-1.5 1.5 1.5 1.5 4 1.5-.2 1.5 3 1.5-.5 1.5 3.5 1.5-1.6 1.5 4.9 1.5-8.2 1.5-1.5 1.5-.2 1.5-3.7 1.5-.9 1.5 1 1.5 4.1 1.5-2 1.5-4.7 1.5 4.4 1.5-1 1.5 .5 1.5-.4 1.5 .5 1.5 1.5 1.5-8.1 1.5 3.4 1.5-.3 1.5 2.9 1.5 1.1 1.5-.5 1.5 1.2 1.5-5.7 1.5 2.4 1.5 3 1.5-.3 1.5 1.7 1.5-9.1 1.5 6.1 1.5-.8 1.5 1.2 1.5-5 1.5-4.7 1.5 1.3 1.5-.4 1.5 3.3 1.5 2.5 1.5 6.7 1.5-6.6 1.5 3.2 1.5 2.8 1.5-1.6 1.5 6.2 1.5-5 1.5-4.4 1.5 6.1 1.5 .5 1.5-7.9 1.5 3.8 1.5-2 1.5 3.5 1.5-1.9 1.5-.8 1.5-.4 1.5 2.2 1.5 4.7 1.5-4.4 1.5-1.7 1.5 2.9" stroke="#f59a9a" stroke-width="1.05" fill="none" stroke-linejoin="round"/>
<path d="M133 863.4l1.5-2.5 1.5-2.8 1.5 1.2 1.5 7.4 1.5-4.9 1.5-.8 1.5 6 1.5-6.7 1.5 3.2 1.5 2.4 1.5-1.3 1.5-3.8 1.5-1.1 1.5 6 1.5 .2 1.5 .8 1.5 1.3 1.5 .6 1.5-1.6 1.5 .5 1.5-1.2 1.5 1.1 1.5-6.5 1.5 3.2 1.5 1.2 1.5 4.1 1.5-3.9 1.5 2 1.5-5.5 1.5 1 1.5-2.8 1.5-5.3 1.5 6 1.5 5.6 1.5 2.5 1.5-4.7 1.5-.7 1.5 1.7 1.5-3.7 1.5 4.5 1.5-2 1.5-4.7 1.5 5.1 1.5-4.1 1.5 1.4 1.5-2.6 1.5 2.6 1.5 3.1 1.5-3.4 1.5 5.1 1.5-4.9 1.5-.6 1.5 4.9 1.5 .7 1.5 1 1.5-5.4 1.5 3.9 1.5-.2 1.5-5.4 1.5 3.4 1.5 0 1.5-1.1 1.5-.7 1.5 2.7 1.5 2 1.5 0 1.5-1.6 1.5 3.6 1.5-4 1.5-2.1 1.5 3 1.5-1 1.5-4.7 1.5 .5 1.5 6.5 1.5-.6 1.5-1.7 1.5 2.8 1.5-2.8 1.5 6.6 1.5 2.3 1.5-4.2 1.5-5.5 1.5 3.6 1.5-1.5 1.5-3.9 1.5 2 1.5 1.5 1.5-4.4 1.5 2.2 1.5-1.9 1.5 .6 1.5-2.6 1.5 2.6 1.5-3.2 1.5-1.7 1.5 .6 1.5-.4 1.5-.6 1.5 1 1.5-3.3 1.5 3.2 1.5-2.6 1.5 1.7 1.5 4.3 1.5-12.7 1.5 5.2 1.5-4.6 1.5 4.3 1.5-.2 1.5 2.7 1.5 2.6 1.5 5.4 1.5-5 1.5 0 1.5 4.1 1.5-4.8 1.5 6.2 1.5-7.4 1.5 2.9 1.5-3.3 1.5 6.3 1.5-4.2 1.5-1 1.5 2.3 1.5-3.1 1.5 4.1 1.5-.9 1.5-3.2 1.5 4.4 1.5-1.2 1.5-.2 1.5-2.8 1.5 1.2 1.5 4.5 1.5 1.7 1.5-5.9 1.5 8.2 1.5-6.5 1.5-1 1.5 2.3 1.5-5.9 1.5-1.1 1.5-.2 1.5 1.9 1.5 7.4 1.5-2.3 1.5 2.5 1.5 .8 1.5-5.3 1.5-1.8 1.5 1.1 1.5 1.5 1.5 .7 1.5-2.3 1.5 .4 1.5-.3 1.5 4.4 1.5-.6 1.5 3.5 1.5-3.6 1.5 4.9 1.5-6.9 1.5 1 1.5-4.4 1.5-5.9 1.5 7.4 1.5 4.3 1.5-4.4 1.5-.5 1.5-1.2 1.5 .9 1.5-3.9 1.5 .7 1.5 6.9 1.5-3.2 1.5 4.5 1.5 1.8 1.5-.8 1.5 6.2 1.5-1 1.5-7.4 1.5-2.8 1.5 6.7 1.5-1.7 1.5-5.1 1.5-2.8 1.5 4.3 1.5-3.7 1.5 1.1 1.5 1.5 1.5 1.2 1.5-3.2 1.5 .3 1.5 2.3 1.5 1 1.5 6.4 1.5-3 1.5-3.7 1.5-3.2 1.5 6.1 1.5-6.9 1.5 7.2 1.5-3.7 1.5 2.2 1.5-2.5 1.5-2.7 1.5 2.1 1.5-5.8 1.5 1.7 1.5 9.5 1.5-4.4 1.5 2.5 1.5 3.1 1.5-1 1.5-4.3 1.5 4 1.5 1.7 1.5-5.5 1.5-7.1 1.5 .3 1.5 4.3 1.5 1.1 1.5 1.6 1.5-2.1 1.5 9.3 1.5-2.5 1.5-8.5 1.5 1.5 1.5-6.2 1.5-.2 1.5-.1 1.5-1.2 1.5 6.6 1.5-4.3 1.5-1.2 1.5 6.4 1.5-1.2 1.5-4.7 1.5 3.3 1.5-2.9 1.5-2.4 1.5 3.5 1.5 7 1.5-6.1 1.5 4 1.5 .4 1.5-1.2 1.5 1.7 1.5-1 1.5-.7 1.5-2.8 1.5-1.2 1.5 4.7 1.5 1.4 1.5-3.3 1.5 .6 1.5 3.5 1.5-.2 1.5-.4 1.5 .2 1.5-5.4 1.5 2.7 1.5-1.2 1.5 1.4 1.5 1.9 1.5-2.3 1.5 2.8 1.5 .6 1.5-7.2 1.5 2.9 1.5-2.5 1.5-2.5 1.5 2.5 1.5 .9 1.5 0 1.5-3.3 1.5 5.9 1.5-2 1.5 2.4 1.5-1.4 1.5 .4 1.5-4.1 1.5 3.7 1.5-1.1 1.5 3.8 1.5-5.3 1.5 2 1.5-2.6 1.5-6 1.5 6.4 1.5-.4 1.5-2.6 1.5-1.1 1.5 2.3 1.5-4.6 1.5 2.5 1.5-1.9 1.5 5.6 1.5 1.2 1.5 3.9 1.5-1.5 1.5 .7 1.5-5.6 1.5 2.3 1.5-.9 1.5 7.5 1.5-7.6 1.5-1.5 1.5 2.9 1.5 1.9 1.5-1.2 1.5 3.2 1.5-3.1 1.5-.8 1.5-2.6 1.5-1.2 1.5 8.5 1.5-4.6 1.5-.9 1.5-3 1.5-1.4 1.5 7.2 1.5 .2 1.5-3.4 1.5 4 1.5 .9 1.5-7.3 1.5 3.3 1.5 4.4 1.5-3.1 1.5-2.5 1.5 .6 1.5-.4 1.5-.5 1.5 1 1.5 2.3 1.5-2.1 1.5-6.3 1.5 1 1.5 3.7 1.5 .5 1.5-3.8 1.5 4 1.5 2.3 1.5-1.3 1.5 1.1 1.5-.3 1.5 2 1.5 3.6 1.5-5.4 1.5 1.8 1.5 1.9 1.5-4.9 1.5 7.4 1.5-5.4 1.5-2.8 1.5 3.6 1.5 .1 1.5 3.7 1.5-5.3 1.5 3.8 1.5 1.4 1.5-.5 1.5-1.6 1.5-7.7 1.5 7.8 1.5 2.4 1.5-2.4 1.5 1.7 1.5-1.7 1.5 9.5 1.5 1 1.5-7.7 1.5-1.4 1.5-1.1 1.5-.9 1.5 4 1.5-.9 1.5-1.9 1.5-2.6 1.5 4.5 1.5 2.2 1.5-2.9 1.5 1.1 1.5-3.4 1.5 1.9 1.5 1.4 1.5-5.4 1.5 1.5 1.5 7.7 1.5-2.8 1.5-6 1.5 4.9 1.5-.5 1.5 .6 1.5-4.9 1.5 4.8 1.5 .3 1.5 0 1.5-1.3 1.5 5.2 1.5-7.4 1.5 .6 1.5-1.3 1.5 1.1 1.5-4.4 1.5-1.8 1.5-1.4 1.5 1.5 1.5-4.8 1.5 5 1.5 2.6 1.5-4.4 1.5-2.7 1.5 2.5 1.5-1.2 1.5 1 1.5-3.3 1.5-.1 1.5 12.5 1.5-2 1.5-1.7 1.5 3.7 1.5 .4 1.5 3 1.5-7.1 1.5 7.5 1.5 4.1 1.5-5.6 1.5 1.5 1.5-6.1 1.5 2.7 1.5 2 1.5-2.4 1.5-1.9 1.5 3.1 1.5-3.6 1.5-.4 1.5-3.9 1.5-2.7 1.5 4.1 1.5-4 1.5 .3 1.5-1.2 1.5 2 1.5 3.4 1.5-9.3 1.5 1.8 1.5 2.3 1.5 1.2 1.5-.8" stroke="#f59a9a" stroke-width="1.05" fill="none" stroke-linejoin="round"/>
<path d="M133 886.4l1.5 4.2 1.5-2.8 1.5 2 1.5-5.1 1.5-1.7 1.5-4.9 1.5 7.9 1.5-4.6 1.5-4.7 1.5 4.1 1.5 .7 1.5 3.8 1.5-4 1.5 2.2 1.5-8 1.5-.1 1.5 0 1.5 5.1 1.5-.1 1.5-2 1.5 .1 1.5-.9 1.5-1.2 1.5-.8 1.5 1.4 1.5 5.6 1.5-3.1 1.5-5.3 1.5 3.9 1.5 3.1 1.5 5.7 1.5-3 1.5-1.6 1.5 4.2 1.5-.2 1.5-1.6 1.5-1 1.5 5.4 1.5-5 1.5 3.5 1.5-5.8 1.5 .9 1.5 7.9 1.5-4.7 1.5-2.7 1.5 .3 1.5 2.7 1.5-.4 1.5-3.6 1.5-.5 1.5-.3 1.5-1 1.5 2.1 1.5 .9 1.5 3.1 1.5-2.5 1.5 5 1.5-3.7 1.5 7.6 1.5 1 1.5-.5 1.5 .1 1.5-1.3 1.5 4.1 1.5-12.4 1.5 2.5 1.5 2.3 1.5-1.4 1.5-6.1 1.5 1.9 1.5-.4 1.5-1.2 1.5 4.1 1.5-3.1 1.5 2.2 1.5-1.6 1.5 3.8 1.5-.4 1.5 2.7 1.5-3.5 1.5 4.4 1.5-1.6 1.5 1 1.5 4.9 1.5-6.5 1.5 .2 1.5 2.2 1.5-3.5 1.5 .1 1.5 1.7 1.5 0 1.5 4.2 1.5-5.5 1.5 2.7 1.5 .8 1.5-5.3 1.5 5 1.5-.2 1.5-2.7 1.5 5.6 1.5-7.6 1.5 3.6 1.5-1.4 1.5 7.1 1.5-3.8 1.5 3.3 1.5 3 1.5-4.2 1.5 2.2 1.5 2.1 1.5 1.7 1.5-2.9 1.5-2.3 1.5 4.3 1.5-1.1 1.5-3.2 1.5 2 1.5-5.4 1.5-4.5 1.5 5.9 1.5 3.7 1.5-4.7 1.5-3 1.5-2.1 1.5 2.5 1.5 5.8 1.5-1.6 1.5 0 1.5 1.2 1.5-4.3 1.5 4.6 1.5 4.8 1.5 3.6 1.5 3 1.5-.1 1.5-4.5 1.5-6.4 1.5 2.3 1.5-5.5 1.5-2.8 1.5-9.5 1.5 0 1.5-1.7 1.5 6.9 1.5 5.4 1.5 11.8 1.5 5.2 1.5-6.5 1.5-5.5 1.5-5.1 1.5-2.7 1.5-9.1 1.5-4.2 1.5 3.9 1.5 6.6 1.5 7.3 1.5 6.6 1.5 6.7 1.5 5.4 1.5-5.9 1.5-10.2 1.5-10.4 1.5-14.1 1.5-10.9 1.5-8.9 1.5 1.6 1.5 16.9 1.5 15.3 1.5 26.7 1.5 3.5 1.5-8 1.5-10.7 1.5-17 1.5-13 1.5 6.5 1.5 9.2 1.5 15.8 1.5 2.7 1.5 8.3 1.5-3.7 1.5-8.4 1.5-11.8 1.5-5.2 1.5 .9 1.5-8.3 1.5-3.3 1.5-4.9 1.5 11.6 1.5 6.9 1.5 4.2 1.5 8.9 1.5-8.1 1.5-4 1.5-5.5 1.5-6.4 1.5-12 1.5-8 1.5-3.8 1.5 9.8 1.5 3.4 1.5 7.7 1.5 4.2 1.5 9.1 1.5 7.7 1.5 7.3 1.5-6.9 1.5-6.1 1.5-4 1.5-2.7 1.5-1.1 1.5-6.8 1.5-1.3 1.5 4.8 1.5 4.1 1.5 9 1.5 8.9 1.5-5.7 1.5-12.1 1.5-7 1.5-7 1.5-18.4 1.5-7.5 1.5 17.2 1.5 10.8 1.5 12 1.5 13.9 1.5 4.5 1.5-9.4 1.5-3.4 1.5-5.8 1.5-5.8 1.5-3.9 1.5 1.2 1.5 10 1.5 3.3 1.5 3.2 1.5 2.2 1.5-4 1.5-4.1 1.5-6 1.5-12.5 1.5 10.6 1.5 4.9 1.5 .6 1.5 9.1 1.5 8.8 1.5 3.7 1.5 7.2 1.5-9.2 1.5 .2 1.5-3.6 1.5-5.7 1.5-1.8 1.5-8.8 1.5-3.7 1.5 7.8 1.5-.5 1.5 2.7 1.5 .1 1.5 7.6 1.5 6.8 1.5-9.8 1.5-7.4 1.5-.9 1.5-3 1.5-13.3 1.5 6.5 1.5-3 1.5 10.1 1.5 5 1.5 1.6 1.5-2.3 1.5 6 1.5-1.4 1.5-6.8 1.5-2.4 1.5-2.2 1.5-1.9 1.5-.8 1.5-5.7 1.5 4.9 1.5-2.2 1.5 8.1 1.5-1 1.5 7.3 1.5 2.3 1.5-1.1 1.5 3.5 1.5-5.8 1.5 .2 1.5-5.7 1.5-.5 1.5 .8 1.5-3.7 1.5 4.3 1.5 4.5 1.5 4.4 1.5 3.3 1.5 4.8 1.5-8 1.5-6 1.5 3.8 1.5-6 1.5-6.4 1.5 10.2 1.5-1.9 1.5 3.3 1.5-5 1.5 6.8 1.5 1.6 1.5 2.1 1.5-3 1.5 2.4 1.5-2.4 1.5-7.8 1.5-.1 1.5-1.7 1.5 4.5 1.5 2.3 1.5-4.1 1.5-.9 1.5 .6 1.5-1.6 1.5 .8 1.5-1.8 1.5 .9 1.5 3.3 1.5-2.7 1.5-4.2 1.5 2.7 1.5 2 1.5-2.8 1.5 1.8 1.5 1 1.5-1.7 1.5 .9 1.5-3.8 1.5 2.5 1.5-1.3 1.5 4.9 1.5-5.8 1.5 2 1.5 3.7 1.5-2.6 1.5 .8 1.5 .6 1.5-2.5 1.5 7.6 1.5-4.8 1.5-5 1.5-1.1 1.5 3.6 1.5-3.5 1.5 .2 1.5 4.3 1.5-1.5 1.5 1.8 1.5-2.9 1.5 .5 1.5-5.1 1.5 7.2 1.5-4.7 1.5 3.4 1.5 0 1.5-1.1 1.5 0 1.5 .2 1.5-2.6 1.5-2.3 1.5-1.7 1.5-2.6 1.5 4.4 1.5 1.4 1.5 1.6 1.5-.8 1.5-2.4 1.5 4.4 1.5-2.5 1.5-.3 1.5 .4 1.5 .3 1.5 2 1.5 1 1.5 2.5 1.5 .7 1.5-4.9 1.5-3.3 1.5 5.2 1.5 .3 1.5 6.8 1.5-4.8 1.5-2.8 1.5 9.5 1.5-8 1.5 1.5 1.5 1.9 1.5-2.6 1.5 4.2 1.5-1.3 1.5-.8 1.5-4.9 1.5-2 1.5 2.8 1.5 .3 1.5 1.3 1.5 2.9 1.5-1.9 1.5-5.9 1.5 3.9 1.5-2.9 1.5-2.6 1.5 3.1 1.5-2.9 1.5-1.9 1.5 .6 1.5-1.4 1.5 4.8 1.5-5.6 1.5 8.3 1.5-1.2 1.5 1.3 1.5-.1 1.5-.4 1.5 2.9 1.5-2.3 1.5-10.7 1.5 8.5 1.5-.7 1.5-.3 1.5 .4 1.5 3.8 1.5-2 1.5-6.2 1.5 3.6 1.5 1.3 1.5-.9 1.5 .2 1.5-1.1 1.5 0 1.5-1 1.5-2.1 1.5 2 1.5 4.2 1.5-.1 1.5-2.2 1.5-.2 1.5 6.7 1.5-2.1 1.5 1.7 1.5 3.1 1.5 .3 1.5-4" stroke="#f59a9a" stroke-width="1.05" fill="none" stroke-linejoin="round"/>
<path d="M133 880.3l1.5 2.4 1.5-2.8 1.5 1 1.5 2.5 1.5-3.7 1.5-2.9 1.5-2 1.5-3.3 1.5 1.8 1.5 .4 1.5 .3 1.5 5.4 1.5-3.6 1.5 .9 1.5-3.2 1.5 7.5 1.5-.9 1.5-2.8 1.5-2.5 1.5 3.7 1.5-.8 1.5 1.1 1.5-3.5 1.5 .8 1.5 3.5 1.5-1.2 1.5-6.2 1.5 3.1 1.5 3.2 1.5 3.8 1.5-2.7 1.5 .3 1.5 .3 1.5-3.9 1.5 6.3 1.5 .4 1.5 1 1.5-7.4 1.5 6.7 1.5-4 1.5-1.2 1.5-.5 1.5 2.9 1.5 4.6 1.5-.9 1.5-1.2 1.5 .5 1.5-4.5 1.5 3.3 1.5 2.7 1.5-1 1.5-1.5 1.5-5.7 1.5 5.3 1.5 5.5 1.5 .8 1.5-1.1 1.5-1.2 1.5-5.5 1.5 5.6 1.5-2.6 1.5-2.4 1.5-2.8 1.5 5.5 1.5-4.6 1.5-3.5 1.5 5.9 1.5-3 1.5 .2 1.5 1.6 1.5-1.6 1.5 2.6 1.5 .6 1.5 3.8 1.5 4.5 1.5-3.8 1.5-.8 1.5 3.3 1.5-4.6 1.5 1.7 1.5 5.4 1.5-5.4 1.5 2.6 1.5 1.5 1.5 3.8 1.5-5 1.5 3.5 1.5 3.4 1.5-2.5 1.5-1 1.5-.8 1.5 4.3 1.5-2.6 1.5 4.1 1.5-7.2 1.5-3.9 1.5 5.7 1.5-1.6 1.5 1.6 1.5 .9 1.5 2.7 1.5-4.3 1.5-4.4 1.5 4.5 1.5-.5 1.5-1.4 1.5-2 1.5-.9 1.5 3.6 1.5-5.4 1.5 1.6 1.5-2.2 1.5 6.9 1.5-.5 1.5 .4 1.5-.5 1.5 3.5 1.5 1.1 1.5 1.8 1.5-5.7 1.5 1.3 1.5-6.2 1.5 4.9 1.5-.1 1.5-4.3 1.5 5 1.5 1.6 1.5-1.2 1.5-.1 1.5-4.2 1.5 3.4 1.5 2.3 1.5 2.1 1.5 1.2 1.5 8.4 1.5-4.4 1.5-6.8 1.5-5.3 1.5-5.5 1.5 2.6 1.5-4.3 1.5-3.8 1.5-2.2 1.5 12.8 1.5 12.8 1.5 4.9 1.5 10.5 1.5-8.7 1.5-11.8 1.5-10.5 1.5-3 1.5-10.7 1.5-4.4 1.5 2.2 1.5 6 1.5 7.6 1.5 12.1 1.5 7.2 1.5 10.6 1.5-6.2 1.5-5.4 1.5-13.7 1.5-8.7 1.5-10.9 1.5-7.6 1.5-.6 1.5 20.6 1.5 15.4 1.5 18.8 1.5 9 1.5-17.8 1.5-9.7 1.5-13.1 1.5-16.2 1.5 13.2 1.5 18.7 1.5 9.1 1.5 20.1 1.5 3.2 1.5-13.1 1.5-8 1.5-7.8 1.5-11.7 1.5-9.9 1.5-11.5 1.5-4.6 1.5 11.9 1.5 3 1.5 12.1 1.5 5.7 1.5 11.9 1.5-1.9 1.5-2.8 1.5-11.5 1.5-.3 1.5-11.5 1.5-9.9 1.5-7.3 1.5 9.6 1.5-1.7 1.5 7 1.5 5.3 1.5 6 1.5 1.2 1.5 7.9 1.5-5.6 1.5-12.4 1.5-7 1.5-2.9 1.5-8.5 1.5-5.3 1.5-6.2 1.5 11.4 1.5 18.3 1.5 11.2 1.5 8 1.5-3.3 1.5-13.5 1.5-12 1.5-11.6 1.5-7.9 1.5-10.4 1.5 11.5 1.5 9.3 1.5 11.5 1.5 18.2 1.5-.3 1.5-3 1.5-4.5 1.5-11.5 1.5-3.1 1.5-7.8 1.5 8.7 1.5 11 1.5 3.5 1.5 1.4 1.5 6.7 1.5-6.8 1.5-7.1 1.5-12 1.5-2.7 1.5 5 1.5 1.3 1.5 4 1.5 5.8 1.5 5.2 1.5 7.5 1.5-5.1 1.5 6.5 1.5-6.3 1.5-3.8 1.5 4.3 1.5-4.4 1.5-1.1 1.5-7 1.5 4.7 1.5-2.8 1.5 1.6 1.5 6.5 1.5-1.5 1.5 5.9 1.5-7.7 1.5-1.2 1.5-5.7 1.5-5.3 1.5-3.4 1.5-3.2 1.5 6.6 1.5 .1 1.5-1.2 1.5 7.3 1.5 2.4 1.5 6 1.5-2 1.5-1.3 1.5-5.1 1.5-2.8 1.5-.7 1.5-2.1 1.5-3.8 1.5 .9 1.5 13 1.5-.1 1.5-.3 1.5 8.1 1.5-.8 1.5 3 1.5 .1 1.5-2.2 1.5-8.5 1.5 1.1 1.5-6.2 1.5-3.4 1.5-2.4 1.5 4.3 1.5 8.5 1.5 0 1.5 5.8 1.5 1.8 1.5-1.9 1.5-8.9 1.5-3.3 1.5-1.4 1.5-2.7 1.5 7.9 1.5-4.5 1.5 .1 1.5 1.8 1.5-3.2 1.5 7.6 1.5 .1 1.5-3 1.5-1.2 1.5 1.6 1.5 2.1 1.5-1.4 1.5 2.5 1.5-4.3 1.5 8.3 1.5-9 1.5 6 1.5-4.5 1.5 1 1.5 0 1.5-4.1 1.5 3.2 1.5 2 1.5 2.1 1.5-2.5 1.5-2.4 1.5 3.8 1.5-2.4 1.5 0 1.5-6.1 1.5 1.4 1.5 1.3 1.5-.8 1.5-.1 1.5 2 1.5 4 1.5-3.3 1.5 1.6 1.5 3.4 1.5-2.7 1.5-4 1.5 3.3 1.5 1.6 1.5-.1 1.5-1.1 1.5 .1 1.5-2.1 1.5-1 1.5-.5 1.5 9.9 1.5-5.8 1.5-4.2 1.5-1 1.5-3 1.5 2.5 1.5 1.4 1.5 1 1.5 .3 1.5 2.6 1.5 1.7 1.5 0 1.5 2.3 1.5-4.6 1.5-5 1.5 1.5 1.5-2.2 1.5-4.4 1.5 9.5 1.5-3.4 1.5-5.5 1.5 2 1.5-.3 1.5-2.5 1.5 6.1 1.5-5.4 1.5 2.3 1.5 3.6 1.5-2.6 1.5 4.2 1.5-2.7 1.5-3.9 1.5 2 1.5 5.4 1.5 1.5 1.5-3.3 1.5 .7 1.5-2.2 1.5 .5 1.5-3.6 1.5 7.6 1.5-9.8 1.5-.8 1.5 3.8 1.5 1.1 1.5-1.2 1.5 3.2 1.5-1.5 1.5 7.5 1.5-1.6 1.5-.1 1.5 1.5 1.5-5.6 1.5-3.7 1.5 4.6 1.5 .4 1.5 1 1.5-2 1.5-.5 1.5-6.9 1.5 6.3 1.5-3.4 1.5 2.8 1.5 1.5 1.5-6.7 1.5 1 1.5 5.3 1.5-.8 1.5-1.1 1.5-.1 1.5-5.3 1.5 .2 1.5-1.4 1.5-1.5 1.5 .7 1.5-.8 1.5 5.4 1.5 .7 1.5 2.8 1.5-1.4 1.5-.1 1.5 4 1.5-.6 1.5 .1 1.5-1.8 1.5 2.8 1.5-.7 1.5 .8 1.5-1.7 1.5 3.1 1.5-2.8 1.5-3.2 1.5 1.6 1.5-.7 1.5 4.3 1.5 0 1.5-5.3 1.5-1.8 1.5 3.5" stroke="#f59a9a" stroke-width="1.05" fill="none" stroke-linejoin="round"/>
<path d="M133 866l1.5-2.2 1.5-1.6 1.5 3.2 1.5-4.3 1.5 5.5 1.5-1.2 1.5 1.6 1.5-3.8 1.5 2.1 1.5 5.1 1.5-5.1 1.5 2.6 1.5 2.4 1.5-3.3 1.5 2.7 1.5 2.1 1.5-.5 1.5-1.7 1.5 5.1 1.5-.6 1.5-5.8 1.5-2.2 1.5 2.2 1.5-.4 1.5 2.4 1.5-6.6 1.5 3.6 1.5 .4 1.5 1.8 1.5-1.7 1.5 .9 1.5-2.5 1.5-.2 1.5 4.5 1.5-2.1 1.5 .5 1.5-6.3 1.5 2.3 1.5-1.7 1.5-1.4 1.5-1.4 1.5 2.6 1.5 .8 1.5 4.6 1.5-1.7 1.5 .5 1.5-3.7 1.5 6.4 1.5-.2 1.5-1.4 1.5 3.8 1.5-3 1.5-.3 1.5-4.9 1.5 7.7 1.5-4.6 1.5-2.2 1.5 2.5 1.5 .9 1.5 5.4 1.5-4.9 1.5 3.6 1.5-1.9 1.5 1.9 1.5-.3 1.5 2.2 1.5-2.3 1.5 1.2 1.5-6 1.5 5.2 1.5-2 1.5-2.7 1.5 2 1.5 2.3 1.5-.8 1.5-4.7 1.5 .4 1.5 4 1.5-.7 1.5 3.3 1.5-3.7 1.5 8.4 1.5-4.3 1.5-2.8 1.5 8 1.5-1.9 1.5-1.3 1.5 1.8 1.5 2.4 1.5-3.6 1.5 .1 1.5-3.3 1.5 1.6 1.5-1.4 1.5 5 1.5-6.7 1.5-3.7 1.5-2.4 1.5-1.3 1.5 4.9 1.5 2.2 1.5 1.9 1.5-7 1.5 3 1.5-1.5 1.5 5.4 1.5 1 1.5-6.2 1.5 1.1 1.5 0 1.5 6.4 1.5 1.1 1.5 4.1 1.5-1.1 1.5 1.3 1.5-1.3 1.5 1.8 1.5 1.5 1.5-.6 1.5-1 1.5-.6 1.5 3.3 1.5-6.7 1.5 2.9 1.5 2.1 1.5-4.1 1.5 2.5 1.5-1.6 1.5-3.9 1.5-1.3 1.5 3.2 1.5 4 1.5-.4 1.5 7.4 1.5-5.5 1.5-2.5 1.5 .1 1.5 4.8 1.5-1.5 1.5-5.2 1.5-3.7 1.5-5.5 1.5 .3 1.5 7 1.5 .1 1.5 5.7 1.5 8.9 1.5-4.7 1.5-8.9 1.5-8 1.5-3.1 1.5 .3 1.5-10.7 1.5 3.4 1.5 11.5 1.5 5.5 1.5 9.7 1.5 1.6 1.5 7 1.5 3.2 1.5-9.7 1.5-8.7 1.5-7.3 1.5-5.5 1.5-7.3 1.5-3.8 1.5 13.1 1.5 7.4 1.5 6.4 1.5 4.6 1.5-7.3 1.5-6.9 1.5-8.2 1.5-5.7 1.5 4.9 1.5 12.8 1.5 12.8 1.5 7.4 1.5 3.5 1.5-.4 1.5-5.8 1.5-5.5 1.5-9.8 1.5-.6 1.5-4.2 1.5-10.3 1.5 .1 1.5 12.7 1.5 2.9 1.5 4.4 1.5 12.3 1.5 .9 1.5-7.1 1.5-3.5 1.5-11 1.5-4.2 1.5-5.2 1.5-1.6 1.5 9.2 1.5 1.6 1.5-2.3 1.5 7.2 1.5-.3 1.5 4.7 1.5 3.4 1.5-4.3 1.5-6.3 1.5-7.8 1.5-4.9 1.5 2.1 1.5-14.5 1.5 1.1 1.5 6.5 1.5 5.7 1.5 5.4 1.5 8.3 1.5 .8 1.5-4.2 1.5-7.2 1.5-5.1 1.5-4.3 1.5-2.8 1.5 8 1.5 11.7 1.5 6.1 1.5 15.3 1.5-7.1 1.5-4.8 1.5-8.8 1.5-3.4 1.5-9.2 1.5-3.2 1.5 6.8 1.5 5.1 1.5 7.4 1.5 1.3 1.5 .3 1.5-4 1.5-5.2 1.5-5.9 1.5-3.2 1.5 5.9 1.5 4.4 1.5 9.4 1.5-4.3 1.5 9.9 1.5 2.5 1.5 .6 1.5-1.3 1.5-6 1.5 2.7 1.5-1.2 1.5-3.6 1.5-8.9 1.5-8.2 1.5 3.3 1.5-3.3 1.5 2.7 1.5 2.8 1.5 5.5 1.5-.3 1.5 4.4 1.5-3.6 1.5-2.3 1.5-2.3 1.5 2.1 1.5-2 1.5 1.2 1.5 .1 1.5 4.4 1.5-3.8 1.5-.5 1.5 2.4 1.5 4.1 1.5-.1 1.5-3 1.5-2.2 1.5-10.8 1.5 2.6 1.5 3 1.5-2.5 1.5 3.8 1.5 4.8 1.5-.2 1.5-2 1.5 7 1.5 3.3 1.5-10.9 1.5 5 1.5-4.7 1.5 .5 1.5-1.4 1.5-6.1 1.5 1.9 1.5-2.4 1.5 8 1.5-1.4 1.5 4.1 1.5-6 1.5 4.1 1.5-1.6 1.5-3.8 1.5-4.2 1.5 1 1.5 5.5 1.5-4.3 1.5 7.5 1.5-1.6 1.5 3.6 1.5 2.9 1.5-.5 1.5 .9 1.5 2.1 1.5-3.1 1.5 2.5 1.5 1.5 1.5-.5 1.5-4.3 1.5 .3 1.5 .2 1.5 4 1.5-3.8 1.5-2 1.5 2.7 1.5-7.4 1.5-2.9 1.5 .6 1.5 .4 1.5 2.7 1.5 2.8 1.5-6.7 1.5 6.3 1.5-3 1.5 3.1 1.5-2.4 1.5 .3 1.5-1.2 1.5 5.6 1.5-.4 1.5 2.1 1.5-8.6 1.5 .6 1.5 9.5 1.5-8.2 1.5-.7 1.5 6 1.5 1.4 1.5-2.9 1.5 5.9 1.5-3.6 1.5 2.9 1.5-5.5 1.5-.2 1.5 5.8 1.5-3.3 1.5 .7 1.5-1.2 1.5 .6 1.5 .4 1.5-.2 1.5-6.4 1.5-1.9 1.5-2 1.5-7.3 1.5 9.9 1.5-5.3 1.5 3.3 1.5 .2 1.5-2.1 1.5 1.5 1.5 3.1 1.5 1.9 1.5 1 1.5 1.5 1.5-.4 1.5-2.9 1.5 2.6 1.5 .4 1.5-1.5 1.5 1.7 1.5 .4 1.5-1.3 1.5 2.9 1.5-6.7 1.5-2.1 1.5 3.7 1.5-3.8 1.5 2.4 1.5 4.5 1.5-1.2 1.5-3.7 1.5-5.7 1.5 3.2 1.5 3.9 1.5-3.8 1.5 .2 1.5-6.5 1.5 5 1.5 7.1 1.5-12.4 1.5 7.8 1.5-1.6 1.5-.6 1.5-4.6 1.5 3.6 1.5 1.7 1.5-3.2 1.5-.2 1.5 4.3 1.5-1.4 1.5 5.7 1.5-.4 1.5-.2 1.5-5 1.5 5.5 1.5-.1 1.5 2.2 1.5-.8 1.5-1 1.5-1 1.5 1.7 1.5-3.5 1.5-4.9 1.5 3.3 1.5 1.1 1.5-.6 1.5-3.1 1.5 8.4 1.5-.3 1.5-3.5 1.5-2.7 1.5 7.1 1.5-1.1 1.5-1.8 1.5-1.1 1.5 1.2 1.5-2.2 1.5 1.5 1.5-.6 1.5-4.2 1.5 4.5 1.5-4.4 1.5 3.2 1.5 3.3 1.5-1.6 1.5 1 1.5 2.2 1.5-5.1 1.5 2.4 1.5-2 1.5-2.4 1.5 3.1" stroke="#f59a9a" stroke-width="1.05" fill="none" stroke-linejoin="round"/>
<path d="M133 832.1l1.5 .1 1.5-.2 1.5 0 1.5 1.1 1.5-1.3 1.5 .1 1.5-.5 1.5 0 1.5-.1 1.5 0 1.5 .1 1.5 .2 1.5 .1 1.5 .3 1.5 .3 1.5 0 1.5-.4 1.5-.5 1.5 .4 1.5 .2 1.5 .8 1.5-.1 1.5-.5 1.5-.5 1.5 1.1 1.5 .2 1.5-.5 1.5-1 1.5 1.1 1.5-.3 1.5-.4 1.5-.1 1.5 .5 1.5-.3 1.5-.1 1.5 1.2 1.5-.7 1.5-.6 1.5-.1 1.5 .6 1.5-.2 1.5-.1 1.5 .4 1.5-.4 1.5 .5 1.5 .1 1.5-.7 1.5-.5 1.5 .3 1.5 .4 1.5 .8 1.5-.7 1.5-.4 1.5-.1 1.5 0 1.5 .1 1.5 .7 1.5 .5 1.5-.4 1.5-1.3 1.5 .6 1.5 .3 1.5 .7 1.5-1.5 1.5 .4 1.5 .6 1.5-.1 1.5 .1 1.5-.4 1.5-.4 1.5 .7 1.5 .8 1.5-.5 1.5-.7 1.5 0 1.5-.6 1.5 .3 1.5-.2 1.5 .5 1.5-.5 1.5 .1 1.5-.1 1.5 .8 1.5-.2 1.5-.3 1.5-.7 1.5 .1 1.5 1.4 1.5-.1 1.5-.2 1.5-.4 1.5 .6 1.5-.3 1.5 .7 1.5-.7 1.5-.4 1.5 .5 1.5-.4 1.5-.3 1.5-.2 1.5 1.7 1.5-.8 1.5-.6 1.5 .9 1.5-.3 1.5-.7 1.5 .6 1.5 .2 1.5 .2 1.5-.6 1.5-.1 1.5 .3 1.5 .2 1.5-.3 1.5-.5 1.5 .5 1.5 .6 1.5-.2 1.5-.5 1.5 .4 1.5 0 1.5-.2 1.5 .4 1.5-.5 1.5 .2 1.5 .3 1.5-.6 1.5-.2 1.5 .6 1.5 .4 1.5 .2 1.5-1.4 1.5-.1 1.5 .3 1.5 .6 1.5-1.1 1.5 .1 1.5 .4 1.5 1 1.5-1 1.5 .2 1.5 .5 1.5 .7 1.5-1 1.5-.3 1.5-.6 1.5 .7 1.5-.4 1.5 .4 1.5-.1 1.5-.1 1.5 .4 1.5 .5 1.5-.7 1.5-.5 1.5-.1 1.5-.3 1.5 .7 1.5 .8 1.5-.2 1.5 .4 1.5-1.3 1.5 .1 1.5-.6 1.5 .7 1.5-.6 1.5 .2 1.5 1.1 1.5-.3 1.5-.2 1.5 .3 1.5-.7 1.5 0 1.5 .6 1.5-.1 1.5 .6 1.5-.8 1.5 1.1 1.5-1.2 1.5 .3 1.5-1.3 1.5-.4 1.5 1.3 1.5 0 1.5 .2 1.5 .4 1.5-.2 1.5-.7 1.5 .8 1.5 0 1.5-.2 1.5 .1 1.5-.4 1.5-.6 1.5 1 1.5 .3 1.5-.7 1.5 .4 1.5 .5 1.5-.5 1.5-.3 1.5 .3 1.5-.8 1.5 1.2 1.5 0 1.5-.3 1.5-.4 1.5-.4 1.5 .6 1.5-.2 1.5 1 1.5-.2 1.5 .1 1.5-1.2 1.5 .7 1.5-.5 1.5 .2 1.5-.1 1.5 0 1.5 .6 1.5 .1 1.5-.6 1.5 .1 1.5-.1 1.5 .5 1.5 .2 1.5-1 1.5 .3 1.5 1 1.5 .2 1.5-1.2 1.5-.1 1.5-.1 1.5-.2 1.5 .1 1.5-.4 1.5 0 1.5 .7 1.5 .4 1.5-.4 1.5-.5 1.5-.1 1.5 1 1.5-.7 1.5-.8 1.5 1.7 1.5-1.4 1.5 .6 1.5 .2 1.5 .2 1.5-.8 1.5 1.7 1.5-.5 1.5-.8 1.5-.7 1.5 .2 1.5 .4 1.5 .9 1.5-.7 1.5-.8 1.5 .4 1.5 0 1.5 .1 1.5 .3 1.5 .5 1.5-.2 1.5 .4 1.5-.8 1.5 .2 1.5-.4 1.5 1 1.5-.4 1.5-.1 1.5 .5 1.5-.9 1.5 0 1.5-.5 1.5 1.3 1.5-.1 1.5-.2 1.5 .5 1.5-1.4 1.5 .8 1.5-.4 1.5 .6 1.5 .5 1.5-.9 1.5 .1 1.5-.3 1.5 .7 1.5-.8 1.5 .3 1.5 .1 1.5-1 1.5 .8 1.5 0 1.5-.1 1.5 .6 1.5-.6 1.5 .5 1.5-.4 1.5-.5 1.5-.6 1.5 1.5 1.5-.3 1.5-.7 1.5 1 1.5-.8 1.5 1.1 1.5 .2 1.5 .5 1.5-.2 1.5-1 1.5-.3 1.5 .2 1.5 .8 1.5 .1 1.5-1 1.5-.1 1.5 .6 1.5-.2 1.5-.2 1.5-.2 1.5-.1 1.5 .7 1.5 .1 1.5-.5 1.5-.5 1.5 1.2 1.5-.9 1.5-.4 1.5-.2 1.5 0 1.5 .5 1.5 .2 1.5-.3 1.5-.9 1.5 .5 1.5 1.2 1.5-.4 1.5-.5 1.5 .4 1.5-.1 1.5 1.8 1.5-1 1.5-.7 1.5 .2 1.5-.5 1.5 1.9 1.5-1 1.5-.5 1.5-.2 1.5 .9 1.5-.3 1.5-.5 1.5 .3 1.5 .5 1.5-.3 1.5-.3 1.5 .3 1.5-.2 1.5 0 1.5-.2 1.5-.8 1.5 .8 1.5-.5 1.5 .2 1.5 .6 1.5-.2 1.5-.4 1.5-.4 1.5 .5 1.5-.1 1.5 .2 1.5 .1 1.5 0 1.5 .9 1.5-1.2 1.5 1.1 1.5-1.1 1.5 .3 1.5-.6 1.5 0 1.5 .8 1.5 .6 1.5-.7 1.5 .1 1.5 .1 1.5-.7 1.5 1 1.5-.4 1.5 .9 1.5-.6 1.5-.6 1.5-1 1.5 .4 1.5 .2 1.5 .5 1.5-.1 1.5 .3 1.5-.8 1.5 0 1.5 .7 1.5-1.3 1.5 .7 1.5 .6 1.5 .3 1.5 0 1.5-.1 1.5-.5 1.5 .4 1.5-.2 1.5-.7 1.5 .3 1.5-.1 1.5 1 1.5 .3 1.5-.1 1.5 0 1.5-.9 1.5 .4 1.5 .2 1.5 0 1.5-.5 1.5 .7 1.5-.4 1.5-1 1.5 .5 1.5 .3 1.5-.1 1.5 .3 1.5 0 1.5-.6 1.5 .8 1.5-.1 1.5-1.2 1.5 .7 1.5-.3 1.5 .6 1.5 .3 1.5-1.2 1.5 .8 1.5 .3 1.5-.1 1.5-.3 1.5 0 1.5 0 1.5-.7 1.5 0 1.5 .8 1.5-.1 1.5 0" stroke="#ff0000" stroke-width="3.0" fill="none" stroke-linejoin="round"/>
<path d="M133 975.7l1.5-2.6 1.5 3 1.5-1.3 1.5 .1 1.5 2.5 1.5-.4 1.5-5.2 1.5-2.6 1.5 .7 1.5 1.3 1.5 4.3 1.5-4 1.5-2.2 1.5 2.6 1.5 4.6 1.5 1.3 1.5-.3 1.5-2 1.5 2.4 1.5 4.1 1.5-4.5 1.5 0 1.5 2.7 1.5 .6 1.5-.1 1.5-1.5 1.5 2.9 1.5-1.6 1.5-3 1.5 1.8 1.5 2 1.5-1 1.5-5.1 1.5 2.3 1.5 .3 1.5 4.5 1.5 .8 1.5-2.1 1.5-.9 1.5 1.6 1.5-.1 1.5-2.2 1.5 2.2 1.5 1.2 1.5 1.8 1.5-2.2 1.5-.8 1.5-.4 1.5 .7 1.5 .6 1.5 .6 1.5-4.2 1.5-.2 1.5 6.4 1.5-1.1 1.5-3.1 1.5-1 1.5-.5 1.5-1.2 1.5-.3 1.5 2.5 1.5 1.5 1.5-.2 1.5-2.6 1.5 3.4 1.5 4.1 1.5-5.6 1.5 .6 1.5 2.1 1.5 1.2 1.5-2.3 1.5 1.7 1.5-2.9 1.5 2.8 1.5 1 1.5-1.1 1.5-2.1 1.5 .7 1.5 1.5 1.5-2.3 1.5-.9 1.5 2.3 1.5 1.1 1.5 .4 1.5 .4 1.5-1.3 1.5 4.2 1.5-2 1.5 1.2 1.5 .9 1.5 1.1 1.5-4.6 1.5 2.8 1.5 2 1.5 1.4 1.5 2.9 1.5-5.1 1.5-2.9 1.5 .2 1.5 1.4 1.5-1.3 1.5 1.8 1.5-.3 1.5-1.8 1.5-.7 1.5 .1 1.5 1.4 1.5-.4 1.5-.7 1.5 1.4 1.5 1.3 1.5-.2 1.5 .1 1.5-.7 1.5 1.5 1.5-2.1 1.5 1.1 1.5-3.1 1.5 3.6 1.5 2.9 1.5 1.4 1.5-4 1.5 3.7 1.5 .3 1.5 .4 1.5-2.4 1.5 1.2 1.5-6.4 1.5 3 1.5-.9 1.5-1.4 1.5-.5 1.5 3.7 1.5-1.6 1.5 2 1.5 .3 1.5 1 1.5-1.6 1.5-2.7 1.5-1.7 1.5-8.1 1.5 .5 1.5 6.7 1.5 7.4 1.5 5.7 1.5 0 1.5-2.5 1.5-2.4 1.5-1.6 1.5-1.9 1.5-2.6 1.5-.9 1.5 3 1.5-.4 1.5 .6 1.5 1.7 1.5 .9 1.5 .9 1.5 2.1 1.5-4.5 1.5-1.6 1.5-2.9 1.5-2.9 1.5-5 1.5 3.3 1.5 3.8 1.5 1.5 1.5 4.9 1.5-.7 1.5-3.3 1.5-.5 1.5 2.5 1.5-2.7 1.5 .2 1.5-.9 1.5-.8 1.5-.5 1.5 2.7 1.5 2.9 1.5 2.7 1.5 1.2 1.5-.3 1.5-1.9 1.5 .8 1.5-1.7 1.5-3 1.5-.7 1.5-2.3 1.5-.1 1.5 .6 1.5 3.6 1.5 7.6 1.5 1.9 1.5-.2 1.5-3.3 1.5-.8 1.5-7.1 1.5-.2 1.5-1.7 1.5-1.2 1.5-.5 1.5 5.8 1.5-2.6 1.5 1.6 1.5 .7 1.5-2.6 1.5 0 1.5-.4 1.5-.1 1.5-.8 1.5-5.7 1.5-.6 1.5 4.2 1.5 3.3 1.5 6.4 1.5-1.7 1.5 1.2 1.5 2.6 1.5-.7 1.5-6.6 1.5-2 1.5-2.5 1.5-2.2 1.5-.7 1.5 4.3 1.5 3.1 1.5 5.2 1.5 3.7 1.5-3.5 1.5-4.5 1.5-2.3 1.5 .9 1.5 .1 1.5-.1 1.5 2 1.5 .3 1.5-1 1.5-.5 1.5 3.3 1.5 5.4 1.5 2.4 1.5-8.8 1.5-4 1.5-6.7 1.5-1.9 1.5 .4 1.5 1.6 1.5 1.6 1.5 5.8 1.5 2 1.5 4.2 1.5-3.1 1.5-3.3 1.5-2.8 1.5 2.7 1.5-2.3 1.5-2 1.5 3 1.5 .6 1.5 .5 1.5 1 1.5-2.5 1.5 1.8 1.5-.9 1.5 .6 1.5 2.4 1.5-2.9 1.5-2 1.5 2 1.5 4.9 1.5-1.7 1.5 4.5 1.5-.1 1.5-.1 1.5-2.2 1.5-.7 1.5 1.2 1.5-4.7 1.5-1.3 1.5 1.7 1.5 5.3 1.5-4.3 1.5-2.4 1.5 3.1 1.5 3.7 1.5 1.8 1.5-1.4 1.5-2.6 1.5-3.1 1.5-8.9 1.5-10.7 1.5 3.4 1.5 7.1 1.5 6.2 1.5 5.3 1.5 1.6 1.5 1.4 1.5 .5 1.5-.2 1.5-4.8 1.5 1.5 1.5-4.4 1.5 .2 1.5-2 1.5-.2 1.5 2.1 1.5 3.7 1.5 .4 1.5 .5 1.5-.8 1.5-.2 1.5 2.6 1.5 .3 1.5-2.3 1.5-3 1.5 .9 1.5 1.3 1.5 1 1.5-1.4 1.5 1 1.5 1.8 1.5-3.3 1.5 2.7 1.5 1.2 1.5-4.9 1.5 3.3 1.5-1.3 1.5-1.3 1.5-1.2 1.5-1.8 1.5 1.8 1.5-1.4 1.5-1.4 1.5 .7 1.5 2.4 1.5-.8 1.5-2.5 1.5-1 1.5 2.7 1.5 4.1 1.5-4 1.5-3.3 1.5-1.1 1.5 3.6 1.5 1.4 1.5 .7 1.5 3.4 1.5-1.9 1.5-2.1 1.5 1.2 1.5-2 1.5 .2 1.5 3.1 1.5 2.3 1.5-1.1 1.5-1.5 1.5 .7 1.5 .1 1.5-1.7 1.5 .6 1.5-3.6 1.5 .5 1.5 2 1.5-1 1.5 3.1 1.5-.1 1.5 .6 1.5 1.3 1.5-3.9 1.5-2.5 1.5 2.1 1.5 4.4 1.5 2.1 1.5-2.2 1.5-1.5 1.5 .5 1.5-.7 1.5 1.8 1.5-3.1 1.5 .1 1.5-1.9 1.5 2.8 1.5-.7 1.5-1.7 1.5-2 1.5 2.7 1.5 .9 1.5 2.2 1.5-4.3 1.5-1.2 1.5 1.1 1.5-.7 1.5 1.6 1.5 .3 1.5-4 1.5-.1 1.5-.4 1.5 .9 1.5 .1 1.5 2.2 1.5 .4 1.5-1.2 1.5 2.7 1.5-3.7 1.5 2.6 1.5 .6 1.5-.5 1.5 .5 1.5-.3 1.5-1.9 1.5 2.7 1.5 .3 1.5 3.1 1.5-1.7 1.5 1.4 1.5-.7 1.5 .7 1.5-1.9 1.5-2.4 1.5-.3 1.5-3.3 1.5 2.6 1.5 0 1.5-.7 1.5 .8 1.5-1.1 1.5 .8 1.5 .6 1.5-2.1 1.5 4.2 1.5 1.6 1.5-2.1 1.5-.6 1.5-2.1 1.5-.8 1.5 2.6 1.5-.4 1.5 1.1 1.5-.4 1.5 1.7 1.5 3.5 1.5 .3 1.5-2.2 1.5-.8 1.5-4.1 1.5 2.9 1.5-1.8 1.5 3 1.5-3.3 1.5 .4 1.5-.8 1.5-1.2" stroke="#f7a86c" stroke-width="1.1" fill="none" stroke-linejoin="round"/>
<path d="M133 984.6l1.5 1.3 1.5 2.6 1.5-.4 1.5 .3 1.5-2.9 1.5 2.3 1.5 .7 1.5 .2 1.5 1.3 1.5 4.1 1.5-2.3 1.5-1.8 1.5 2 1.5-.9 1.5-.5 1.5-.9 1.5 0 1.5 2.3 1.5-5 1.5 1.8 1.5 2.6 1.5 2.5 1.5-3.2 1.5-.9 1.5-.6 1.5 2.9 1.5 1.9 1.5 .9 1.5 2 1.5-2.7 1.5-4.1 1.5-.9 1.5 2.8 1.5-.9 1.5 0 1.5 .8 1.5 .9 1.5 .5 1.5-3.8 1.5-4.3 1.5 1.1 1.5-.4 1.5 .3 1.5 2.1 1.5 3 1.5-.9 1.5-3 1.5-2.7 1.5 1.7 1.5 .4 1.5 .7 1.5 4.1 1.5-4.3 1.5-1.5 1.5 4.1 1.5-4.6 1.5 3.2 1.5-.1 1.5 1.4 1.5-.1 1.5-1.2 1.5 1.8 1.5-.6 1.5 0 1.5 1.3 1.5 1.6 1.5 4.4 1.5-3.3 1.5-1.3 1.5 .6 1.5-4.1 1.5 .7 1.5 3.4 1.5 2.2 1.5-.7 1.5-2 1.5 1.6 1.5-.7 1.5-2.8 1.5 1.3 1.5-3.5 1.5 .6 1.5-.2 1.5 .3 1.5 5.5 1.5-1.7 1.5 0 1.5-.4 1.5-4.1 1.5 6.9 1.5 1.5 1.5-.1 1.5-3.2 1.5 .9 1.5 1.2 1.5 1 1.5 .1 1.5-3.4 1.5-2.8 1.5 .2 1.5 1.9 1.5 1.9 1.5 1.6 1.5-1.2 1.5-1.7 1.5 1.8 1.5-.6 1.5-2.4 1.5 .6 1.5-2 1.5 1.1 1.5-2.3 1.5-.5 1.5-2.3 1.5 3.7 1.5 1.8 1.5-1.3 1.5-.2 1.5 .7 1.5 1.1 1.5 .7 1.5 .2 1.5 .3 1.5-2.5 1.5 1.7 1.5 1.2 1.5-2.9 1.5-1.4 1.5 .9 1.5 2.1 1.5 4.6 1.5-2.5 1.5-.1 1.5 4.2 1.5-1.6 1.5-2.3 1.5 2.2 1.5-5.7 1.5-6.7 1.5-3.9 1.5 3.7 1.5-.7 1.5 3 1.5 5.6 1.5 1.9 1.5-2.7 1.5 1.5 1.5 .6 1.5-3.4 1.5-3 1.5 2.1 1.5 0 1.5 .2 1.5 1.2 1.5 .2 1.5 2.7 1.5-2.6 1.5 5.1 1.5 .1 1.5-.2 1.5-6.6 1.5-5 1.5-1.6 1.5 1.2 1.5-3.9 1.5 2.7 1.5 6.4 1.5 4.3 1.5-1.6 1.5-.7 1.5-1 1.5 .4 1.5-4.9 1.5-2 1.5-3.1 1.5 .7 1.5 .3 1.5 4.7 1.5 3 1.5-.5 1.5 1.1 1.5 .1 1.5 1 1.5 2.2 1.5 .4 1.5-2.6 1.5-3.6 1.5-2.4 1.5 1.5 1.5 .2 1.5-.1 1.5 3.2 1.5 2.9 1.5-.1 1.5-1.2 1.5-.7 1.5 .4 1.5-3.6 1.5-.3 1.5-1.3 1.5-1.7 1.5 2.3 1.5 2.1 1.5 4.3 1.5 1.2 1.5-.4 1.5-2.7 1.5-5.7 1.5-1.3 1.5-2.5 1.5 .6 1.5 .8 1.5 2 1.5 4.9 1.5 .5 1.5-1.7 1.5 2.4 1.5-2.4 1.5-2.5 1.5-1.9 1.5 1 1.5-3.1 1.5-3.2 1.5 4.5 1.5 4.5 1.5 4.3 1.5 2.7 1.5 1.6 1.5-2.8 1.5-2.3 1.5-1 1.5-2.6 1.5-1.5 1.5 .6 1.5 .7 1.5-.2 1.5 .7 1.5 2.7 1.5 2.9 1.5 .3 1.5 .7 1.5-2.2 1.5-10.4 1.5-8.6 1.5 1.6 1.5 1.8 1.5 4.8 1.5 .6 1.5-.5 1.5 3.1 1.5 1.3 1.5 .7 1.5-1.5 1.5-6 1.5-1 1.5 .7 1.5 .5 1.5-.5 1.5 3.6 1.5 2.2 1.5-2.6 1.5 2.7 1.5-6.4 1.5 .7 1.5 3.1 1.5 .8 1.5-2.1 1.5-2.7 1.5 2.4 1.5 .5 1.5-2.4 1.5-1 1.5-.5 1.5 3.6 1.5 1.9 1.5 2.4 1.5-1.9 1.5 .4 1.5-2.6 1.5-2 1.5 6.4 1.5 1.5 1.5-3.4 1.5 1.6 1.5-1.2 1.5 4.1 1.5-.7 1.5 3 1.5-6.1 1.5-2.1 1.5 1.3 1.5 1.7 1.5-8 1.5-2 1.5-.5 1.5 3.9 1.5 6.2 1.5 1.2 1.5 1.8 1.5-3.4 1.5-3.7 1.5 1.7 1.5-1.2 1.5-5.2 1.5 2.8 1.5 2.2 1.5 1.7 1.5 3 1.5-1.7 1.5 3.9 1.5-1.9 1.5-1.7 1.5 1.7 1.5-.2 1.5-2.5 1.5-1.4 1.5 4.7 1.5-.2 1.5-4.4 1.5 2.3 1.5 3.3 1.5 3 1.5-1.6 1.5 .7 1.5-4.7 1.5-2.6 1.5 2.9 1.5 3.8 1.5-3.3 1.5-.6 1.5 .4 1.5-3.6 1.5 .4 1.5 .1 1.5 .7 1.5 1.2 1.5-2.1 1.5 4.1 1.5-2.4 1.5-7.2 1.5 4.5 1.5-.2 1.5 2.1 1.5-2 1.5 1.5 1.5 1.4 1.5-2.1 1.5-1.2 1.5 2.9 1.5-.5 1.5-3.1 1.5-1.8 1.5 .5 1.5 .6 1.5 1.6 1.5-3.2 1.5 1.6 1.5 1 1.5 4.5 1.5 .8 1.5-1.8 1.5-.3 1.5-1.7 1.5-1 1.5 3.1 1.5-1.7 1.5 1.3 1.5-2.3 1.5 .1 1.5-3.5 1.5-.2 1.5 5.6 1.5-2.9 1.5-2.3 1.5 7.6 1.5-4.5 1.5 .6 1.5 3.8 1.5-2.1 1.5-.9 1.5-2.1 1.5 1.7 1.5 2.6 1.5 .5 1.5 0 1.5-4 1.5-1.2 1.5 2 1.5 1.5 1.5 2.5 1.5-2.3 1.5 .7 1.5-2.8 1.5 .6 1.5 1.4 1.5-3.9 1.5-1.7 1.5 2.1 1.5-.2 1.5 1.5 1.5 1.5 1.5 .6 1.5 0 1.5-.6 1.5-2.7 1.5 2.6 1.5-4.2 1.5-.4 1.5 .5 1.5 5.2 1.5-3.3 1.5-.5 1.5 1.2 1.5-.7 1.5 1.6 1.5-3.8 1.5 4.2 1.5-1.1 1.5 .3 1.5-.4 1.5-.2 1.5 2.4 1.5 1.7 1.5-2.5 1.5-.4 1.5-4.2 1.5 3.1 1.5 .5 1.5 2.5 1.5-2.2 1.5-1.4 1.5-.7 1.5 1.8 1.5-.1 1.5 .1 1.5-1.2 1.5-1.6 1.5 1.4 1.5-.1 1.5 3.7 1.5 2.7 1.5-.7 1.5-2.2 1.5-2.1 1.5 4.3 1.5-4.1 1.5 2.3 1.5-1.6 1.5 .1 1.5-.5 1.5 1.1 1.5-1.8" stroke="#f7a86c" stroke-width="1.1" fill="none" stroke-linejoin="round"/>
<path d="M133 994.3l1.5-2.3 1.5-4.3 1.5 .1 1.5-.6 1.5 7.1 1.5-1.7 1.5 1.2 1.5-3 1.5-.8 1.5-.9 1.5 2.4 1.5 3.2 1.5 .8 1.5-1 1.5 .5 1.5-1.3 1.5-1.2 1.5 1.3 1.5 1.3 1.5 .3 1.5-.2 1.5-.3 1.5 .7 1.5-1.4 1.5-3.7 1.5 .8 1.5 1.2 1.5 0 1.5-1.7 1.5 .2 1.5 4.6 1.5-8.3 1.5 2.6 1.5 1.3 1.5 .5 1.5 2.3 1.5-.4 1.5-1.1 1.5 .1 1.5-1.8 1.5 .8 1.5 1.6 1.5 1.9 1.5 .1 1.5-2.9 1.5 1.4 1.5 2.5 1.5-.6 1.5 1.1 1.5 1.7 1.5-.6 1.5-3.5 1.5 4.9 1.5-4.4 1.5 1 1.5 1.8 1.5-6 1.5-1.4 1.5 3.3 1.5-5.3 1.5 .9 1.5 1.3 1.5 1.7 1.5 4 1.5-1.5 1.5 1.9 1.5 .8 1.5-.1 1.5 1.9 1.5-1.3 1.5-.2 1.5 0 1.5 5.8 1.5-5.4 1.5-1.4 1.5 0 1.5 .9 1.5-2.6 1.5 .4 1.5-.3 1.5-.9 1.5-.9 1.5-2.2 1.5-.4 1.5 4.2 1.5-4 1.5 1.8 1.5 .6 1.5-1.1 1.5 2.7 1.5 1.5 1.5 3.4 1.5-5.1 1.5 .8 1.5-1.3 1.5 3.3 1.5-1.1 1.5 1.1 1.5 .4 1.5-3.2 1.5 .9 1.5 2 1.5-.5 1.5-1.1 1.5 .7 1.5 .4 1.5-.8 1.5-1.2 1.5 2.7 1.5 3.1 1.5-3.9 1.5-2.3 1.5 1.4 1.5 2.3 1.5-2 1.5 1.4 1.5-.8 1.5-1.8 1.5-1.6 1.5 .5 1.5-2 1.5 .1 1.5 1.4 1.5 3.7 1.5 1.1 1.5-2.6 1.5 .5 1.5-.7 1.5 .5 1.5 .2 1.5-.4 1.5-.4 1.5-.5 1.5 .2 1.5 .3 1.5-4.9 1.5 4.4 1.5 2.3 1.5-5.9 1.5-1 1.5 2.6 1.5 1.4 1.5 1.4 1.5-2.2 1.5-.5 1.5 4 1.5 4 1.5-2.5 1.5 .2 1.5-5.8 1.5-3.3 1.5-2.5 1.5 1.4 1.5 2.1 1.5 .8 1.5 1.5 1.5 .5 1.5 1.7 1.5 6.3 1.5 2.2 1.5-3.1 1.5-6.9 1.5-6 1.5-3 1.5 2.8 1.5 4.9 1.5 2.4 1.5 4 1.5 10 1.5 5.2 1.5-5.7 1.5-1.5 1.5-4.5 1.5-7.6 1.5-4.3 1.5 4.1 1.5 6.9 1.5 2.7 1.5-1.1 1.5-.1 1.5-.8 1.5 1.2 1.5 3.3 1.5 3.5 1.5-6.3 1.5-4.6 1.5-1.4 1.5 .1 1.5-2.6 1.5 .2 1.5 6.4 1.5 3.7 1.5-1.4 1.5-1.9 1.5 1.8 1.5-1.5 1.5-8 1.5-5.3 1.5-.8 1.5 2.3 1.5 4.4 1.5 6.8 1.5 6.3 1.5 .9 1.5 2.5 1.5-.7 1.5 .1 1.5-10.8 1.5-3.9 1.5-3.1 1.5 3.6 1.5 2 1.5-.5 1.5 6.6 1.5 2.1 1.5 1.8 1.5 1.2 1.5 .4 1.5-7.6 1.5-4.3 1.5-1.4 1.5 1.8 1.5 .2 1.5 1.1 1.5 3.7 1.5-.1 1.5-.4 1.5 4.9 1.5-.5 1.5 .3 1.5-1.5 1.5 1.1 1.5-1.1 1.5-4.6 1.5-1.2 1.5 .1 1.5 3.9 1.5 2 1.5 .2 1.5-.1 1.5-3.3 1.5 .6 1.5-1.8 1.5-1.7 1.5-2.1 1.5-1.9 1.5 3 1.5 2.8 1.5 2 1.5 3.4 1.5-.8 1.5-1.9 1.5-.8 1.5-2.8 1.5 1.7 1.5 1.5 1.5-.8 1.5-.8 1.5 1 1.5 .3 1.5 2.5 1.5-1.3 1.5 2.4 1.5-1.1 1.5-.2 1.5 .9 1.5-.9 1.5-1.1 1.5 4.2 1.5 .9 1.5-3.6 1.5 2 1.5-2.1 1.5-1 1.5 2.4 1.5-1.3 1.5-2.6 1.5-1.1 1.5-3.4 1.5-.4 1.5-3.9 1.5 .1 1.5 5.9 1.5-.1 1.5 3.9 1.5 3.8 1.5 .9 1.5-4 1.5-3.6 1.5 2.9 1.5-2.4 1.5-.2 1.5-1.4 1.5-4.3 1.5 3.4 1.5 1.8 1.5-.1 1.5 1.7 1.5 1.2 1.5-3.5 1.5-.8 1.5 3.2 1.5 1.5 1.5 3.5 1.5-5.1 1.5 .3 1.5 .6 1.5 .7 1.5-1 1.5-.5 1.5-2.3 1.5-.3 1.5 1.1 1.5 3.7 1.5 .2 1.5-3.2 1.5-.8 1.5 .1 1.5 1.7 1.5 1.2 1.5-.8 1.5 .3 1.5 4.2 1.5-5.1 1.5 1.2 1.5 2.7 1.5 1.2 1.5-2.4 1.5-2.3 1.5 .2 1.5 2.2 1.5-.5 1.5-3.4 1.5 .6 1.5 3.1 1.5-.8 1.5 .9 1.5-4.1 1.5-.9 1.5 .9 1.5-1.4 1.5-1 1.5 .2 1.5 2.1 1.5-1.6 1.5 2.1 1.5-2 1.5 3.3 1.5-4.2 1.5 .9 1.5-.7 1.5 1.8 1.5 1 1.5 .8 1.5-2.9 1.5-.7 1.5 5.4 1.5-1.8 1.5-1.9 1.5 1.3 1.5 1.2 1.5-2.8 1.5 1.4 1.5 1.9 1.5 1.6 1.5 2.4 1.5-1.5 1.5-2.5 1.5-4.7 1.5 1.2 1.5 1.9 1.5 2.2 1.5 .1 1.5-1.1 1.5-2.3 1.5 1.2 1.5-4 1.5 4.7 1.5 2.4 1.5-1.7 1.5 .8 1.5-.4 1.5-3.6 1.5-1.8 1.5 1.1 1.5-.3 1.5 1.6 1.5 2.5 1.5-3.5 1.5-.5 1.5-1.9 1.5 2 1.5 .5 1.5 1.2 1.5-.9 1.5 2.7 1.5-.7 1.5-.9 1.5-2.6 1.5 3.3 1.5-4.5 1.5 .7 1.5 .7 1.5 .3 1.5 .3 1.5-1.9 1.5 2.1 1.5-.9 1.5-.8 1.5-1 1.5-1.2 1.5-3.4 1.5 4.9 1.5 1.8 1.5-3 1.5 3.2 1.5 3.4 1.5 1.4 1.5 0 1.5-1.8 1.5 2.2 1.5 2.1 1.5-5 1.5-4.5 1.5 4.8 1.5-2.1 1.5-1.5 1.5 1.3 1.5 1.5 1.5-1.1 1.5 1.2 1.5 0 1.5-3.2 1.5 2.2 1.5 2.2 1.5-1.5 1.5-3.1 1.5-1.1 1.5 .6 1.5-2.5 1.5 3.1 1.5 .6 1.5-.2 1.5 .6 1.5 .6 1.5 .6 1.5 2.2 1.5-.4 1.5 .6 1.5-1.6 1.5 4.6 1.5 1.3" stroke="#f7a86c" stroke-width="1.1" fill="none" stroke-linejoin="round"/>
<path d="M133 1024.4l1.5-1.4 1.5-2.7 1.5 .7 1.5 1.7 1.5 .3 1.5-1.4 1.5 1.7 1.5-2.4 1.5-1.1 1.5 3.2 1.5-4.4 1.5 3.3 1.5-3.8 1.5-.4 1.5 1.4 1.5 .6 1.5-1 1.5 3.9 1.5-1.4 1.5-2.8 1.5-1.2 1.5 .1 1.5-2.5 1.5 6.3 1.5 1.5 1.5 1.2 1.5 1.6 1.5-4.6 1.5-1.8 1.5 3 1.5 .9 1.5 .8 1.5-4.8 1.5 .5 1.5 0 1.5 2.9 1.5-1.9 1.5-.2 1.5-1.5 1.5 .4 1.5 2.6 1.5-2.1 1.5-.1 1.5-2.2 1.5 .6 1.5-1.5 1.5-.5 1.5-1 1.5-1.9 1.5-.1 1.5 3.1 1.5 1.6 1.5 .2 1.5-.4 1.5-3.6 1.5 5.2 1.5 .4 1.5 2.9 1.5-4 1.5-2.5 1.5-.1 1.5-.5 1.5 .1 1.5-.7 1.5 1.5 1.5 1.6 1.5 1.2 1.5 2.3 1.5-4 1.5-3.6 1.5-.1 1.5 3.4 1.5 1.3 1.5 1.8 1.5-6.2 1.5-1.7 1.5-1.8 1.5 3.2 1.5-1.1 1.5 .5 1.5-.1 1.5-2.1 1.5 1 1.5 2.4 1.5 .3 1.5-3.1 1.5 .3 1.5 .6 1.5-1.2 1.5 2.6 1.5-.2 1.5 .3 1.5 3.9 1.5 1.5 1.5-1 1.5-3.7 1.5-1.1 1.5-1.3 1.5-2.7 1.5 2.8 1.5-2.8 1.5 2.2 1.5 1.7 1.5-1.5 1.5-.9 1.5 .6 1.5 2.7 1.5-.7 1.5-.2 1.5-3.9 1.5 1 1.5-.5 1.5 1.3 1.5-2.2 1.5 1.4 1.5 .3 1.5-2.9 1.5 1.6 1.5-1.6 1.5 .6 1.5 5.6 1.5-3.2 1.5-2.9 1.5-1.6 1.5 3.6 1.5 .5 1.5 1.2 1.5-4.5 1.5 0 1.5-1.1 1.5 .3 1.5 .8 1.5 1.3 1.5 .9 1.5 4.2 1.5 5.3 1.5-2.7 1.5-9.6 1.5-4 1.5-1.9 1.5-3.6 1.5 9.7 1.5 3.3 1.5-1.8 1.5-1.9 1.5 .9 1.5 .9 1.5 2.9 1.5-.3 1.5-6.5 1.5-9.2 1.5-4 1.5 4.9 1.5 6.8 1.5 3.6 1.5 2.5 1.5 6.3 1.5 7.5 1.5-2.8 1.5-5.5 1.5-4.4 1.5 0 1.5-6.9 1.5-.6 1.5 1 1.5-1.8 1.5 7.2 1.5 2.8 1.5 6.1 1.5 1.4 1.5 .1 1.5-2.5 1.5-4.6 1.5-6.5 1.5-.1 1.5-1 1.5 3.3 1.5 .8 1.5 1 1.5 3.5 1.5 1.7 1.5-.3 1.5 1.2 1.5-.3 1.5-3.2 1.5-2.4 1.5-6.1 1.5-1.4 1.5 1.1 1.5 5.8 1.5 8.4 1.5 3.9 1.5-3.5 1.5 1.2 1.5-1.5 1.5-3.3 1.5-4.3 1.5-9.8 1.5 .1 1.5 2.1 1.5 3.4 1.5 6.1 1.5 3.8 1.5 1.7 1.5 .6 1.5 2.1 1.5-1.3 1.5-6.8 1.5-4.3 1.5 2.3 1.5 1 1.5-2.2 1.5-1.2 1.5 .5 1.5 3.6 1.5 1.2 1.5 2.5 1.5 2.5 1.5-3.5 1.5-4.6 1.5-3.9 1.5 .7 1.5-1.6 1.5 .8 1.5 7.4 1.5 2.1 1.5 4.9 1.5 1.1 1.5-1.3 1.5-1 1.5-3.7 1.5-3.3 1.5 .5 1.5-1.2 1.5-2.3 1.5 0 1.5 4.6 1.5 1.9 1.5 2.4 1.5 4.5 1.5 2.4 1.5-6.3 1.5-6.3 1.5-4.9 1.5-2.9 1.5 1.5 1.5 .9 1.5 5.3 1.5 1.3 1.5 .7 1.5 1.9 1.5-1 1.5 1.7 1.5 1.2 1.5-4.8 1.5-3.3 1.5-.8 1.5 .6 1.5-1.5 1.5 4.6 1.5-.5 1.5 1.8 1.5 4.5 1.5-4.8 1.5 1.4 1.5-1.4 1.5 1.9 1.5-.8 1.5 2.2 1.5-2.5 1.5-.3 1.5-5.1 1.5 2.2 1.5 4.3 1.5-2.7 1.5 .3 1.5 1.5 1.5-1.6 1.5-4.7 1.5-5.5 1.5 1.2 1.5 5.1 1.5-1 1.5 1.2 1.5 6.1 1.5 2.8 1.5 2.6 1.5 .2 1.5-.4 1.5-4.1 1.5-1.1 1.5-2.6 1.5 .7 1.5 1.8 1.5 .4 1.5-1.2 1.5 1.1 1.5 .6 1.5 .4 1.5-2.5 1.5-4.6 1.5 .1 1.5-1.4 1.5-2.9 1.5-.1 1.5 4.5 1.5 3.9 1.5 3.3 1.5-7.1 1.5-.6 1.5 1.7 1.5 1.5 1.5 .3 1.5 1.9 1.5 .5 1.5-3.8 1.5-1 1.5-.9 1.5 2.1 1.5 .6 1.5-3.3 1.5 2.4 1.5-.2 1.5-1.6 1.5 3 1.5-1 1.5-.6 1.5 .9 1.5 .1 1.5 3.5 1.5-3.4 1.5 2 1.5-7.6 1.5 2.8 1.5-1.6 1.5 5.6 1.5 1 1.5-.1 1.5-1.6 1.5-3.8 1.5 1.6 1.5 1.5 1.5-3.9 1.5-2 1.5 4.3 1.5 2.4 1.5-1.8 1.5 1.1 1.5-1.4 1.5 2.2 1.5-1.4 1.5-.2 1.5-1.4 1.5 3.5 1.5-1.8 1.5-2.3 1.5 3.2 1.5-1.7 1.5 .6 1.5 1.1 1.5 .1 1.5-1 1.5-.3 1.5 2.1 1.5 .3 1.5-3.4 1.5 1.6 1.5-.6 1.5 .2 1.5 0 1.5 0 1.5-2.9 1.5-.9 1.5 1 1.5 2.7 1.5-.5 1.5-.5 1.5 1.7 1.5 4.1 1.5-3 1.5 1.6 1.5-.6 1.5-1.9 1.5 .1 1.5-3.7 1.5-1.5 1.5 3 1.5 6.9 1.5-3.5 1.5-3 1.5-1.3 1.5-1.8 1.5-3 1.5 1.9 1.5 .6 1.5 3.1 1.5-.1 1.5-1.9 1.5-2.7 1.5 3 1.5-.9 1.5-.3 1.5-.7 1.5-2.5 1.5 3.1 1.5-1.4 1.5 3.4 1.5-3.8 1.5 2 1.5-1 1.5 2.7 1.5-2.1 1.5 4.4 1.5 .1 1.5-3 1.5 .8 1.5 2.4 1.5-1.6 1.5-3.1 1.5-.5 1.5-1 1.5 1.4 1.5 .2 1.5-4.2 1.5 5.3 1.5 4.4 1.5 .2 1.5-.8 1.5-1.9 1.5-2.3 1.5-.9 1.5 4.7 1.5 2.7 1.5-.1 1.5-1.8 1.5-1.4 1.5-1.3 1.5 2.3 1.5-2.2 1.5 4 1.5 1.7 1.5-1.4 1.5-3.7 1.5 1.9 1.5-1.9 1.5-.4 1.5 1 1.5 3.4 1.5-3.6 1.5 1.4 1.5 3.3 1.5-2.6" stroke="#f7a86c" stroke-width="1.1" fill="none" stroke-linejoin="round"/>
<path d="M133 998.5l1.5-1 1.5 .5 1.5 .9 1.5-.2 1.5-2 1.5 .8 1.5 2.5 1.5-3.8 1.5 3.9 1.5-.6 1.5 .4 1.5-2.8 1.5-.9 1.5 1.2 1.5 .3 1.5 .3 1.5 2.8 1.5-.8 1.5 1.3 1.5 .2 1.5-.6 1.5-1.9 1.5 3.8 1.5 1 1.5-5.4 1.5 3 1.5-.5 1.5-1.5 1.5-.2 1.5 3.6 1.5-.4 1.5-.2 1.5-2.8 1.5-3.2 1.5 2 1.5 1.5 1.5-4.9 1.5 3.6 1.5 1.3 1.5-.4 1.5 1.6 1.5 2 1.5-7 1.5 .4 1.5 2.5 1.5 1.5 1.5 1.2 1.5 .3 1.5 .3 1.5-4.2 1.5-.9 1.5 6 1.5 2.7 1.5-1.6 1.5 .3 1.5-3.1 1.5-3.6 1.5-2.1 1.5 1.6 1.5 1.8 1.5 1.3 1.5-5.6 1.5 5.9 1.5 4.1 1.5 2.7 1.5-4.4 1.5-3.5 1.5-1.3 1.5 3.5 1.5 5.2 1.5-2.5 1.5 0 1.5-2.7 1.5-.1 1.5-.5 1.5 .8 1.5-1.5 1.5 1 1.5 1.9 1.5-1.2 1.5 4.2 1.5-.1 1.5-.9 1.5-2.3 1.5 1.2 1.5 1 1.5 1.8 1.5-2.5 1.5 .9 1.5-.5 1.5-4.6 1.5-1 1.5-2.7 1.5 .3 1.5 1.1 1.5-1.3 1.5 2.1 1.5 1.3 1.5-2.4 1.5-.5 1.5 .8 1.5 2.3 1.5 1.3 1.5 .9 1.5 2 1.5-1.7 1.5-3.3 1.5 3.3 1.5 1.1 1.5 .3 1.5-1.4 1.5 .4 1.5-1.3 1.5 1.4 1.5 1.1 1.5-.2 1.5 4.4 1.5-.6 1.5-3.4 1.5-4 1.5 1.5 1.5 .5 1.5-.4 1.5 4.7 1.5 .1 1.5 .1 1.5-.4 1.5-.1 1.5-6.4 1.5 1.1 1.5 .6 1.5 .1 1.5 2.5 1.5 .2 1.5 2.6 1.5 0 1.5-6 1.5-.8 1.5-.6 1.5-2.4 1.5-1.3 1.5 1.2 1.5 4.8 1.5 4.1 1.5 6.4 1.5 2.3 1.5-2.2 1.5 .1 1.5-4.1 1.5-4.6 1.5-3.3 1.5-5 1.5 .8 1.5 7 1.5 .8 1.5 3.9 1.5 1.6 1.5 .1 1.5-2.9 1.5 .8 1.5-5.7 1.5-.8 1.5 2 1.5 0 1.5-1.3 1.5-3.8 1.5 6.1 1.5 2.4 1.5 3.4 1.5-3 1.5 .8 1.5-.4 1.5 1.7 1.5-.2 1.5-3.2 1.5-3.3 1.5 .2 1.5 1 1.5 5.8 1.5-.6 1.5 4.2 1.5-1 1.5 1.5 1.5-4.3 1.5-4.2 1.5-4.3 1.5-5.3 1.5 3.8 1.5 4.6 1.5 3.7 1.5 5.7 1.5 1.2 1.5 1.4 1.5-1 1.5-1.5 1.5 1.8 1.5-1.9 1.5-2 1.5-5.2 1.5-.9 1.5 4 1.5 .3 1.5 3.8 1.5 1.6 1.5 3 1.5 2.5 1.5-2.2 1.5-1.4 1.5 .4 1.5-5.2 1.5-5.4 1.5 2 1.5 .3 1.5 4.8 1.5 9.4 1.5-2.2 1.5-1.3 1.5-3.7 1.5-1.5 1.5-.8 1.5-5.2 1.5 .8 1.5-1.4 1.5 1.5 1.5-1.2 1.5 6.6 1.5 1 1.5 2.7 1.5 6.4 1.5-6.2 1.5-2.4 1.5-4.6 1.5-4.4 1.5 2.2 1.5-.6 1.5 2.8 1.5 2.3 1.5 2.4 1.5 6.3 1.5 6.4 1.5-2.3 1.5-2.9 1.5-7.7 1.5-1.1 1.5-8.4 1.5-4.3 1.5 4.9 1.5 3.8 1.5 6.7 1.5 5.6 1.5 3.5 1.5 1.2 1.5-3.8 1.5-6.1 1.5-3.8 1.5 2.5 1.5 1.5 1.5 2.9 1.5-2.7 1.5-.8 1.5 1.4 1.5-2 1.5 .7 1.5-1.2 1.5-.2 1.5-.9 1.5 2.5 1.5 1.1 1.5 .2 1.5-2.3 1.5 .3 1.5 6.6 1.5-.8 1.5-1.5 1.5-4.1 1.5 1.8 1.5-3.4 1.5 2.7 1.5-.7 1.5-2.3 1.5 .6 1.5-2 1.5 1.3 1.5 3 1.5 3.8 1.5-.3 1.5-1.7 1.5-2.9 1.5 5.2 1.5 2.4 1.5-3 1.5-1.3 1.5-3.3 1.5-1.5 1.5-1 1.5 2.4 1.5 3.9 1.5-.2 1.5-2.5 1.5-2.8 1.5-.6 1.5-.5 1.5-4 1.5-.9 1.5 4.1 1.5 3.6 1.5 3.2 1.5 2.7 1.5-1.7 1.5-3.4 1.5-1.7 1.5-.6 1.5-2.5 1.5-3.4 1.5 1.1 1.5 .7 1.5 3.7 1.5-.4 1.5-1.4 1.5-.6 1.5 .5 1.5 1.1 1.5 .5 1.5 1.2 1.5-2 1.5 3.7 1.5 1.4 1.5 .2 1.5-1.6 1.5 1.1 1.5-1.1 1.5-4.2 1.5 2.5 1.5 .4 1.5-1.3 1.5-1 1.5 2.5 1.5-3.1 1.5-2 1.5 2.2 1.5-2.2 1.5 1.9 1.5 1.1 1.5-3.7 1.5 3.2 1.5-2 1.5 .1 1.5-1.4 1.5-1.8 1.5 1.9 1.5 1.2 1.5-.3 1.5 .5 1.5-.2 1.5 1.9 1.5-.9 1.5 .5 1.5 3.3 1.5-2.7 1.5-2.3 1.5 .5 1.5 1.5 1.5 1.9 1.5-.9 1.5 1.4 1.5-1.9 1.5-.6 1.5-1.8 1.5 .5 1.5 6 1.5-3.4 1.5 2.5 1.5 1.6 1.5-.9 1.5-5.2 1.5 .6 1.5 2.3 1.5-.4 1.5-5.8 1.5 5.5 1.5 1.8 1.5 1.1 1.5-.6 1.5-3.2 1.5 .4 1.5 .4 1.5 1.8 1.5-.3 1.5-.1 1.5 2.8 1.5-2.6 1.5 .1 1.5 2.2 1.5-.6 1.5-1 1.5-.8 1.5-1.7 1.5 1.6 1.5-1.7 1.5-1 1.5 4.3 1.5-1.5 1.5-.2 1.5-2.8 1.5-2.3 1.5-2.4 1.5 1.6 1.5 1.5 1.5 2.7 1.5 .5 1.5-.7 1.5 .8 1.5-2.8 1.5-1.4 1.5-2 1.5 4.8 1.5-.9 1.5 .6 1.5 .6 1.5-2.1 1.5-.5 1.5 .5 1.5 .2 1.5-1.3 1.5 2 1.5-2.3 1.5 1.2 1.5 3.2 1.5-.8 1.5-3.7 1.5-.2 1.5 .1 1.5-.3 1.5-1 1.5 3.4 1.5 1.8 1.5 .5 1.5-2 1.5 1.2 1.5 1 1.5-1.5 1.5 1.7 1.5 1.7 1.5 2.2 1.5-2.4 1.5-1.5 1.5 1 1.5-.9 1.5-1.5 1.5 .2 1.5 .2 1.5-.3" stroke="#f7a86c" stroke-width="1.1" fill="none" stroke-linejoin="round"/>
<path d="M133 994.8l1 2.2 1-.3 1 .3 1 1.1 1-.5 1-.4 1-.4 1 .4 1 0 1-.2 1 1.8 1-.6 1-1.5 1 1.9 1-2.2 1 0 1 .2 1 0 1 .4 1 .6 1 .6 1-.7 1 .9 1-.9 1-.9 1-.7 1 0 1-1.1 1-.7 1 .8 1 1.1 1 2.8 1 .4 1-1.3 1-.2 1-1.5 1 .3 1 .2 1-2.6 1 1.9 1-1.9 1 1.8 1 1.3 1 0 1-.5 1 .5 1 .8 1-.4 1-.1 1 1.1 1-2.6 1 .1 1-1.1 1 3.1 1 .4 1 .1 1-.6 1-.1 1-.3 1 .3 1 0 1-1.7 1-.3 1 .7 1-.6 1-.9 1 .7 1-.5 1 1.9 1-.7 1 .4 1 1.8 1-1 1-.5 1 .4 1 .7 1 .5 1-.9 1 .1 1 .1 1 1.1 1 .4 1 0 1-.3 1-1.8 1-1.4 1 0 1 .5 1-.1 1 .2 1 .3 1-.1 1 1 1 2.1 1-1.1 1 1 1 .4 1 .5 1-.6 1-1 1-.4 1 .1 1-1.2 1 .4 1-1.9 1 2.1 1-1.2 1-.1 1 .3 1-.4 1-1.3 1 .1 1-1 1 1.6 1-1.3 1 .6 1 .7 1 1.2 1 1.3 1-.1 1 .4 1-.3 1-.8 1-.9 1 0 1 .9 1-1.6 1 2 1-1.5 1 .3 1-1 1 0 1 .6 1 1.3 1-.1 1 1.9 1-.6 1-.4 1 .2 1-1.7 1 .1 1-.9 1 1.3 1 1.5 1-.4 1 .6 1 1.8 1-.7 1-2.2 1 1.5 1-.8 1 0 1-.4 1-.2 1-1 1 1.7 1 .1 1-.8 1 1 1-2.1 1-.2 1 .4 1-.2 1-1 1 .5 1 1.8 1 .6 1-1.1 1 .3 1-2.4 1 .5 1-1 1 .7 1 .6 1 .8 1 0 1-.4 1 2.4 1 .2 1-.6 1 .8 1-.2 1-1.7 1 .6 1-1.3 1 .6 1-1.5 1-.8 1-.2 1 1.1 1 .8 1-.8 1 .3 1-.4 1 1.6 1 1.2 1 .3 1-1.8 1 .8 1-.2 1 .6 1 .5 1 .5 1 .5 1 .6 1 1.3 1-.8 1-1.8 1 .4 1-.3 1-1.9 1 1 1-.3 1-.6 1-.3 1-.1 1-.7 1 1.7 1-.6 1 .4 1 .7 1 .1 1 1.5 1-.4 1-.4 1 .3 1 1.2 1-1.3 1 .7 1-1.1 1 .7 1 0 1-.6 1 0 1-1.5 1 .6 1 .8 1 2.9 1-1.4 1-.3 1-2 1-.5 1 0 1 .9 1 .7 1-1 1 1.2 1 1.3 1-1.5 1 1.1 1 .3 1 .5 1-2.1 1 1.7 1-1.5 1-.7 1-.1 1 1.4 1-1 1-.3 1 .4 1-.8 1 2.1 1-.6 1 .2 1 .6 1 .3 1 .3 1-1.7 1-.3 1 .1 1 .5 1 .1 1 1.3 1-2.2 1 .2 1-1.2 1 1.6 1 .5 1 .8 1-.9 1 1.6 1-.4 1-.4 1 .3 1-1.5 1 0 1-1.8 1 1.6 1 1.2 1 1.3 1-.7 1 .7 1-.4 1-.6 1 0 1 .5 1-.5 1-.2 1-2 1 2.4 1-.3 1-.2 1-.3 1-.3 1 .3 1 1.3 1-1.4 1 1.7 1-.4 1 .9 1-1.4 1-1.3 1 1.3 1 .1 1 .6 1 .7 1-.5 1 .6 1-1 1 .5 1-2.2 1 1.2 1-1.1 1 2.5 1-.2 1-1.1 1-.1 1 1.5 1-1.6 1-.1 1-.2 1-.4 1 .5 1 .9 1 .5 1-.7 1 .5 1 .4 1-1.3 1 .2 1 0 1-1.9 1 .9 1 2.1 1-.2 1-1.5 1 1.6 1 .3 1-1.5 1 1.9 1-1.7 1 0 1 .1 1-.6 1 .1 1-1 1 1.5 1-.8 1 1.7 1-1.1 1 .5 1 .8 1 1.3 1-1.3 1 2.9 1-3.4 1 .2 1-.6 1-1.5 1 .7 1 .2 1 .6 1-1.7 1 .8 1 0 1 .6 1 .7 1-.8 1 .6 1 1 1-2.3 1 .8 1 .1 1 1.8 1-.8 1 1.8 1-2.1 1 .8 1-1.1 1-.4 1-.1 1-.3 1 .6 1 1.8 1-1.9 1 .6 1 .3 1-.7 1 .8 1-.7 1-.8 1 .5 1-1.3 1 1.4 1-.3 1 1.7 1 .3 1-.2 1-.1 1-1.1 1-.5 1 .3 1-.4 1-.5 1 .7 1-.3 1 .5 1 1 1 .9 1-.3 1 .2 1 .2 1-1.5 1-.6 1 .1 1-1.1 1 .4 1 1.2 1 0 1 1.6 1-.5 1-.2 1-.7 1-.6 1 1.8 1-2 1 .9 1 .6 1-1 1-.5 1-1 1 .8 1-.8 1 1.7 1-.1 1-1 1 .6 1-1.1 1-1.7 1-.1 1 0 1 .1 1 2.3 1-.5 1 1.8 1 .1 1 1.2 1-1.2 1-.6 1-.4 1 .3 1 .1 1 .5 1-.8 1-1.1 1 .5 1-.9 1 .1 1 .7 1-1.2 1 2.6 1 1.4 1-1.1 1 0 1-.2 1-.9 1-1 1-2.7 1 1.1 1 2 1-1 1 .3 1 1.7 1 .7 1-1.4 1 .5 1 .3 1-.9 1 .9 1-.7 1-.5 1-.3 1 .9 1-.4 1 .9 1 .6 1 .3 1 .8 1-.1 1-1.7 1 .2 1-2 1 1.6 1-2.5 1 1.1 1 .6 1 0 1 2.3 1-2.5 1 1.9 1-2.2 1 .5 1-2 1 .5 1 1 1 .7 1 .9 1-1.1 1 .6 1-.4 1-.7 1 1.9 1 .2 1 0 1-2.2 1 .4 1-.3 1-1.6 1 .8 1-.6 1 1.3 1-1.1 1 1.7 1-.6 1 .5 1 0 1 .9 1 .6 1-.8 1-.2 1 1.2 1 1.1 1-1.4 1-2 1 1.1 1-1.9 1 .7 1 1.6 1-.4 1 .6 1 0 1-.4 1 .2 1-.1 1-.2 1-1 1 2.1 1-1.8 1 1.3 1-.1 1-.4 1 .5 1-.2 1 .6 1-.1 1-.6 1-2 1-.3 1-1 1 3 1-2.2 1 1.4 1 .4 1 1.3 1-1.3 1-1.2 1 .5 1 0 1 .6 1 .4 1 1.1 1-1.8 1 .2 1-1.6 1 .6 1 .1 1 .4 1-1.4 1 1.6 1-.1 1 .4 1-1.2 1 1.4 1-.7 1-.7 1 .7 1-.8 1 .7 1 1.1 1-1 1 .8 1-.9 1-.9 1 .5 1 .3 1 .3 1-.1 1 .8 1 .8 1-1.2 1 .6 1 .3 1-1.7 1 1.7 1-1.4 1 .7 1 .1 1-1.2 1 .7 1 .6 1-1.3 1-.4 1-.7 1 0 1-.1 1 1.2 1 .1 1-.8 1 1.9 1-2 1 2 1-.6 1-.9 1-.5 1 .3 1 1.5 1 1.2 1-1.1 1 .2 1 .6 1-1 1 .2 1-.2 1-.2 1-1 1 1.1 1-1.9 1 .5 1 .1 1 .4 1-.4 1 .8 1 .3 1 .1 1 0 1-1.6 1 1.5 1-.3 1-.8 1-.1 1-.6 1 1.2 1-2 1 .2 1 1.7 1 .3 1-.1 1-.2 1-.4 1 .1 1-.1 1 1.2 1-1.5 1 1.3 1-.2 1-.3 1-.5" stroke="#ff7d00" stroke-width="2.6" fill="none" stroke-linejoin="round"/>
<path d="M133 1155.3l1 .4 1-.9 1 .1 1-1.4 1 1.5 1-.4 1-.5 1 1.6 1-2.4 1 1.1 1-1.3 1-.7 1-.5 1 3.6 1-3.1 1 1.9 1-3.8 1 2.5 1 1.6 1 .6 1-.3 1 .9 1-2.7 1-.8 1-.6 1-.2 1 1.2 1-.8 1 3.1 1-1.8 1 1.1 1 0 1 1.7 1-.2 1-2.4 1 2.5 1-1.2 1 1.1 1 1.3 1-2.4 1 1.5 1 .4 1-1.7 1 1 1 0 1 1.7 1-1.5 1 .4 1-2.6 1 .6 1 .1 1 2.2 1-1.8 1 .5 1-1 1-.6 1 .3 1-.6 1 .8 1 .7 1 .6 1-.4 1 0 1-.3 1-.6 1 1.1 1 .8 1-2.5 1-.3 1-1.3 1 .7 1-.7 1 2.7 1-2.3 1 2.2 1-2.9 1 1.6 1-.3 1 .8 1 1.6 1 1.4 1-.4 1-1.4 1-.9 1 .1 1-1.7 1 .7 1 .4 1 .1 1 .8 1-2.8 1 1 1-.6 1-.1 1 1.2 1-.8 1-.7 1 1.5 1-3.9 1 .2 1 3 1-1.5 1 .4 1 1.4 1 .3 1 .8 1 .2 1 .2 1-.8 1 .1 1-1 1 1.5 1 1.1 1-2.4 1 3 1-1.4 1 .1 1 1.8 1-2.2 1-.4 1-.4 1 1.6 1-1.7 1 2 1-.7 1 1.1 1-.5 1-1.4 1-3.3 1 .2 1 1.1 1 1.9 1-.4 1-.1 1-.2 1 .5 1 .2 1-1.8 1-.1 1 3.2 1-1.8 1 .5 1-1.1 1-1.4 1-.9 1 2.3 1-.6 1-1.3 1 2.1 1 .2 1 .5 1-2.7 1 .1 1 .9 1-1.1 1 .6 1-.9 1 .2 1 1.3 1-1.2 1 .1 1-1.8 1 .4 1-.5 1 1.3 1-.2 1-.1 1 1.5 1-.3 1 .3 1-1.1 1 .4 1 1.2 1-.1 1 0 1 .5 1-2.2 1 .9 1-2.1 1 1 1 .6 1 .8 1 .7 1-.3 1-.8 1 .6 1-1.8 1 .7 1 .3 1 .6 1-1.5 1-1.6 1-1.1 1 2.5 1-1.8 1 .6 1-1.3 1-1.2 1 .2 1 .5 1 1.5 1 .8 1-1 1 .8 1-.4 1 .6 1 .8 1-.1 1-1.3 1 .9 1-1.1 1-.5 1 .4 1 .2 1 1.4 1-.7 1-.2 1 4.7 1 .6 1-3.7 1-2.5 1 1 1 .1 1-1.6 1 0 1 .9 1-2.3 1 2.4 1-1.2 1-1 1 .2 1 .9 1-.8 1 1.7 1 1.6 1 2.2 1-2.6 1 .8 1 .7 1 1.3 1-3.7 1 .7 1 .5 1-1.9 1 .7 1-.9 1 1.9 1-.1 1 0 1 1 1-1.4 1 .6 1 .4 1-.9 1-.3 1-1.2 1 .2 1 1.6 1-.3 1 .2 1-.1 1-1.5 1 .1 1-.2 1-.6 1 2.3 1 .3 1 1.2 1-.4 1-1 1-1 1 .5 1-.7 1-.6 1-.1 1 1.1 1-.3 1 .6 1-.3 1-.3 1 1.5 1-2.4 1-.8 1-.4 1 1 1-1.4 1 1.6 1 .5 1 2.1 1-1.8 1-1.7 1 1.6 1-1.9 1-1 1-.3 1 0 1 2.4 1-.5 1 2.1 1-1.2 1-.8 1 1 1 .2 1-1.4 1 .9 1-1.1 1-1.9 1 .3 1 1.3 1-1.4 1 1.7 1-1.9 1 1.9 1 2.3 1-2.8 1-1.6 1 2.3 1-.9 1 1.1 1-.4 1-1.5 1 0 1 .6 1 2.6 1-1 1 1.4 1-2.4 1 1.9 1-3 1-.8 1-.8 1 .5 1-.7 1-1.1 1 .1 1 1.2 1 .9 1 .2 1 .1 1-.8 1-.2 1-1.3 1 2.8 1 .5 1-1.2 1 1.4 1 .7 1 .5 1-.5 1 0 1-.2 1 1.7 1-2.9 1 1.5 1-.5 1-.6 1-1.3 1 1.6 1-1.6 1 .6 1-1.2 1 .1 1 4.7 1-3.2 1 1.2 1-1.4 1-.6 1 .1 1 0 1-.1 1-.4 1 .8 1 1.4 1 .7 1 2 1-1.2 1-2.7 1-.6 1-2.7 1 1.3 1-.7 1 1.1 1 0 1 1.2 1-.5 1-.3 1 1.1 1-3.4 1 .9 1 1.2 1 2.2 1-.1 1-2.1 1-.6 1 1.3 1-2.1 1 .5 1-1.5 1 .3 1-.3 1-1.3 1 .9 1-.4 1-1.1 1 1 1 1.5 1-.3 1-1.1 1 .3 1 3.8 1-1.2 1 1.6 1-1.3 1 .2 1-.5 1-2.4 1 1.1 1-4 1 1.9 1 .4 1 2.1 1 .7 1 .6 1 2 1-2.2 1-1.1 1 0 1 .5 1-2.7 1-.6 1 2.5 1 0 1 .1 1 1.3 1-1.7 1 .3 1 .2 1-1.1 1 1.3 1-.3 1 1.3 1-1.3 1-.7 1 .7 1-.4 1 .8 1 .2 1 .9 1-3.4 1 0 1-.2 1-1.7 1 1.6 1-.8 1 2.5 1 0 1-1.2 1 .6 1 1.1 1-2.5 1-1.5 1-1 1 1.4 1 1.1 1-1.7 1 1.3 1-1 1 2.2 1 .7 1 1.4 1-1.2 1 .3 1-.6 1-3.2 1 1.4 1-2.5 1 2 1 0 1 1.5 1-1.7 1 .5 1 0 1 2.9 1-.9 1-2.8 1-.2 1-1.2 1-.1 1 .5 1 .8 1 .4 1 .6 1 .9 1 .2 1-1 1 1.5 1 .5 1-1.3 1 .1 1 .3 1-2.2 1-2.1 1-.8 1 .7 1 1.7 1 1.1 1-2.2 1 1.3 1-3.4 1 1.1 1-.7 1 3.1 1 .9 1 3.3 1-.8 1-1.8 1 .1 1-1.5 1 .8 1 .7 1-.4 1 1.7 1-3.2 1 3 1 .6 1 .2 1-.1 1 .3 1 .1 1-1.2 1-2.3 1 1.3 1 .8 1-.7 1 0 1 .4 1 2.1 1-1.1 1 .4 1-.4 1-.9 1 .3 1 1 1 .8 1 0 1-.4 1 0 1 .8 1-.2 1-1.8 1 .8 1-.4 1-1.7 1 1.3 1-1.8 1 2.1 1-3 1 2.4 1-.1 1 1.5 1 1.4 1 1.8 1 .1 1 1.9 1-2.1 1-2.7 1 .2 1 .1 1-2.4 1 2.1 1 1.7 1 .4 1 1 1-1.9 1-.7 1 1 1 .2 1 .6 1 2.1 1 .6 1 .1 1-2.8 1 1.1 1 .4 1 .2 1 .5 1-1.3 1 .2 1-1 1 .4 1 2.4 1-2.8 1 1.1 1-1.1 1 1 1 1.2 1-1 1 1 1 0 1 .2 1-1.4 1 1.4 1-.5 1 2 1-1.8 1-.3 1-1.4 1 .2 1-.9 1 2.1 1-1.1 1 2.5 1-.4 1-.7 1-1.7 1 .9 1-1 1-2.5 1 3.9 1-.4 1 2.1 1 .4 1 .4 1-2.5 1 1.2 1 0 1 .5 1-.2 1-1.2 1-2 1-.8 1 .5 1 .9 1 1 1 1.5 1-1.4 1 0 1 .8 1-1.2 1-1.1 1 1.6 1 .1 1 2.2 1-.3 1 .8 1-2 1 1.1 1-.1 1-1.1 1 1.4 1-1.1 1 1 1 .6 1-2.5 1 .8 1 .8 1-.6 1 .6 1-.8 1 1.6 1-.6 1-.8 1-.7 1 1.4 1-1.9 1-.9 1-.6 1 .8 1 2 1 2.7 1-.1 1-.7 1 .6 1-1.3 1 1.1 1 .1 1 1.7 1-.9" stroke="#13f013" stroke-width="2.6" fill="none" stroke-linejoin="round"/>
<text x="2.4" y="716.6" font-size="41.2" text-anchor="start">C.</text>
<text x="23.8" y="839.2" font-size="34.9" text-anchor="start">Micros</text>
<text x="32.3" y="1002.4" font-size="34.2" text-anchor="start">Mesos</text>
<text x="32.3" y="1163.7" font-size="34.2" text-anchor="start">Macro</text>
<line x1="329.2" y1="667.7" x2="329.2" y2="1202.5" stroke="#ff0000" stroke-width="2.5" stroke-dasharray="12.8 12.39" stroke-dashoffset="6.6"/>
<line x1="600" y1="667.7" x2="600" y2="1202.5" stroke="#ff0000" stroke-width="2.5" stroke-dasharray="12.8 12.39" stroke-dashoffset="6.6"/>
<text x="622.8" y="1221.8" font-size="29.9" text-anchor="start" textLength="94" lengthAdjust="spacing">100 µV</text>
<path d="M727.2 1170.6V1251.5H811" stroke="#000" stroke-width="3" fill="none"/>
<text x="731" y="1287" font-size="29.4" text-anchor="start" textLength="77" lengthAdjust="spacing">10 ms</text>
<defs><linearGradient id="jet" x1="0" y1="1" x2="0" y2="0"><stop offset="0" stop-color="#000080"/><stop offset="0.125" stop-color="#0000ff"/><stop offset="0.375" stop-color="#00ffff"/><stop offset="0.625" stop-color="#ffff00"/><stop offset="0.875" stop-color="#ff0000"/><stop offset="1" stop-color="#800000"/></linearGradient></defs>
<path d="M971.1 710.3V838.8H1611.6999999999998" stroke="#e0506a" stroke-width="0.9" fill="none"/>
<path d="M970.9 710.8H1611.1999999999998V838.5" stroke="#000018" stroke-width="1" fill="none" opacity="0.85"/>
<text x="962.6" y="718.1" font-size="18.5" text-anchor="end">600</text>
<text x="962.6" y="739.4" font-size="18.5" text-anchor="end">500</text>
<text x="962.6" y="760.8" font-size="18.5" text-anchor="end">400</text>
<text x="962.6" y="782.1" font-size="18.5" text-anchor="end">300</text>
<text x="962.6" y="803.5" font-size="18.5" text-anchor="end">200</text>
<text x="962.6" y="824.8" font-size="18.5" text-anchor="end">100</text>
<text x="971.3" y="864.9" font-size="18.5" text-anchor="middle">0</text>
<text x="1051.3" y="864.9" font-size="18.5" text-anchor="middle">10</text>
<text x="1131.2" y="864.9" font-size="18.5" text-anchor="middle">20</text>
<text x="1211.2" y="864.9" font-size="18.5" text-anchor="middle">30</text>
<text x="1291.2" y="864.9" font-size="18.5" text-anchor="middle">40</text>
<text x="1371.1" y="864.9" font-size="18.5" text-anchor="middle">50</text>
<text x="1451.1" y="864.9" font-size="18.5" text-anchor="middle">60</text>
<text x="1531.0" y="864.9" font-size="18.5" text-anchor="middle">70</text>
<text x="1611.0" y="864.9" font-size="18.5" text-anchor="middle">80</text>
<text x="1292.1" y="891.2" font-size="21.4" text-anchor="middle">Time (ms)</text>
<text x="925.4" y="773.9" font-size="21.4" text-anchor="middle" transform="rotate(-90 925.4 773.9)">Frequency (Hz)</text>
<rect x="1634.6" y="710.3" width="25.2" height="126.1" fill="url(#jet)" stroke="#2a2a3a" stroke-width="0.7" stroke-opacity="0.7"/>
<text x="1667.7" y="717.2" font-size="18" text-anchor="start">30</text>
<text x="1668.7" y="780.4" font-size="18" text-anchor="start">15</text>
<text x="1668.3" y="843.3" font-size="18" text-anchor="start">0</text>
<text x="1707.3" y="772.3" font-size="17.6" text-anchor="middle" transform="rotate(-90 1707.3 772.3)">Power (dB)</text>
<path d="M968.7 906.4V1035.1H1613.4" stroke="#e0506a" stroke-width="0.9" fill="none"/>
<path d="M968.5 906.9H1612.9V1034.8" stroke="#000018" stroke-width="1" fill="none" opacity="0.85"/>
<text x="961.2" y="913.1" font-size="18.5" text-anchor="end">600</text>
<text x="961.2" y="934.6" font-size="18.5" text-anchor="end">500</text>
<text x="961.2" y="956.0" font-size="18.5" text-anchor="end">400</text>
<text x="961.2" y="977.5" font-size="18.5" text-anchor="end">300</text>
<text x="961.2" y="998.9" font-size="18.5" text-anchor="end">200</text>
<text x="961.2" y="1020.4" font-size="18.5" text-anchor="end">100</text>
<text x="969.0" y="1060.6" font-size="18.5" text-anchor="middle">0</text>
<text x="1049.5" y="1060.6" font-size="18.5" text-anchor="middle">10</text>
<text x="1129.9" y="1060.6" font-size="18.5" text-anchor="middle">20</text>
<text x="1210.4" y="1060.6" font-size="18.5" text-anchor="middle">30</text>
<text x="1290.8" y="1060.6" font-size="18.5" text-anchor="middle">40</text>
<text x="1371.3" y="1060.6" font-size="18.5" text-anchor="middle">50</text>
<text x="1451.8" y="1060.6" font-size="18.5" text-anchor="middle">60</text>
<text x="1532.2" y="1060.6" font-size="18.5" text-anchor="middle">70</text>
<text x="1612.7" y="1060.6" font-size="18.5" text-anchor="middle">80</text>
<text x="1292.1" y="1087.0" font-size="21.4" text-anchor="middle">Time (ms)</text>
<text x="925.4" y="970.2" font-size="21.4" text-anchor="middle" transform="rotate(-90 925.4 970.2)">Frequency (Hz)</text>
<rect x="1634.6" y="906.4" width="25.2" height="127.0" fill="url(#jet)" stroke="#2a2a3a" stroke-width="0.7" stroke-opacity="0.7"/>
<text x="1667.7" y="913.0" font-size="18" text-anchor="start">30</text>
<text x="1668.7" y="977.7" font-size="18" text-anchor="start">15</text>
<text x="1668.3" y="1041.0" font-size="18" text-anchor="start">0</text>
<text x="1707.3" y="969.8" font-size="17.6" text-anchor="middle" transform="rotate(-90 1707.3 969.8)">Power (dB)</text>
<path d="M971.7 1105.7V1235.3H1611.7" stroke="#e0506a" stroke-width="0.9" fill="none"/>
<path d="M971.5 1106.2H1611.2V1235.0" stroke="#000018" stroke-width="1" fill="none" opacity="0.85"/>
<text x="962.8" y="1113.8" font-size="18.5" text-anchor="end">600</text>
<text x="962.8" y="1135.2" font-size="18.5" text-anchor="end">500</text>
<text x="962.8" y="1156.6" font-size="18.5" text-anchor="end">400</text>
<text x="962.8" y="1178.0" font-size="18.5" text-anchor="end">300</text>
<text x="962.8" y="1199.4" font-size="18.5" text-anchor="end">200</text>
<text x="962.8" y="1220.8" font-size="18.5" text-anchor="end">100</text>
<text x="971.5" y="1261.0" font-size="18.5" text-anchor="middle">0</text>
<text x="1051.4" y="1261.0" font-size="18.5" text-anchor="middle">10</text>
<text x="1131.4" y="1261.0" font-size="18.5" text-anchor="middle">20</text>
<text x="1211.3" y="1261.0" font-size="18.5" text-anchor="middle">30</text>
<text x="1291.2" y="1261.0" font-size="18.5" text-anchor="middle">40</text>
<text x="1371.2" y="1261.0" font-size="18.5" text-anchor="middle">50</text>
<text x="1451.1" y="1261.0" font-size="18.5" text-anchor="middle">60</text>
<text x="1531.1" y="1261.0" font-size="18.5" text-anchor="middle">70</text>
<text x="1611.0" y="1261.0" font-size="18.5" text-anchor="middle">80</text>
<text x="1292.1" y="1287.8" font-size="21.4" text-anchor="middle">Time (ms)</text>
<text x="925.4" y="1170.5" font-size="21.4" text-anchor="middle" transform="rotate(-90 925.4 1170.5)">Frequency (Hz)</text>
<rect x="1634.6" y="1106.4" width="25.2" height="128.0" fill="url(#jet)" stroke="#2a2a3a" stroke-width="0.7" stroke-opacity="0.7"/>
<text x="1667.7" y="1113.0" font-size="18" text-anchor="start">30</text>
<text x="1668.7" y="1177.7" font-size="18" text-anchor="start">15</text>
<text x="1668.3" y="1241.0" font-size="18" text-anchor="start">0</text>
<text x="1707.3" y="1169.5" font-size="17.6" text-anchor="middle" transform="rotate(-90 1707.3 1169.5)">Power (dB)</text>
<text x="866.8" y="716.4" font-size="39.5" text-anchor="start" textLength="41.8" lengthAdjust="spacing">D.</text>
<line x1="1158.3" y1="682.4" x2="1158.3" y2="1252" stroke="#ff0000" stroke-width="4" stroke-dasharray="11.2 4.32"/>
<line x1="1436.8" y1="682.4" x2="1436.8" y2="1252" stroke="#ff0000" stroke-width="4" stroke-dasharray="11.2 4.32"/>
</svg>
<script>
(function(){
function jet(v){
  if(v<0)v=0; if(v>1)v=1;
  var r=Math.min(4*v-1.5,-4*v+4.5), g=Math.min(4*v-0.5,-4*v+3.5), b=Math.min(4*v+0.5,-4*v+2.5);
  r=r<0?0:(r>1?1:r); g=g<0?0:(g>1?1:g); b=b<0?0:(b>1?1:b);
  return [r*255,g*255,b*255];
}
// blobs: [t(ms), f(Hz), st(ms), sf(Hz), amp]
var S=[
 {base:0.02, blobs:[
  [40,29,1e4,6,0.27],[40,62,1e4,13,0.1],[40,5,1e4,6,0.1],
  [10.5,560,1.5,80,0.15],[9,460,1.5,60,0.07],[16,570,1.6,60,0.13],[1,280,2,80,0.05],
  [26,165,4.5,28,0.22],[30,150,4,25,0.08],[22,180,3,22,0.08],
  [29,430,3.2,150,0.3],[31,270,3,25,0.15],[28,326,1.6,20,0.5],[40,230,9,40,0.12],
  [27,560,1.0,50,1.5],[30.5,540,1.3,60,2.0],[33,560,1.0,50,1.5],[31.5,450,1.3,60,2.0],[31.5,385,1.3,38,1.5],[33.5,430,1.0,50,1.3],
  [35.8,470,0.8,40,1.2],[37.3,520,0.8,35,1.3],[38.8,570,0.9,35,1.4],[40,600,0.7,25,1.0],
  [30,605,0.8,22,-1.1],[35.7,600,0.62,40,-1.55],[27.3,412,0.9,28,-0.8],
  [40,340,5,90,0.2],[43.1,371,1.8,55,0.2],[25,500,0.8,120,0.3],[45,520,4,80,0.08],[40.3,461,0.9,25,-0.15],[47.3,355,0.9,22,-0.15],[35.3,347,1.0,20,-0.15],
  [37,310,2.5,25,-0.1],
  [51.7,560,1.35,120,1.7],[51.8,360,1.1,45,0.6],[51.8,285,1.8,30,0.45],
  [52.5,245,3,25,0.3],[56,225,1.8,15,0.15],
  [64,540,3,70,0.1],[67.5,460,3.2,70,0.1],[71,390,2.8,60,0.11],[74,340,2.2,40,0.16],[68,600,3,40,0.07],[71,555,1.8,50,0.08]
 ]},
 {base:0.022, blobs:[
  [31.8,470,1.4,70,0.34],[32.5,570,1.6,50,0.22],[30.3,585,1.0,35,0.1],[34.5,590,1.2,30,0.1],[31.5,415,1.4,40,0.08],
  [28,570,1.5,40,0.18],[39.3,590,1.2,35,0.22],
  [51.8,500,1.0,110,0.17],[28,435,1,25,-0.03],[40,420,9,130,0.05],
  [40,40,1e4,8,0.05],[44,520,4,60,0.04],[70,480,6,80,0.03],[30,250,6,60,0.03]
 ]},
 {base:0.0, blobs:[]}
];
for(var k=0;k<3;k++){
  var c=document.getElementById('s'+k); if(!c) continue;
  var ctx=c.getContext('2d'), w=c.width, h=c.height;
  var img=ctx.createImageData(w,h), d=img.data, sp=S[k];
  for(var y=0;y<h;y++){
    var f=600*(1-(y+0.5)/h);
    for(var x=0;x<w;x++){
      var t=80*(x+0.5)/w, v=sp.base;
      for(var i=0;i<sp.blobs.length;i++){
        var b=sp.blobs[i], dt=(t-b[0])/b[2], df=(f-b[1])/b[3];
        var e=0.5*(dt*dt+df*df); if(e<12) v+=b[4]*Math.exp(-e);
      }
      var col=jet(v), p=(y*w+x)*4;
      d[p]=col[0]; d[p+1]=col[1]; d[p+2]=col[2]; d[p+3]=255;
    }
  }
  ctx.putImageData(img,0,0);
}
})();

</script>
</body></html>
